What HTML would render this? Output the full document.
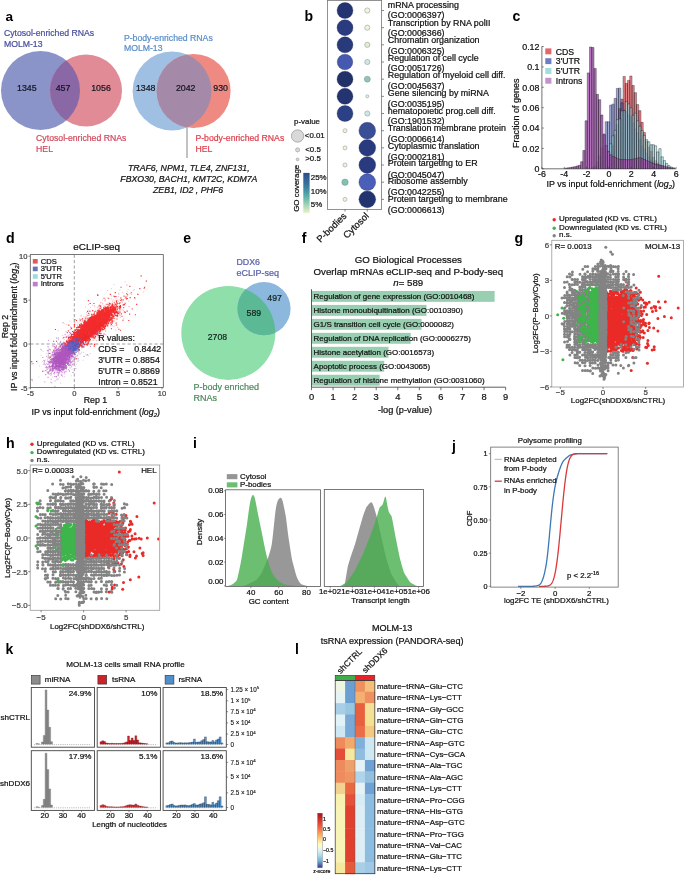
<!DOCTYPE html>
<html><head><meta charset="utf-8"><title>Figure</title>
<style>
html,body{margin:0;padding:0;background:#fff;}
body{width:685px;height:875px;overflow:hidden;}
svg{display:block;}
text{font-family:"Liberation Sans", sans-serif;}
</style></head><body>
<svg width="685" height="875" viewBox="0 0 685 875">
<rect width="685" height="875" fill="#fff"/>
<text x="5.5" y="21.0" font-size="13.6" fill="#000" font-weight="bold">a</text>
<clipPath id="cA1"><circle cx="40.5" cy="90.5" r="39.5"/></clipPath>
<circle cx="40.50" cy="90.50" r="39.50" fill="#8b94c9" />
<circle cx="86.00" cy="90.50" r="36.00" fill="#e08b96" />
<circle cx="86" cy="90.5" r="36" fill="#8a68a6" clip-path="url(#cA1)"/>
<text x="3.9" y="36.1" font-size="8.7" fill="#4a509e" stroke="#4a509e" stroke-width="0.22">Cytosol-enriched RNAs</text>
<text x="3.9" y="46.6" font-size="8.7" fill="#4a509e" stroke="#4a509e" stroke-width="0.22">MOLM-13</text>
<text x="26.8" y="90.8" font-size="8.8" text-anchor="middle" fill="#151520" stroke="#151520" stroke-width="0.22">1345</text>
<text x="63.0" y="90.8" font-size="8.8" text-anchor="middle" fill="#151520" stroke="#151520" stroke-width="0.22">457</text>
<text x="101.0" y="90.8" font-size="8.8" text-anchor="middle" fill="#151520" stroke="#151520" stroke-width="0.22">1056</text>
<text x="36.1" y="141.2" font-size="8.7" fill="#d24b5e" stroke="#d24b5e" stroke-width="0.22">Cytosol-enriched RNAs</text>
<text x="36.1" y="152.2" font-size="8.7" fill="#d24b5e" stroke="#d24b5e" stroke-width="0.22">HEL</text>
<clipPath id="cA2"><circle cx="172" cy="91" r="39.4"/></clipPath>
<circle cx="172.00" cy="91.00" r="39.40" fill="#9fc0e3" />
<circle cx="193.60" cy="91.00" r="37.00" fill="#ee8a82" />
<circle cx="193.6" cy="91" r="37" fill="#a48aa8" clip-path="url(#cA2)"/>
<text x="123.9" y="41.2" font-size="8.7" fill="#5a8fca" stroke="#5a8fca" stroke-width="0.22">P-body-enriched RNAs</text>
<text x="123.9" y="51.2" font-size="8.7" fill="#5a8fca" stroke="#5a8fca" stroke-width="0.22">MOLM-13</text>
<text x="145.7" y="91.3" font-size="8.8" text-anchor="middle" fill="#151520" stroke="#151520" stroke-width="0.22">1348</text>
<text x="185.7" y="91.3" font-size="8.8" text-anchor="middle" fill="#151520" stroke="#151520" stroke-width="0.22">2042</text>
<text x="220.6" y="91.3" font-size="8.8" text-anchor="middle" fill="#151520" stroke="#151520" stroke-width="0.22">930</text>
<text x="195.4" y="140.6" font-size="8.7" fill="#e0424f" stroke="#e0424f" stroke-width="0.22">P-body-enriched RNAs</text>
<text x="195.4" y="151.8" font-size="8.7" fill="#e0424f" stroke="#e0424f" stroke-width="0.22">HEL</text>
<line x1="187.00" y1="127.50" x2="187.00" y2="158.00" stroke="#444" stroke-width="0.65" />
<text x="188.8" y="171.3" font-size="8.75" text-anchor="middle" fill="#111" stroke="#111" stroke-width="0.22" font-style="italic">TRAF6, NPM1, TLE4, ZNF131,</text>
<text x="188.9" y="181.8" font-size="8.75" text-anchor="middle" fill="#111" stroke="#111" stroke-width="0.22" font-style="italic">FBXO30, BACH1, KMT2C, KDM7A</text>
<text x="188.0" y="192.6" font-size="8.75" text-anchor="middle" fill="#111" stroke="#111" stroke-width="0.22" font-style="italic">ZEB1, ID2 , PHF6</text>
<text x="304.5" y="21.0" font-size="14" fill="#000" font-weight="bold">b</text>
<rect x="327.50" y="0.50" width="54.10" height="208.90" fill="none" stroke="#777" stroke-width="0.8" />
<line x1="381.60" y1="10.50" x2="384.00" y2="10.50" stroke="#555" stroke-width="0.7" />
<circle cx="345.00" cy="10.50" r="8.00" fill="#243471" stroke="#1c2550" stroke-width="0.3" />
<circle cx="367.30" cy="10.50" r="2.60" fill="#eff5df" stroke="#8a8a8a" stroke-width="0.5" />
<text x="387.8" y="7.9" font-size="8.9" fill="#111" stroke="#111" stroke-width="0.22">mRNA processing</text>
<text x="387.8" y="18.0" font-size="8.9" fill="#111" stroke="#111" stroke-width="0.22">(GO:0006397)</text>
<line x1="381.60" y1="27.67" x2="384.00" y2="27.67" stroke="#555" stroke-width="0.7" />
<circle cx="345.00" cy="27.67" r="8.00" fill="#2a3c7f" stroke="#1c2550" stroke-width="0.3" />
<circle cx="367.30" cy="27.67" r="2.60" fill="#edf4dc" stroke="#8a8a8a" stroke-width="0.5" />
<text x="387.8" y="25.5" font-size="8.9" fill="#111" stroke="#111" stroke-width="0.22">Transcription by RNA polII</text>
<text x="387.8" y="35.7" font-size="8.9" fill="#111" stroke="#111" stroke-width="0.22">(GO:0006366)</text>
<line x1="381.60" y1="44.84" x2="384.00" y2="44.84" stroke="#555" stroke-width="0.7" />
<circle cx="345.00" cy="44.84" r="8.00" fill="#283a7a" stroke="#1c2550" stroke-width="0.3" />
<circle cx="367.30" cy="44.84" r="2.60" fill="#ddefd2" stroke="#8a8a8a" stroke-width="0.5" />
<text x="387.8" y="43.1" font-size="8.9" fill="#111" stroke="#111" stroke-width="0.22">Chromatin organization</text>
<text x="387.8" y="53.5" font-size="8.9" fill="#111" stroke="#111" stroke-width="0.22">(GO:0006325)</text>
<line x1="381.60" y1="62.01" x2="384.00" y2="62.01" stroke="#555" stroke-width="0.7" />
<circle cx="345.00" cy="62.01" r="7.80" fill="#4659b0" stroke="#1c2550" stroke-width="0.3" />
<circle cx="367.30" cy="62.01" r="2.60" fill="#cde9e2" stroke="#8a8a8a" stroke-width="0.5" />
<text x="387.8" y="60.7" font-size="8.9" fill="#111" stroke="#111" stroke-width="0.22">Regulation of cell cycle</text>
<text x="387.8" y="71.2" font-size="8.9" fill="#111" stroke="#111" stroke-width="0.22">(GO:0051726)</text>
<line x1="381.60" y1="79.18" x2="384.00" y2="79.18" stroke="#555" stroke-width="0.7" />
<circle cx="345.00" cy="79.18" r="8.00" fill="#223168" stroke="#1c2550" stroke-width="0.3" />
<circle cx="367.30" cy="79.18" r="3.00" fill="#8ac7b8" stroke="#8a8a8a" stroke-width="0.5" />
<text x="387.8" y="78.3" font-size="8.9" fill="#111" stroke="#111" stroke-width="0.22">Regulation of myeloid cell diff.</text>
<text x="387.8" y="88.9" font-size="8.9" fill="#111" stroke="#111" stroke-width="0.22">(GO:0045637)</text>
<line x1="381.60" y1="96.35" x2="384.00" y2="96.35" stroke="#555" stroke-width="0.7" />
<circle cx="345.00" cy="96.35" r="8.00" fill="#243470" stroke="#1c2550" stroke-width="0.3" />
<circle cx="367.30" cy="96.35" r="1.50" fill="#e5f0d8" stroke="#8a8a8a" stroke-width="0.5" />
<text x="387.8" y="95.9" font-size="8.9" fill="#111" stroke="#111" stroke-width="0.22">Gene silencing by miRNA</text>
<text x="387.8" y="106.7" font-size="8.9" fill="#111" stroke="#111" stroke-width="0.22">(GO:0035195)</text>
<line x1="381.60" y1="113.52" x2="384.00" y2="113.52" stroke="#555" stroke-width="0.7" />
<circle cx="345.00" cy="113.52" r="8.00" fill="#2c4085" stroke="#1c2550" stroke-width="0.3" />
<circle cx="367.30" cy="113.52" r="2.60" fill="#c9e8e2" stroke="#8a8a8a" stroke-width="0.5" />
<text x="387.8" y="113.5" font-size="8.9" fill="#111" stroke="#111" stroke-width="0.22">hematopoietic prog.cell diff.</text>
<text x="387.8" y="124.4" font-size="8.9" fill="#111" stroke="#111" stroke-width="0.22">(GO:1901532)</text>
<line x1="381.60" y1="130.69" x2="384.00" y2="130.69" stroke="#555" stroke-width="0.7" />
<circle cx="345.00" cy="130.69" r="2.00" fill="#eef5dc" stroke="#8a8a8a" stroke-width="0.5" />
<circle cx="367.30" cy="130.69" r="8.40" fill="#3a4e96" stroke="#1c2550" stroke-width="0.3" />
<text x="387.8" y="131.1" font-size="8.9" fill="#111" stroke="#111" stroke-width="0.22">Translation membrane protein</text>
<text x="387.8" y="142.1" font-size="8.9" fill="#111" stroke="#111" stroke-width="0.22">(GO:0006614)</text>
<line x1="381.60" y1="147.86" x2="384.00" y2="147.86" stroke="#555" stroke-width="0.7" />
<circle cx="345.00" cy="147.86" r="2.00" fill="#eef5dc" stroke="#8a8a8a" stroke-width="0.5" />
<circle cx="367.30" cy="147.86" r="8.40" fill="#293b7e" stroke="#1c2550" stroke-width="0.3" />
<text x="387.8" y="148.7" font-size="8.9" fill="#111" stroke="#111" stroke-width="0.22">Cytoplasmic translation</text>
<text x="387.8" y="159.8" font-size="8.9" fill="#111" stroke="#111" stroke-width="0.22">(GO:0002181)</text>
<line x1="381.60" y1="165.03" x2="384.00" y2="165.03" stroke="#555" stroke-width="0.7" />
<circle cx="345.00" cy="165.03" r="2.00" fill="#eef5dc" stroke="#8a8a8a" stroke-width="0.5" />
<circle cx="367.30" cy="165.03" r="8.40" fill="#293b7e" stroke="#1c2550" stroke-width="0.3" />
<text x="387.8" y="166.3" font-size="8.9" fill="#111" stroke="#111" stroke-width="0.22">Protein targeting to ER</text>
<text x="387.8" y="177.6" font-size="8.9" fill="#111" stroke="#111" stroke-width="0.22">(GO:0045047)</text>
<line x1="381.60" y1="182.20" x2="384.00" y2="182.20" stroke="#555" stroke-width="0.7" />
<circle cx="345.00" cy="182.20" r="3.20" fill="#7cc3b2" stroke="#8a8a8a" stroke-width="0.5" />
<circle cx="367.30" cy="182.20" r="8.40" fill="#4a5fb8" stroke="#1c2550" stroke-width="0.3" />
<text x="387.8" y="183.9" font-size="8.9" fill="#111" stroke="#111" stroke-width="0.22">Ribosome assembly</text>
<text x="387.8" y="195.3" font-size="8.9" fill="#111" stroke="#111" stroke-width="0.22">(GO:0042255)</text>
<line x1="381.60" y1="199.37" x2="384.00" y2="199.37" stroke="#555" stroke-width="0.7" />
<circle cx="345.00" cy="199.37" r="2.00" fill="#eef5dc" stroke="#8a8a8a" stroke-width="0.5" />
<circle cx="367.30" cy="199.37" r="8.40" fill="#233370" stroke="#1c2550" stroke-width="0.3" />
<text x="387.8" y="201.5" font-size="8.9" fill="#111" stroke="#111" stroke-width="0.22">Protein targeting to membrane</text>
<text x="387.8" y="213.0" font-size="8.9" fill="#111" stroke="#111" stroke-width="0.22">(GO:0006613)</text>
<line x1="345.00" y1="209.40" x2="345.00" y2="211.60" stroke="#555" stroke-width="0.7" />
<line x1="367.30" y1="209.40" x2="367.30" y2="211.60" stroke="#555" stroke-width="0.7" />
<text x="0.0" y="0.0" font-size="9.5" text-anchor="end" fill="#111" stroke="#111" stroke-width="0.22" transform="translate(347,216.6) rotate(-45)">P-bodies</text>
<text x="0.0" y="0.0" font-size="9.5" text-anchor="end" fill="#111" stroke="#111" stroke-width="0.22" transform="translate(369.4,216.6) rotate(-45)">Cytosol</text>
<text x="294.1" y="123.6" font-size="7.9" fill="#111" stroke="#111" stroke-width="0.22">p-value</text>
<circle cx="297.60" cy="136.00" r="6.20" fill="#d9d9d9" stroke="#8a8a8a" stroke-width="0.6" />
<circle cx="297.60" cy="149.90" r="2.10" fill="#d9d9d9" stroke="#8a8a8a" stroke-width="0.5" />
<circle cx="297.60" cy="159.40" r="1.40" fill="#d9d9d9" stroke="#8a8a8a" stroke-width="0.5" />
<text x="304.8" y="137.9" font-size="7.9" fill="#111" stroke="#111" stroke-width="0.22">&lt;0.01</text>
<text x="305.2" y="151.9" font-size="7.9" fill="#111" stroke="#111" stroke-width="0.22">&lt;0.5</text>
<text x="305.2" y="161.3" font-size="7.9" fill="#111" stroke="#111" stroke-width="0.22">&gt;0.5</text>
<linearGradient id="gB" x1="0" y1="0" x2="0" y2="1"><stop offset="0" stop-color="#2c4a8c"/><stop offset="0.35" stop-color="#3a7ea0"/><stop offset="0.6" stop-color="#5db5aa"/><stop offset="1" stop-color="#eaf3c6"/></linearGradient>
<rect x="303.30" y="172.90" width="6.30" height="40.20" fill="url(#gB)" />
<text x="310.8" y="180.4" font-size="7.9" fill="#111" stroke="#111" stroke-width="0.22">25%</text>
<text x="310.8" y="193.6" font-size="7.9" fill="#111" stroke="#111" stroke-width="0.22">10%</text>
<text x="310.8" y="206.9" font-size="7.9" fill="#111" stroke="#111" stroke-width="0.22">5%</text>
<text x="0.0" y="0.0" font-size="7.9" text-anchor="middle" fill="#111" stroke="#111" stroke-width="0.22" transform="translate(298.5,188.3) rotate(-90)">GO coverage</text>
<text x="512.5" y="20.7" font-size="14" fill="#000" font-weight="bold">c</text>
<path d="M602.94 168.80V167.04H605.18V168.8M605.18 168.80V165.51H607.41V168.8M607.41 168.80V160.10H609.65V168.8M609.65 168.80V154.96H611.89V168.8M611.89 168.80V145.79H614.12V168.8M614.12 168.80V134.45H616.36V168.8M616.36 168.80V124.46H618.59V168.8M618.59 168.80V108.63H620.83V168.8M620.83 168.80V99.18H623.07V168.8M623.07 168.80V76.44H625.30V168.8M625.30 168.80V83.46H627.54V168.8M627.54 168.80V80.39H629.77V168.8M629.77 168.80V76.11H632.01V168.8M632.01 168.80V85.49H634.25V168.8M634.25 168.80V92.67H636.48V168.8M636.48 168.80V104.60H638.72V168.8M638.72 168.80V110.64H640.95V168.8M640.95 168.80V122.37H643.19V168.8M643.19 168.80V132.47H645.43V168.8M645.43 168.80V141.30H647.66V168.8M647.66 168.80V147.18H649.90V168.8M649.90 168.80V151.49H652.13V168.8M652.13 168.80V157.35H654.37V168.8M654.37 168.80V160.73H656.61V168.8M656.61 168.80V163.05H658.84V168.8M658.84 168.80V165.01H661.08V168.8M661.08 168.80V166.12H663.31V168.8M663.31 168.80V167.55H665.55V168.8M665.55 168.80V168.19H667.79V168.8" fill="#dd2a2e" fill-opacity="0.58" stroke="#1a1420" stroke-width="0.45" stroke-opacity="0.85"/>
<path d="M591.76 168.80V167.53H594.00V168.8M594.00 168.80V166.15H596.23V168.8M596.23 168.80V162.02H598.47V168.8M598.47 168.80V155.82H600.71V168.8M600.71 168.80V147.95H602.94V168.8M602.94 168.80V135.05H605.18V168.8M605.18 168.80V121.72H607.41V168.8M607.41 168.80V121.81H609.65V168.8M609.65 168.80V105.16H611.89V168.8M611.89 168.80V104.13H614.12V168.8M614.12 168.80V98.43H616.36V168.8M616.36 168.80V88.44H618.59V168.8M618.59 168.80V88.14H620.83V168.8M620.83 168.80V102.74H623.07V168.8M623.07 168.80V110.29H625.30V168.8M625.30 168.80V111.68H627.54V168.8M627.54 168.80V114.91H629.77V168.8M629.77 168.80V117.14H632.01V168.8M632.01 168.80V123.39H634.25V168.8M634.25 168.80V129.16H636.48V168.8M636.48 168.80V132.68H638.72V168.8M638.72 168.80V139.90H640.95V168.8M640.95 168.80V146.13H643.19V168.8M643.19 168.80V149.20H645.43V168.8M645.43 168.80V153.37H647.66V168.8M647.66 168.80V157.08H649.90V168.8M649.90 168.80V160.31H652.13V168.8M652.13 168.80V161.81H654.37V168.8M654.37 168.80V163.94H656.61V168.8M656.61 168.80V164.40H658.84V168.8M658.84 168.80V165.48H661.08V168.8M661.08 168.80V166.71H663.31V168.8M663.31 168.80V167.57H665.55V168.8M665.55 168.80V168.13H667.79V168.8" fill="#3a50b0" fill-opacity="0.48" stroke="#1a1420" stroke-width="0.45" stroke-opacity="0.85"/>
<path d="M596.23 168.80V167.68H598.47V168.8M598.47 168.80V166.55H600.71V168.8M600.71 168.80V165.13H602.94V168.8M602.94 168.80V161.81H605.18V168.8M605.18 168.80V158.14H607.41V168.8M607.41 168.80V152.04H609.65V168.8M609.65 168.80V143.77H611.89V168.8M611.89 168.80V135.76H614.12V168.8M614.12 168.80V130.36H616.36V168.8M616.36 168.80V119.67H618.59V168.8M618.59 168.80V118.92H620.83V168.8M620.83 168.80V110.86H623.07V168.8M623.07 168.80V110.55H625.30V168.8M625.30 168.80V101.64H627.54V168.8M627.54 168.80V103.91H629.77V168.8M629.77 168.80V107.77H632.01V168.8M632.01 168.80V115.28H634.25V168.8M634.25 168.80V113.26H636.48V168.8M636.48 168.80V120.79H638.72V168.8M638.72 168.80V126.18H640.95V168.8M640.95 168.80V130.52H643.19V168.8M643.19 168.80V135.39H645.43V168.8M645.43 168.80V139.61H647.66V168.8M647.66 168.80V141.77H649.90V168.8M649.90 168.80V144.80H652.13V168.8M652.13 168.80V144.66H654.37V168.8M654.37 168.80V145.77H656.61V168.8M656.61 168.80V151.89H658.84V168.8M658.84 168.80V148.68H661.08V168.8M661.08 168.80V156.80H663.31V168.8M663.31 168.80V160.60H665.55V168.8M665.55 168.80V163.57H667.79V168.8M667.79 168.80V165.58H670.02V168.8M670.02 168.80V167.01H672.26V168.8M672.26 168.80V167.77H674.49V168.8" fill="#9ce2e2" fill-opacity="0.62" stroke="#1a1420" stroke-width="0.45" stroke-opacity="0.85"/>
<path d="M564.93 168.80V168.14H567.17V168.8M567.17 168.80V167.84H569.40V168.8M569.40 168.80V167.46H571.64V168.8M571.64 168.80V167.04H573.87V168.8M573.87 168.80V166.64H576.11V168.8M576.11 168.80V165.96H578.35V168.8M578.35 168.80V165.25H580.58V168.8M580.58 168.80V161.66H582.82V168.8M582.82 168.80V150.47H585.05V168.8M585.05 168.80V120.75H587.29V168.8M587.29 168.80V72.88H589.53V168.8M589.53 168.80V47.03H591.76V168.8M591.76 168.80V47.48H594.00V168.8M594.00 168.80V68.45H596.23V168.8M596.23 168.80V94.32H598.47V168.8M598.47 168.80V99.65H600.71V168.8M600.71 168.80V114.99H602.94V168.8M602.94 168.80V134.04H605.18V168.8M605.18 168.80V145.68H607.41V168.8M607.41 168.80V151.35H609.65V168.8M609.65 168.80V154.78H611.89V168.8M611.89 168.80V156.47H614.12V168.8M614.12 168.80V157.45H616.36V168.8M616.36 168.80V158.46H618.59V168.8M618.59 168.80V159.42H620.83V168.8M620.83 168.80V159.59H623.07V168.8M623.07 168.80V159.52H625.30V168.8M625.30 168.80V159.64H627.54V168.8M627.54 168.80V159.59H629.77V168.8M629.77 168.80V159.62H632.01V168.8M632.01 168.80V159.12H634.25V168.8M634.25 168.80V158.67H636.48V168.8M636.48 168.80V158.12H638.72V168.8M638.72 168.80V157.76H640.95V168.8M640.95 168.80V158.42H643.19V168.8M643.19 168.80V159.47H645.43V168.8M645.43 168.80V160.37H647.66V168.8M647.66 168.80V161.43H649.90V168.8M649.90 168.80V162.49H652.13V168.8M652.13 168.80V163.52H654.37V168.8M654.37 168.80V164.10H656.61V168.8M656.61 168.80V164.64H658.84V168.8M658.84 168.80V165.15H661.08V168.8M661.08 168.80V165.63H663.31V168.8M663.31 168.80V166.17H665.55V168.8M665.55 168.80V166.79H667.79V168.8M667.79 168.80V167.38H670.02V168.8M670.02 168.80V167.91H672.26V168.8M672.26 168.80V168.31H674.49V168.8" fill="#a85cb2" fill-opacity="0.85" stroke="#1a1420" stroke-width="0.45" stroke-opacity="0.85"/>
<line x1="541.90" y1="46.40" x2="541.90" y2="168.80" stroke="#333" stroke-width="0.7" />
<line x1="541.90" y1="168.80" x2="676.20" y2="168.80" stroke="#333" stroke-width="0.7" />
<line x1="541.90" y1="168.80" x2="543.80" y2="168.80" stroke="#333" stroke-width="0.6" />
<text x="539.5" y="172.0" font-size="8.9" text-anchor="end" fill="#111" stroke="#111" stroke-width="0.22">0</text>
<line x1="541.90" y1="148.42" x2="543.80" y2="148.42" stroke="#333" stroke-width="0.6" />
<text x="539.5" y="151.6" font-size="8.9" text-anchor="end" fill="#111" stroke="#111" stroke-width="0.22">0.02</text>
<line x1="541.90" y1="128.04" x2="543.80" y2="128.04" stroke="#333" stroke-width="0.6" />
<text x="539.5" y="131.2" font-size="8.9" text-anchor="end" fill="#111" stroke="#111" stroke-width="0.22">0.04</text>
<line x1="541.90" y1="107.66" x2="543.80" y2="107.66" stroke="#333" stroke-width="0.6" />
<text x="539.5" y="110.9" font-size="8.9" text-anchor="end" fill="#111" stroke="#111" stroke-width="0.22">0.06</text>
<line x1="541.90" y1="87.28" x2="543.80" y2="87.28" stroke="#333" stroke-width="0.6" />
<text x="539.5" y="90.5" font-size="8.9" text-anchor="end" fill="#111" stroke="#111" stroke-width="0.22">0.08</text>
<line x1="541.90" y1="66.90" x2="543.80" y2="66.90" stroke="#333" stroke-width="0.6" />
<text x="539.5" y="70.1" font-size="8.9" text-anchor="end" fill="#111" stroke="#111" stroke-width="0.22">0.1</text>
<line x1="541.90" y1="46.52" x2="543.80" y2="46.52" stroke="#333" stroke-width="0.6" />
<text x="539.5" y="49.7" font-size="8.9" text-anchor="end" fill="#111" stroke="#111" stroke-width="0.22">0.12</text>
<line x1="541.90" y1="168.80" x2="541.90" y2="166.90" stroke="#333" stroke-width="0.6" />
<text x="541.9" y="177.0" font-size="8.9" text-anchor="middle" fill="#111" stroke="#111" stroke-width="0.22">-6</text>
<line x1="564.26" y1="168.80" x2="564.26" y2="166.90" stroke="#333" stroke-width="0.6" />
<text x="564.3" y="177.0" font-size="8.9" text-anchor="middle" fill="#111" stroke="#111" stroke-width="0.22">-4</text>
<line x1="586.62" y1="168.80" x2="586.62" y2="166.90" stroke="#333" stroke-width="0.6" />
<text x="586.6" y="177.0" font-size="8.9" text-anchor="middle" fill="#111" stroke="#111" stroke-width="0.22">-2</text>
<line x1="608.98" y1="168.80" x2="608.98" y2="166.90" stroke="#333" stroke-width="0.6" />
<text x="609.0" y="177.0" font-size="8.9" text-anchor="middle" fill="#111" stroke="#111" stroke-width="0.22">0</text>
<line x1="631.34" y1="168.80" x2="631.34" y2="166.90" stroke="#333" stroke-width="0.6" />
<text x="631.3" y="177.0" font-size="8.9" text-anchor="middle" fill="#111" stroke="#111" stroke-width="0.22">2</text>
<line x1="653.70" y1="168.80" x2="653.70" y2="166.90" stroke="#333" stroke-width="0.6" />
<text x="653.7" y="177.0" font-size="8.9" text-anchor="middle" fill="#111" stroke="#111" stroke-width="0.22">4</text>
<line x1="676.06" y1="168.80" x2="676.06" y2="166.90" stroke="#333" stroke-width="0.6" />
<text x="676.1" y="177.0" font-size="8.9" text-anchor="middle" fill="#111" stroke="#111" stroke-width="0.22">6</text>
<text x="610.8" y="186.5" font-size="8.9" text-anchor="middle" fill="#111" stroke="#111" stroke-width="0.22">IP vs input fold-enrichment (<tspan font-style="italic">log</tspan><tspan font-size="6" dy="2" font-style="italic">2</tspan><tspan dy="-2">)</tspan></text>
<text x="0.0" y="0.0" font-size="9" text-anchor="middle" fill="#111" stroke="#111" stroke-width="0.22" transform="translate(518.8,113.2) rotate(-90)">Fraction of genes</text>
<rect x="545.30" y="48.40" width="6.10" height="5.90" fill="#e2666b" />
<text x="555.8" y="54.7" font-size="8.7" fill="#111" stroke="#111" stroke-width="0.22">CDS</text>
<rect x="545.30" y="58.20" width="6.10" height="5.90" fill="#6b7ec4" />
<text x="555.8" y="64.4" font-size="8.7" fill="#111" stroke="#111" stroke-width="0.22">3'UTR</text>
<rect x="545.30" y="68.00" width="6.10" height="5.90" fill="#9fdfdb" />
<text x="555.8" y="74.0" font-size="8.7" fill="#111" stroke="#111" stroke-width="0.22">5'UTR</text>
<rect x="545.30" y="77.80" width="6.10" height="5.90" fill="#c590ce" />
<text x="555.8" y="83.7" font-size="8.7" fill="#111" stroke="#111" stroke-width="0.22">Introns</text>
<text x="6.0" y="243.2" font-size="14.2" fill="#000" font-weight="bold">d</text>
<text x="96.7" y="250.3" font-size="9.9" text-anchor="middle" fill="#111" stroke="#111" stroke-width="0.22">eCLIP-seq</text>
<clipPath id="cD"><rect x="30.3" y="254.6" width="133" height="132.8"/></clipPath>
<line x1="74.30" y1="254.60" x2="74.30" y2="387.40" stroke="#888" stroke-width="0.8" stroke-dasharray="3.2,2.2"/>
<line x1="30.30" y1="344.00" x2="163.30" y2="344.00" stroke="#888" stroke-width="0.8" stroke-dasharray="3.2,2.2"/>
<g clip-path="url(#cD)">
<path fill="none" stroke="#5a6cc8" stroke-width="0.9" stroke-opacity="0.65" d="M82.3 333.8h0.9M87.2 333.6h0.9M82.6 339.9h0.9M77.4 346.3h0.9M81.9 342.8h0.9M72.1 342h0.9M84.9 335.7h0.9M98.6 325.9h0.9M81 342.4h0.9M81.2 345.3h0.9M90.3 333.4h0.9M87.1 332.3h0.9M87.1 337.4h0.9M76.3 345.8h0.9M85.4 338.2h0.9M92 331.3h0.9M74.8 352.5h0.9M81.1 341.8h0.9M67.8 355.5h0.9M70.5 346.2h0.9M68.2 354.8h0.9M81.7 338h0.9M69.5 344.6h0.9M88.6 335.9h0.9M88 337.5h0.9M83 338.5h0.9M59.9 358.7h0.9M81.8 344.3h0.9M83.9 336.7h0.9M82.4 331.7h0.9M70.3 351h0.9M80.8 341.9h0.9M77.5 348.2h0.9M76.5 343.5h0.9M98.4 331.4h0.9M79.3 346.9h0.9M82.4 334.7h0.9M95.9 332.1h0.9M77.2 339.8h0.9M81.1 334.8h0.9M85.9 335.9h0.9M84.8 335.6h0.9M69.1 343.2h0.9M86.4 337.2h0.9M100.1 327.3h0.9M72.3 353.7h0.9M93.8 330h0.9M83.5 332.9h0.9M76.9 340.6h0.9M107.3 322.7h0.9M94.6 333h0.9M74.2 348.8h0.9M85.4 336.1h0.9M91.5 333h0.9M82.9 338.5h0.9M91.5 330.9h0.9M85.2 338.7h0.9M92.1 331.9h0.9M99.3 324.8h0.9M78.6 343.3h0.9M86.3 334.5h0.9M76.9 336.9h0.9M85.4 334.9h0.9M73.2 347.3h0.9M82.7 346.3h0.9M82.5 338.2h0.9M98.1 334.4h0.9M99.6 331h0.9M70.2 346.6h0.9M75.8 342.5h0.9M92.1 332.3h0.9M68.5 358.3h0.9M81.3 342.2h0.9M85.6 339.8h0.9M96.7 325.3h0.9M87.7 326.3h0.9M81.5 339.7h0.9M83.1 342.4h0.9M85 342.3h0.9M100.7 324.6h0.9M81.3 341.5h0.9M84.5 342.7h0.9M88.6 334.2h0.9M86.3 341.1h0.9M81.1 336.5h0.9M71.9 344.3h0.9M83 335h0.9M81.7 342.3h0.9M96 326.3h0.9M92.1 332.2h0.9M85.8 338.5h0.9M92.7 332.6h0.9M84.4 343.4h0.9M98.7 331.9h0.9M83.6 335.6h0.9M91.5 332.9h0.9M71.8 347.8h0.9M86.8 332.1h0.9M71.7 355.8h0.9M66.3 356.5h0.9M81.8 339.6h0.9M75.4 344.1h0.9M87.6 336.9h0.9M105.8 316h0.9M76.5 344h0.9M81.4 345.6h0.9M89.2 337.9h0.9M88.6 331.3h0.9M82.6 337.8h0.9M86.9 343.6h0.9M89.7 328.3h0.9M89.3 331.6h0.9M72.2 343h0.9M85.2 339h0.9M86.2 337.8h0.9M76.8 349h0.9M82.9 329.2h0.9M77 345.1h0.9M91.9 325.4h0.9M88.5 337.3h0.9M85.8 336.3h0.9M82.6 346.4h0.9M84.8 339.3h0.9M63.2 352h0.9M76.3 349.9h0.9M86.8 331.8h0.9M63.1 354.6h0.9M95.8 332.7h0.9M68.6 353.4h0.9M93.8 332.1h0.9M76.8 344.7h0.9M94.2 332.1h0.9M88.2 338.3h0.9M70.4 351.1h0.9M99.9 329.3h0.9M102.3 328.2h0.9M84.7 338.1h0.9M80.7 337.7h0.9M86.7 342.4h0.9M75.4 345.7h0.9M97.6 329.6h0.9M81.7 344.3h0.9M83.1 335.8h0.9M78.3 345.4h0.9M76 339.2h0.9M73.9 350.1h0.9M97.2 325.9h0.9M84.1 339.3h0.9M96.5 331h0.9M84.2 335.9h0.9M78.6 343.7h0.9M80.8 338.8h0.9M79.7 342.3h0.9M87.5 339.9h0.9M81.7 340.8h0.9M82.1 339.8h0.9M69.5 346.8h0.9M78.9 346.4h0.9M102 323.5h0.9M81.9 347.2h0.9M73.3 344.8h0.9M90.8 337.1h0.9M103 329.8h0.9M70.7 349.9h0.9M81 336.6h0.9M81.9 346.4h0.9M69.7 354.9h0.9M94.1 332.9h0.9M87.2 340.3h0.9M85.2 335.9h0.9M79.3 345.7h0.9M91.3 335.3h0.9M78.7 340.6h0.9M85.3 340.4h0.9M73.2 345.8h0.9M74.9 350h0.9M101.1 329h0.9M83.8 346h0.9M84.5 330.6h0.9M85.5 338.5h0.9M80.3 340.6h0.9M80.2 341.8h0.9M91.3 331.7h0.9M82.1 339.9h0.9M80 334.2h0.9M87.5 339.7h0.9M100.2 331.1h0.9M94.1 334h0.9M91.7 337.3h0.9M78.1 340.4h0.9M69.7 347.2h0.9M96.7 331.6h0.9M97.7 332.5h0.9M84.5 339.4h0.9M88 329.6h0.9M98.7 337.4h0.9M92.6 329.1h0.9M96.7 332.1h0.9M78.6 338.8h0.9M102.6 327.1h0.9M73.3 348.6h0.9M96.9 333.7h0.9M92.2 335.5h0.9M91.3 326.8h0.9M102.6 319.6h0.9M101 325.8h0.9M75.4 349.2h0.9M72 356.2h0.9M94.3 331.4h0.9M75.1 346.1h0.9M85.3 337.7h0.9M93.9 330.5h0.9M70.9 354h0.9M64.1 355.4h0.9M87.9 335.3h0.9M83.2 334h0.9M79.1 335.1h0.9M85.9 337.4h0.9M78.1 346.5h0.9M70.1 350.4h0.9M84.8 340.3h0.9M76.9 347.4h0.9M68.8 351.5h0.9M92.4 335.6h0.9M83.4 336.5h0.9M89.6 334.2h0.9M74.8 345.2h0.9M79 343.4h0.9M76.6 347.6h0.9M78.2 347.2h0.9M87.7 336.3h0.9M78.4 345.3h0.9M88.4 333.9h0.9M88.7 334.5h0.9M108.3 323.5h0.9M71.1 349h0.9M96.8 333.1h0.9M85.6 339.6h0.9M85.7 338.2h0.9M74.7 354.6h0.9M80.4 341.1h0.9M92.4 330.8h0.9M84.7 338.5h0.9M86.9 337.7h0.9M83.1 340.8h0.9M98.8 329.9h0.9M85.6 338.2h0.9M64.2 357.3h0.9M78.1 343.1h0.9M67.8 356.9h0.9M52 364.4h0.9M79.6 341.6h0.9M99 326.5h0.9M86.6 338.1h0.9M72.3 346h0.9M79.1 349.3h0.9M95.7 326.8h0.9M86.4 335.5h0.9M85.2 336.3h0.9M84 337h0.9M86.9 338.6h0.9M93.9 331.2h0.9M89.6 331.2h0.9M86.6 334.6h0.9M74.3 345.8h0.9M93.4 336.7h0.9M77.3 341.9h0.9M94 325.4h0.9M70.5 345.8h0.9M83.4 338h0.9M88.3 341.1h0.9M70 346.4h0.9M102.9 323.2h0.9M105 331h0.9M79.8 340.5h0.9M96 334.4h0.9M91.6 337.3h0.9M60.2 361h0.9M85.3 332.3h0.9M85.4 338.8h0.9M85.6 336.1h0.9M71 342.4h0.9M79.4 335.9h0.9M83.7 339.2h0.9M97.7 327.9h0.9M91.1 337.6h0.9M86.6 339.1h0.9M99.8 323.5h0.9M78.9 341.2h0.9M81.1 340.5h0.9M65 350.5h0.9M102.6 325.9h0.9M95.1 329.4h0.9M93 327.9h0.9M90.8 330.4h0.9M84.2 334h0.9M86.6 334.7h0.9M83.3 340.3h0.9M82.5 338.3h0.9M87.8 339.3h0.9"/>
<path fill="none" stroke="#e86070" stroke-width="0.9" stroke-opacity="0.5" d="M69.9 345.5h0.9M102.8 315h0.9M96.6 327.3h0.9M99.7 319.8h0.9M61.9 338.3h0.9M97.4 337.6h0.9M84.7 330.6h0.9M86.2 340.2h0.9M60.2 353.3h0.9M85.9 323.9h0.9M108.6 312h0.9M97 314.6h0.9M93.4 340.2h0.9M89.5 318.2h0.9M109.1 316.7h0.9M50.6 357.9h0.9M92.2 324.5h0.9M115.2 330h0.9M108.7 318.5h0.9M119.4 299.7h0.9M104.6 300.4h0.9M98.2 318.1h0.9M98.2 318.4h0.9M113.3 320.5h0.9M80.1 323.6h0.9M85.8 314.9h0.9M108.3 311.4h0.9M125.3 298.5h0.9M100.1 334.4h0.9M90 319.8h0.9M85.2 307h0.9M111.7 301.9h0.9M88.5 317.6h0.9M114.4 301.1h0.9M85 342h0.9M85.8 319.3h0.9M97.7 332.9h0.9M107.7 314.3h0.9M109.3 308.2h0.9M68.1 339.6h0.9M79.2 334h0.9M98.1 317.2h0.9M88.6 336.7h0.9M78.1 351.1h0.9M110.2 309.5h0.9M105.6 320.8h0.9M108.4 324h0.9M93.7 336.8h0.9M112.6 312.5h0.9M100 336.7h0.9M117.7 316h0.9M88.9 344.7h0.9M81.2 334.4h0.9M96.1 318.9h0.9M74.9 322.8h0.9M112.1 322.5h0.9M102 323.8h0.9M76.8 331.5h0.9M97 324h0.9M91.2 330.3h0.9M100.6 302.5h0.9M87 334.1h0.9M93.7 335.8h0.9M119.2 314.3h0.9M126.9 291.8h0.9M123.4 295.2h0.9M102.3 330.1h0.9M102.8 326h0.9M115.4 300.3h0.9M90.3 322.5h0.9M83.3 340.4h0.9M93.7 319h0.9M99 314.7h0.9M90.8 344.3h0.9M71.7 347.7h0.9M71.4 341.1h0.9M107.6 317.8h0.9M93.6 345.2h0.9M94.1 327.2h0.9M94.6 317h0.9M96.8 307.2h0.9M100.2 339.8h0.9M90.1 303.4h0.9M86.8 341.7h0.9M85 323.7h0.9M73.7 331.2h0.9M107.2 303.4h0.9M93.8 323.4h0.9M89.3 339.9h0.9M86.7 325.3h0.9M94.9 330.5h0.9M117.2 327.5h0.9M57.7 330.6h0.9M76 334.1h0.9M80.7 319.4h0.9M137.1 294.3h0.9M102.3 303.2h0.9M85.8 317h0.9M98.3 306.1h0.9M125.8 296.1h0.9M97 333.2h0.9M90.2 329.7h0.9M123.4 318.9h0.9M110.3 326h0.9M104.5 314.3h0.9M91.9 335.8h0.9M124.5 298.7h0.9M121 301.3h0.9M94.3 306.1h0.9M99.1 307.8h0.9M64.7 351.4h0.9M98.8 308.9h0.9M95.6 330.5h0.9M103 319.7h0.9M100.9 309.8h0.9M95.6 334.9h0.9M70.9 348.1h0.9M106.6 325.7h0.9M83.2 333.2h0.9M82.3 319.7h0.9M89.4 335.9h0.9M88.7 327.2h0.9M64.5 359.7h0.9M118.5 313.4h0.9M104.5 326.8h0.9M104.7 301.2h0.9M113.5 284.7h0.9M93 321h0.9M71.2 351.9h0.9M78.2 332.2h0.9M78.4 341.9h0.9M83.6 326.4h0.9M94.7 321.2h0.9M63.6 349.4h0.9M97.2 316h0.9M75 347.2h0.9M101.3 321.9h0.9M101.3 334.3h0.9M92.3 330.4h0.9M100.5 332.2h0.9M87.5 331.9h0.9M90.2 337.1h0.9M69.2 346h0.9M92.3 321.8h0.9M129.2 306.3h0.9M128.4 301.3h0.9M119.1 310.9h0.9M102 310.4h0.9M76.7 324h0.9M112.5 299.9h0.9M95.7 326.4h0.9M87 317.1h0.9M97.6 335.6h0.9M89.2 314.7h0.9M91.5 333.1h0.9M106.7 339.5h0.9M66.2 324.6h0.9M81.9 320.6h0.9M133.9 298.4h0.9M93.1 323.9h0.9M92.3 328.2h0.9M102.4 316.1h0.9M112.5 322h0.9M81.4 342.4h0.9M89.6 324.2h0.9M107.6 310.2h0.9M93.3 313.9h0.9M96.4 321.7h0.9M107.2 290.5h0.9M88.1 336.7h0.9M94.9 321.3h0.9M96.1 340.8h0.9M123.1 310.2h0.9M59.4 343.2h0.9M89.3 337.8h0.9M84.5 328.2h0.9M105.1 315.2h0.9M108.9 321.1h0.9M117.4 306.8h0.9M73.7 347.8h0.9M108.4 316.2h0.9M87 323.8h0.9M81.9 329.4h0.9M105.7 319.5h0.9M85.4 341h0.9M62.4 350.4h0.9M89.8 329.3h0.9M67.6 338.7h0.9M72.7 318.7h0.9M96.5 314.4h0.9M99.7 319.8h0.9M119.5 303.3h0.9M95.9 331h0.9M76.2 349.3h0.9M88.3 339.3h0.9M83 338.3h0.9M78.6 342.5h0.9M97.9 314h0.9M87.1 334.6h0.9M66.2 351.6h0.9M111.1 320.7h0.9M85.5 316.7h0.9M97.9 316.3h0.9M88.1 313h0.9M100.6 311.1h0.9M88.5 315.5h0.9M114.6 308.4h0.9M97.9 314.3h0.9M88.1 304.4h0.9M106.8 324.7h0.9M67.5 337.3h0.9M84.5 317.2h0.9M89 325.1h0.9M94.4 317h0.9M68.5 335.5h0.9M122.5 305.2h0.9M94.5 320.2h0.9M80.9 344.8h0.9M72.5 350.5h0.9M93.6 330.9h0.9M94.2 325.8h0.9M83.4 332.7h0.9M94.1 320.1h0.9M92.1 340h0.9M93.7 305.8h0.9M78.5 327.4h0.9M90.8 320.4h0.9M111.3 312.5h0.9M133.9 289.5h0.9M77.2 334.5h0.9M86 327.9h0.9M90.4 344.1h0.9M103.1 309.2h0.9M63.7 323.7h0.9M96.5 340.2h0.9M89.7 318.9h0.9M78.5 335.1h0.9M81.1 337.3h0.9M81.2 322.9h0.9M69.1 358.5h0.9M72.4 342.5h0.9M81.7 321.5h0.9M98.1 322.9h0.9M94.1 328.6h0.9M67.8 347.2h0.9M90.1 332.5h0.9M99.4 304.7h0.9M107.6 321.2h0.9M89.5 320.2h0.9M87.6 342.5h0.9M101.1 311.7h0.9M86.7 332.2h0.9M89.8 353.5h0.9M82.9 334.7h0.9M121.8 310h0.9M100.3 323.2h0.9M104.9 299.9h0.9M93.1 336.3h0.9M114.1 316.8h0.9M78.9 324.2h0.9M92 325.3h0.9M124.7 281.9h0.9M104.8 311.7h0.9M91.6 335.3h0.9M93.9 325.3h0.9M93.9 312.8h0.9M108.5 302.4h0.9M87.6 330.4h0.9M68.6 347.1h0.9M91.2 328.2h0.9M97.9 326.7h0.9M87.2 312h0.9M114.6 306h0.9M105.1 325.6h0.9M109.4 315.4h0.9M74.9 334.8h0.9M104.8 308.6h0.9M127 296.2h0.9M109.7 316.9h0.9M98.6 320.3h0.9M105.3 330.7h0.9M128 306.6h0.9M77.1 332h0.9M95.5 327.9h0.9M100 315.6h0.9M100.2 307.2h0.9M85.2 326.2h0.9M99.4 319.5h0.9M80.5 316.1h0.9M93.5 318.6h0.9M94.6 327.5h0.9M74.3 335.3h0.9M92.6 321.9h0.9M112.2 316.5h0.9M80.1 336.5h0.9M92.1 327.9h0.9M114.4 325.4h0.9M79.7 339.2h0.9M99 322.9h0.9M81.1 340.5h0.9M119.8 317.3h0.9M131.3 294.5h0.9M125.4 296.7h0.9M91.1 326.2h0.9M111.5 319.9h0.9M93.7 318.8h0.9M102.3 328.9h0.9M119.2 304.1h0.9M68.8 334.6h0.9M114.1 313.3h0.9M96.6 327.2h0.9M110.8 299h0.9M99.6 323.3h0.9M86.2 334.5h0.9M98 318.9h0.9M100.9 308.2h0.9M106.1 335.1h0.9M106.2 321.7h0.9M91.9 336.3h0.9M68.1 358.5h0.9M112.5 316.2h0.9M109.4 318.9h0.9M95.7 320.2h0.9M100.2 327.6h0.9M109.8 309.1h0.9M86.1 327.8h0.9M87.8 337.3h0.9M91.4 325.7h0.9M104.8 299h0.9M72.6 340.8h0.9M115.8 311.1h0.9M85.6 332.8h0.9M82.8 343.6h0.9M112.5 305.3h0.9M89.3 320.5h0.9M79.3 345.7h0.9M90.5 329.8h0.9M103.5 305.3h0.9M115.2 310.4h0.9M87.6 328.6h0.9M105.9 323.8h0.9M109.5 318.5h0.9M87.7 335.2h0.9M90 307.6h0.9M96.3 326.4h0.9M89.4 333.8h0.9M90.2 333.4h0.9M96.7 323.8h0.9M92.3 320h0.9M85.5 330.5h0.9M78.9 318.8h0.9M110.6 307.6h0.9M91.3 313.4h0.9M106.9 310.4h0.9M110.1 304.4h0.9M110.5 323.4h0.9M129.5 293.8h0.9M82.9 335.3h0.9M108.2 314.2h0.9M100.2 339.3h0.9M118.6 294.1h0.9M122.2 302.8h0.9M67.7 352.5h0.9M81.6 338.2h0.9M105.9 316h0.9M104.8 311h0.9M111.9 320.5h0.9M98.2 329.6h0.9M100.4 316.1h0.9M104 314.2h0.9M95.5 326.8h0.9M113 312.9h0.9M64.9 358.7h0.9M104.7 315.5h0.9M73.9 331.6h0.9M114.2 316.4h0.9M84.3 318.9h0.9M77.6 331.4h0.9M102.6 321.1h0.9M77.6 332h0.9M88.1 343.8h0.9M79.5 354h0.9M100.6 330.9h0.9M104.3 319.2h0.9M111.8 311.7h0.9M95.2 328.4h0.9M110.1 309.1h0.9M105.2 334.7h0.9M91.2 322.5h0.9M110.2 323.5h0.9M113.9 313h0.9M91.7 330.6h0.9M96.7 333.1h0.9M98.9 333.1h0.9M100.9 327.9h0.9M81.5 336h0.9M107.5 306.8h0.9M86.2 326.3h0.9M106.5 322.7h0.9M86.2 339.1h0.9M104.6 323.8h0.9M98.7 316.2h0.9M98.2 340.1h0.9M119.4 290h0.9M102.7 321.3h0.9M125.2 303.9h0.9M107.7 309.1h0.9M80.1 327.4h0.9M87.6 327.2h0.9M96.5 312.4h0.9M95.2 322.3h0.9M89.9 316.7h0.9M84.8 321.2h0.9M68.3 348.8h0.9M84.8 319.3h0.9M60.9 352.9h0.9M100.1 318.3h0.9M88.3 338.4h0.9M85.5 335h0.9M88 322.7h0.9M105.1 327h0.9M70.4 339.8h0.9M67 345.6h0.9M77.6 336.8h0.9M74.7 362.9h0.9M80.9 337.4h0.9M115.7 298.9h0.9M82.6 342.1h0.9M104.2 314.5h0.9M85.5 354.8h0.9M96.2 316.3h0.9M93.2 331.6h0.9M89.9 320.1h0.9M112.1 325.7h0.9M118 296.5h0.9M98.9 322.4h0.9M93 317.9h0.9M84.7 341.8h0.9M106.5 319.2h0.9M80.7 315.4h0.9M111.3 316.9h0.9M97.6 328.1h0.9M122.3 301.7h0.9M70 355.9h0.9M84.9 321.6h0.9M100 302.9h0.9M92.9 332.2h0.9M91.1 343.5h0.9M85.4 321.3h0.9M69 336.7h0.9M92.8 317.9h0.9M126.1 284.8h0.9M116.1 312.9h0.9M79.1 339.7h0.9M88.3 342.8h0.9M95.5 336.7h0.9M105.3 305.1h0.9M85.7 338.4h0.9M73.8 321.2h0.9M107.8 311.5h0.9M110.9 315.5h0.9M85.5 324.7h0.9M69.7 329.5h0.9M69.4 342.2h0.9M90.1 339.6h0.9M59.7 352h0.9M99.7 306.5h0.9M87.8 334.9h0.9M105.7 321.3h0.9M118.1 293.3h0.9M111.8 307.2h0.9M82.8 345.1h0.9M109.7 314h0.9M115.8 312.1h0.9M82.3 332.3h0.9M80.1 336.1h0.9M87.9 319.3h0.9M67.6 341.7h0.9M124.3 312.1h0.9M56.9 354.2h0.9M74.1 334.1h0.9M88.7 325.1h0.9M86.7 321.5h0.9M100 324.4h0.9M103.4 325.1h0.9M87.3 321.8h0.9M116.9 314h0.9M73 364h0.9M90.1 318.5h0.9M87.6 337.2h0.9M98.3 323.6h0.9M104.8 328.1h0.9M87.5 343h0.9M90.7 338.5h0.9M108.5 315h0.9M98.4 317.2h0.9M95.5 345h0.9M121.9 292.3h0.9M135.1 298.8h0.9M78 349.1h0.9M96.2 316.2h0.9M132.9 290.3h0.9M113.9 321.2h0.9M89.6 311.2h0.9M95.8 331.1h0.9M85.6 329.8h0.9M90.8 325.6h0.9M80 323.9h0.9M108.2 316.1h0.9M84.2 323.9h0.9M91.8 333.6h0.9M71.6 334.2h0.9M97.7 328.5h0.9M83.2 337.8h0.9M83.3 316.4h0.9M109 308.1h0.9M99.9 318.3h0.9M91.9 305.3h0.9M98.5 317.1h0.9M99.6 327.3h0.9M89.5 321.7h0.9M95.8 334.1h0.9M101 307.7h0.9M73 332.2h0.9M117.7 308.7h0.9M98.4 326.6h0.9M82.8 333h0.9M87.5 330.3h0.9M89.3 338.1h0.9M94.6 318.7h0.9M93.7 344.2h0.9M114.1 310.6h0.9M85.1 336.5h0.9M62.1 355.9h0.9M82.5 332.1h0.9M70.6 357.4h0.9M91.5 321.3h0.9M111.6 310.4h0.9M107.7 318.4h0.9M81.3 349h0.9M89 340.3h0.9M119.9 297.9h0.9M104.2 324.5h0.9M94.7 323.4h0.9M105.7 304h0.9M126.8 285.3h0.9M107 298.1h0.9M98.4 323.5h0.9M105.3 324.7h0.9M99.4 310.1h0.9M84.3 330.5h0.9M73.8 332.2h0.9M95.6 323h0.9M75.1 330.4h0.9M90 320.2h0.9M93 318.8h0.9M127.6 289.5h0.9M80.3 333.2h0.9M92 324.2h0.9M91.4 324.8h0.9M96.8 312.7h0.9M113 312.3h0.9M79.4 321.4h0.9M83.1 335.5h0.9M65.7 340.8h0.9M81.4 336.8h0.9M104.1 317.8h0.9M86 312.6h0.9M81.1 339.1h0.9M95.3 335.5h0.9M98.7 327.1h0.9M103.9 318.7h0.9M75.9 320.6h0.9M90.2 326.1h0.9M63.3 343.5h0.9M82.3 344.6h0.9M117.5 300.1h0.9M58.9 349.9h0.9M81.4 319h0.9M101.5 324.5h0.9M86.5 325.7h0.9M81.4 333.1h0.9M98.8 330h0.9M94.9 324h0.9M94.9 326.3h0.9M77.7 361.3h0.9M89.9 322.7h0.9M79.5 332.5h0.9M88.7 333.5h0.9M104.6 327.7h0.9M97.6 307.4h0.9M107.1 310.3h0.9M82.7 325.2h0.9M102.1 304h0.9M114.9 310.7h0.9M108.1 304.2h0.9M116.9 306.3h0.9M93 326.1h0.9M92.7 326.6h0.9M107.3 312.7h0.9M69.2 336.5h0.9M97.5 320.3h0.9M87.7 331.8h0.9M90.7 330.2h0.9M67.2 345.6h0.9M85.7 340.5h0.9M97 326.7h0.9M108.5 312.1h0.9M112.4 313.4h0.9M94.3 325.5h0.9M94.9 329.6h0.9M73 324.6h0.9M94.7 311.4h0.9M89.1 324.8h0.9M104.2 315.9h0.9M110.9 288.7h0.9M92.9 322.6h0.9M72.9 344.5h0.9M80.6 333.9h0.9M71.6 341.9h0.9M70.3 332.6h0.9M114.6 306.3h0.9M88.4 309.8h0.9M76.3 349h0.9M101.4 311.4h0.9M118.5 312h0.9M81 319.2h0.9M86.3 334.7h0.9M90.1 328.7h0.9M94.8 315.1h0.9M98.6 308.6h0.9M117.8 313.6h0.9M114.7 309.2h0.9M119.2 315.1h0.9M114.7 304.7h0.9M105.3 315.4h0.9M73.6 346.3h0.9M96.1 329.1h0.9M101.4 321.6h0.9M92.7 332.9h0.9M106.1 308.7h0.9M82.4 320.8h0.9M90.1 346.4h0.9M117.1 304.9h0.9M106.8 317h0.9M95.9 318.3h0.9M113.3 316.3h0.9M111.5 310.2h0.9M104.9 324.6h0.9M54.8 353.4h0.9M84.3 332.4h0.9M88.8 330.8h0.9M78.4 335.2h0.9M99 322.4h0.9M120.1 315.8h0.9M84.8 327.2h0.9M76.5 337.6h0.9M126 297.2h0.9M83.5 324.8h0.9M70.7 334.1h0.9M103.6 326.3h0.9M104.9 322.1h0.9M77.1 325.3h0.9M100.1 305.7h0.9M91.1 334.2h0.9M86.6 342.4h0.9M100.6 324.7h0.9M108.8 316h0.9M92.8 340.6h0.9M99.7 319.2h0.9M99.5 331.8h0.9M142.9 292h0.9M80 328.6h0.9M118.9 308.7h0.9M94.4 324.9h0.9M90 322.2h0.9M101.9 309.8h0.9M109.9 313.5h0.9M113.7 306.5h0.9M103.7 323.7h0.9M77.7 322.8h0.9M83.8 327.7h0.9M107.7 322.7h0.9M103.6 315.9h0.9M112.5 301.2h0.9M98.9 315.6h0.9M102.2 299.9h0.9M111.2 296.1h0.9M99.9 324.4h0.9M73 344.3h0.9M83.2 346.4h0.9M72.2 341.9h0.9M118 301.5h0.9M69.5 321.1h0.9M112.9 306.7h0.9M113.5 326.8h0.9M123.8 304.1h0.9M109.4 309.7h0.9M99.3 331.7h0.9M96 331h0.9"/>
<path fill="none" stroke="#c070c8" stroke-width="0.9" stroke-opacity="0.5" d="M60.5 361.1h0.9M68.7 357.8h0.9M48.5 350.1h0.9M53.3 362.8h0.9M75.3 356.7h0.9M55.2 359.6h0.9M60.8 363.1h0.9M42.2 361.4h0.9M62.9 368.2h0.9M78.4 360.6h0.9M51.4 370.9h0.9M63.1 359.2h0.9M68.3 352.7h0.9M71.6 369.1h0.9M60.6 353.4h0.9M45.2 360.1h0.9M80.5 353.6h0.9M61.5 342.9h0.9M66.3 357.4h0.9M37.5 362.9h0.9M52.8 364.4h0.9M68.5 349.5h0.9M65.6 337.9h0.9M60.3 352.5h0.9M72.5 348.8h0.9M53.8 359.6h0.9M63.4 360.9h0.9M71.9 364.4h0.9M52.5 345.3h0.9M54.4 371.8h0.9M70.8 351.5h0.9M67.6 344.4h0.9M63.6 373.4h0.9M61.2 374.3h0.9M66.6 356.2h0.9M60.6 364.9h0.9M46.8 377.3h0.9M60 345.7h0.9M65.2 357.7h0.9M55.9 359.3h0.9M70.9 336.5h0.9M68.6 360.3h0.9M55.7 362.8h0.9M67.6 360.1h0.9M49.2 361.9h0.9M54.4 361.9h0.9M63.8 353.8h0.9M65.9 367.4h0.9M58.2 360.6h0.9M76.1 345.9h0.9M62.7 346.9h0.9M67.1 350.7h0.9M69.4 355.9h0.9M59.2 349.3h0.9M66.2 341.7h0.9M64.9 359.7h0.9M66.1 336.5h0.9M57.5 366.6h0.9M61.8 360.6h0.9M52.5 368.6h0.9M63.8 363.2h0.9M67.2 354.5h0.9M71.3 345.3h0.9M48.8 356.7h0.9M53 351.1h0.9M60.9 361.3h0.9M47.9 357.1h0.9M54.6 367.6h0.9M59.8 355.1h0.9M46 368.6h0.9M60.6 355h0.9M47.8 347.3h0.9M56.2 361.9h0.9M62.4 370.7h0.9M45.7 363.9h0.9M75.2 342.7h0.9M55.2 370h0.9M88.2 355.8h0.9M59.4 348h0.9M54.7 357h0.9M50 363.9h0.9M62.2 344.2h0.9M62.3 335.4h0.9M56.2 365.4h0.9M54.4 356h0.9M72.2 351.1h0.9M65.6 355.7h0.9M67.6 335.7h0.9M55.9 360.5h0.9M72.5 357.9h0.9M51.9 366.5h0.9M75.3 339.8h0.9M61.9 366.8h0.9M45.7 374.5h0.9M63.1 359.9h0.9M69.8 364.7h0.9M79.5 345.1h0.9M49.4 353h0.9M70.2 363.4h0.9M63.9 351.2h0.9M67.6 341h0.9M57.5 355.1h0.9M74.9 353.1h0.9M66.5 354h0.9M59 359.2h0.9M57.4 353.3h0.9M65.5 359.5h0.9M62.7 369.8h0.9M63.1 342.7h0.9M46.9 364.7h0.9M66.5 345.6h0.9M70.8 351.4h0.9M58.7 356.3h0.9M56.3 363.3h0.9M55.4 355.7h0.9M71.6 358.1h0.9M65.4 350.3h0.9M64.2 355.3h0.9M73.9 353.1h0.9M57 361.1h0.9M62.8 355h0.9M54.5 372.4h0.9M63.9 349h0.9M70.7 361.6h0.9M59.4 361h0.9M66.1 345.4h0.9M64.1 350.1h0.9M38.4 377.1h0.9M68.7 361.7h0.9M61.5 375.8h0.9M66.6 347h0.9M74 333.9h0.9M46.3 353.1h0.9M58.5 354h0.9M65.1 362.9h0.9M59.1 350.9h0.9M70.3 355h0.9M77.9 352h0.9M40.6 355.2h0.9M69.2 342.3h0.9M51.8 362.3h0.9M60 352.5h0.9M58.2 339.9h0.9M64.2 349.9h0.9M48.9 360.4h0.9M63.2 367.4h0.9M66.8 366.8h0.9M53.1 351.9h0.9M60 341.3h0.9M50.8 366.3h0.9M63.1 352.2h0.9M64.3 351.2h0.9M68.9 355.1h0.9M55.5 346.9h0.9M67 341.4h0.9M61.6 350.9h0.9M64.6 348.3h0.9M59 348.1h0.9M69.5 339.7h0.9M45.8 370.6h0.9M76 350.8h0.9M57.1 357.4h0.9M47.3 350.8h0.9M58.7 367.6h0.9M51 373.8h0.9M54.1 356.9h0.9M51.9 359.2h0.9M61 350.4h0.9M62 376.4h0.9M67.3 342.8h0.9M70 359.6h0.9M64.8 362.6h0.9M54.1 361.1h0.9M58.5 365.2h0.9M50.1 363.7h0.9M40.2 349.2h0.9M57.1 354h0.9M56.3 355.8h0.9M58.2 373h0.9M63.7 362.1h0.9M62.3 369.2h0.9M65.6 357.9h0.9M79.1 345.5h0.9M69.1 354.4h0.9M60.9 360.7h0.9M57.5 375.2h0.9M61.2 375.1h0.9M59.2 377.2h0.9M63.3 349.1h0.9M56.6 363.5h0.9M56.1 352.5h0.9M51.8 358.3h0.9M64.1 357.8h0.9M66.2 342.4h0.9M65.7 368.9h0.9M46.4 350.9h0.9M49.8 359.3h0.9M68.1 350.5h0.9M62.1 370.7h0.9M52.5 365.4h0.9M63.9 376.7h0.9M57.5 372.5h0.9M60.1 350.1h0.9M76.6 334.7h0.9M58.4 367.7h0.9M61.9 345.1h0.9M69.1 359.2h0.9M53.3 365.5h0.9M62.8 361.6h0.9M65 362.6h0.9M54.7 361.3h0.9M78.9 344.5h0.9M39.1 366h0.9M67.2 356.2h0.9M52.1 346.3h0.9M64.4 366.6h0.9M59 353.4h0.9M73.8 354.4h0.9M70.2 361.3h0.9M63.2 352.9h0.9M61.9 348.5h0.9M56.6 379.8h0.9M63.7 339.6h0.9M79.9 340.7h0.9M66.7 348.2h0.9M65.5 346.9h0.9M49.7 366.9h0.9M71.2 365.4h0.9M47.4 357.7h0.9M54.8 360h0.9M69.9 350.5h0.9M62.6 368.2h0.9M70.5 365.1h0.9M57.9 379.1h0.9M57.5 356.3h0.9M64.1 357.8h0.9M63.8 367.8h0.9M60.3 365.5h0.9M64 334.6h0.9M56.2 368.9h0.9M58.6 368.6h0.9M48.9 358.7h0.9M66.2 345h0.9M74 338.9h0.9M67.1 356.8h0.9M66.2 369.6h0.9M65.7 365.6h0.9M70.8 349.9h0.9M57.3 365.9h0.9M68.3 343.2h0.9M67 342.7h0.9M60.7 355.7h0.9M64.2 350.7h0.9M71.9 354.8h0.9M83.3 352.4h0.9M58.2 368.3h0.9M74.2 350.8h0.9M63.1 363h0.9M58.5 364.9h0.9M69.3 361.3h0.9M66.7 363.5h0.9M56.2 366.1h0.9M51.3 370.5h0.9M59.7 367.9h0.9M67.5 342.6h0.9M74.7 341.1h0.9M71.4 355.7h0.9M68.5 346.8h0.9M47.6 354h0.9M65 360.6h0.9M56.6 350h0.9M47.1 361h0.9M47 359.7h0.9M66.9 359.6h0.9M48.1 351.8h0.9M54.5 365.9h0.9M65.4 354.9h0.9M61.3 360.4h0.9M64.3 345.9h0.9M61.2 357h0.9M60.8 360.5h0.9M55 350.9h0.9M64.7 361.6h0.9M63.5 367.1h0.9M54.6 357.4h0.9M62.1 347.9h0.9M59.2 347.2h0.9M75.5 350.4h0.9M45.1 367.4h0.9M56.4 358.6h0.9M48.9 353.6h0.9M69.8 360.7h0.9M57.6 360.2h0.9M60.1 362.7h0.9M75.4 356.8h0.9M66.8 358.5h0.9M48.1 362.7h0.9M72.3 347.5h0.9M71.7 351.5h0.9M53.1 358.6h0.9M60.9 346h0.9M51.5 359.5h0.9M72.9 350.6h0.9M60.6 359.3h0.9M50.8 359.9h0.9M63.1 363h0.9M61.3 366.8h0.9M58 352.2h0.9M53.6 349.4h0.9M68.4 361.5h0.9M73.1 372.4h0.9M47.8 394.6h0.9M68 360.4h0.9M50.9 374.1h0.9M59.5 352.6h0.9M69.2 348h0.9M67.3 357.6h0.9M58.3 359.9h0.9M66 362.6h0.9M61 358.5h0.9M61.9 364.5h0.9M42.6 351.4h0.9M51.3 361.9h0.9M73.5 350.3h0.9M67.2 361.3h0.9M69.9 350.7h0.9M69.5 366h0.9M66.2 359.5h0.9M64.8 361.6h0.9M59.3 349.6h0.9M69 351.8h0.9M67.6 358.3h0.9M65.2 368.4h0.9M63.6 368.6h0.9M72 343.1h0.9M61.1 360.5h0.9M53.3 355.1h0.9M74 347.1h0.9M62.1 343.5h0.9M63.3 351.5h0.9M59.2 360.6h0.9M87.3 345h0.9M71.4 359h0.9M60.6 349.5h0.9M52.5 353h0.9M51.8 368.5h0.9M49.1 365.6h0.9M66.4 355.3h0.9M66.1 355.3h0.9M63.9 361.9h0.9M48.9 363.4h0.9M50.9 368.2h0.9M60.9 360.9h0.9M54.7 371.1h0.9M63.8 347.2h0.9M66.7 345.9h0.9M83.4 336.1h0.9M57 342.7h0.9M56.5 361.3h0.9M56.3 364.7h0.9M32.2 381h0.9M52.1 358.2h0.9M61 359.1h0.9M64.3 346.7h0.9M71.4 356.2h0.9M68.8 354.7h0.9M75.9 364.4h0.9M58.5 346.5h0.9M81.2 352.3h0.9M51.2 363.6h0.9M63.6 364.5h0.9M58.8 373.1h0.9M72.5 344h0.9M67.9 344.9h0.9M62.6 348.2h0.9M44.2 360.4h0.9M60.6 354.2h0.9M55.1 355.6h0.9M65.5 358.9h0.9M56.3 355.9h0.9M63.8 352.1h0.9M61.9 362.4h0.9M67.3 350.2h0.9M63.4 355.3h0.9M58.7 358.9h0.9M58.6 356.5h0.9M61.8 363h0.9M70.7 353.1h0.9M55.6 356.5h0.9M73.1 361.5h0.9M62.8 363h0.9M43.7 363.7h0.9M82.6 360.3h0.9M59.2 369.1h0.9M61.7 348.5h0.9M73.6 360.2h0.9M36.6 361h0.9M70.7 375.8h0.9M50.2 355.8h0.9M47.7 358h0.9M49.2 363.7h0.9M67.3 351.7h0.9M58.1 357.8h0.9M69.1 357.5h0.9M54.3 357.6h0.9M69.9 359h0.9M58.6 364.8h0.9M55.7 353.4h0.9M71.5 356.6h0.9M63.9 358.2h0.9M57.9 360.5h0.9M62.7 372h0.9M55.9 351h0.9M61.7 352.8h0.9M68.7 365.5h0.9M57.2 364h0.9M69.3 355.6h0.9M80.3 338.4h0.9M59.3 359.5h0.9M67.7 357.1h0.9M58.3 350h0.9M50.1 382.2h0.9M56.7 352.1h0.9M57.6 363.4h0.9M65 341.8h0.9M63.2 361.5h0.9M59.8 365.9h0.9M66.9 363.7h0.9M59.3 353.4h0.9M52.8 358.2h0.9M49.1 349.1h0.9M46 363.7h0.9M58.8 358.1h0.9M67.5 351.3h0.9M71.2 338.6h0.9M66 351.2h0.9M54.8 348.9h0.9M63.3 343.2h0.9M72.5 351.7h0.9M75.6 345.6h0.9M60.2 342.3h0.9M59.1 356.9h0.9M64.5 355.9h0.9M55.8 350.8h0.9M65.6 356.1h0.9M64.4 356.6h0.9M59.5 365.8h0.9M60.1 383.2h0.9M52.6 359.5h0.9M56.3 379.5h0.9M65.3 358.9h0.9M65.9 360.1h0.9M47.3 368.7h0.9M66.1 351.5h0.9M66.7 349.6h0.9M71.8 363.1h0.9M72.1 343.1h0.9M81.4 347h0.9M52.5 366.3h0.9M65.7 346.7h0.9M64.3 353.4h0.9M52.4 345.3h0.9M64.2 347h0.9M53.8 361h0.9M57.2 361.7h0.9M57.7 365.1h0.9M51.5 359.8h0.9M54.6 353.6h0.9M60.3 374.9h0.9M49.2 361.9h0.9M62.1 350.1h0.9M55.6 353.9h0.9M61.2 352h0.9M57.3 378.5h0.9M63.6 368.7h0.9M47.7 354.6h0.9M60.3 355.9h0.9M66.2 367.9h0.9M65.2 347.7h0.9M63.3 359.1h0.9M72.3 364.4h0.9M74.8 366.3h0.9M75.1 357.5h0.9M57.2 360.1h0.9M68.6 347.7h0.9M65.8 354.2h0.9M60.9 354.7h0.9M58.4 354.4h0.9M76.8 361.2h0.9M69.4 349.6h0.9M72 352.3h0.9M70.9 358.9h0.9M70 351.8h0.9M63 356.6h0.9M70.7 347.4h0.9M69.8 363.3h0.9M51.8 377h0.9M58.1 337.5h0.9M68.3 360.5h0.9M64.2 374.1h0.9"/>
<path fill="none" stroke="#f22222" stroke-width="1.1" stroke-opacity="0.95" d="M117.1 312.6h1.1M85 338h1.1M85.2 338.1h1.1M69.6 345.8h1.1M87.6 329.8h1.1M83.3 347.2h1.1M110.7 307.3h1.1M111.6 323.2h1.1M90.5 330.8h1.1M81.2 338h1.1M31.4 379.8h1.1M71.1 328.1h1.1M89.3 311.2h1.1M99.8 308.3h1.1M17.8 371.8h1.1M42 371.3h1.1M87.4 315.2h1.1M69.8 345.5h1.1M85.6 329.2h1.1M79.9 333.5h1.1M110.8 324.6h1.1M55.2 363.6h1.1M80.1 337.9h1.1M109.5 307.7h1.1M96.4 323.9h1.1M78.3 346.8h1.1M107 325.9h1.1M97.4 321.6h1.1M78.7 349.9h1.1M112.2 321.8h1.1M106.2 315.4h1.1M87.7 328h1.1M115.7 315.2h1.1M75.9 358.7h1.1M106.1 311.4h1.1M83.1 325.1h1.1M73.7 346h1.1M80.7 339.7h1.1M128.2 320.5h1.1M74.9 331h1.1M89.8 339.8h1.1M73.8 334h1.1M77.7 344.5h1.1M112.5 310.5h1.1M139.3 288.6h1.1M129.1 314.1h1.1M87.8 300.6h1.1M115.6 323.1h1.1M83.5 332.2h1.1M85.1 340.7h1.1M67.8 349.1h1.1M114.7 292.6h1.1M94 344.4h1.1M77 340.4h1.1M75.4 335h1.1M94.8 322.6h1.1M77.7 334.1h1.1M95.7 331.1h1.1M103.5 334h1.1M126.6 311.1h1.1M67.3 351.4h1.1M93.8 316.9h1.1M76.3 338.6h1.1M74 324.4h1.1M125.2 297.3h1.1M103.7 314.4h1.1M82.2 332.4h1.1M110.9 328.8h1.1M88 323.5h1.1M120.8 313.9h1.1M83.1 337.8h1.1M89.6 303.5h1.1M93.5 338.1h1.1M91.1 325.8h1.1M86.7 327.6h1.1M77.7 337h1.1M93.7 324.8h1.1M115.1 312.8h1.1M68.3 325.1h1.1M93.7 346.1h1.1M104.6 326.6h1.1M67.8 330.9h1.1M107 307.8h1.1M110.4 318.9h1.1M47.6 373.1h1.1M78.9 339.9h1.1M54.9 329.5h1.1M106.4 308.9h1.1M116.7 316.5h1.1M64.9 346.5h1.1M80.2 342.8h1.1M82 318.8h1.1M82.1 331.4h1.1M100.1 306.1h1.1M111.4 308.3h1.1M93.4 303.5h1.1M112.4 304.8h1.1M109.8 308.3h1.1M95.3 334.3h1.1M84.5 337h1.1M73.9 337.4h1.1M111.4 315.2h1.1M97.4 295.4h1.1M113 308.7h1.1M88.6 337.2h1.1M78.1 327.5h1.1M99.9 325.3h1.1M115.9 301.9h1.1M99.6 320.9h1.1M100 327.2h1.1M66.9 332.7h1.1M100.4 318.2h1.1M97.2 310.3h1.1M73.3 345.6h1.1M136.1 304.4h1.1M78.6 350.7h1.1M113.9 313.4h1.1M88.2 331.4h1.1M94.7 323.4h1.1M72.3 337.4h1.1M86.1 344.4h1.1M105.2 312.8h1.1M93.8 337.7h1.1M87.9 337h1.1M97 294.9h1.1M100 306.1h1.1M97 326h1.1M87.1 311.4h1.1M120.5 287.3h1.1M83.4 324.1h1.1M92.2 310.6h1.1M101.9 320.6h1.1M62.7 352.2h1.1M55.3 366.3h1.1M91.2 320.7h1.1M116.4 319h1.1M98.5 326.2h1.1M77.9 333.2h1.1M80.4 341.4h1.1M106.9 310.1h1.1M75.8 320.5h1.1M62.8 361.3h1.1M98.7 305.8h1.1M100.2 326.6h1.1M104.5 325.7h1.1M112.4 306.8h1.1M114.2 296.7h1.1M107.1 321.1h1.1M91.7 334.2h1.1M49.2 366.9h1.1M101.6 325.9h1.1M87.5 328.1h1.1M123.1 307.7h1.1M119.9 305.6h1.1M99.8 316h1.1M122.7 304.9h1.1M84 320.8h1.1M94.2 331.6h1.1M77.8 346.4h1.1M74.4 319.5h1.1M88.2 313.5h1.1M113.5 307.4h1.1M71.8 334.5h1.1M106.7 310.3h1.1M143.6 288.3h1.1M59.7 346.3h1.1M84.5 329.3h1.1M85.3 318.3h1.1M122.4 320.3h1.1M129.3 286.4h1.1M116.7 303.7h1.1M94.4 331.6h1.1M75.9 344.4h1.1M92.5 330.2h1.1M97.7 335.6h1.1M99.7 325.9h1.1M68.6 337.6h1.1M131.7 309h1.1M78.3 341.8h1.1M118.3 329.3h1.1M99.1 326.4h1.1M66.4 343.6h1.1M93.2 325.8h1.1M91.7 326h1.1M93.4 337h1.1M105.6 308.8h1.1M86.2 340.7h1.1M140.6 275.9h1.1M114.3 305.3h1.1M74.2 345.3h1.1M31.2 361.6h1.1M120.1 306.8h1.1M91.5 315.8h1.1M92.7 324.6h1.1M70.9 344h1.1M55.8 346h1.1M49.8 357.1h1.1M145.8 281.1h1.1M126 298.9h1.1M78.7 335.2h1.1M130.7 292.8h1.1M54 361.7h1.1M111.7 320.7h1.1M119.9 330.3h1.1M73.9 342.7h1.1M83.1 336.3h1.1M63.1 337.7h1.1M90 323.2h1.1M113.4 296.2h1.1M103.5 298.2h1.1M100.8 320h1.1M119.5 312.1h1.1M49.3 353.5h1.1M137.4 294.4h1.1M91.7 329.2h1.1M56 341.3h1.1M80.4 330.1h1.1M71.9 331.5h1.1M100.4 333.5h1.1M97.9 321h1.1M36 361.5h1.1M124.9 312.2h1.1M127.1 294.7h1.1M67.3 342.8h1.1M134.8 314.8h1.1M109.8 294.4h1.1M116.6 313.1h1.1M126.8 298.5h1.1M53.1 341.2h1.1M116.1 325h1.1M67.4 342h1.1M144.1 287.2h1.1M70.5 343.9h1.1M69.5 353.8h1.1M108.2 298.2h1.1M110.4 322.6h1.1M90.1 324h1.1M91.4 321h1.1M104.9 316.4h1.1M129.6 297.6h1.1M81.6 333h1.1M89.3 328h1.1M70.1 336.7h1.1M97.4 332h1.1M100.8 325.4h1.1M88.4 326.3h1.1M96.2 323.6h1.1M84 336.8h1.1M74 335.1h1.1M84.1 330.8h1.1M105.1 320.4h1.1M102.6 320h1.1M85.1 328.5h1.1M99.3 312.6h1.1M92.2 334.3h1.1M105.5 313.8h1.1M96.7 323.8h1.1M90.4 334.7h1.1M99.3 320.7h1.1M87 337h1.1M83.2 335.8h1.1M73.8 334.8h1.1M92.7 323.4h1.1M89.1 325.3h1.1M89.3 326h1.1M86.5 329.3h1.1M103.3 312.7h1.1M89.5 333.1h1.1M84.9 333.6h1.1M101.6 314.5h1.1M106.6 316.9h1.1M95.4 325.1h1.1M71.8 338.1h1.1M82.3 328h1.1M98.4 323.3h1.1M93.1 328.6h1.1M105.2 312.7h1.1M77.3 337.3h1.1M99.2 322.9h1.1M83.9 330.5h1.1M103 314.6h1.1M90.3 327.2h1.1M95.3 311.2h1.1M82.1 328.8h1.1M75.8 336.3h1.1M78.3 333.4h1.1M79.3 324.6h1.1M79 332.5h1.1M104.4 318.7h1.1M103.6 315h1.1M93.7 324.4h1.1M82.3 336.6h1.1M89.5 327.1h1.1M84 331.8h1.1M105.5 315h1.1M95.3 325.4h1.1M94.3 320.8h1.1M90.6 333.9h1.1M69.9 341.2h1.1M83.7 333.1h1.1M79.8 335.2h1.1M99.7 329.5h1.1M88.7 321.9h1.1M86.9 337.5h1.1M89.2 332.1h1.1M105.1 312.4h1.1M83.1 336.1h1.1M83.1 335.3h1.1M93.5 334.1h1.1M85.3 333.6h1.1M86.6 329.8h1.1M95 320.8h1.1M108.7 313.3h1.1M73.4 340.8h1.1M90.1 325.9h1.1M93 328.1h1.1M91.9 329.3h1.1M85.4 323.5h1.1M89.6 331.6h1.1M98.5 315.5h1.1M86.5 330.4h1.1M87 324.2h1.1M92.5 328.3h1.1M91.2 324.6h1.1M88.9 327.4h1.1M101.4 319.1h1.1M90.5 326.1h1.1M94.5 327.2h1.1M90.9 327.4h1.1M82.2 335.9h1.1M81.6 331.7h1.1M81.2 335.6h1.1M95.9 328.6h1.1M85 333.5h1.1M81.1 335.7h1.1M95.4 327h1.1M93.6 319.2h1.1M73.2 340.2h1.1M105.9 310.9h1.1M93.1 328.4h1.1M91 328.6h1.1M99.5 315.6h1.1M94.8 329.7h1.1M84.6 330.8h1.1M112.4 308.6h1.1M81.8 336.8h1.1M90.1 327.3h1.1M101.6 322.5h1.1M80.3 335h1.1M92.7 330.6h1.1M97.6 326.7h1.1M111.7 303.7h1.1M83.9 335.8h1.1M95.1 332.3h1.1M95.6 319h1.1M93.6 328h1.1M86.7 345.2h1.1M95.3 323.6h1.1M90.3 323.6h1.1M94.8 322.3h1.1M98.7 313.3h1.1M101.3 318.8h1.1M93.9 322h1.1M96.3 326.7h1.1M80.2 335.4h1.1M86.7 324.1h1.1M92.3 323.7h1.1M87 329.6h1.1M96.2 330.8h1.1M83.9 334.4h1.1M108.8 317.4h1.1M110.6 307.3h1.1M88.9 331.8h1.1M94.4 322.6h1.1M91 331.1h1.1M99.6 311.8h1.1M97.8 326.1h1.1M91.7 325.8h1.1M83.6 322.2h1.1M92 325.2h1.1M83.2 337.1h1.1M96.5 319.7h1.1M82.2 330.2h1.1M94.6 320.3h1.1M96.5 330.5h1.1M101.4 317.3h1.1M95.4 332.1h1.1M97.3 313.7h1.1M82.1 334.1h1.1M98.1 322.9h1.1M87.6 326.9h1.1M92.1 324h1.1M94.3 329.1h1.1M97 315.1h1.1M72 343.9h1.1M98 328.4h1.1M73.8 335.6h1.1M99.8 313.1h1.1M69.4 339.8h1.1M80.3 333.6h1.1M76.7 342.6h1.1M105.2 311h1.1M74.8 332.7h1.1M90.6 323.8h1.1M82.7 327.2h1.1M75.3 343.4h1.1M85.8 327h1.1M95.7 319h1.1M92.5 331.9h1.1M103.7 323.1h1.1M89.1 331.5h1.1M91.1 326.5h1.1M86.5 328.8h1.1M95 324.5h1.1M109.8 311.4h1.1M94.9 324.1h1.1M92.9 324.9h1.1M84 330.4h1.1M82.8 331.7h1.1M105.6 314.9h1.1M79.8 335.2h1.1M83.2 335.3h1.1M88.6 325.6h1.1M88.1 331.5h1.1M106.8 306.7h1.1M68.2 346.2h1.1M94.1 323.1h1.1M99.7 322.8h1.1M81 336.8h1.1M84.6 331.6h1.1M95.4 323.2h1.1M108.3 314.9h1.1M84.6 337.1h1.1M75.7 339.6h1.1M100.3 318.4h1.1M104.9 312.9h1.1M85.3 326.4h1.1M70.3 345.6h1.1M109.5 319.8h1.1M89.5 328.7h1.1M105.9 322.1h1.1M93.4 330.3h1.1M85.4 327.3h1.1M85.6 329h1.1M106.9 316.3h1.1M106.5 316.6h1.1M70.5 344.5h1.1M85.7 338.7h1.1M107.5 311h1.1M88.3 330.6h1.1M74.1 333.3h1.1M93.4 329.3h1.1M88 325.1h1.1M91.6 329.2h1.1M84.4 328.1h1.1M90.2 331.7h1.1M85.2 328.7h1.1M95.3 325.1h1.1M85 335.4h1.1M88.7 329.5h1.1M88.8 326.7h1.1M103.1 315.1h1.1M91.5 319.8h1.1M88.4 325.6h1.1M101.9 328.9h1.1M96 324.4h1.1M105.9 322.8h1.1M96.9 323.5h1.1M107.4 310.5h1.1M107 319h1.1M93.2 330h1.1M86.8 329.8h1.1M100.4 320.2h1.1M92.9 318.6h1.1M89.6 326.7h1.1M75.7 337.5h1.1M69.7 337.4h1.1M95.6 325.1h1.1M98.7 320.4h1.1M101.1 322.6h1.1M78.1 336.6h1.1M99.1 315.7h1.1M83.1 327.7h1.1M95 323.6h1.1M96.7 325.1h1.1M84.9 335.2h1.1M88.3 335h1.1M70.7 343.4h1.1M79.4 330.9h1.1M78.5 347.4h1.1M100 328.6h1.1M88.8 322.8h1.1M103.4 323.2h1.1M94 323h1.1M87.6 335h1.1M92.9 322h1.1M85.7 328h1.1M96.7 321.3h1.1M92.5 322.1h1.1M81.4 334.7h1.1M90 325.3h1.1M87.9 321.7h1.1M85.9 326.5h1.1M101.2 321h1.1M109.5 314.7h1.1M88.1 330.3h1.1M88.2 330.2h1.1M69.1 344.9h1.1M91.2 329.3h1.1M85.5 328.7h1.1M70 344.3h1.1M93.2 323.5h1.1M96.9 321.9h1.1M82.7 331.2h1.1M90 332.7h1.1M78.4 330.7h1.1M97.9 319.6h1.1M75.4 338h1.1M86.8 327.8h1.1M107.9 308.1h1.1M90.1 324.5h1.1M95.2 322.3h1.1M90.1 328.4h1.1M83.1 340.4h1.1M90.4 326.4h1.1M95.8 324.2h1.1M81.8 335.8h1.1M89.5 317.9h1.1M107.1 321.1h1.1M101.4 317.8h1.1M73.2 336.6h1.1M79.6 332.3h1.1M72.8 336.8h1.1M104.2 321.1h1.1M99.1 324.1h1.1M96.7 319.4h1.1M83.2 334.6h1.1M76.2 332h1.1M91.4 325.5h1.1M91.7 325.4h1.1M81.9 332.6h1.1M93.1 326.2h1.1M97.2 321.1h1.1M94.8 326.5h1.1M81.1 335.3h1.1M71.5 345.2h1.1M88.1 328.2h1.1M95.7 328.9h1.1M91.7 332.5h1.1M86 329h1.1M83.9 331.8h1.1M100.1 323.2h1.1M91.1 327.7h1.1M94.5 328.3h1.1M77.4 329.5h1.1M88.3 335.6h1.1M89.1 321.1h1.1M83 336.9h1.1M78 335.9h1.1M88.5 330h1.1M103.6 317.8h1.1M91 322.8h1.1M103.6 312.7h1.1M90.4 328.5h1.1M90 331.5h1.1M73.2 332.9h1.1M82.6 327.9h1.1M104.8 314.6h1.1M94.9 324.7h1.1M97.6 319.9h1.1M97.8 320.7h1.1M88.5 323.8h1.1M91.1 330.7h1.1M92.2 325.6h1.1M99.3 323.1h1.1M92.8 319.7h1.1M92.1 318.1h1.1M92.8 325.6h1.1M82.5 331.6h1.1M85.6 325.3h1.1M82.6 335.1h1.1M102.8 320.8h1.1M68.5 341.3h1.1M87.9 327.2h1.1M114.8 307.6h1.1M84.7 325.8h1.1M79.6 335.4h1.1M94.6 331.2h1.1M102.9 315.2h1.1M89.7 328.1h1.1M93.2 317h1.1M92.1 325.9h1.1M87.9 330.2h1.1M120.9 299.8h1.1M91.3 325.5h1.1M88.8 334.6h1.1M86.1 330.4h1.1M95.5 324.4h1.1M92.2 319.8h1.1M93.6 314.4h1.1M94.8 328.3h1.1M79.2 340.8h1.1M98 324.4h1.1M89.5 330.8h1.1M89.8 330.7h1.1M76.5 338.7h1.1M83.2 328.6h1.1M86.7 335.8h1.1M94 330.8h1.1M80.8 343.1h1.1M89.3 323.5h1.1M89.5 322.3h1.1M83.4 339.6h1.1M88.4 335.8h1.1M82.5 333.3h1.1M97.7 316.5h1.1M64.3 344.8h1.1M87.3 329h1.1M73.5 338.5h1.1M86.2 329.4h1.1M100.5 321.1h1.1M81 327.1h1.1M92.4 325.5h1.1M85.2 336.3h1.1M111 311.9h1.1M103.2 323h1.1M102 317.4h1.1M75.9 334.8h1.1M83 338.8h1.1M99.3 315h1.1M84.8 323h1.1M87.8 327.8h1.1M96.8 326.8h1.1M80.6 339h1.1M99.3 321.2h1.1M93.9 329.7h1.1M98.4 325.8h1.1M85.1 332.8h1.1M96.5 322.9h1.1M83 330.9h1.1M102.9 321.8h1.1M98.2 312.7h1.1M97.8 316.5h1.1M94.3 320.2h1.1M98.6 323.1h1.1M61.1 344.5h1.1M99.9 320.7h1.1M84.6 324.4h1.1M89.8 323.2h1.1M90.2 331.2h1.1M78.5 339.2h1.1M81.9 326.4h1.1M95.4 318.8h1.1M105.2 315.4h1.1M84.6 331.2h1.1M81.9 333.5h1.1M106.8 316.7h1.1M82.9 334.4h1.1M112.7 311.3h1.1M92.5 327.3h1.1M81.5 332.7h1.1M102.7 321h1.1M106.1 311h1.1M76.9 338.1h1.1M104.7 312h1.1M86.5 326.7h1.1M103 311.4h1.1M86.1 328.2h1.1M74.3 337.8h1.1M96.4 323h1.1M98.9 317.6h1.1M113.4 311.7h1.1M108.4 313.2h1.1M96.3 319.1h1.1M88.9 328.7h1.1M85.1 329.8h1.1M90.4 331.7h1.1M80.1 330h1.1M89.6 330.3h1.1M65.5 346.5h1.1M92.9 325.2h1.1M88.9 324.6h1.1M116.9 306.6h1.1M100.6 322.9h1.1M90.4 335.3h1.1M97.2 322.8h1.1M81.6 339.7h1.1M84.1 330.2h1.1M69.9 338.3h1.1M109.7 320.4h1.1M99.6 325h1.1M79 335.5h1.1M87.9 324.1h1.1M99.7 318.1h1.1M95.2 321.8h1.1M93.8 322.3h1.1M81.5 332.2h1.1M81.4 327.8h1.1M90.7 324.3h1.1M102.7 322.2h1.1M84 334.6h1.1M79.7 335.3h1.1M103.9 319.3h1.1M82.6 334.9h1.1M102.7 319.1h1.1M94.9 326.4h1.1M98.2 317.7h1.1M108.9 313.3h1.1M100.1 323.7h1.1M100.2 322.1h1.1M82.1 334.1h1.1M79.9 327.1h1.1M96.8 320.7h1.1M102.9 310.4h1.1M103.6 314h1.1M118.2 313.1h1.1M93.3 323.2h1.1M94.9 327.1h1.1M103.7 321.8h1.1M93.5 329.2h1.1M86.7 322.7h1.1M84.2 339.2h1.1M102 320.1h1.1M78.2 332.5h1.1M94.7 320.8h1.1M80.9 342.5h1.1M102 318h1.1M82.2 336.4h1.1M99.7 320.2h1.1M74 337.8h1.1M88 331.7h1.1M103.2 317.8h1.1M80.2 329.6h1.1M95.6 330.7h1.1M87.2 331.5h1.1M67.6 344.4h1.1M96.7 327.2h1.1M96.6 324.7h1.1M83.1 339h1.1M96.4 321.6h1.1M84.7 334.7h1.1M79.7 332.9h1.1M89 324h1.1M84.4 332.1h1.1M114.2 308.8h1.1M75.4 338.7h1.1M98.2 320.5h1.1M103.3 321.6h1.1M69.6 340.2h1.1M73.7 340.3h1.1M94.9 320.1h1.1M89.3 334h1.1M93 321.3h1.1M97.8 312h1.1M86.2 328.2h1.1M83.8 339h1.1M64.4 348.9h1.1M93.2 325.1h1.1M81.6 333.7h1.1M94.6 324.7h1.1M92.3 323.5h1.1M78.6 339.2h1.1M107.4 312h1.1M103.1 319.5h1.1M99.2 319.5h1.1M77.5 333.9h1.1M88.2 331.2h1.1M84.4 329.5h1.1M88.9 332.3h1.1M80.9 336.8h1.1M95.8 323.7h1.1M90.7 321.7h1.1M96.3 325.6h1.1M83.6 327.7h1.1M106.8 319.8h1.1M93.3 325.5h1.1M62.5 346.8h1.1M83.4 330.2h1.1M92.7 329.7h1.1M103.1 321.8h1.1M86.3 326.9h1.1M91.3 331.9h1.1M83.4 330.6h1.1M98.7 322.5h1.1M86.8 330.4h1.1M80.4 325.8h1.1M80.6 328.8h1.1M94.8 320h1.1M88.8 334.5h1.1M74.1 339.6h1.1M97.1 321.4h1.1M84.5 332.7h1.1M91.8 320.4h1.1M98.4 327.9h1.1M102.2 316h1.1M101 317.8h1.1M87.1 333.3h1.1M85.9 323.7h1.1M81.2 340.4h1.1M107.4 312.9h1.1M95.3 322.9h1.1M109.3 320.8h1.1M91 332.9h1.1M73.2 345.9h1.1M104.4 312.2h1.1M90 323.5h1.1M91.2 324.1h1.1M91.2 325.6h1.1M102 326.9h1.1M95.9 321.8h1.1M76.7 341h1.1M99.2 314.8h1.1M83.1 327.6h1.1M81.8 324.9h1.1M106.5 310.8h1.1M98.4 317.1h1.1M90 332h1.1M72.9 341.7h1.1M95.3 328.5h1.1M94.5 320h1.1M92.9 330.3h1.1M79.4 337.4h1.1M85.2 335.2h1.1M79.9 338.1h1.1M92.3 323.8h1.1M100.3 321.4h1.1M100.7 317.7h1.1M86.1 335.2h1.1M90.5 321.2h1.1M97.9 323.8h1.1M84 328.3h1.1M85.2 322.5h1.1M117 315.5h1.1M95.2 327.5h1.1M100.2 320h1.1M84.4 327.3h1.1M92.6 327.6h1.1M73.6 339.8h1.1M92.4 328.7h1.1M101.6 315.5h1.1M114.1 312.6h1.1M101 314.8h1.1M104.2 328.6h1.1M95.7 331h1.1M81.4 327h1.1M89.2 327.6h1.1M99 323.9h1.1M78.8 327.5h1.1M98 316.4h1.1M79.2 331.9h1.1M74.7 342.3h1.1M80 333.4h1.1M73.8 339h1.1M81.3 342.1h1.1M100.9 315.9h1.1M89.6 328.8h1.1M90.5 321.7h1.1M99.6 313.9h1.1M104.8 318h1.1M87.5 332.4h1.1M103.7 315.3h1.1M93.5 321.9h1.1M92 327.7h1.1M95.7 323.4h1.1M76 336.8h1.1M82.6 332.1h1.1M87.6 324.6h1.1M96.6 321.1h1.1M89.4 332h1.1M93.7 332.2h1.1M98.9 316.7h1.1M105.6 316h1.1M99.4 321.3h1.1M104.1 317.1h1.1M90.6 334h1.1M89 330.2h1.1M99.8 330.7h1.1M89.1 330.2h1.1M88.1 333.1h1.1M103.3 308.5h1.1M88.2 327.2h1.1M82.2 335.2h1.1M95.6 322.3h1.1M107.5 309.8h1.1M93.6 328h1.1M103.6 317.2h1.1M87.6 331.2h1.1M81.1 324.4h1.1M84.3 332.2h1.1M94 332.9h1.1M107.3 309.7h1.1M74.4 329.6h1.1M109.1 315.8h1.1M73.9 326.1h1.1M89 328.8h1.1M97.2 317.3h1.1M98.5 323h1.1M94.5 325.1h1.1M77.7 343.4h1.1M96.9 326.5h1.1M85.8 340.6h1.1M113.7 302.8h1.1M91.5 331.4h1.1M92.2 324.2h1.1M79.3 335.3h1.1M87.9 332.3h1.1M78.5 337.2h1.1M100.9 318.9h1.1M89.7 330.1h1.1M96.5 322h1.1M84.4 332.2h1.1M88.5 333.4h1.1M106.5 319.5h1.1M83.5 336.8h1.1M73.4 341.2h1.1M92.1 319.9h1.1M76.9 332.3h1.1M86.2 329.5h1.1M98 316.8h1.1M82.9 333.1h1.1M97.3 316.7h1.1M84.3 332h1.1M104.8 313.5h1.1M104.7 316.6h1.1M86.6 330.6h1.1M85 323.6h1.1M85.6 336.6h1.1M93.1 325.1h1.1M103.6 318.8h1.1M75 336.1h1.1M96.2 314.6h1.1M78.9 338.4h1.1M88.8 340.9h1.1M72.4 339.8h1.1M110.3 307.9h1.1M95.4 330.6h1.1M94.1 325.4h1.1M84.7 332.4h1.1M106.6 324h1.1M69.2 342.2h1.1M90.5 325.4h1.1M112.2 308.1h1.1M89.7 332.6h1.1M92.9 328.4h1.1M99.1 322.9h1.1M82.2 332.1h1.1M93.5 329.1h1.1M97.4 315.1h1.1M92.3 324.2h1.1M99.5 329.3h1.1M84.1 325.3h1.1M93.9 323.8h1.1M92.9 327.7h1.1M105.1 314.6h1.1M102.2 325.5h1.1M88.4 328.3h1.1M72.7 353.1h1.1M100.4 323.5h1.1M95.6 317.1h1.1M79.5 331h1.1M72.5 344h1.1M82.2 338.6h1.1M98.2 316.8h1.1M80.9 335.6h1.1M86.3 330h1.1M92 323.3h1.1M105.4 319.5h1.1M89.3 324.9h1.1M94.8 333.1h1.1M82.7 327.5h1.1M110.5 317.5h1.1M102.9 319.7h1.1M91.7 329.3h1.1M76 336.3h1.1M81.9 331.3h1.1M96.1 321.1h1.1M83 331.3h1.1M98.9 318.3h1.1M94.9 324h1.1M98.2 329.3h1.1M102.6 327.4h1.1M101.1 328.7h1.1M83 333.9h1.1M88.5 330h1.1M114.3 308h1.1M79 336.1h1.1M87.1 331.3h1.1M103.8 320.6h1.1M92.9 332h1.1M87.4 338.3h1.1M75.7 334.5h1.1M94.5 320h1.1M104.1 322h1.1M105.4 316h1.1M90.8 325.2h1.1M97.9 314.1h1.1M82.5 336.8h1.1M92.5 325h1.1M82.1 329.3h1.1M96.7 329.9h1.1M100.1 322.6h1.1M101.7 318.1h1.1M83.1 336.8h1.1M99 310.9h1.1M84.7 328.4h1.1M80.8 334.7h1.1M91.7 330.7h1.1M75.1 336.5h1.1M89.9 325.1h1.1M95.2 325.8h1.1M90.2 329.6h1.1M99.6 326.2h1.1M88.3 329.6h1.1M89.4 324.5h1.1M75 336h1.1M90.4 324.9h1.1M81.1 331.6h1.1M88.1 332h1.1M91.3 328.8h1.1M90.5 322.1h1.1M74.2 339.1h1.1M77.7 341.7h1.1M87.2 328h1.1M94 320.8h1.1M93.2 322h1.1M99.7 319.2h1.1M105 317.5h1.1M95.2 321.7h1.1M87.3 322.6h1.1M80.9 334.9h1.1M83.5 336.3h1.1M85.9 329.8h1.1M96.5 327.8h1.1M92.9 324.4h1.1M91.9 327.6h1.1M87.7 325.6h1.1M97.2 321.4h1.1M91 322.4h1.1M89.1 318.4h1.1M94.7 324.9h1.1M87.7 333.5h1.1M80.2 334.1h1.1M96.2 323h1.1M95 323h1.1M90.4 330.2h1.1M86 328.8h1.1M113.3 308h1.1M88.5 338.6h1.1M89.6 329.2h1.1M93.1 323.8h1.1M77.4 333.2h1.1M93.6 327.4h1.1M110.5 314.2h1.1M97.8 316.2h1.1M98.7 323.2h1.1M96.8 321.7h1.1M91.3 324.7h1.1M99 317.1h1.1M89.7 328.1h1.1M89.5 333.2h1.1M90 323.4h1.1M101 320.5h1.1M95.6 325.5h1.1M93.5 316.1h1.1M69.6 341.1h1.1M105.2 319.8h1.1M115.1 308.9h1.1M104.8 316.5h1.1M89.8 331.4h1.1M87.1 338.7h1.1M92.2 322.5h1.1M79.9 332.9h1.1M97.8 320.3h1.1M87 332.2h1.1M100.1 318.4h1.1M103.1 314h1.1M73.7 346.2h1.1M94.8 325.3h1.1M85.7 334h1.1M76 336.6h1.1M84.7 331.2h1.1M91.9 332h1.1M102.7 320h1.1M72.6 334.7h1.1M103.6 320.7h1.1M110.6 309.9h1.1M98.4 323.6h1.1M93.9 319.1h1.1M91.3 327.1h1.1M80.8 337.6h1.1M99 325.5h1.1M95.5 324.3h1.1M96.6 318.7h1.1M114.8 304.1h1.1M101.2 324.3h1.1M92 319.3h1.1M107 314.7h1.1M80.4 340.6h1.1M79.8 335.9h1.1M88.9 331.5h1.1M86.1 333.7h1.1M99.4 322.8h1.1M88.4 329.7h1.1M109.3 313.9h1.1M109.8 318.8h1.1M97.6 319.2h1.1M88.6 331.3h1.1M94.7 318.7h1.1M98 318.8h1.1M79.5 334h1.1M94.3 323.5h1.1M95.3 317.7h1.1M94.1 325.9h1.1M108.7 316.5h1.1M102.3 316h1.1M89.1 340.6h1.1M93.3 326.8h1.1M82.7 333.1h1.1M97.8 323.2h1.1M80.1 330.7h1.1M98.7 317.5h1.1M94.8 323.4h1.1M101.6 319.9h1.1M87.5 325.2h1.1M78.5 340.5h1.1M109.4 313.5h1.1M88 326.3h1.1M103.4 314.1h1.1M91.1 318.1h1.1M98.3 321.9h1.1M113.1 316.7h1.1M93.2 322.4h1.1M102.2 312.2h1.1M77.2 339.4h1.1M96.4 315.7h1.1M85.1 324.3h1.1M91.4 329.7h1.1M92.4 328h1.1M97.3 327.2h1.1M106.2 311.9h1.1M71.7 340.2h1.1M90.4 324.9h1.1M87 335.9h1.1M104.3 319.3h1.1M90.2 334h1.1M99.2 327.3h1.1M90.3 333.6h1.1M101.2 325.5h1.1M101.6 319h1.1M86.5 329h1.1M90.4 324.9h1.1M77.5 338.5h1.1M95.7 326.1h1.1M99.6 319.9h1.1M84.6 330h1.1M102.8 318.5h1.1M71 343.7h1.1M73.9 342.8h1.1M78.9 339.6h1.1M86.5 330.8h1.1M93.9 329.6h1.1M88.3 324.8h1.1M94 331.4h1.1M97.3 319.8h1.1M89.6 334.2h1.1M75.7 333.3h1.1M77.3 334.8h1.1M113.6 311.7h1.1M69.3 347.3h1.1M92 331.2h1.1M105.6 315.1h1.1M95.1 321.9h1.1M77.7 327.1h1.1M94.2 330.4h1.1M97 316.6h1.1M104.3 318.5h1.1M81.9 333.5h1.1M96.8 318.4h1.1M92.6 323.4h1.1M101.1 316.8h1.1M105.3 316h1.1M88 329.7h1.1M76.8 338.4h1.1M92.6 320.6h1.1M111.7 316.1h1.1M99 322.5h1.1M96.2 328.2h1.1M116.7 309.7h1.1M82.9 337.4h1.1M97.7 316.7h1.1M81.1 326.1h1.1M88.9 323h1.1M94.7 329.2h1.1M105.9 314.3h1.1M84.6 337.4h1.1M85.1 330.1h1.1M73 336.7h1.1M94.8 321.4h1.1M85 328.4h1.1M95.7 323.8h1.1M85.1 340.7h1.1M92 334.9h1.1M101.6 318.6h1.1M88.4 326.8h1.1M94.7 318.5h1.1M97.2 323.4h1.1M87.7 329.6h1.1M75.5 339h1.1M98.6 316.1h1.1M93.1 325.7h1.1M103.2 321.6h1.1M69.4 340.6h1.1M74.3 339.4h1.1M69.6 343.4h1.1M85.5 337.3h1.1M101.5 318.4h1.1M100.5 326.6h1.1M95.3 332.3h1.1M93.1 326.4h1.1M99.6 321.8h1.1M87.1 327.9h1.1M92.1 320h1.1M92.7 325.8h1.1M66.2 340.2h1.1M88.8 331.5h1.1M102.9 313.8h1.1M90.2 333.4h1.1M89.6 327.7h1.1M86.1 332.7h1.1M87 331.4h1.1M101 316.2h1.1M92.7 333.9h1.1M81.1 334.9h1.1M62.7 354.4h1.1M85.5 331.3h1.1M71.3 342h1.1M74.3 342.8h1.1M99.8 321.3h1.1M100.7 324h1.1M71.4 341.2h1.1M101 321.6h1.1M94.8 322h1.1M86.7 336.9h1.1M95.5 317.4h1.1M77.6 342.8h1.1M77.1 333.8h1.1M78.2 339.8h1.1M79.3 334.6h1.1M100.2 320.1h1.1M76.8 336.1h1.1M80.1 336.3h1.1M79.3 331.4h1.1M91.8 323.6h1.1M86.5 327.9h1.1M96.1 315.6h1.1M85.9 334.5h1.1M75.9 334.1h1.1M86.2 330.8h1.1M94.8 330.4h1.1M81.2 333.3h1.1M94.4 325.2h1.1M105.3 307.7h1.1M86.6 332.9h1.1M91.5 326.5h1.1M103.9 315.3h1.1M89 337.1h1.1M81.8 332.6h1.1M82.6 338.5h1.1M92 320.1h1.1M92.6 318.5h1.1M89.7 328.2h1.1M94.9 330.7h1.1M103.1 316.1h1.1M99.2 319.5h1.1M75.9 336.7h1.1M91.6 327.9h1.1M94.7 329.2h1.1M98.4 321.5h1.1M90.9 331.3h1.1M81 327.8h1.1M88.1 332.6h1.1M75.1 343.3h1.1M90.9 327.4h1.1M87.9 335.2h1.1M96.5 324.4h1.1M81.3 335.9h1.1M87.8 331.9h1.1M82 335.8h1.1M77.9 332.7h1.1M96.9 320.3h1.1M89.3 334.4h1.1M96.2 324.6h1.1M78.5 334.4h1.1M93.3 328h1.1M74.3 340.8h1.1M86.3 331.2h1.1M84.9 330h1.1M97 322.9h1.1M93 326.1h1.1M91 330.8h1.1M98.3 319.4h1.1M94.7 328h1.1M92.4 318.4h1.1M98.4 321h1.1M90.7 328.3h1.1M86.3 327.6h1.1M94.2 324.8h1.1M86.6 330.4h1.1M94.7 324.2h1.1M103.2 320h1.1M101.1 322.6h1.1M88.6 332.1h1.1M75.9 334.9h1.1M91.6 329.3h1.1M90.5 329.3h1.1M102.6 319.4h1.1M85.6 328.6h1.1M84.6 323.9h1.1M100 323.6h1.1M85 329.8h1.1M89 328.3h1.1M108.2 314h1.1M104.2 313.8h1.1M99.7 325.4h1.1M91.7 322.9h1.1M80.9 334.6h1.1M98.4 325.2h1.1M88 322.7h1.1M91.2 323.3h1.1M83.3 328.5h1.1M93.8 331.1h1.1M89.6 329.5h1.1M95 326h1.1M103.4 314h1.1M91.5 320.9h1.1M78.8 345.7h1.1M81.4 335.1h1.1M75.7 340.5h1.1M81 331.2h1.1M96.3 322.8h1.1M97.4 327.2h1.1M85.4 332.7h1.1M95.6 327.7h1.1M85.1 335.4h1.1M76.9 338.8h1.1M78.2 340h1.1M81.9 333.6h1.1M107.9 319.5h1.1M72.8 332.3h1.1M100.2 313.9h1.1M102.2 314.6h1.1M91.8 332.1h1.1M94.9 333.2h1.1M86.7 334.5h1.1M91.1 328.1h1.1M92.4 316.2h1.1M88.1 323.9h1.1M101.6 320.5h1.1M99.8 314.5h1.1M91.5 321.4h1.1M93.9 324.6h1.1M87.6 324.7h1.1M93.5 323.6h1.1M81.4 338.1h1.1M97.2 327h1.1M93 325.9h1.1M80.3 331.8h1.1M114.6 313.2h1.1M84.8 339.3h1.1M81.2 333h1.1M99.3 331.9h1.1M68.1 338.5h1.1M84 334.9h1.1M74.4 337.9h1.1M77.4 330.5h1.1M92.6 332.1h1.1M96.1 327.4h1.1M96.7 312.6h1.1M99.2 321.5h1.1M102.6 318h1.1M96 321.9h1.1M84 328.5h1.1M98.8 314.8h1.1M85.8 331h1.1M85.5 333.2h1.1M105.7 314.9h1.1M97.8 320.1h1.1M90.1 322.2h1.1M97.8 320.8h1.1M95.4 315.5h1.1M79.3 340.6h1.1M88.7 326.7h1.1M75.5 332.5h1.1M89.2 323.1h1.1M83.5 332h1.1M105.9 318.5h1.1M97.3 324.9h1.1M83.2 334.4h1.1M89.9 326.7h1.1M79.5 337.9h1.1M94.3 330.7h1.1M97.6 324.7h1.1M92.2 323.9h1.1M70.2 341h1.1M90.5 333.6h1.1M96.5 324.1h1.1M97.3 329.1h1.1M103.2 319.3h1.1M70.7 328.8h1.1M95.7 322.9h1.1M85.1 333.5h1.1M93.9 327.2h1.1M97.3 327.1h1.1M101.4 326.5h1.1M85.2 332.2h1.1M93.1 326.5h1.1M76.2 333.1h1.1M80.5 343h1.1M95.2 321.7h1.1M87.3 324.4h1.1M79.1 345.6h1.1M81.1 332.6h1.1M94.3 331.3h1.1M104.8 313.3h1.1M97.8 315h1.1M98.5 320.8h1.1M72.7 341.2h1.1M91.3 329.9h1.1M94.8 322.7h1.1M92.1 321.3h1.1M95.2 324.4h1.1M88.7 329.6h1.1M107 312h1.1M103.3 313.2h1.1M93.3 332.3h1.1M81.1 335.2h1.1M112.2 312.3h1.1M84.3 330.6h1.1M100.2 314.9h1.1M108.6 310.9h1.1M78.8 331.8h1.1M95.7 327.5h1.1M88.2 331.2h1.1M97.8 325.7h1.1M93.7 324.6h1.1M109.5 311.2h1.1M96.9 323h1.1M93.2 330.5h1.1M101.8 318.3h1.1M89 330.7h1.1M85.9 328.8h1.1M113.1 309.7h1.1M80.2 331.1h1.1M85.5 330.8h1.1M95.1 331.7h1.1M80.8 336.4h1.1M73.2 348.3h1.1M98.9 316.3h1.1M80 330.1h1.1M85.5 331.9h1.1M86.1 329.3h1.1M84.2 339.1h1.1M85.1 341.9h1.1M93.5 327.5h1.1M114.6 308.4h1.1M101.1 325.2h1.1M97.8 321h1.1M75.4 338.9h1.1M89.1 325.9h1.1M75.9 333.1h1.1M96.5 319h1.1M89.3 330.2h1.1M90.9 326.8h1.1M88.6 326.6h1.1M87.3 334.8h1.1M73.1 336.4h1.1M94.4 320.3h1.1M77.7 339.2h1.1M80.6 338.6h1.1M79.7 320.1h1.1M82 331h1.1M91.3 322.8h1.1M96.7 314.5h1.1M91 322.8h1.1M92.2 325.2h1.1M89.4 325.4h1.1M101 322.7h1.1M71.2 340.6h1.1M97.6 328.3h1.1M80.7 333.9h1.1M77.5 336h1.1M94.1 331.3h1.1M82.8 325.6h1.1M98.8 325.5h1.1M99.2 315.7h1.1M69.2 347.7h1.1M89.3 327.1h1.1M111.2 313h1.1M93.8 313.9h1.1M102.6 312.9h1.1M87.8 321.9h1.1M75 337.1h1.1M78.2 334.8h1.1M97.3 321.1h1.1M100.5 320.1h1.1M82.3 331.8h1.1M87.7 329.1h1.1M93.6 325.6h1.1M76.6 345.1h1.1M87.9 331h1.1M105.1 312.5h1.1M113 310.6h1.1M88.9 327.3h1.1M108.8 312.7h1.1M87.8 334.2h1.1M84.7 336.2h1.1M70.5 347.5h1.1M100.6 320.2h1.1M87.6 331h1.1M111.1 305.3h1.1M96.2 327.4h1.1M96.9 331h1.1M71.6 340.3h1.1M106.3 316.2h1.1M87.4 330.6h1.1M83.7 322.1h1.1M66 341.6h1.1M98.4 318.2h1.1M98.3 316.8h1.1M84.5 331.9h1.1M89.5 324.1h1.1M95.8 325.6h1.1M101.6 321.2h1.1M92.7 327.6h1.1M104.1 309.1h1.1M85 325.3h1.1M86.1 333.8h1.1M83.6 328.1h1.1M66.3 348.4h1.1M80.5 331.1h1.1M101.2 319.8h1.1M91.2 322.7h1.1M82.9 334.2h1.1M94.7 325.1h1.1M71.1 343.8h1.1M87.6 329.2h1.1M97 324.4h1.1M100.4 325h1.1M79.5 329.3h1.1M100.4 320.8h1.1M112.8 316.6h1.1M91.4 336.5h1.1M103.9 328.3h1.1M76.8 341.5h1.1M68.7 339.8h1.1M100.2 326.4h1.1M91.8 327.7h1.1M96.6 330.3h1.1M82.7 329.2h1.1M87.1 328.7h1.1M97.9 319.8h1.1M104.5 309.7h1.1M85.1 324.8h1.1M72.4 338.1h1.1M104.4 318.3h1.1M99.4 325.7h1.1M99.6 324.3h1.1M96.2 330.2h1.1M109.5 303.6h1.1M91.9 327.1h1.1M95.4 322.7h1.1M72.2 341.9h1.1M80.7 326.8h1.1M85.2 334.3h1.1M87.9 324.4h1.1M93.4 323.6h1.1M83.7 333.7h1.1M111.7 317.9h1.1M78.4 333.6h1.1M87.9 332.8h1.1M94 326.4h1.1M78 336.9h1.1M96.1 322.3h1.1M94.5 319.1h1.1M89.3 331.3h1.1M109 311.1h1.1M90.9 325.8h1.1M93.4 324.8h1.1M79.9 333.3h1.1M74.9 341.6h1.1M82 329.3h1.1M89.1 331.6h1.1M89.4 334.6h1.1M98.3 321h1.1M64.9 343.7h1.1M80.8 337.8h1.1M74.2 343.8h1.1M104.5 317.1h1.1M84.8 331.4h1.1M86.1 331.9h1.1M79.3 335.4h1.1M103.2 324.2h1.1M83.5 326.7h1.1M91.6 323.9h1.1M72.7 346.1h1.1M99.2 314.1h1.1M93.6 322.8h1.1M92.9 318.9h1.1M105.3 320.1h1.1M85.3 324.5h1.1M89 328.4h1.1M102.1 326.6h1.1M93.3 321.8h1.1M89 330h1.1M93.3 329.4h1.1M86.3 331.9h1.1M101.9 326.3h1.1M98.6 318h1.1M91.2 327.7h1.1M109.6 312.5h1.1M72.7 336.2h1.1M88.4 329h1.1M108.8 314.8h1.1M88.7 333.1h1.1M75.2 340.4h1.1M102.1 313h1.1M97.3 324.2h1.1M81.3 339.6h1.1M96.3 318.4h1.1M80.6 335.4h1.1M77.7 338.2h1.1M84.8 323.1h1.1M88.6 334.2h1.1M79.6 335.7h1.1M91 334.7h1.1M81.6 336.2h1.1M90.1 325.2h1.1M88.1 324.5h1.1M100.7 324.3h1.1M84.5 328.8h1.1M76.1 336.1h1.1M78.1 338.3h1.1M83.1 322.9h1.1M105.7 314.6h1.1M100.9 322.5h1.1M83.6 331.3h1.1M103.9 324.2h1.1M76.1 332.7h1.1M98.5 316.3h1.1M87.9 331.3h1.1M96.9 319.3h1.1M95.7 320.7h1.1M83.9 324.5h1.1M95.3 326h1.1M83.1 339.2h1.1M94.4 333h1.1M102 319h1.1M134.1 297.6h1.1M98 321.8h1.1M90.7 325.4h1.1M81.8 336.6h1.1M103.1 320.9h1.1M72 337.7h1.1M83.3 334.3h1.1M93.8 323.6h1.1M76.9 334.6h1.1M108.6 317.9h1.1M103.4 320.5h1.1M79.8 325.4h1.1M85.7 332.1h1.1M80.1 340.6h1.1M77.6 339.3h1.1M96.3 325h1.1M99.5 325.2h1.1M95.1 325.3h1.1M93.4 325h1.1M85.3 331.8h1.1M93.1 322.8h1.1M80.1 343.7h1.1M94 330.9h1.1M103.5 313h1.1M104.6 317.4h1.1M83.6 327.8h1.1M86.8 329.1h1.1M107.3 319.5h1.1M107.1 311.1h1.1M78.3 342h1.1M86 330h1.1M90.4 322.1h1.1M98.1 311.7h1.1M82.7 334.2h1.1M95.5 320.1h1.1M87.2 328.8h1.1M112.3 305.6h1.1M100.4 330.1h1.1M90.3 329.3h1.1M86.9 329.2h1.1M100.1 317.3h1.1M99 323.5h1.1M78.4 333.9h1.1M90.5 322.5h1.1M77.5 338h1.1M83.9 333.9h1.1M78.9 338.7h1.1M77.5 337.7h1.1M81.5 329.8h1.1M78 331.4h1.1M96.9 324h1.1M100.6 323h1.1M90.1 331.1h1.1M77.7 333.8h1.1M98.2 320h1.1M70.3 343h1.1M70.8 341.8h1.1M97.1 320.2h1.1M97.4 322.1h1.1M102.5 321.8h1.1M90 330.5h1.1M78.2 337.2h1.1M84.9 330.3h1.1M97.1 323.4h1.1M84.2 334.5h1.1M81 329.4h1.1M78.1 339.8h1.1M78.9 336.1h1.1M99.7 321h1.1M97.1 325.6h1.1M82.7 340.6h1.1M81.3 337.4h1.1M87 333.9h1.1M94.3 320.5h1.1M81.8 339.7h1.1M90 329.6h1.1M68.4 343.1h1.1M78.7 337.8h1.1M93.8 322.4h1.1M97.8 317.6h1.1M83 340.9h1.1M84.1 334.5h1.1M100.6 323h1.1M84.1 326.9h1.1M85.7 331.9h1.1M94.8 321.6h1.1M89.1 321.2h1.1M102.4 318.9h1.1M98.4 320.4h1.1M84.3 330.8h1.1M90.2 328.8h1.1M87.5 324.4h1.1M75.8 336.2h1.1M79.1 332.6h1.1M100.2 319h1.1M76 341h1.1M101.3 319.9h1.1M94.3 325.7h1.1M92.9 332.4h1.1M95.3 321.8h1.1M93.7 321.2h1.1M102.6 317.2h1.1M87.9 331.7h1.1M88.5 328.9h1.1M87.9 328.6h1.1M108.5 310.8h1.1M96.2 314.8h1.1M83.6 336.9h1.1M86.8 328.9h1.1M82.4 331.2h1.1M90.8 326.8h1.1M93.4 326h1.1M115.4 310.9h1.1M74.2 343.6h1.1M99.4 316.9h1.1M92 319.9h1.1M85.3 334.5h1.1M88.4 327.1h1.1M84.9 329.9h1.1M89.2 324.1h1.1M100.1 318.2h1.1M75.1 338.5h1.1M101.8 314.1h1.1M89.6 333.1h1.1M105.4 314.6h1.1M98.6 328.2h1.1M107.1 321.9h1.1M98.1 324.5h1.1M104.7 322.1h1.1M90.3 325.3h1.1M80.6 331.4h1.1M98.1 322.3h1.1M98.1 321.6h1.1M111.9 310.4h1.1M71.8 344.2h1.1M88.7 328.4h1.1M100.5 317.5h1.1M79.6 338.5h1.1M90.3 330.9h1.1M112.7 311h1.1M103 313.4h1.1M83.2 335.3h1.1M101.8 311.7h1.1M103 318h1.1M95.6 317.2h1.1M97.1 326.9h1.1M94.7 326.8h1.1M81.4 333h1.1M84.8 330.1h1.1M98.4 321.4h1.1M88 320.8h1.1M108.8 311.7h1.1M87.1 329.1h1.1M68.7 348.1h1.1M84.2 325.6h1.1M91.8 322.6h1.1M93.8 322.9h1.1M95 330.6h1.1M82.1 332.9h1.1M106.5 315.9h1.1M83.6 331.5h1.1M96 318.9h1.1M89.7 331.3h1.1M78.8 336.3h1.1M102.9 313.2h1.1M66.1 347.2h1.1M83.3 334.8h1.1M97.4 326.1h1.1M88.9 331.6h1.1M100.9 324h1.1M87.9 325.4h1.1M86.3 330.5h1.1M114.6 312.3h1.1M88.9 328.8h1.1M92.2 331.5h1.1M87.3 344.1h1.1M81.2 330.1h1.1M94.9 318.7h1.1M99.6 326.1h1.1M92.5 328.8h1.1M83.8 332.2h1.1M98.5 322.3h1.1M76.2 343.1h1.1M88.8 331h1.1M89.1 329.6h1.1M83.9 335.3h1.1M92.1 325.2h1.1M85 333h1.1M84.8 335.4h1.1M108.6 312.1h1.1M101.8 325h1.1M99.7 313.5h1.1M95.2 330.9h1.1M100.7 319.2h1.1M98 319.7h1.1M102.1 316h1.1M113.6 306.9h1.1M86.3 325.6h1.1M96 327.6h1.1M90.8 327.5h1.1M56.6 355.3h1.1M78.6 339.6h1.1M92.6 328.2h1.1M94.6 318.5h1.1M87 333.4h1.1M103.2 318.8h1.1M104.2 317h1.1M87.6 330.8h1.1M104.7 314.8h1.1M108.7 313h1.1M94.9 322.1h1.1M81.3 334.5h1.1M104.5 313.6h1.1M86.7 324.8h1.1M89.3 332h1.1M88.9 321.8h1.1M86.9 332.4h1.1M100.3 316.4h1.1M98.5 320.1h1.1M103.7 317.6h1.1M101 326.9h1.1M80.1 329.3h1.1M91.3 330h1.1M101.4 321.6h1.1M85.1 327.5h1.1M119.5 302.7h1.1M84.9 324.1h1.1M82 327.4h1.1M101 315.7h1.1M98 320.1h1.1M89.4 325.2h1.1M91.7 332h1.1M95 322.9h1.1M99.1 319.6h1.1M99.7 321.7h1.1M87.8 328.7h1.1M98.5 326.9h1.1M97.6 317.7h1.1M96 317.4h1.1M63.9 355.3h1.1M82.3 333.7h1.1M80.5 329.3h1.1M88.1 327.7h1.1M95.1 327.9h1.1M102.3 321.7h1.1M95.5 319.7h1.1M86.2 323.3h1.1M93.7 329.3h1.1M108.3 312.3h1.1M86.9 333.8h1.1M94.8 325h1.1M105.9 313.3h1.1M94.7 324.1h1.1M72.8 345.2h1.1M90.5 318.6h1.1M87.8 330.4h1.1M90.5 328.2h1.1M99.2 315.5h1.1M95.8 323h1.1M89.1 329.5h1.1M98 317.2h1.1M97.6 325.8h1.1M90.7 324.1h1.1M92 321.8h1.1M92.3 323.1h1.1M88.3 330h1.1M86.8 330.6h1.1M95 330.9h1.1M82.2 335h1.1M78.4 336.4h1.1M102.1 314h1.1M88.6 328.4h1.1M91.8 328h1.1M91.7 330h1.1M91.6 326.8h1.1M91.2 326.3h1.1M89.4 323.3h1.1M83.4 333.4h1.1M101.4 320.4h1.1M84.7 332.8h1.1M102.3 319.6h1.1M73 343.1h1.1M85.5 341h1.1M104.2 322.6h1.1M92.3 331h1.1M83.8 331.2h1.1M95.1 324h1.1M80.8 335h1.1M89.6 323.3h1.1M71.8 347.5h1.1M84.5 327.7h1.1M84.1 331.2h1.1M98 324.2h1.1M96.7 316h1.1M85.9 337.3h1.1M109.3 316.4h1.1M85.9 332.2h1.1M70.4 342.7h1.1M68.5 346.8h1.1M110.6 319.5h1.1M91 328.3h1.1M85.1 332.3h1.1M78.7 326.7h1.1M77.8 332.4h1.1M104.2 315.5h1.1M92.7 330.2h1.1M108 311.3h1.1M91.7 331.3h1.1M67.9 345.6h1.1M98.7 319h1.1M88.5 330.8h1.1M88.4 328.2h1.1M107.2 314.8h1.1M89.9 330.4h1.1M99.4 313.6h1.1M90 325.5h1.1M84.6 333.7h1.1M97.8 324.6h1.1M85 331.3h1.1M102.1 315.4h1.1M98.9 316.9h1.1M88.8 322.7h1.1M96.2 320.7h1.1M99.1 325h1.1M84.4 324.1h1.1M97.6 316.7h1.1M87.3 326.7h1.1M94.5 318.5h1.1M85.1 338.3h1.1M93 326.9h1.1M96.4 324.7h1.1M81.1 330.4h1.1M89.7 333.1h1.1M86.7 332h1.1M95.3 317.1h1.1M82.9 331.1h1.1M96.4 324.2h1.1M102.3 309.7h1.1M97.5 327.2h1.1M74.7 338.9h1.1M93 326.3h1.1M100.4 317h1.1M89.1 329.8h1.1M103.9 319.8h1.1M96.9 321.2h1.1M98.1 326.6h1.1M87.7 327.6h1.1M87 331.8h1.1M86.9 326.6h1.1M92.9 327.4h1.1M97.8 324.1h1.1M94.6 322.4h1.1M85.9 326.2h1.1M96.3 331.3h1.1M94.9 323.3h1.1M74.3 338.5h1.1M86.8 336.5h1.1M85.4 335.5h1.1M88.1 326.8h1.1M90.4 331h1.1M90.2 330.4h1.1M79.4 329.7h1.1M99.9 323.5h1.1M95.9 326.6h1.1M80.2 345.9h1.1M93.8 329.3h1.1M83 339h1.1M104.5 308.6h1.1M84.5 327.5h1.1M90.2 333.1h1.1M88.2 321.2h1.1M87.9 326.5h1.1M91.2 327.6h1.1M104.8 312.1h1.1M92.8 323.9h1.1M101.1 321.8h1.1M106 321.8h1.1M83.8 336.9h1.1M107.9 312.9h1.1M98.9 322h1.1M102.3 320.7h1.1M81 331.4h1.1M101.6 322.6h1.1M93.6 321.1h1.1M87.2 332.3h1.1M113.5 307.8h1.1M99.3 324.8h1.1M89.1 328.7h1.1M95 327h1.1M103.9 323.5h1.1M102.5 317.5h1.1M97.2 322.1h1.1M101.6 314.7h1.1M105.2 314h1.1M81.5 339.3h1.1M88 332.2h1.1M87.4 340.5h1.1M94.7 328.7h1.1M102.9 311.7h1.1M94.7 317.6h1.1M79.7 333.4h1.1M88 328.4h1.1M100.3 316.8h1.1M85.3 329.9h1.1M94.1 331.7h1.1M96.2 326.3h1.1M71.3 338.7h1.1M96.6 317.4h1.1M94.3 323.3h1.1M97.6 322.8h1.1M82.7 335.7h1.1M85.1 334.3h1.1M87.6 333.9h1.1M97.9 329.4h1.1M91.9 325.8h1.1M93.6 326.8h1.1M109.4 312.6h1.1M100.7 311.8h1.1M83.2 331.1h1.1M86.6 333.8h1.1M107 311.2h1.1M91.5 333h1.1M102.7 312.8h1.1M106.5 313h1.1M86.6 331.6h1.1M87.7 327.5h1.1M89.3 322.4h1.1M84 334.9h1.1M84 337.1h1.1M83.2 324.8h1.1M99.7 319.7h1.1M84 326.7h1.1M90.9 330.1h1.1M86.2 329.6h1.1M79.5 339.4h1.1M104.6 313h1.1M69.2 346.6h1.1M86.5 333.7h1.1M93.7 318.3h1.1M77.2 337.3h1.1M101.6 326.8h1.1M104.2 317h1.1M85 336h1.1M96 328h1.1M81.9 337.2h1.1M97.4 323.7h1.1M92.3 325.9h1.1M95.2 326.9h1.1M108.6 320.1h1.1M97.2 324.2h1.1M102.8 313.5h1.1M100.5 324.9h1.1M78.5 335h1.1M93.1 323.4h1.1M97.2 323.8h1.1M76.8 337.8h1.1M106 317.6h1.1M93 327.1h1.1M97.2 326.2h1.1M81.8 332.9h1.1M89.3 322.7h1.1M95.8 325.9h1.1M85.8 326.4h1.1M96.7 331.3h1.1M72.7 346.2h1.1M106.8 318.1h1.1M77.1 331.6h1.1M71.4 346h1.1M80.5 332.7h1.1M87.6 338.6h1.1M96.5 322h1.1M81.4 332.8h1.1M94.3 324.5h1.1M87.8 341.3h1.1M112.6 308.2h1.1M95.1 320.3h1.1M107.8 307.4h1.1M80.8 334h1.1M101.4 325.5h1.1M82.6 335.1h1.1M95.2 319.8h1.1M99.8 323.2h1.1M74.8 338.4h1.1M81.4 337.2h1.1M79.9 336.1h1.1M75.2 337.2h1.1M85.8 334.5h1.1M76.1 327.5h1.1M77 338.2h1.1M91.7 325.1h1.1M98.3 324.1h1.1M78.5 337.4h1.1M86.6 332h1.1M94.5 330.3h1.1M92.4 332.5h1.1M84 331.8h1.1M99.5 320.4h1.1M105.1 326.4h1.1M102.5 326.5h1.1M90 329.2h1.1M110.9 310.7h1.1M107.1 311h1.1M90.1 333.1h1.1M89 326.3h1.1M103.6 317.8h1.1M84.7 334.6h1.1M95.6 323.9h1.1M89.8 324h1.1M83.4 331.2h1.1M87.3 326.5h1.1M77.5 341.4h1.1M86.7 331.9h1.1M74.4 346h1.1M114.8 309.5h1.1M106.9 315.5h1.1M104.3 317.9h1.1M92.8 322.6h1.1M100.2 317.6h1.1M102.2 314.5h1.1M101 318.2h1.1M98.1 316.6h1.1M82.2 334h1.1M93.5 320.9h1.1M85.1 329.9h1.1M78.3 334.7h1.1M80.4 336.3h1.1M98.1 326.4h1.1M104.6 321.8h1.1M73.9 333.2h1.1M107.5 311.6h1.1M104.7 313.7h1.1M88 330.4h1.1M87.8 331.8h1.1M84.6 320.3h1.1M103.2 321.6h1.1M87.7 330.1h1.1M80.7 336h1.1M97 326.9h1.1M73.8 346.9h1.1M94.1 327.5h1.1M103.3 318.2h1.1M95.3 325.6h1.1M97.2 318.5h1.1M98.6 325.8h1.1M97.5 319.9h1.1M89.6 322h1.1M81.4 331.4h1.1M91.5 331.5h1.1M96.7 334.8h1.1M101.8 314.5h1.1M106.1 312.3h1.1M96.6 324.9h1.1M81.3 329.9h1.1M85 333.9h1.1M89.2 328.1h1.1M107 318.1h1.1M93.9 323.3h1.1M91.6 328.4h1.1M84.9 334.4h1.1M97.6 317h1.1M93.7 324h1.1M93.9 331h1.1M90.9 324.3h1.1M106 311h1.1M91.5 330.3h1.1M108.6 314h1.1M103.3 316.6h1.1M92.3 327.1h1.1M99.6 319.3h1.1M88.7 326.3h1.1M84.2 334.9h1.1M84.3 323.9h1.1M83.9 336.1h1.1M97.4 324h1.1M87.3 321.9h1.1M91.8 316.3h1.1M99.3 320h1.1M61.3 352.9h1.1M96.6 327h1.1M71.4 338.8h1.1M92.6 325.1h1.1M84.5 336.2h1.1M91.5 325h1.1M101.7 312.3h1.1M73.2 339.1h1.1M88.5 319.8h1.1M88.1 324.6h1.1M71.9 341.3h1.1M97.7 321.7h1.1M90.5 325.2h1.1M83.8 328h1.1M82.5 330.6h1.1M120.4 298h1.1M87 329.5h1.1M72.2 339.7h1.1M79.7 331.5h1.1M88.1 330.3h1.1M90.2 333.3h1.1M86.9 323.2h1.1M79.9 334h1.1M97.5 323.5h1.1M86.1 330.3h1.1M78.5 338.6h1.1M86.9 337.8h1.1M87.9 330.5h1.1M102.5 323.5h1.1M95.6 322.4h1.1M88.2 329.9h1.1M89.1 323.9h1.1M93.6 325.4h1.1M110.4 309.3h1.1M85.9 332.7h1.1M96.6 324h1.1M101.3 324.4h1.1M79.9 332.2h1.1M92.8 324.9h1.1M94.1 327h1.1M86.3 330.2h1.1M97.7 323.3h1.1M102.8 320.3h1.1M101.8 317h1.1M86.9 325.4h1.1M93.7 326h1.1M117.2 311.2h1.1M81.8 337.4h1.1M89.7 320.6h1.1M101.7 321.6h1.1M90.3 322.7h1.1M98.2 322.1h1.1M91.4 323.6h1.1M98.9 321h1.1M107.1 320.3h1.1M90 329.7h1.1M88.8 320h1.1M91 327.7h1.1M86.2 328.8h1.1M91.8 327.9h1.1M80.5 336.5h1.1M97.9 320h1.1M106.9 311.8h1.1M103.3 307.4h1.1M103.7 316.5h1.1M82.3 335.2h1.1M107.5 316.1h1.1M87.1 336h1.1M94.1 331.3h1.1M107.9 310.1h1.1M84.7 340.3h1.1M96.5 316.5h1.1M92.2 322.4h1.1M90.4 328.9h1.1M85.2 336.9h1.1M95.3 323.3h1.1M86.7 330.6h1.1M99.1 315.5h1.1M104.8 318.7h1.1M78.6 339.1h1.1M86.5 331.1h1.1M88.8 330.2h1.1M81.1 338.1h1.1M84 340.3h1.1M95.6 330.2h1.1M90.7 330.3h1.1M75.7 340.9h1.1M84 328.8h1.1M91.5 316.9h1.1M76 332.5h1.1M81.5 333.4h1.1M102.8 309.2h1.1M104.4 316.4h1.1M76.6 341.4h1.1M73.3 332.2h1.1M97.2 326.4h1.1M80.5 337.7h1.1M89.4 329.6h1.1M83.8 326.9h1.1M98 323.8h1.1M65 345.6h1.1M70.7 345.9h1.1M81.9 339.9h1.1M100.7 318h1.1M89.4 327.7h1.1M77.1 343.7h1.1M97.9 325h1.1M99.8 323.1h1.1M86.9 326.5h1.1M87.1 328.4h1.1M95 322.7h1.1M102 315.7h1.1M93.8 326.8h1.1M95.5 321.3h1.1M92.1 328.8h1.1M90.3 333.3h1.1M83.8 336.1h1.1M93.3 324.2h1.1M88.2 329.1h1.1M86.7 326.2h1.1M103.9 323.5h1.1M96.5 323.4h1.1M98.9 318.8h1.1M77.9 342.2h1.1M96.2 321.7h1.1M86.4 332.7h1.1M85.8 336.3h1.1M80.6 331h1.1M106 320.4h1.1M97.3 317.6h1.1M85.2 333.8h1.1M82.2 338.5h1.1M93.3 329h1.1M88.3 332.5h1.1M109.2 315.4h1.1M76.5 338.2h1.1M77.3 346.5h1.1M86.2 325.9h1.1M89.6 324.7h1.1M89.7 322.3h1.1M100.7 323.1h1.1M116.3 315.7h1.1M89.2 331.2h1.1M86.3 331.7h1.1M73.5 340.5h1.1M94.7 326.2h1.1M99.8 320.1h1.1M88.4 328.6h1.1M106 321h1.1M87.8 322.1h1.1M108.4 317.3h1.1M94 323.5h1.1M78.7 332.8h1.1M86.7 334h1.1M76.3 339.4h1.1M70.9 337h1.1M94.5 325.4h1.1M97.6 317.1h1.1M109.7 310.1h1.1M90.3 326.7h1.1M87.5 327h1.1M80.9 336.5h1.1M101.3 319.3h1.1M93.1 321.3h1.1M84.9 331.1h1.1M96.9 320h1.1M99.2 325.2h1.1M73 342.1h1.1M96 317.8h1.1M90.7 323.5h1.1M86.7 329.2h1.1M88.3 331.5h1.1M109.6 314.1h1.1M105.3 313.2h1.1M106.1 308.4h1.1M80 336.1h1.1M82.2 329h1.1M100.7 320.2h1.1M77 333.7h1.1M86.3 335.2h1.1M73.3 341.1h1.1M111.5 314.3h1.1M100.2 316.5h1.1M94.5 321.7h1.1M95.4 327.4h1.1M88.7 332.1h1.1M88.3 331.2h1.1M100.4 325.5h1.1M86.3 335h1.1M105 318.9h1.1M84.8 328.9h1.1M79.9 330.5h1.1M104.8 317.3h1.1M90.5 328.7h1.1M96.2 321.8h1.1M88.3 331.5h1.1M69.9 345.9h1.1M94.8 320.3h1.1M77.7 337.3h1.1M102 318.2h1.1M77.3 341h1.1M70 338.4h1.1M95.5 325.8h1.1M95.1 323.1h1.1M94.4 328.5h1.1M80.7 338.3h1.1M99.7 319.3h1.1M77.8 339.8h1.1M85.6 329.3h1.1M83.4 333.1h1.1M90.5 333.4h1.1M104.4 325.6h1.1M83 329.6h1.1M98 323.7h1.1M94.9 317.5h1.1M74.6 340.8h1.1M81.5 338.3h1.1M86.4 328.6h1.1M86.1 332.4h1.1M94.2 324.3h1.1M74.4 345h1.1M97 319.4h1.1M96.2 318h1.1M90.7 329.5h1.1M74.1 333.7h1.1M92.5 328.2h1.1M85.5 330.6h1.1M100.2 326.3h1.1M94.4 332.3h1.1M94 315.7h1.1M84.1 326.9h1.1M102.9 312.2h1.1M72.3 349.9h1.1M80.9 334.6h1.1M95.2 321.8h1.1M76.4 339h1.1M97.8 320.1h1.1M81.3 339.1h1.1M92.5 326.5h1.1M84.7 337.2h1.1M87.7 331.3h1.1M92.2 324.5h1.1M91.9 329.6h1.1M88.1 330.7h1.1M113.1 310.3h1.1M91.3 326.7h1.1M79.9 332.5h1.1M99.8 318.7h1.1M98.4 319.2h1.1M106.2 320.4h1.1M109.4 313.1h1.1M80.4 332.5h1.1M103.4 320.3h1.1M103.3 318.6h1.1M93.3 329.3h1.1M90.9 321.5h1.1M63 352.5h1.1M87.2 333.4h1.1M107.4 310.7h1.1M71.6 338.7h1.1M85 330h1.1M92 322.1h1.1M96.4 321.6h1.1M107.4 313.8h1.1M75 342.4h1.1M92.7 327.8h1.1M100.9 321.3h1.1M77.7 336.7h1.1M91.1 327.5h1.1M109.5 311.2h1.1M102.8 314.6h1.1M96.6 322.6h1.1M68.7 351.7h1.1M91.7 329.9h1.1M97.4 326.5h1.1M92.2 334.1h1.1M90.4 327.1h1.1M123.8 304.6h1.1M91.9 331.8h1.1M84.1 337.5h1.1M91.8 322.7h1.1M88.8 330.2h1.1M86.2 326.9h1.1M90.6 327.8h1.1M99.7 321.6h1.1M92.4 323.5h1.1M78.3 335.2h1.1M89.7 327.7h1.1M98.1 325.6h1.1M87.7 331.8h1.1M104.9 320.4h1.1M99.4 321.1h1.1M81.4 334.7h1.1M91.3 320.6h1.1M107.7 307.1h1.1M105.1 312.4h1.1M88.7 325h1.1M99.5 318.9h1.1M78.9 325.5h1.1M74 334.9h1.1M91.2 315.8h1.1M92.9 323.9h1.1M95.4 321.6h1.1M88.8 324.5h1.1M94.1 323.7h1.1M85.6 330.3h1.1M98 325.5h1.1M97.4 317.7h1.1M90.4 327h1.1M97.5 318.2h1.1M74.5 341.9h1.1M87.3 337.7h1.1M104.3 313.8h1.1M106 309.6h1.1M96.4 328h1.1M92.3 330.1h1.1M79.6 338h1.1M95.3 324.5h1.1M102.4 324.7h1.1M73.2 334.6h1.1M94.6 319.8h1.1M97.4 324.4h1.1M99.4 327.8h1.1M79.5 335.2h1.1M92.4 317.5h1.1M75 337.1h1.1M103.4 311.8h1.1M94.6 328.1h1.1M79.5 335.8h1.1M107.5 319.6h1.1M98.4 312.5h1.1M83.8 330.8h1.1M117.2 314.1h1.1M85.4 339.7h1.1M93.3 323.1h1.1M102.5 316.9h1.1M69.8 346.2h1.1M99.8 317.2h1.1M86.5 322.4h1.1M90.4 326.1h1.1M84.6 340.2h1.1M94.9 324.6h1.1M83.2 339.2h1.1M83.5 336.8h1.1M86.3 329.7h1.1M79.7 337.4h1.1M108.8 316.7h1.1M78.4 337.8h1.1M85.6 335.1h1.1M87.1 328.2h1.1M91.8 327.5h1.1M98.2 319.4h1.1M99.8 320.9h1.1M86.8 327.5h1.1M87.8 330.4h1.1M91.7 326.6h1.1M100.5 321.6h1.1M97.8 320.8h1.1M90 335.5h1.1M65.7 337.1h1.1M113.6 311.1h1.1M100.4 318.9h1.1M94.9 325.9h1.1M95.6 325.3h1.1M85.4 330.2h1.1M82.6 336.4h1.1M89 330.7h1.1M92 332.2h1.1M87.1 334.3h1.1M79.6 341.7h1.1M84.5 325h1.1M99.7 325.5h1.1M88.7 333.6h1.1M91.1 326.3h1.1M68.2 340.3h1.1M92.8 332.8h1.1M93.4 331.8h1.1M79.1 336.6h1.1M73.8 340.2h1.1M98.3 327.1h1.1M87.2 338h1.1M98.1 325.3h1.1M85.7 328.5h1.1M97.5 321.9h1.1M86.5 327.8h1.1M76.9 339.5h1.1M90.6 327.7h1.1M86.8 328.1h1.1M98 321.8h1.1M86.4 330h1.1M89.4 332.4h1.1M101 321.4h1.1M101.7 316.2h1.1M99.2 321.3h1.1M103 320.3h1.1M94.4 321.6h1.1M97.7 319.3h1.1M99.9 319.8h1.1M96.8 325.5h1.1M90.1 324.2h1.1M87.5 319.6h1.1M116.5 309.3h1.1M94.7 330.7h1.1M90.7 330.8h1.1M89.7 332.2h1.1M93.6 330.4h1.1M96.2 327.9h1.1M78.5 334.1h1.1M70.2 341h1.1M91.1 320.8h1.1M74.1 338.2h1.1M94.9 326h1.1M90.4 323.1h1.1M103.8 319h1.1M108.3 314.1h1.1M97.4 326.8h1.1M83.4 328.4h1.1M77.8 334h1.1M84.6 334.6h1.1M92.4 327.4h1.1M71.1 343.8h1.1M91.7 325.8h1.1M89.5 324.9h1.1M97.5 321.5h1.1M87.2 328.7h1.1M95.5 329.8h1.1M84.8 333.7h1.1M90.6 335.2h1.1M70.4 337h1.1M89.6 322.5h1.1M104.9 312.5h1.1M90.6 322.9h1.1M90.7 319h1.1M79.8 332.6h1.1M108.6 319.2h1.1M84.3 333.7h1.1M104.1 326.2h1.1M94.1 328.1h1.1M84.6 337.9h1.1M101.4 318.6h1.1M90.7 325.9h1.1M95 327.8h1.1M96.3 324h1.1M90.6 326.4h1.1M88 330.4h1.1M96.3 323.6h1.1M92.4 336.3h1.1M92.9 327.5h1.1M83.2 330.5h1.1M76.3 338.5h1.1M87.9 336.2h1.1M87.1 331.7h1.1M91 326.2h1.1M104.9 319.7h1.1M73.5 339.1h1.1M94.3 327.9h1.1M70.5 345.9h1.1M81.4 335.8h1.1M81.8 325.6h1.1M70.1 346.2h1.1M74.5 343.6h1.1M91.4 323.9h1.1M93.1 327.5h1.1M89.9 327.4h1.1M88.2 339.2h1.1M111.7 308.6h1.1M89.8 328.3h1.1M85.7 337.2h1.1M104.9 309.9h1.1M97.8 322.5h1.1M88.2 330.5h1.1M105.7 320.5h1.1M96.3 329.7h1.1M98.8 323.1h1.1M96.8 328.8h1.1M80.3 334.2h1.1M99 316.9h1.1M94.3 327.2h1.1M84.9 339.2h1.1M84.8 334.2h1.1M102.9 321.8h1.1M87.4 329.6h1.1M91.4 326.1h1.1M98.6 322.7h1.1M92.5 325.7h1.1M74.3 336.9h1.1M94 317.5h1.1M101.6 320.6h1.1M98.3 318.1h1.1M107.6 314.3h1.1M97.1 326.6h1.1M96.3 317.4h1.1M106 313h1.1M88.2 329h1.1M107.5 311.9h1.1M108.6 313.2h1.1M101.2 323.2h1.1M105.6 307.5h1.1M97.8 317.8h1.1M82.2 333.5h1.1M100.4 315.3h1.1M91.9 321.1h1.1M95.8 324.1h1.1M91.7 324.3h1.1M105.3 316.7h1.1M95.4 320.9h1.1M85.1 333.3h1.1M91 316.9h1.1M99.2 321.9h1.1M83.2 331.6h1.1M86.2 329.4h1.1M88.3 330.9h1.1M83.5 329.6h1.1M94.9 324.3h1.1M102.2 319.7h1.1M109.8 311.5h1.1M104.6 319.1h1.1M98.8 315.6h1.1M101.2 316.1h1.1M102.3 313.6h1.1M90.5 333.4h1.1M97.6 320.6h1.1M96.1 326.3h1.1M89.9 327.8h1.1M84.3 327.5h1.1M85.9 330.5h1.1M89.1 329.6h1.1M77 334.3h1.1M94.4 320.2h1.1M87.3 322.6h1.1M96.3 330.7h1.1M94 323.4h1.1M99.3 322.1h1.1M87.4 334h1.1M90.1 327.6h1.1M78.1 343h1.1M74.4 350.7h1.1M74.4 345.1h1.1M106.9 315.1h1.1M69.7 337.3h1.1M97.5 324.9h1.1M108.2 317.8h1.1M91 335.6h1.1M108 314.5h1.1M109.9 312.5h1.1M100.3 318.9h1.1M117.5 311.2h1.1M99 323.8h1.1M89 338.6h1.1M96.1 322.3h1.1M90.4 334.5h1.1M84.4 344.5h1.1M76.6 334.5h1.1M112.9 306.8h1.1M85.4 330.5h1.1M90.5 326.3h1.1M87.1 334.9h1.1M90.6 323.1h1.1M91.3 331.5h1.1M83.5 325.5h1.1M79.2 336.3h1.1M81.6 343h1.1M82.4 330.8h1.1M90.2 319.6h1.1M112.3 310.5h1.1M99.5 315.6h1.1M109.7 312.5h1.1M97.5 324.5h1.1M96.1 334h1.1M76 334.6h1.1M92.5 327.9h1.1M69.8 343.4h1.1M91 332.1h1.1M109.3 315.8h1.1M92.4 321.4h1.1M103.3 318.6h1.1M88.7 330.9h1.1M80.8 341.2h1.1M86.5 330.2h1.1M86.1 328.1h1.1M104.3 318.1h1.1M111.2 311.1h1.1M86.9 335.9h1.1M85.2 326.2h1.1M91.5 329.5h1.1M88.5 330h1.1M76 332.8h1.1M93 326.6h1.1M98.4 327.7h1.1M97.3 325.9h1.1M80.6 337.5h1.1M86.8 323.3h1.1M74.2 340.4h1.1M101 319.8h1.1M80 333h1.1M86.2 325.7h1.1M88.8 332.3h1.1M82.9 327.9h1.1M79.5 333.3h1.1M73.5 340.1h1.1M113.5 318.5h1.1M93.7 324.1h1.1M91.3 321.1h1.1M112.7 310.2h1.1M85.8 321.8h1.1M96.9 322h1.1M94 329.1h1.1M102 315.5h1.1M95.9 321.9h1.1M93 322h1.1M89.6 329.3h1.1M91.6 321.1h1.1M104.2 318.6h1.1M71.1 343.4h1.1M93 330.9h1.1M89.3 332.1h1.1M88.3 328.6h1.1M73.8 344.5h1.1M99.7 321.8h1.1M83.9 334.1h1.1M88.9 327.9h1.1M85.1 328.9h1.1M73.8 338.4h1.1M85.2 327.8h1.1M73.3 341.2h1.1M83.6 335.8h1.1M91.9 333.2h1.1M92.3 327.6h1.1M93.9 328.2h1.1M94.1 332.4h1.1M109 305h1.1M99.8 327.7h1.1M79 335.8h1.1M84.5 330.3h1.1M85.8 332.6h1.1M84.5 321.6h1.1M85.7 331.6h1.1M84.9 335.6h1.1M104 308.7h1.1M93.8 328.3h1.1M91.4 333h1.1M91.3 331.3h1.1M90.9 330.1h1.1M105.1 315.1h1.1M95.6 321.9h1.1M105.8 321.3h1.1M60.6 351.3h1.1M90.1 318.4h1.1M103.5 319.8h1.1M111.2 310.8h1.1M90.5 324.7h1.1M72.4 337.7h1.1M98.8 323.5h1.1M87.9 334h1.1M76.4 343.9h1.1M83.3 328.9h1.1M100.1 315.7h1.1M108 322.3h1.1M103.2 326.1h1.1M84.1 338.3h1.1M119.4 309.8h1.1M79.4 335.2h1.1M90.5 326.7h1.1M73.5 333.5h1.1M102.8 313.8h1.1M95.8 322.7h1.1M97.9 316.4h1.1M94.5 328.1h1.1M94 330.7h1.1M93.3 325.1h1.1M71.3 339.7h1.1M104.8 322.6h1.1M98.7 316.9h1.1M86.1 327.7h1.1M92.7 328h1.1M94.3 323.7h1.1M107.6 314.4h1.1M95.8 322.9h1.1M90.4 324.2h1.1M88.5 332.8h1.1M74.9 336.3h1.1M84.1 329.3h1.1M90.5 323.7h1.1M93.5 333.6h1.1M96.4 330.7h1.1M97.6 318.7h1.1M97.2 324.5h1.1M95.9 326.1h1.1M99.8 323.1h1.1M96.4 328.4h1.1M92.1 327.5h1.1M97.9 324.5h1.1M76.3 342.4h1.1M103 315.1h1.1M81.7 340.1h1.1M97.6 316.9h1.1M96.6 332.1h1.1M97.3 311.1h1.1M95 329.7h1.1M81.4 332.8h1.1M100.3 315.4h1.1M93.6 325h1.1M91.4 323.7h1.1M92.8 326.1h1.1M105.3 322.8h1.1M99.1 319h1.1M91.6 321.7h1.1M77.9 340.6h1.1M91.5 334.1h1.1M94.1 327.2h1.1M108.6 311h1.1M94.9 322.6h1.1M88.6 324.5h1.1M102.3 315.3h1.1M89.7 326.1h1.1M95.8 331.8h1.1M88.7 319.6h1.1M77.2 338.6h1.1M99.4 316.5h1.1M96.7 323.9h1.1M89.4 329.2h1.1M80.6 335.7h1.1M90.6 320.7h1.1M102.3 311.2h1.1M84.3 330.2h1.1M77.3 330.1h1.1M96.8 324h1.1M75.2 338.2h1.1M71.2 345.8h1.1M84.8 326.8h1.1M85.1 332h1.1M87.1 326.3h1.1M82.8 326.6h1.1M99.5 329h1.1M85.1 322.8h1.1M85.4 330.5h1.1M88.1 331h1.1M102.1 326.1h1.1M101.9 319.4h1.1M105.6 324.9h1.1M98.5 320.5h1.1M60.1 353.9h1.1M78.2 330h1.1M89.5 329.8h1.1M91.6 322h1.1M73.6 336.7h1.1M101.3 309.5h1.1M95.4 324.6h1.1M84.2 329.6h1.1M96.7 329h1.1M90.9 332.1h1.1M85.1 333.3h1.1M96.9 322.3h1.1M90.1 333.2h1.1M79 339h1.1M84.2 329.8h1.1M91.8 328.5h1.1M81.7 335.6h1.1M106.1 318.4h1.1M78.3 331.8h1.1M105.2 307.5h1.1M100.2 318.6h1.1M83 334.4h1.1M89.6 321.1h1.1M102.4 315.5h1.1M91.5 329.7h1.1M83.2 339.6h1.1M94.3 327h1.1M106.6 304.5h1.1M78.7 340.1h1.1M91.2 314.5h1.1M92 326.3h1.1M91.3 327.9h1.1M85.3 326.2h1.1M89.4 329.6h1.1M101.2 316.9h1.1M100 324.1h1.1M84.9 337.7h1.1M108.7 315.5h1.1M78.8 336.4h1.1M99.8 322.6h1.1M98 329.8h1.1M102.6 315.3h1.1M95.8 323.8h1.1M102.9 318.4h1.1M93.1 328.1h1.1M106.3 324.1h1.1M91.9 319.4h1.1M113.9 310h1.1M84.1 330.7h1.1M100.6 313h1.1M94.1 319.6h1.1M93.3 324.3h1.1M86.5 330.9h1.1M95.7 321.9h1.1M75.7 336h1.1M77.4 336h1.1M99.9 321.6h1.1M75.9 337.9h1.1M105.2 313.6h1.1M87.8 326.8h1.1M94 323.7h1.1M89.8 322.2h1.1M95.7 322.3h1.1M87.4 326.3h1.1M88.3 329.2h1.1M92 328.8h1.1M104.3 320.1h1.1M103.4 317.4h1.1M103.3 314.5h1.1M92.9 320h1.1M90.3 328.1h1.1M76.8 341.3h1.1M99.4 322.3h1.1M97.5 316.1h1.1M87.9 329.3h1.1M101 320.9h1.1M103 313.8h1.1M95.8 328.9h1.1M102.1 317.3h1.1M95.1 323.8h1.1M75.4 340.8h1.1M89.9 333.1h1.1M85.9 327.1h1.1M93.6 317.6h1.1M86.5 336.7h1.1M87.5 329.5h1.1M81.3 332.5h1.1M86.8 320.8h1.1M93.6 326.7h1.1M103.6 320.7h1.1M99.8 319.7h1.1M89.3 319.8h1.1M94.2 324.1h1.1M92.5 324.7h1.1M89.3 320.8h1.1M111.7 319h1.1M72.5 352.1h1.1M88.4 325.4h1.1M93.4 321.7h1.1M106 320.5h1.1M80.3 333.9h1.1M95.3 323.3h1.1M100 318.6h1.1M89.4 331.9h1.1M74.4 343h1.1M90.4 331.4h1.1M80.2 335.9h1.1M98.9 321.5h1.1M80.2 328.9h1.1M108 310.1h1.1M96.8 329.1h1.1M83.3 331.8h1.1M84.1 326.7h1.1M80.8 334.5h1.1M93.5 320.3h1.1M106.6 314.1h1.1M88.4 326.2h1.1M103.1 321.1h1.1M81.2 332h1.1M98 327.2h1.1M111.7 304.1h1.1M81.6 341.6h1.1M108.6 321.6h1.1M102.3 315.3h1.1M74.1 342.1h1.1M77.8 337.7h1.1M81.6 333.1h1.1M101.5 318.4h1.1M89.8 332h1.1M90 327.1h1.1M98.2 319.6h1.1M92.1 324h1.1M90 319.3h1.1M90.5 330.8h1.1M102.8 316.9h1.1M83.3 331.2h1.1M109.3 313.7h1.1M91.3 332.1h1.1M85.5 334.2h1.1M96.1 318.3h1.1M97 323.3h1.1M71.4 340.9h1.1M95.8 326.3h1.1M77.9 336.2h1.1M85.4 334.8h1.1M101.5 322h1.1M83.4 333h1.1M95.4 323.2h1.1M85.2 325.6h1.1M114.3 314.6h1.1M90 325.8h1.1M77.1 331.8h1.1M78.3 331.9h1.1M84 334.7h1.1M94.7 327h1.1M93 327.6h1.1M100.8 317.6h1.1M93.2 324.5h1.1M92.5 324.4h1.1M93.8 322.1h1.1M93 330.1h1.1M97.2 326.8h1.1M102.2 323.1h1.1M102.4 323.3h1.1M86.8 331h1.1M74 340h1.1M78.6 326.5h1.1M93.5 322.7h1.1M67.6 346.7h1.1M84.2 326.6h1.1M97.9 324.6h1.1M85.7 330.1h1.1M78.9 333h1.1M107.3 310h1.1M104.5 314h1.1M90.1 329.4h1.1M107.4 318.7h1.1M104.9 316.1h1.1M82.1 337.2h1.1M116.5 302.7h1.1M83 334.4h1.1M88.1 327.1h1.1M84.6 339.5h1.1M90.5 323.3h1.1M80.9 339.3h1.1M95.1 330.5h1.1M105.3 321.1h1.1M95.3 326.3h1.1M86.9 325.7h1.1M105.4 312h1.1M85.6 336.8h1.1M101.1 318.3h1.1M89.1 329.2h1.1M97.3 328.7h1.1M94.2 328.7h1.1M97.4 330.6h1.1M93.1 329.1h1.1M89.8 339.6h1.1M87.9 333.1h1.1M98.1 325.2h1.1M92.4 329.4h1.1M82.2 338.1h1.1M82.4 329.3h1.1M85.7 333h1.1M90.7 326.3h1.1M91.9 323.1h1.1M90.7 323.5h1.1M83.9 330.1h1.1M93.1 327.8h1.1M80.7 340.5h1.1M65.3 352.1h1.1M92.2 328.2h1.1M75.6 340.1h1.1M82.6 334.5h1.1M77.6 333.6h1.1M98 321.7h1.1M76 331.9h1.1M92.1 321.7h1.1M87.9 331.8h1.1M77.7 334.5h1.1M82.4 346.8h1.1M93.1 319.3h1.1M94.5 322.4h1.1M98.3 319.3h1.1M113 316h1.1M88.8 318h1.1M94.8 325h1.1M90.6 328.1h1.1M90.1 323h1.1M88.5 330.1h1.1M84.6 336.2h1.1M109.5 308.7h1.1M75.5 344.5h1.1M92.4 322.8h1.1M95.5 322.8h1.1M90.5 322.6h1.1M84.7 337.7h1.1M86.9 325.2h1.1M86.3 329.8h1.1M76.7 330.5h1.1M92.3 328.8h1.1M83.5 325.4h1.1M84.5 329.5h1.1M96.3 319.2h1.1M82.6 337.3h1.1M94.4 321.8h1.1M84 330.1h1.1M97.3 325.5h1.1M94.5 329.2h1.1M95.3 326.9h1.1M78.6 331.2h1.1M83.4 332.8h1.1M81 331.5h1.1M92.3 324.7h1.1M98.3 320.5h1.1M101.3 317.5h1.1M87.3 332h1.1M89.5 323.1h1.1M75.1 339.7h1.1M69.2 344.5h1.1M85.8 337.5h1.1M84.1 331.6h1.1M77.6 341.3h1.1M75 342.7h1.1M94.2 320h1.1M85.7 336.3h1.1M75.3 341.2h1.1M112.4 306.4h1.1M90.4 322.6h1.1M89.2 330.9h1.1M97.1 320.7h1.1M83.1 332.5h1.1M109 316.9h1.1M80.7 345h1.1M82.5 342.6h1.1M88.5 326.6h1.1M83.4 333h1.1M107.6 319h1.1M76.9 341.8h1.1M84.8 334.1h1.1M94.1 326h1.1M96.6 322.6h1.1M96.1 313.3h1.1M96 326.3h1.1M112.1 308.8h1.1M88.1 332.9h1.1M94 327.3h1.1M101.2 322.4h1.1M88.4 330.3h1.1M89.3 330.9h1.1M85.7 330h1.1M84.3 331.9h1.1M81.9 338.6h1.1M81.5 326.8h1.1M78.4 342.8h1.1M93.9 323.2h1.1M70.8 334.7h1.1M112.5 312.2h1.1M104.6 310h1.1M98.6 314.6h1.1M88.1 328.1h1.1M89.1 336.7h1.1M99.7 313.6h1.1M92.4 325.5h1.1M97.5 324.1h1.1M81.2 329.9h1.1M102.8 320.4h1.1M80.8 331.1h1.1M93.1 327.8h1.1M72.9 340h1.1M86.8 335.3h1.1M96.5 324.2h1.1M88.4 333.3h1.1M88 332.7h1.1M98.1 320.4h1.1M90.5 328.3h1.1M102.5 316.7h1.1M64.6 343.7h1.1M96.6 322.9h1.1M99.7 327.9h1.1M76.4 340.6h1.1M78 337.7h1.1M97.1 317.6h1.1M78.2 333.4h1.1M82.6 330.1h1.1M97.1 323h1.1M86.2 328.4h1.1M98.5 327.1h1.1M79.6 331.1h1.1M92.7 323.8h1.1M100.2 317.2h1.1M94.7 325.6h1.1M69.4 345.1h1.1M98.5 323.7h1.1M90.1 325.4h1.1M84.8 338.1h1.1M102.2 313.5h1.1M72.7 340.1h1.1M104.6 306.9h1.1M84.7 332.6h1.1M106.2 314.7h1.1M89.9 327.2h1.1M77.8 338.1h1.1M91.9 326.8h1.1M96.3 327.4h1.1M98.4 325.7h1.1M102.3 320.1h1.1M82.7 335.4h1.1M98.1 326.3h1.1M100.4 324.3h1.1M88.7 330.3h1.1M80.1 333.1h1.1M81.9 335.6h1.1M96.6 319.5h1.1M96.4 318.3h1.1M81.1 332.1h1.1M78.7 339.3h1.1M103.6 318.3h1.1M79.7 344.7h1.1M93.8 327.8h1.1M81.9 332.7h1.1M76 344.4h1.1M89.1 322.9h1.1M85.9 325.2h1.1M105.5 316.5h1.1M110.8 306.5h1.1M91.9 332.5h1.1M102.9 321.6h1.1M101.7 319.8h1.1M85.7 331.6h1.1M82.7 334.9h1.1M108.2 316.4h1.1M83 325.3h1.1M89.9 326.8h1.1M87.3 329h1.1M88 326.7h1.1M84.5 331.8h1.1M98.5 321.8h1.1M104.1 318.5h1.1M90.6 334.5h1.1M74.2 334.8h1.1M93.2 329.3h1.1M79.9 343.7h1.1M86.3 334.6h1.1M106.1 321.4h1.1M109 303.4h1.1M93.6 323.3h1.1M77.4 332.4h1.1M95.2 317.3h1.1M67.8 344.2h1.1M82.8 331.5h1.1M107.1 316.8h1.1M98.1 321.5h1.1M78.6 340.1h1.1M74.5 340.8h1.1M100.5 322.2h1.1M87.6 324.5h1.1M83.4 330.2h1.1M95 324.2h1.1M88.7 336.3h1.1M70.7 341.2h1.1M96.7 318.5h1.1M84.6 332.8h1.1M83.7 338.7h1.1M76.9 337.1h1.1M90.9 322.6h1.1M87 338.8h1.1M95.6 320.8h1.1M92 334.1h1.1M101.1 318.3h1.1M83.3 326h1.1M84.2 332.4h1.1M70.6 342.2h1.1M80.8 337.1h1.1M97.7 321.5h1.1M115.4 296.5h1.1M75.8 334.1h1.1M81.4 336.6h1.1M94.8 325.6h1.1M95.3 323.4h1.1M79.5 327.3h1.1M91.1 326.2h1.1M72.8 337.6h1.1M88.6 330.7h1.1M102.2 323.2h1.1M103.8 310.7h1.1M89.3 328.9h1.1M89.9 331.4h1.1M96.6 325.4h1.1M102.9 320h1.1M96.8 324.9h1.1M86.8 337.3h1.1M91.7 321.4h1.1M99.3 318.5h1.1M81.8 330.7h1.1M78.5 339.1h1.1M95 322.3h1.1M94 323.9h1.1M97.6 316.5h1.1M89.9 324.5h1.1M83.8 331.7h1.1M87.9 332.5h1.1M83.4 338.7h1.1M83.3 337h1.1M86.7 333.5h1.1M87.2 332.6h1.1M104.2 321.4h1.1M75.4 333.1h1.1M89.7 327h1.1M89.4 337.2h1.1M107.5 318h1.1M96.2 328.6h1.1M86.7 329.7h1.1M96.4 318h1.1M93.5 329.2h1.1M84.9 329.6h1.1M106.3 315.5h1.1M95.3 318.6h1.1M104.7 309.8h1.1M101.4 317.1h1.1M96.8 319.1h1.1M92.1 326.2h1.1M81.1 337h1.1M100.2 324.4h1.1M90.8 325.8h1.1M97.5 321.9h1.1M91.6 328.3h1.1M84.3 333.1h1.1M81.5 335.9h1.1M99.8 324.2h1.1M104.5 318.1h1.1M85.6 326.7h1.1M95.8 324.1h1.1M101.3 312.5h1.1M85.2 336.9h1.1M90.4 333.4h1.1M79.8 336h1.1M100.6 315.7h1.1M94.8 326.8h1.1M85.1 329.4h1.1M72.9 338.3h1.1M86.9 326h1.1M100.8 319.4h1.1M88.1 329.8h1.1M90.3 334.8h1.1M97 321.9h1.1M78.4 336.5h1.1M88.4 323.2h1.1M99.4 325.6h1.1M85.1 335.7h1.1M85 336.5h1.1M91.4 322.9h1.1M95.3 334.4h1.1M90.9 331.8h1.1M88.6 320.3h1.1M91.7 323.7h1.1M84.8 338.1h1.1M84.6 332.8h1.1M93.5 321.4h1.1M100.6 316.7h1.1M104.5 316.7h1.1M84.4 336.1h1.1M99.8 316.2h1.1M98.3 321h1.1M88.9 325.4h1.1M94.8 322.2h1.1M99.9 321.6h1.1M105.2 309h1.1M81.8 337h1.1M95.8 321.2h1.1M90.9 329.9h1.1M89.4 329.4h1.1M102.6 318.5h1.1M100.3 322.2h1.1M80.7 334.8h1.1M85.5 326.2h1.1M89.2 320.6h1.1M74.3 335h1.1M99.7 320.6h1.1M87.2 324.1h1.1M91.7 324.8h1.1M90.4 319.9h1.1M111.1 315.7h1.1M88.2 323.1h1.1M88.8 331.5h1.1M105.3 310.1h1.1M87.1 332.4h1.1M84 329.1h1.1M78.2 339.1h1.1M105.4 323.1h1.1M95.7 327.4h1.1M96 323.9h1.1M92.5 325.7h1.1M94.4 333.8h1.1M85.9 336.5h1.1M85 335.3h1.1M95.6 324.2h1.1M91.7 325.6h1.1M108.5 316h1.1M86.9 337.1h1.1M85.7 330.3h1.1M81.9 336.2h1.1M102.4 313.7h1.1M80.2 338.4h1.1M97.1 319.2h1.1M106.7 317.7h1.1M89.1 327.6h1.1M97.8 321h1.1M69.6 343.2h1.1M89.3 332.6h1.1M75.3 340.8h1.1M94.5 327.8h1.1M91.4 327.4h1.1M82.3 331.8h1.1M93.9 312h1.1M94.4 324.1h1.1M84.5 329.5h1.1M85.9 331h1.1M74.5 336.1h1.1M88.3 327.4h1.1M109.2 307.3h1.1M83.4 332h1.1M90 317.7h1.1M82.9 328.1h1.1M102.3 324.9h1.1M94.6 322.8h1.1M88.6 328.8h1.1M78.5 347h1.1M87.9 333.4h1.1M103.6 318.5h1.1M90.2 330.9h1.1M96.8 321.7h1.1M90.2 335.5h1.1M71.5 340.3h1.1M93.5 321.7h1.1M93.4 323.6h1.1M86.2 332.6h1.1M87.5 330.1h1.1M94.8 325.9h1.1M82.9 329h1.1M93.3 323h1.1M84.9 323.7h1.1M69.1 347.1h1.1M86.6 324.6h1.1M86.5 333.3h1.1M83.3 334.3h1.1M97.1 326.4h1.1M85.2 329.7h1.1M96.4 322.8h1.1M100.3 316.7h1.1M89.3 322.2h1.1M76.3 339.7h1.1M83.2 332h1.1M98 317.4h1.1M88.7 329.3h1.1M84.4 334.9h1.1M89.4 326.9h1.1M94.9 321.7h1.1M91.9 323h1.1M95.5 319.7h1.1M84.5 335.4h1.1M87.5 328.1h1.1M86.1 326h1.1M91.8 328.4h1.1M70.1 343.1h1.1M90.1 330.5h1.1M77.8 337.5h1.1M100.8 311.5h1.1M105.7 314h1.1M109.3 315.8h1.1M98.2 319.6h1.1M86 330.4h1.1M98 316.5h1.1M92 332.1h1.1M98.9 324.4h1.1M82.6 334.5h1.1M88.7 335.6h1.1M93.2 320.4h1.1M112.4 317.7h1.1M92.6 329.3h1.1M115.9 312.5h1.1M119 306.4h1.1M77.1 335.4h1.1M89.6 325.7h1.1M80 332.4h1.1M88.5 326.6h1.1M90.2 336.4h1.1M89.8 326.8h1.1M104.3 323.8h1.1M101.2 320.7h1.1M94.4 325.9h1.1M92.3 328.3h1.1M91.2 324.8h1.1M94 328h1.1M93 318h1.1M89.9 325.5h1.1M93.5 320h1.1M76.9 335.7h1.1M96.9 318.3h1.1M108 313h1.1M88.8 320.6h1.1M79.7 341h1.1M103.2 314.9h1.1M87.9 329.6h1.1M62.8 351.7h1.1M88.4 327.9h1.1M98.5 323.9h1.1M93 321.7h1.1M101.4 315h1.1M96.9 321.7h1.1M90.8 324.1h1.1M74.3 345.6h1.1M84.2 340.5h1.1M94.1 327h1.1M98.2 322.1h1.1M76 329.1h1.1M85.7 332.5h1.1M93.5 320.6h1.1M71 340.3h1.1M68 337.5h1.1M88.7 328.5h1.1M92.2 323.3h1.1M86.9 331.3h1.1M70.8 347.7h1.1M93.5 329.3h1.1M80 339.7h1.1M94.5 318.1h1.1M89.6 327.1h1.1M94 325.2h1.1M97.3 321.7h1.1M87.3 332.6h1.1M99.2 320.3h1.1M103.2 317h1.1M93.6 322.1h1.1M102.1 313.9h1.1M88.5 336.1h1.1M99.5 319h1.1M90.9 321.3h1.1M83.8 337.5h1.1M90.9 328.2h1.1M85.7 330.8h1.1M83.5 328.7h1.1M90.7 324.8h1.1M101.9 318.9h1.1M87 328.3h1.1M90.2 323.4h1.1M76.2 337.9h1.1M88.3 321.5h1.1M101.4 316.5h1.1M101.2 323h1.1M97.4 325.1h1.1M86.4 331.5h1.1M82.2 335.4h1.1M89 326.2h1.1M77.5 336.9h1.1M75.7 332.7h1.1M98.6 317.3h1.1M79.2 330.7h1.1M110.1 314.3h1.1M78.3 339.6h1.1M93.9 321.8h1.1M79.7 336.2h1.1M91.5 324h1.1M80.6 334.7h1.1M92.8 328.2h1.1M86.1 324h1.1M84.4 327.8h1.1M99.3 326.7h1.1M107 316.2h1.1M85.4 331.7h1.1M98.3 318.1h1.1M92.1 326.4h1.1M93.7 330.6h1.1M110.6 307.1h1.1M70.6 345h1.1M82.1 329.5h1.1M73 340.9h1.1M86 327h1.1M87.2 326.7h1.1M126.1 293.8h1.1M95.5 325.4h1.1M106.3 309.8h1.1M103.2 315.9h1.1M89.5 333.6h1.1M96.6 324h1.1M107.9 314.2h1.1M91.8 324.4h1.1M91.7 323.5h1.1M98.3 325.6h1.1M75.1 337.3h1.1M83.4 333.7h1.1M96.6 326.8h1.1M94.7 320.4h1.1M83.8 336.3h1.1M90.5 332.5h1.1M88.4 326h1.1M87.8 325.9h1.1M99.2 322.9h1.1M89.9 323.4h1.1M90.6 323.1h1.1M78.5 339.7h1.1M76.8 330.5h1.1M94.3 324.5h1.1M75.2 339.3h1.1M98.7 330.7h1.1M83.4 330.7h1.1M84.5 335.1h1.1M96.4 320.6h1.1M88.1 336.7h1.1M80.4 331h1.1M81.5 328.8h1.1M87.7 321.8h1.1M123.8 312h1.1M69.4 342.7h1.1M90.2 326.2h1.1M95 336.4h1.1M101.8 321h1.1M87.6 330.2h1.1M64.2 343.5h1.1M105.6 318.3h1.1M80.1 335.3h1.1M90.6 327.6h1.1M77 337.2h1.1M81.3 336.8h1.1M84.4 328.8h1.1M97.3 317.6h1.1M102 323.5h1.1M82.9 329h1.1M97.4 324.7h1.1M88 330.7h1.1M89.7 323.3h1.1M92.3 325.5h1.1M95.8 320.5h1.1M83.4 330h1.1M88.4 326.6h1.1M94.2 326.5h1.1M93.8 328.6h1.1M81.8 331.8h1.1M106 311.1h1.1M85.7 329.8h1.1M98.7 321.3h1.1M91.1 323.2h1.1M102.8 317.1h1.1M72.6 348.1h1.1M110.2 309.6h1.1M87.8 327.5h1.1M77.4 335.1h1.1M94 328.2h1.1M114.3 310.5h1.1M95.1 322.1h1.1M79.9 338.1h1.1M86.6 330.9h1.1M101.9 313.8h1.1M76.5 337.4h1.1M85.4 323.9h1.1M87.4 328.7h1.1M108.3 305.1h1.1M85.8 326.7h1.1M98.3 310h1.1M84.3 332.4h1.1M83.3 333.7h1.1M97.9 315.6h1.1M98 323.2h1.1M75.1 342.2h1.1M96.5 321.1h1.1M96.3 320.8h1.1M87.8 335.4h1.1M92.4 324.5h1.1M94.1 325.5h1.1M86.2 331h1.1M84.8 331.3h1.1M84.7 332.9h1.1M86 326.5h1.1M76.9 336.5h1.1M90.8 327.7h1.1M76.2 338.9h1.1M89.4 323.7h1.1M88.3 325.7h1.1M78.1 332.2h1.1M99.3 320.3h1.1M109.2 310.8h1.1M99.4 311.2h1.1M77.6 338.1h1.1M99.6 312.4h1.1M91.1 323h1.1M91.1 328.4h1.1M87.9 335.2h1.1M89.4 325.4h1.1M105.6 317.4h1.1M97.5 324.2h1.1M90.3 334.5h1.1M81.8 329.4h1.1M86.5 330h1.1M96.4 322.1h1.1M108 310.8h1.1M80 334.9h1.1M90.5 326.7h1.1M86 328.8h1.1M84 333.7h1.1M99.9 330.1h1.1M94.5 320.6h1.1M76.2 337.4h1.1M80.7 335.3h1.1M99 313.3h1.1M96.7 327.8h1.1M101.8 329.8h1.1M82.8 327.3h1.1M86.2 329h1.1M98.6 327.2h1.1M86.8 331.9h1.1M78.7 334.4h1.1M93.3 329.9h1.1M98.3 318.2h1.1M76.4 330h1.1M98.1 314.9h1.1M97.6 321.3h1.1M81.7 333.1h1.1M92.8 329.2h1.1M90.1 326.9h1.1M97.5 322.6h1.1M99.2 324h1.1M80.9 340.8h1.1M73.7 333.1h1.1M100.5 318.3h1.1M93.9 328.5h1.1M95.6 324.6h1.1M90.9 320.5h1.1M102.2 310.5h1.1M80.4 338.2h1.1M100.8 317.6h1.1M81 331.3h1.1M98.5 321.9h1.1M106.1 318.9h1.1M79.4 340.5h1.1M94.6 323.6h1.1M89.7 331.1h1.1M90.6 332.5h1.1M91.6 327.1h1.1M78.7 333.1h1.1M80 333h1.1M97.6 322.1h1.1M94.9 315.3h1.1M86.9 333.4h1.1M76.9 338.9h1.1M115.9 311.5h1.1M99.7 316.1h1.1M94.5 324.3h1.1M84.3 339.4h1.1M86.9 333.7h1.1M89.4 320.5h1.1M80 332.9h1.1M105.9 313.7h1.1M90.3 323.7h1.1M97.8 327.7h1.1M82.6 337.3h1.1M84.8 337.5h1.1M84.9 335.3h1.1M94.2 325.6h1.1M87.1 327.7h1.1M85.9 326.8h1.1M91.8 322h1.1M87.4 318.5h1.1M106 316.2h1.1M88.9 328.6h1.1M80 333.8h1.1M92.4 329.1h1.1M105.4 315.8h1.1M84.6 330.4h1.1M93.1 328.7h1.1M86.4 328.6h1.1M92.1 320.6h1.1M95.5 327.6h1.1M87.7 339.1h1.1M88.4 328.6h1.1M102 321.9h1.1M100.9 317.7h1.1M100.5 320.6h1.1M98.4 319.2h1.1M85.2 326.8h1.1M85.6 327.8h1.1M100.4 320.3h1.1M82 339.3h1.1M95.4 333.5h1.1M77.5 347.2h1.1M88.8 332h1.1M83.8 332.4h1.1M80.7 338.3h1.1M97.6 323.8h1.1M87.1 336.8h1.1M90.7 334h1.1M91.9 333.3h1.1M82.5 331.4h1.1M108.5 320.4h1.1M84.7 329.3h1.1M94.6 327.6h1.1M77.2 336.2h1.1M85.8 330.2h1.1M86.2 327.8h1.1M85.5 326.6h1.1M86.9 333.7h1.1M94.3 328.3h1.1M106.7 315.6h1.1M91.2 330h1.1M88.2 326.6h1.1M87.4 330.5h1.1M115.2 306.7h1.1M105.5 313.1h1.1M97.2 323.8h1.1M95.4 318.7h1.1M88 337.4h1.1M89 327.8h1.1M91.9 324.2h1.1M93.7 328h1.1M84.2 335.7h1.1M81.6 331.1h1.1M96.6 323.8h1.1M97.9 329.4h1.1M73.6 347.4h1.1M89.8 323.9h1.1M105 319.1h1.1M82.1 329.1h1.1M90.4 321.8h1.1M77.5 339.3h1.1M97.8 319.1h1.1M82 338.1h1.1M79.9 338.2h1.1M89.4 331.4h1.1M112.4 306.6h1.1M87.8 335.2h1.1M79.2 337.6h1.1M95.3 323.3h1.1M92.1 324h1.1M111.2 319.1h1.1M82.6 341.7h1.1M77.6 342.1h1.1M88.5 330.2h1.1M94.3 323.8h1.1M94 323.8h1.1M97.2 313.4h1.1M75.4 337.5h1.1M81.9 332.3h1.1M90.8 329.4h1.1M97.4 318.5h1.1M94.1 321.6h1.1M85.6 328.9h1.1M81.5 335.6h1.1M98.2 318.5h1.1M96.9 315.8h1.1M118.6 307.4h1.1M93.8 333.9h1.1M104.8 312.1h1.1M78 335h1.1M86.3 332.1h1.1M85.5 333.7h1.1M80.9 324.1h1.1M83.6 335.3h1.1M88.4 334.5h1.1M91.5 328.8h1.1M85.7 329.5h1.1M98.6 323.4h1.1M91 328.8h1.1M90.4 326.4h1.1M106 316.4h1.1M93.8 324.3h1.1M92.6 326h1.1M93.1 329.9h1.1M91.5 326.5h1.1M98.9 325.4h1.1M81.5 331.3h1.1M103.9 320.3h1.1M106.5 315.2h1.1M105.8 322.4h1.1M87.3 332.2h1.1M78.4 343h1.1M83.8 327h1.1M92.8 326.2h1.1M97.9 319.2h1.1M92.9 332.9h1.1M90.7 332.7h1.1M105.9 315.4h1.1M87.5 335.9h1.1M98.9 315.8h1.1M100.5 320.9h1.1M78 337.5h1.1M93.1 324.2h1.1M86 332h1.1M80.4 332.9h1.1M74.8 343.7h1.1M75.3 338.8h1.1M92.5 320.9h1.1M86.9 329.8h1.1M93.4 324.7h1.1M81.6 336.5h1.1M87.9 329.6h1.1M87.1 327.7h1.1M76.8 340.2h1.1M78.7 344.6h1.1M94.9 323.2h1.1M92.8 326.4h1.1M81.2 333.5h1.1M90 327.9h1.1M94.1 318h1.1M111 315.5h1.1M84.6 336.7h1.1M95.6 320.6h1.1M113.4 312.7h1.1M91 325.9h1.1M105.1 315.5h1.1M70.4 352.7h1.1M103.5 313.9h1.1M88.1 323.9h1.1M72.7 341.7h1.1M101.4 324.4h1.1M99.5 316.8h1.1M104.7 320h1.1M102.8 317.9h1.1M89.9 326.4h1.1M85.5 335.1h1.1M90.1 335h1.1M91 327.8h1.1M95 324h1.1M88.2 333.1h1.1M93.1 328.7h1.1M97.9 318.3h1.1M94.4 324.8h1.1M113.9 309.9h1.1M112.9 311.3h1.1M79.8 336h1.1M85.5 331.5h1.1M78.9 338.1h1.1M82.8 339.9h1.1M97 323.7h1.1M82.9 336.7h1.1M80.9 335.4h1.1M86.1 326.6h1.1M96.8 318.5h1.1M86.4 328.5h1.1M87.4 329.8h1.1M100.5 320.6h1.1M94.9 322.6h1.1M96.4 324.7h1.1M100.8 320.4h1.1M83.1 337.4h1.1M93.2 325.6h1.1M85.2 332.5h1.1M97.2 314.5h1.1M97.8 319.3h1.1M81.9 336.5h1.1M102.3 314.6h1.1M80.9 337.7h1.1M100.2 315.3h1.1M91.5 323.7h1.1M76.9 327.2h1.1M82.6 338.8h1.1M88.3 329.8h1.1M91.1 327.7h1.1M83.7 332.2h1.1M95 321h1.1M79.6 340.8h1.1M92.5 329h1.1M90.5 326.5h1.1M71.2 339.9h1.1M96.3 327.4h1.1M82.1 341.1h1.1M64.8 344.6h1.1M83.5 330.1h1.1M86.7 326.4h1.1M101.7 322.3h1.1M86.8 331.6h1.1M104.7 314.8h1.1M104 314.6h1.1M101.8 318.7h1.1M103.9 316.7h1.1M92.4 321.9h1.1M86.6 332.7h1.1M98.4 323.3h1.1M101.2 320.4h1.1M94.4 326.5h1.1M88.5 328.9h1.1M76.4 340.4h1.1M98.4 322.8h1.1M91.6 321h1.1M78 337h1.1M92.7 327.2h1.1M95.5 318.4h1.1M91.1 329.4h1.1M98.6 320.9h1.1M98.5 321.3h1.1M78 340.5h1.1M88.9 330.6h1.1M95.6 323.1h1.1M102.7 323.2h1.1M105.4 316.8h1.1M72.1 342.1h1.1M89.9 327.1h1.1M97.3 320.7h1.1M98.1 311.7h1.1M106 312h1.1M82.4 335.1h1.1M87.7 330.5h1.1M80.9 335.7h1.1M98.1 319.6h1.1M78.9 338.6h1.1M99.4 314.1h1.1M102.3 322.3h1.1M94.5 321.8h1.1M69.2 343.6h1.1M86.8 335.4h1.1M97 319.7h1.1M76.3 337.3h1.1M90 330.7h1.1M85.5 322.6h1.1M98.2 318.3h1.1M94.4 325.7h1.1M94.7 326.1h1.1M88.3 332.5h1.1M90.6 326.6h1.1M89.7 328.2h1.1M100.9 324.7h1.1M91.4 331.1h1.1M102.4 320.6h1.1M75.5 341.9h1.1M103.3 318.4h1.1M90.8 330.2h1.1M100.6 316.6h1.1M90 324.3h1.1M99.1 320.1h1.1M109.8 320.3h1.1M86 332.1h1.1M90.7 325.3h1.1M89.6 328.8h1.1M92.5 324.9h1.1M75.3 340.1h1.1M92.4 332.1h1.1M93.7 335.2h1.1M82.3 332.1h1.1M90.2 330h1.1M75.4 338.7h1.1M105.1 316.7h1.1M95.7 324h1.1M106.5 308.8h1.1M85 337.1h1.1M79.8 336.7h1.1M95.9 327.5h1.1M74.9 340.6h1.1M92.3 324.3h1.1M83 331.4h1.1M87.5 329.6h1.1M96.2 328.5h1.1M91 326.3h1.1M107.2 310.1h1.1M95.2 319.8h1.1M74.4 332.6h1.1M99.4 318h1.1M80.2 340.5h1.1M92.9 327.8h1.1M78.9 337.1h1.1M81 331.5h1.1M105.9 319.3h1.1M83.9 329.6h1.1M83.5 330.9h1.1M87.3 333.9h1.1M86.8 328.4h1.1M106.4 317.4h1.1M79.7 336.8h1.1M79.7 338h1.1M96.1 322h1.1M78 343h1.1M86.4 329h1.1M106.2 323.3h1.1M91.8 328.2h1.1M87.5 332.5h1.1M81 329.3h1.1M81.1 333.4h1.1M86.3 333.2h1.1M94.1 328.3h1.1M102.9 317.2h1.1M101.5 321h1.1M81.1 326.6h1.1M89.4 339.8h1.1M97.5 321.6h1.1M78.3 347.8h1.1M84.7 328.4h1.1M89.4 331.9h1.1M77.1 332.5h1.1M82.4 336.7h1.1M92.1 322h1.1M74.6 340.3h1.1M79.8 332h1.1M84.6 332.6h1.1M97.5 333.8h1.1M79.1 340.2h1.1M104.4 322.3h1.1M86 327.7h1.1M87.3 328.3h1.1M87.3 330.3h1.1M83.4 331.8h1.1M81 334.9h1.1M103 319.5h1.1M88.9 321.2h1.1M89.3 327.8h1.1M100.7 319.9h1.1M86.8 336.7h1.1M98 323.9h1.1M90.9 327.3h1.1M82.6 335.1h1.1M99 322.5h1.1M76.5 339.7h1.1M99.2 324.9h1.1M82.2 334.6h1.1M97.7 327.9h1.1M105.7 318.4h1.1M97.6 324.7h1.1M83.2 330.3h1.1M89.4 326.6h1.1M87 330.3h1.1M81.7 339.7h1.1M80.8 337.4h1.1M89.5 325.3h1.1M93.3 320.3h1.1M76.6 345.3h1.1M90.8 329.2h1.1M95.3 323.3h1.1M91 325.9h1.1M81 335.7h1.1M99.2 317.7h1.1M81.8 340.8h1.1M93.7 318.7h1.1M108.2 317.5h1.1M70.9 343.9h1.1M92 324.3h1.1M91.2 322.4h1.1M90.9 323.7h1.1M81.4 331.8h1.1M85 327.2h1.1M77.4 339.3h1.1M90.3 324.8h1.1M92.6 319.7h1.1M85.6 334.8h1.1M84.4 338.4h1.1M87.9 333.9h1.1M87.6 324.4h1.1M88.6 324.3h1.1M90.2 329.4h1.1M90.6 326.6h1.1M77 337.1h1.1M62.2 347.2h1.1M100.1 327.2h1.1M105.1 317.6h1.1M77.4 339.7h1.1M83.4 332.3h1.1M93.1 325.1h1.1M100.2 320.8h1.1M96 321.8h1.1M107.7 323.6h1.1M83.8 320.9h1.1M92.7 322.4h1.1M92.6 322.3h1.1M87.6 332.7h1.1M101.1 317.1h1.1M92.3 317.8h1.1M96.1 315.6h1.1M86.5 330.7h1.1M102.7 322.4h1.1M80 335.8h1.1M94.7 325.3h1.1M63.7 346.7h1.1M83.3 338.9h1.1M97.8 322.3h1.1M85.5 330.7h1.1M93 327.4h1.1M72.8 338.2h1.1M107.4 318h1.1M98.5 325.9h1.1M90.8 328.8h1.1M92.7 322.4h1.1M94.1 325.8h1.1M105 317.8h1.1M90.8 324.1h1.1M75.9 339h1.1M89 331h1.1M102.3 317.2h1.1M96.3 323.7h1.1M85.1 329.7h1.1M95.9 322.5h1.1M93.1 328.7h1.1M97.1 324h1.1M76.1 341.4h1.1M81.1 334h1.1M96 321.5h1.1M89.9 331.5h1.1M94.1 325.4h1.1M108.4 311.3h1.1M85.2 327.6h1.1M92.2 325.2h1.1M81.2 327.5h1.1M84.4 332.7h1.1M88.2 326.6h1.1M77.2 340.1h1.1M72.3 346.9h1.1M103.1 316.6h1.1M88.4 327.4h1.1M100.4 318h1.1M91.2 326.4h1.1M92.4 327.3h1.1M98.4 324.3h1.1M97.8 322.7h1.1M78 336.2h1.1M100 315.8h1.1M87.7 343.3h1.1M91.1 324.7h1.1M112.5 304.7h1.1M88.6 324.1h1.1M105.5 313.5h1.1M85.7 328.9h1.1M97.1 323.9h1.1M91 327.5h1.1M93.3 323.1h1.1M84.4 337.2h1.1M83.2 337h1.1M93.2 324.6h1.1M78.2 343.4h1.1M82.2 334.4h1.1M99.4 326.1h1.1M84.1 332.2h1.1M81.9 334.8h1.1M81 337.9h1.1M93.7 328.8h1.1M87.9 331.8h1.1M96.3 331.9h1.1M89.4 330.2h1.1M107.7 312.7h1.1M83.8 328.3h1.1M72.8 344.6h1.1M91.8 327.2h1.1M87.6 324.4h1.1M88.4 322.3h1.1M76.1 341.7h1.1M99 316.2h1.1M87.7 325.2h1.1M88.9 326.8h1.1M77.3 342.7h1.1M96.8 326.2h1.1M88.6 326.9h1.1M98.5 311.4h1.1M86.8 331.5h1.1M75.5 333.8h1.1M87.8 322.2h1.1M84.2 338h1.1M95.5 325.8h1.1M77.1 332.8h1.1M87.2 326.4h1.1M87.1 328.2h1.1M90.1 328h1.1M84.2 330.3h1.1M83.9 335.7h1.1M84.8 322.2h1.1M87.2 335.1h1.1M95.4 330.8h1.1M87.5 329.5h1.1M66.2 342.2h1.1M90.8 329.4h1.1M103.6 316.8h1.1M95.3 327.8h1.1M96.2 323.1h1.1M96.7 326.5h1.1M87.9 333.9h1.1M80.7 341.8h1.1M99.1 322.6h1.1M96.6 314.9h1.1M95.8 323.4h1.1M94 323.9h1.1M89.6 319.3h1.1M91.4 329.5h1.1M95 327.9h1.1M89.4 326.4h1.1M95.9 328.1h1.1M80.8 334.4h1.1M82.1 329.9h1.1M97.9 325.8h1.1M88.2 331.7h1.1M64.2 342.8h1.1M93.7 329.3h1.1M70.2 347.4h1.1M107.9 312h1.1M97.8 322.8h1.1M98.4 324.4h1.1M80.9 329.1h1.1M81 338h1.1M87.7 328.6h1.1M91.4 328.5h1.1M83.6 334.3h1.1M94.6 329.7h1.1M95 320.1h1.1M96.9 324h1.1M78.1 332.8h1.1M72.5 347.5h1.1M91.4 328.8h1.1M83.3 331.7h1.1M94.4 323.9h1.1M107.1 316.3h1.1M106.1 315.1h1.1M95.7 328.5h1.1M100.7 318.8h1.1M111.1 321.1h1.1M90.5 326.9h1.1M90.3 322.3h1.1M96.6 318.8h1.1M88.4 325.9h1.1M86.7 332.6h1.1M82.5 332.4h1.1M91.4 328.6h1.1M84.9 332.7h1.1M98.1 321.6h1.1M94.1 338.3h1.1M102.3 313.9h1.1M100.9 317h1.1M77.3 335.3h1.1M102.5 321.4h1.1M85.4 329.1h1.1M102.3 315.7h1.1M99.8 328.9h1.1M93.7 332.2h1.1M96.7 322.2h1.1M86.7 333.5h1.1M93.7 325h1.1M95.4 326.1h1.1M86.2 325.1h1.1M98 329.1h1.1M84 338.6h1.1M97.7 325.5h1.1M82.1 340.3h1.1M97.6 324.1h1.1M95.1 323.9h1.1M99.9 325.2h1.1M84.7 331h1.1M116.2 300.7h1.1M86.4 326.6h1.1M88 321.5h1.1M81.4 330.6h1.1M104 316.4h1.1M82.7 326.9h1.1M98.5 318h1.1M78.2 330.3h1.1M94 325.5h1.1M91.5 335.4h1.1M101.7 323h1.1M87.7 329.2h1.1M81.6 332.8h1.1M95.3 324.4h1.1M77.7 334.3h1.1M84.2 337.6h1.1M99.3 323.1h1.1M71.5 339.5h1.1M97.7 321.3h1.1M86.9 330.2h1.1M79.5 331.1h1.1M90.9 322.8h1.1M98.2 324.3h1.1M85 331.4h1.1M92.6 332.8h1.1M98.2 321.1h1.1M97 320.5h1.1M93.9 331.8h1.1M80.6 329.5h1.1M78.1 329.8h1.1M84.4 330.7h1.1M95.3 319.8h1.1M93.2 319.2h1.1M94 325.3h1.1M101.6 314h1.1M87.4 328.6h1.1M90.5 333.8h1.1M89.2 332.3h1.1M109.7 313.8h1.1M69.8 340.5h1.1M93.4 324.7h1.1M93.1 321.4h1.1M92.5 327.8h1.1M115 312.2h1.1M97.6 313.2h1.1M92.6 314.7h1.1M81.9 333.2h1.1M96 323.8h1.1M85.2 327.1h1.1M93.6 329.4h1.1M93.3 326.1h1.1M89.5 334.3h1.1M95.9 321.1h1.1M105.5 313.9h1.1M101.4 320h1.1M94.3 327h1.1M76.4 345.6h1.1M102.7 320.7h1.1M98.5 315.8h1.1M90 329.4h1.1M84.2 327.7h1.1M98.9 324h1.1M83.8 333.5h1.1M99.3 322h1.1M81.7 336h1.1M81.1 332.3h1.1M95.4 331.8h1.1M76.3 336.4h1.1M89.8 325.3h1.1M96 322.9h1.1M78.9 336.9h1.1M100.1 320.4h1.1M84.6 329.6h1.1M96.1 322.6h1.1M94.8 327.4h1.1M86.7 330.1h1.1M84.5 328.7h1.1M74.8 339.2h1.1M84.8 332.2h1.1M83.7 332.4h1.1M107.2 315.5h1.1M101.4 320.2h1.1M82.4 342h1.1M98.9 321.2h1.1M91.3 322.9h1.1M88.5 330.8h1.1M97.3 325.6h1.1M96.6 318.7h1.1M85.7 330.9h1.1M88.4 328.7h1.1M91.8 324.5h1.1M80.8 332.8h1.1M93 325.6h1.1M92.2 329.5h1.1M81.5 328h1.1M83.4 333.2h1.1M95.6 326.4h1.1M98.9 319.8h1.1M91.9 321.5h1.1M86.3 336.8h1.1M95.5 318h1.1M93.1 325.9h1.1M92.7 317.6h1.1M100.5 316.4h1.1M83.2 334.1h1.1M87.5 325h1.1M83.3 328.4h1.1M84 334.4h1.1M109.1 311h1.1M100.8 320.9h1.1M73.3 338.2h1.1M97.9 327h1.1M86.5 331.6h1.1M106 323.2h1.1M90.8 324.8h1.1M94.1 333.5h1.1M94.7 328.3h1.1M94.2 323.3h1.1M92.2 327.5h1.1M90.1 329.6h1.1M91.9 330.2h1.1M96.9 324.1h1.1M84.5 339.7h1.1M90.6 326.1h1.1M88.6 325.9h1.1M85.3 328.8h1.1M98 321.3h1.1M77.1 333.8h1.1M87 328.6h1.1M81.6 331.1h1.1M95.5 321.8h1.1M86.9 330.4h1.1M93.2 328.3h1.1M100 330.2h1.1M75.5 337.6h1.1M95.6 323.7h1.1M80.5 327.9h1.1M92.9 333.5h1.1M88.6 325.7h1.1M100.5 322.9h1.1M98 321.2h1.1M109.1 315.5h1.1M92.2 324.7h1.1M87 330.6h1.1M85 328.6h1.1M96.9 321.5h1.1M104.9 313.5h1.1M91.8 321.2h1.1M85 330h1.1M94 325.1h1.1M91.1 322h1.1M91.8 326.9h1.1M83.7 331.6h1.1M68.8 347h1.1M87.7 332.5h1.1M106.8 325.9h1.1M91.8 323.6h1.1M73.5 346.5h1.1M89.9 325.1h1.1M70.9 336.7h1.1M112 314.8h1.1M91.3 323.3h1.1M80.5 336.3h1.1M97.6 319.7h1.1M86.5 335.7h1.1M96.3 322.5h1.1M91.2 326.3h1.1M77.7 332.5h1.1M93.1 316.7h1.1M78.5 336.3h1.1M104.2 317.5h1.1M87.4 321.1h1.1M82.1 335h1.1M74.9 340.8h1.1M105.8 314.3h1.1M103.5 314.7h1.1M78.4 334.8h1.1M107.4 315.6h1.1M93 325.8h1.1M85.5 324.1h1.1M87.3 323.7h1.1M87.9 327.8h1.1M103.7 315.3h1.1M93.1 326.2h1.1M72.5 338.5h1.1M111.3 312.1h1.1M99 319.8h1.1M82.3 336.2h1.1M89.3 331h1.1M83 333.7h1.1M91.7 326.5h1.1M96 325.2h1.1M93.6 325.2h1.1M85.7 331.3h1.1M84.9 334.1h1.1M100.3 321.9h1.1M90.6 327.9h1.1M110.3 308h1.1M81.7 330.4h1.1M98.1 320.4h1.1M92.2 327.1h1.1M84.4 332.7h1.1M99.9 311.9h1.1M90.6 323.7h1.1M85 335.9h1.1M88.5 329.4h1.1M101.6 320.3h1.1M80.8 337.1h1.1M107.1 320.3h1.1M97.4 321.5h1.1M91.4 332.2h1.1M104.8 317.9h1.1M104.2 309.9h1.1M94.7 319.9h1.1M94.5 327.6h1.1M110.1 315.2h1.1M106.7 317.6h1.1M86.5 338.4h1.1M91.3 330.7h1.1M89.8 329.1h1.1M89.6 332.5h1.1M76.1 336.5h1.1M99.6 320h1.1M93.1 327.5h1.1M88.7 321.9h1.1M102.7 314.4h1.1M86 331h1.1M87.1 322.9h1.1M91.1 321.6h1.1M88.7 331.8h1.1M89.6 326.9h1.1M99.1 322h1.1M94 330.3h1.1M99.6 312.1h1.1M81.4 329h1.1M95.6 328.3h1.1M77.2 336.6h1.1M93.4 331.6h1.1M82.7 329.7h1.1M103.8 316.5h1.1M98.6 321.8h1.1M93.4 319.9h1.1M108.1 312.6h1.1M105 316.3h1.1M96 319.1h1.1M85.5 332.9h1.1M76.3 335.9h1.1M91 327.1h1.1M86.3 327.6h1.1M84.1 330.3h1.1M87 327.2h1.1M78.1 342h1.1M101.2 310.9h1.1M81.1 336h1.1M81.6 327.8h1.1M97.7 323.9h1.1M76.9 340h1.1M100.2 320.4h1.1M97.6 316.8h1.1M89.2 330.3h1.1M80.5 334.2h1.1M90 334.2h1.1M75.2 342.3h1.1M103.6 315.6h1.1M92 326.7h1.1M88.2 337h1.1M81.9 332.6h1.1M98.5 324.7h1.1M101.2 310.6h1.1M79.9 337.1h1.1M81.4 325.9h1.1M73.7 338.8h1.1M96.5 320.5h1.1M93.7 326.8h1.1M112.3 309.6h1.1M89.2 326.7h1.1M91.1 334.9h1.1M82.7 329.9h1.1M101.5 323h1.1M76.8 340.1h1.1M103.7 327.6h1.1M92.6 323.8h1.1M85.1 329h1.1M82.4 333.1h1.1M100.3 317.9h1.1M109.2 313.3h1.1M86.8 329.9h1.1M93.7 319.8h1.1M108.2 314.3h1.1M84.5 330.4h1.1M87.5 327h1.1M80.5 336.9h1.1M89.4 327.4h1.1M90.1 326.9h1.1M88.4 331.3h1.1M79.5 326.7h1.1M77.5 340.2h1.1M75.4 333.2h1.1M80.1 331.9h1.1M101.3 326.7h1.1M86 330.2h1.1M81.3 331h1.1M95.7 319.8h1.1M98.3 324.6h1.1M83.7 332.1h1.1M87.9 334.6h1.1M99.5 324.2h1.1M95.1 324.6h1.1M83.1 332.9h1.1M90.2 321.1h1.1M90.3 326.2h1.1M99.4 315.6h1.1M85.6 336.5h1.1M101.8 322.7h1.1M96.2 324.6h1.1M78.4 330.5h1.1M103.7 321.8h1.1M102.9 323.6h1.1M79.2 337.3h1.1M107.2 308.5h1.1M83.9 339.7h1.1M83.2 334.6h1.1M91 332.6h1.1M95.5 317.3h1.1M95.3 320.6h1.1M89.8 326.9h1.1M104.1 316.3h1.1M95.5 324.2h1.1M104 315.6h1.1M118.8 306.4h1.1M94.8 327.5h1.1M69.5 349.7h1.1M87 330.4h1.1M82.8 337.2h1.1M90.3 324h1.1M96.4 331.2h1.1M78.7 335.1h1.1M79.4 334.6h1.1M86.3 326h1.1M89.9 329h1.1M69.9 350.9h1.1M102.2 321.4h1.1M89.3 323.9h1.1M91.8 327.7h1.1M94.9 325.5h1.1M82.8 336.3h1.1M90.9 327.4h1.1M101.5 319.2h1.1M104.5 322.1h1.1M96.8 324.6h1.1M86.6 326.6h1.1M80.6 329.8h1.1M103.9 316.7h1.1M97.3 324h1.1M84.5 326.9h1.1M71.2 344.5h1.1M85.4 336.6h1.1M73.3 342.5h1.1M101.6 315.3h1.1M89.9 321.6h1.1M85.2 334h1.1M87.6 327.7h1.1M116.5 307h1.1M100.5 314.4h1.1M78 336.9h1.1M89.5 327.3h1.1M81.6 339.1h1.1M75.5 341.4h1.1M93.6 326.2h1.1M121.5 316.3h1.1M104.4 312.3h1.1M91.7 326.5h1.1M88.1 330.4h1.1M93.9 326.1h1.1M101.1 318.5h1.1M76.8 338h1.1M76.1 345h1.1M109 311.5h1.1M93.7 324.3h1.1M106.6 313.9h1.1M96.6 328.5h1.1M105.7 315.3h1.1M88 334.9h1.1M95.3 322h1.1M103.5 311.2h1.1M99.3 316.5h1.1M87.5 331.4h1.1M101 321h1.1M86 333.6h1.1M76.9 337.5h1.1M97.7 324.2h1.1M105.8 316.9h1.1M104.5 326.1h1.1M80.9 339.1h1.1M101.2 321.7h1.1M98.9 322.7h1.1M84.4 327.6h1.1M70.1 350.3h1.1M103.8 321.9h1.1M98.6 318.2h1.1M98.1 325.2h1.1M74.9 341.3h1.1M76.5 338.5h1.1M101 318.6h1.1M100.6 322.2h1.1M94.2 320.6h1.1M85.9 325.2h1.1M97.1 326.1h1.1M86.6 331.9h1.1M86.3 327.1h1.1M83.3 334.4h1.1M95.8 327.2h1.1M88.1 331.3h1.1M98.8 317.1h1.1M100.3 323.4h1.1M82.9 332.9h1.1M108.3 311h1.1M81.7 337.6h1.1M94.5 321.8h1.1M100.4 316.4h1.1M101.7 314h1.1M68 342.6h1.1M104 322.3h1.1M101.3 314.8h1.1M104.1 313.7h1.1M67.7 342.6h1.1M86.4 334.4h1.1M88.5 325.5h1.1M86.2 329.6h1.1M106.7 318.7h1.1M82.1 329.3h1.1M104.8 318.7h1.1M98.8 324.7h1.1M76.3 337.8h1.1M82.9 336.4h1.1M86 329.8h1.1M92.7 326.7h1.1M100.4 318.1h1.1M87.8 326.4h1.1M100.2 319.5h1.1M74.2 337.6h1.1M59.9 349.8h1.1M89.7 331.6h1.1M94 321h1.1M86.5 328.3h1.1M81.2 334.8h1.1M93.1 320.7h1.1M106.8 307h1.1M88.7 325.9h1.1M87.2 336.3h1.1M82.1 332.7h1.1M110.7 311.1h1.1M91.4 327.8h1.1M96.5 321h1.1M103.8 317.7h1.1M98.5 314.1h1.1M81.7 333.7h1.1M100.5 319h1.1M97.9 318.1h1.1M94.4 320.9h1.1M98.7 315.7h1.1M84.5 329.9h1.1M90.6 327.5h1.1M85.9 330.8h1.1M103 325.8h1.1M87.9 335.7h1.1M93 321.1h1.1M81.3 336.6h1.1M86.4 323.5h1.1M84.1 325.5h1.1M92.7 330.8h1.1M91.9 325h1.1M83.6 321.4h1.1M90.7 330.5h1.1M70.3 342.8h1.1M102.5 318.4h1.1M85.7 332.5h1.1M89.4 329.5h1.1M83.2 333.7h1.1M99.4 316.8h1.1M84.1 336.2h1.1M95.1 321.5h1.1M104.2 318.9h1.1M106.2 312.1h1.1M102.2 316.4h1.1M98.9 323.6h1.1M79.3 336.3h1.1M105.3 318h1.1M104.5 319.1h1.1M97.1 317.2h1.1M102.8 324.6h1.1M90.9 324.8h1.1M84.8 329.3h1.1M103 319.4h1.1M101.5 313.8h1.1M79.4 333.1h1.1M102.8 322.4h1.1M92.6 323.5h1.1M99 318.4h1.1M95.5 326.3h1.1M101 316.3h1.1M99.8 316.6h1.1M101.4 321.3h1.1M82 342.8h1.1M98.5 319.1h1.1M93.4 328.1h1.1M83.9 340.1h1.1M99 321.9h1.1M82.9 343.6h1.1M100.8 320.2h1.1M104.8 309.3h1.1M92.3 337.7h1.1M99.4 318.1h1.1M97.7 325.3h1.1M98.6 322.4h1.1M80.2 339.9h1.1M96 320.2h1.1M92.8 325.6h1.1M100.2 322.5h1.1M94.2 329.8h1.1M102.9 318.8h1.1M91.8 321.6h1.1M100.5 324.1h1.1M103.9 314.5h1.1M92.6 324.3h1.1M105.1 323.4h1.1M91.5 322.1h1.1M96.6 322.5h1.1M81.9 325.5h1.1M95.5 316.1h1.1M103.9 317.3h1.1M91.1 327.6h1.1M101.2 322.6h1.1M98.5 326.5h1.1M79.3 333.6h1.1M95.5 324.3h1.1M105.1 316.9h1.1M87.2 330.9h1.1M73 339.3h1.1M91.6 322.6h1.1M85.4 331.8h1.1M110.2 311.7h1.1M91 326.7h1.1M87.3 321.6h1.1M89.8 336.7h1.1M96.3 327.4h1.1M85.2 330h1.1M82.6 333.5h1.1M88.5 324.1h1.1M81.1 329.9h1.1M100.2 311.1h1.1M82 337.9h1.1M89.6 325.6h1.1M85.5 332.7h1.1M76.4 335.3h1.1M107.1 312.7h1.1M69.7 341.3h1.1M107 316.7h1.1M77.7 337.5h1.1M93.5 327.1h1.1M113.8 309h1.1M72.2 344.7h1.1M80.6 340.1h1.1M101.8 313.3h1.1M92.6 324.4h1.1M84.1 328.3h1.1M93.3 329.2h1.1M86.4 339h1.1M94.1 327.1h1.1M106.2 314.9h1.1M86.3 327.7h1.1M90.8 322.8h1.1M100.6 313.9h1.1M107.4 306.8h1.1M84.5 329.5h1.1M94.2 323.8h1.1M87.8 332.9h1.1M84 330h1.1M88.8 331h1.1M87.2 333.6h1.1M73.9 339h1.1M72.1 342h1.1M82.9 330.3h1.1M94.3 327.2h1.1M100.8 313.9h1.1M85.8 329.9h1.1M90.3 328.3h1.1M99.4 323.1h1.1M100.9 323.2h1.1M93.3 330.8h1.1M88.2 323.5h1.1M112.4 315h1.1M87.1 327.7h1.1M87.4 331.1h1.1M77.2 341h1.1M96.7 324.2h1.1M89.3 328.9h1.1M107.9 309h1.1M87.2 327.8h1.1M99.3 320h1.1M103.3 322.4h1.1M110.9 317.7h1.1M75.3 332.5h1.1M108.6 316.4h1.1M94.9 330.3h1.1M88.3 324.6h1.1M91.7 332.7h1.1M86.3 327.9h1.1M86.4 327h1.1M68.8 344.6h1.1M94.5 320.1h1.1M95 329.4h1.1M85 337.1h1.1M91.4 327.5h1.1M113.5 308.1h1.1M95.4 323.7h1.1M86.9 328.5h1.1M109.4 314.6h1.1M88.4 338.1h1.1M89.3 326.8h1.1M86.8 331.5h1.1M87.7 326.4h1.1M94.3 315.6h1.1M96.9 321.7h1.1M83.4 331h1.1M92.2 329.8h1.1M90.5 323.6h1.1M87 329h1.1M90.7 326.2h1.1M82.8 330.1h1.1M86.9 335.2h1.1M90.8 324.8h1.1M80.8 333.7h1.1M92.3 319.3h1.1M93.4 332.5h1.1M83 334.1h1.1M81.3 326.1h1.1M87.9 331.4h1.1M90.9 328.9h1.1M89 321.3h1.1M84.4 322.1h1.1M83.1 333.2h1.1M106.6 316.9h1.1M101.3 320.8h1.1M93.4 326.7h1.1M102.3 321.1h1.1M96.3 325.9h1.1M88.7 328.2h1.1M92.3 325.8h1.1M115.8 304.2h1.1M100.9 318.6h1.1M103.9 321.2h1.1M86.3 327.9h1.1M96.7 321.2h1.1M114.1 310.1h1.1M96.1 323.9h1.1M101 317.3h1.1M103.3 316.4h1.1M97.9 321.8h1.1M104.9 312.2h1.1M91.5 322.2h1.1M96.9 323.4h1.1M85.6 331.6h1.1M118.8 308.3h1.1M94.8 324.6h1.1M91.6 324.5h1.1M102.9 313.5h1.1M86.6 330.1h1.1M91.7 326.9h1.1M85.6 334.5h1.1M91.3 325.9h1.1M90.1 332.3h1.1M96.4 322h1.1M90.3 327.6h1.1M87.7 333.6h1.1M88.1 328.1h1.1M90.8 328.1h1.1M85.5 329.2h1.1M101.4 320.4h1.1M96.9 320.1h1.1M89.7 321.6h1.1M79.9 335.6h1.1M94.8 320.6h1.1M80.8 338.3h1.1M94 326h1.1M95.8 330.8h1.1M86.3 331.6h1.1M86 335.9h1.1M84.7 331.8h1.1M115.1 315.4h1.1M90.8 330.8h1.1M89.4 328.1h1.1M99.8 318.1h1.1M98.8 327.3h1.1M102.3 319.3h1.1M74.7 330.1h1.1M79.7 333.3h1.1M122.5 299.9h1.1M96.8 333.7h1.1M90.7 331.2h1.1M92 324.1h1.1M100.4 318.2h1.1M79.4 334.9h1.1M92.2 322h1.1M91.1 326.6h1.1M96.1 319.2h1.1M96.8 329.6h1.1M81.4 324.7h1.1M84 334.2h1.1M70 347.4h1.1M97.7 315.2h1.1M76.5 336.7h1.1M85.7 327.4h1.1M108.4 315h1.1M87 329.2h1.1M95.8 320.1h1.1M91.9 331.1h1.1M98.5 321.7h1.1M92.3 327h1.1M87.3 331.4h1.1M105.6 317.7h1.1M91.6 331.8h1.1M78.1 336.1h1.1M87.9 328.6h1.1M94.2 319.6h1.1M81.2 335.6h1.1M100.3 322.1h1.1M101.7 324.1h1.1M111.2 309.7h1.1M86.1 332.4h1.1M93.6 316.5h1.1M71.2 334.2h1.1M84.4 326.1h1.1M94.3 328h1.1M98.2 326.8h1.1M91.5 327.6h1.1M92.5 329.5h1.1M82.9 328h1.1M87.1 329.9h1.1M95.2 325.2h1.1M96.8 322.3h1.1M94.9 318.6h1.1M102.8 321.1h1.1M101.6 316.1h1.1M77.4 344h1.1M87.1 331.3h1.1M91.4 329.5h1.1M84.9 330.9h1.1M101 318h1.1M96.1 317.8h1.1M89.1 325.8h1.1M93.9 327.2h1.1M106 319.9h1.1M89.9 331.4h1.1M89.5 330.2h1.1M100.5 320.1h1.1M97.5 324.8h1.1M102.6 312.9h1.1M93.1 321.5h1.1M99.1 321.4h1.1M87.4 332.1h1.1M83.2 334.6h1.1M91.5 326.8h1.1M66.8 347.5h1.1M98.6 327.4h1.1M101.5 320.1h1.1M96.1 330.6h1.1M89.4 328.3h1.1M100.3 316.5h1.1M93.3 329.6h1.1M100.3 318.6h1.1M113.2 311h1.1M99.7 322.7h1.1M96.3 314.5h1.1M94.3 320.6h1.1M92.9 323.5h1.1M95 325.5h1.1M91.3 325.1h1.1M102 318.6h1.1M75.6 338.2h1.1M90.9 330.9h1.1M97.8 321.7h1.1M84.5 334.2h1.1M93.4 330.9h1.1M81.6 328h1.1M94 321.2h1.1M101.2 321.8h1.1M108.1 318.8h1.1M97.7 324.5h1.1M86.6 334.3h1.1M95.1 326.2h1.1M99.9 325.9h1.1M106.4 317.6h1.1M71.4 343.3h1.1M94.2 322.7h1.1M78.6 345.8h1.1M98.2 321.1h1.1M97.7 325.6h1.1M98.3 325.3h1.1M100.4 320.5h1.1M96.5 325.3h1.1M84.1 330h1.1M93.4 322.2h1.1M103.3 318h1.1M91.8 329.1h1.1M88.1 322.1h1.1M76.4 331.6h1.1M101.5 316.6h1.1M87.2 331h1.1M82.6 330h1.1M84.4 326.6h1.1M84.6 334.7h1.1M85.5 324.2h1.1M103.7 317.1h1.1M96.7 317.8h1.1M105.9 316.8h1.1M105.2 314.9h1.1M84.1 334.8h1.1M96 322.8h1.1M103.4 312.4h1.1M114.7 310.9h1.1M79 338.4h1.1M77.2 336.5h1.1M96.9 324.1h1.1M84.2 324.3h1.1M85.3 338h1.1M89.9 317.5h1.1M85.6 334.4h1.1M68.4 342h1.1M88 322.9h1.1M91.6 324.4h1.1M100.4 325.2h1.1M101 320.1h1.1M93.1 325.1h1.1M88.2 327.1h1.1M83.3 329.5h1.1M73.9 336.8h1.1M84.4 326.5h1.1M102.7 321.2h1.1M95.5 319.2h1.1M114.2 314.9h1.1M89.8 327.5h1.1M77.1 343.3h1.1M102.9 324.6h1.1M99.3 316.3h1.1M80.7 335.9h1.1M74.4 336.9h1.1M96.2 329.4h1.1M100.6 324.1h1.1M81.3 335.7h1.1M89.7 331h1.1M84.1 332.6h1.1M81.8 337.5h1.1M79.9 337.8h1.1M95.1 328.4h1.1M85.4 326.5h1.1M85.9 332.7h1.1M69.7 350h1.1M106.3 311.4h1.1M81.7 332.9h1.1M89.7 327.3h1.1M80.4 335.1h1.1M95.8 324.7h1.1M77.7 338.8h1.1M96.9 331.5h1.1M92.9 332.1h1.1M102.5 322.6h1.1M80.7 334.6h1.1M82.9 328.8h1.1M89.6 329h1.1M111.5 311.1h1.1M75.4 335.5h1.1M94.9 325.4h1.1M84 330.3h1.1M93.4 323.3h1.1M100.2 324.9h1.1M92.1 324.9h1.1M93.4 324.2h1.1M96.4 327.4h1.1M88.1 333.9h1.1M92 331.6h1.1M73.1 336.3h1.1M83.7 324.3h1.1M82.8 331h1.1M85.8 324.9h1.1M101 324.4h1.1M92 320.3h1.1M91.7 318.2h1.1M98.3 314.2h1.1M71.2 347.7h1.1M93.1 320.8h1.1M91.4 327.3h1.1M88.2 324.9h1.1M80.5 338.6h1.1M96.4 322.5h1.1M103.2 319.3h1.1M99.9 317.6h1.1M90.8 327.7h1.1M95 319.1h1.1M98.2 317.6h1.1M107.4 311.6h1.1M102.8 317.3h1.1M93.3 326.5h1.1M92.2 326.1h1.1M91.3 323.7h1.1M93.2 324.7h1.1M86.1 330h1.1M98.6 320.9h1.1M85.1 332.4h1.1M85.3 334.7h1.1M98.5 328.7h1.1M84.8 329.9h1.1M87.9 327.4h1.1M74 345.5h1.1M94.7 315.9h1.1M93.7 329.8h1.1M88.1 325.4h1.1M95.1 322.6h1.1M92.6 324.4h1.1M82.5 329.5h1.1M108 308.9h1.1M87.1 330.3h1.1M102.6 321.9h1.1M110.9 315.6h1.1M85.2 331.2h1.1M88.9 322.2h1.1M81.9 331.1h1.1M101.1 318.7h1.1M87.5 328.6h1.1M79.7 333.7h1.1M100 312.3h1.1M101.4 321.6h1.1M81.5 332h1.1M101.7 316.9h1.1M94.7 327.2h1.1M118.7 308.2h1.1M104.6 310.3h1.1M85.5 330.4h1.1M89.2 329.5h1.1M82.9 333.5h1.1M90.5 323.4h1.1M91.5 326.2h1.1M94.8 317.1h1.1M92.6 326.8h1.1M79.3 340.3h1.1M84 333.5h1.1M106.4 318.1h1.1M102.8 318.7h1.1M87.2 325.1h1.1M86.5 323.7h1.1M88.4 326.6h1.1M91.1 326.2h1.1M77.6 342.2h1.1M101.7 322.4h1.1M84.4 331.1h1.1M92.3 325.3h1.1M69 348h1.1M94.4 326.1h1.1M100.5 312.5h1.1M68.4 341.9h1.1M105.3 314.9h1.1M95.2 322.6h1.1M81.8 329.4h1.1M75.8 338.4h1.1M101.6 317.2h1.1M97 328.7h1.1M100.3 326.4h1.1M92.7 333.7h1.1M88.6 338.7h1.1M99.4 320.1h1.1M81.7 333.5h1.1M101.5 322h1.1M74.8 338.8h1.1M81.7 333h1.1M77.9 338.4h1.1M106.5 320.3h1.1M72 337h1.1M77.8 332.4h1.1M98.6 323.1h1.1M89.4 320.3h1.1M111.6 309.6h1.1M110.1 314.4h1.1M97.9 323.1h1.1M101.6 326.1h1.1M75 342h1.1M86.4 337.7h1.1M85.9 326.6h1.1M89 327.5h1.1M81.4 341.1h1.1M81.4 332.7h1.1M87 337.8h1.1M100.8 318.2h1.1M94.2 322.3h1.1M88 329.3h1.1M91.1 331.8h1.1M94.2 324.9h1.1M85.2 332.8h1.1M88.7 328.8h1.1M72.1 336.6h1.1M94 317.4h1.1M96.9 315.4h1.1M96 325.6h1.1M97.3 325h1.1M94.6 324h1.1M109.4 309.8h1.1M97.5 330.4h1.1M80.2 338.8h1.1M77.8 330.6h1.1M100.5 324.4h1.1M102.8 320.4h1.1M99.9 322.6h1.1M98.1 319.1h1.1M93.1 325.6h1.1M78.1 339.3h1.1M87.8 336.2h1.1M73.1 339.5h1.1M87.7 329.9h1.1M79.9 339.2h1.1M92.1 326.1h1.1M88 326.3h1.1M76.2 345.8h1.1M101.3 325h1.1M100.5 323.5h1.1M80.1 340h1.1M99 333.4h1.1M99.2 322.8h1.1M86.2 326.4h1.1M99.9 321h1.1M90.9 322.9h1.1M107.3 325.7h1.1M93.2 325.7h1.1M86.8 324.8h1.1M92.7 319h1.1M99.6 322h1.1M95.3 327h1.1M86.2 329.5h1.1M86.4 336.2h1.1M88.5 330.8h1.1M89.3 335.6h1.1M92.9 325.1h1.1M92.8 325.6h1.1M87 323.6h1.1M90.4 326.1h1.1M94.2 327.3h1.1M106 314.9h1.1M105.1 320.7h1.1M85.7 331.4h1.1M95.6 324.2h1.1M87.2 328.5h1.1M88.3 325.4h1.1M93 333.9h1.1M84.6 331.1h1.1M76.8 335.9h1.1M70.6 349.4h1.1M89.1 320.7h1.1M103.7 319.5h1.1M77.5 328h1.1M94.2 321.1h1.1M85.5 327.6h1.1M93.2 324.1h1.1M81.4 330.9h1.1M91.1 331.4h1.1M91.8 329.9h1.1M72.9 350.7h1.1M92 324h1.1M91.3 329.9h1.1M66.2 344.7h1.1M96 320.4h1.1M93.6 330.6h1.1M91.6 323.7h1.1M93.9 323.5h1.1M86.8 329.8h1.1M80 334.4h1.1M87 330.6h1.1M87 330.4h1.1M109.8 306.9h1.1M110.5 315h1.1M89 333.9h1.1M88.8 332.2h1.1M91.9 321.9h1.1M97.1 323.4h1.1M80.5 327.8h1.1M88.1 342.7h1.1M110.8 313.6h1.1M101.9 319.8h1.1M75.8 338.7h1.1M71.6 337.7h1.1M83.6 334.1h1.1M95.2 327.9h1.1M94.4 320.7h1.1M84.6 325.9h1.1M81.1 346.3h1.1M91.9 323.9h1.1M96.1 321.6h1.1M92.8 329.2h1.1M87.3 332.2h1.1M95.8 321.8h1.1M90.4 327.5h1.1M80.9 336.6h1.1M94.3 329.3h1.1M78.2 336.7h1.1M101.5 321.1h1.1M95.3 323.2h1.1M82.8 336.5h1.1M92.6 324.9h1.1M101.3 315.3h1.1M70.2 343.6h1.1M88.3 326.6h1.1M109.5 317.5h1.1M75.3 338.3h1.1M88.8 327.7h1.1M78.8 340h1.1M90.7 328.1h1.1M74.1 353.2h1.1M75.4 339.9h1.1M86.8 332.4h1.1M97.1 331.7h1.1M93.5 322.9h1.1M96.4 325.3h1.1M101.3 317.3h1.1M98.1 322.2h1.1M97 320h1.1M81.5 334.7h1.1M90.1 329.1h1.1M120.3 300.5h1.1M110.8 306.9h1.1M103.6 326.2h1.1M98 321.2h1.1M101.7 320.7h1.1M89.5 333.1h1.1M107 308.2h1.1M85.4 327.8h1.1M92.4 330.4h1.1M114.1 312.5h1.1M69.4 341.8h1.1M95.8 325.8h1.1M75.2 341.8h1.1M88.9 337.3h1.1M90.4 328.2h1.1M85.3 327.1h1.1M93.6 326.9h1.1M83.9 333.6h1.1M86.4 323.6h1.1M77.8 334.5h1.1M84.3 326.7h1.1M76.4 336.7h1.1M94.8 318.9h1.1M82.1 341.7h1.1M99.4 323.6h1.1M90.5 334.6h1.1M83.5 324.1h1.1M102 317.2h1.1M92.3 326.6h1.1M74.4 344.3h1.1M97.9 325.6h1.1M69 357.5h1.1M88.9 319.4h1.1M87.3 330.6h1.1M77.4 338.3h1.1M94.7 330h1.1M88.2 329.8h1.1M109.5 310h1.1M87 330.9h1.1M108.4 309.9h1.1M106.1 318.1h1.1M84.5 331.3h1.1M81.3 331.5h1.1M102.6 315.1h1.1M88.9 327.3h1.1M92.8 326.1h1.1M90.6 331.7h1.1M78.2 335.6h1.1M88.2 331.1h1.1M83.7 337.3h1.1M74.6 337.7h1.1M91.5 333.5h1.1M109.4 314.1h1.1M105 312.1h1.1M88.4 325.3h1.1M93.1 327h1.1M95.8 322.8h1.1M103 314.7h1.1M94.2 324.7h1.1M88 332.9h1.1M86.3 329.2h1.1M101.6 317.5h1.1M116 305.7h1.1M82.6 329.5h1.1M70.5 343.1h1.1M99.8 321.7h1.1M89.9 327.4h1.1M88.3 321.2h1.1M104.5 318.9h1.1M92.2 327.2h1.1M79.8 339.9h1.1M71.3 342.2h1.1M93.2 330.7h1.1M78.9 335.5h1.1M92.2 322.9h1.1M80.3 339.4h1.1M89.4 332.1h1.1M79.9 342.8h1.1M87.4 330h1.1M89 333.6h1.1M98.1 323.8h1.1M104.9 317.2h1.1M90.7 330.3h1.1M80.9 332.1h1.1M106.7 307.2h1.1M99 329.5h1.1M98.7 324.2h1.1M96.4 321.5h1.1M107.4 317.9h1.1M102 320.2h1.1M97.2 321.1h1.1M95.6 317.4h1.1M80.3 331.2h1.1M85.7 332.8h1.1M89.7 327.7h1.1M92.7 327.3h1.1M91.6 327.4h1.1M96.5 327.5h1.1M95 331.3h1.1M87.7 331.5h1.1M73.2 337.9h1.1M97.6 318.4h1.1M100.7 327h1.1M82.9 334.8h1.1M97.2 324.6h1.1M94.3 323.2h1.1M94 329.2h1.1M71.3 339.8h1.1M79.8 337.5h1.1M84 330.6h1.1M104.9 311.7h1.1M86.8 338.9h1.1M88.1 330.5h1.1M77.1 332.4h1.1M86.2 331.1h1.1M92.2 321.7h1.1M70 343h1.1M64.5 351.5h1.1M96.9 321h1.1M89.2 324.2h1.1M82.5 328.8h1.1M97.5 315.6h1.1M102.8 321.9h1.1M68.9 342.2h1.1M92.3 331.9h1.1M102.1 318.4h1.1M85 333.1h1.1M86.7 328.1h1.1M99.7 318.5h1.1M85.8 326.2h1.1M80.7 338.4h1.1M82.6 330.6h1.1M77.3 337h1.1M96.4 322.6h1.1M76.8 344.2h1.1M99.6 317.5h1.1M74.4 339.8h1.1M89.8 324.8h1.1M76.8 339.2h1.1M88.5 330.3h1.1M100.2 317.8h1.1M101 316.8h1.1M102.3 314.7h1.1M86.2 323.1h1.1M93.4 327.8h1.1M89.1 320.2h1.1M103.2 329.4h1.1M85.2 328h1.1M103.5 320.1h1.1M90 319.5h1.1M104 320h1.1M93.5 320.6h1.1M99.7 324h1.1M86.3 335.9h1.1M85.3 328.5h1.1M76.7 335.5h1.1M89.6 331.3h1.1M84.3 322.6h1.1M99.8 321.1h1.1M75.5 333.5h1.1M124.6 303.2h1.1M91.9 330.5h1.1M103.1 316.6h1.1M103.3 321.1h1.1M65.5 346.6h1.1M93 334.6h1.1M105 314.6h1.1M68.6 348.3h1.1M100.5 323.2h1.1M81.7 334.1h1.1M87 331.5h1.1M94.2 326.4h1.1M71.2 340.4h1.1M92.3 324.8h1.1M83.9 331.5h1.1M81 329.9h1.1M98 321.5h1.1M123.5 296.3h1.1M95.2 325.3h1.1M95.2 321.1h1.1M89.4 326.2h1.1M85.1 334.4h1.1M96.7 328.8h1.1M108.5 317.9h1.1M94.8 327.9h1.1M98.5 318.5h1.1M89.1 329.3h1.1M116.2 307.2h1.1M74 339.4h1.1M95.2 320.5h1.1M93.4 319.2h1.1M94.8 326.4h1.1M79 334.9h1.1M78.4 334.7h1.1M90.7 331.4h1.1M91.7 326h1.1M81.1 339.3h1.1M81.1 336.4h1.1M95.6 321.5h1.1M104.6 322.9h1.1M87.3 333.9h1.1M85.8 334.9h1.1M83.7 332.9h1.1M116.6 308.7h1.1M95 322.2h1.1M92.1 329.8h1.1M101.8 320.2h1.1M112.1 306.9h1.1M101.7 316.8h1.1M76.7 338.5h1.1M90.2 328h1.1M84.9 328h1.1M84.7 326.6h1.1M79.8 338.1h1.1M88.6 332.2h1.1M82.5 338.6h1.1M90.6 320.1h1.1M93.2 329h1.1M79.9 342.1h1.1M73.7 340.5h1.1M84.1 328.5h1.1M99.8 324.9h1.1M96 323.5h1.1M93.2 331.3h1.1M60.1 356h1.1M82.7 327.2h1.1M83.3 332.9h1.1M88.2 330.6h1.1M78.9 337h1.1M86.1 330.1h1.1M84.6 332.9h1.1M119.9 307.9h1.1M100.2 324.4h1.1M84.9 323.8h1.1M92 329.5h1.1M87.3 325.2h1.1M94.2 327.4h1.1M84.3 327.3h1.1M89.3 325.6h1.1M101.4 319.3h1.1M94.9 315.4h1.1M95.9 327h1.1M104.4 316.9h1.1M94.9 327.5h1.1M82.9 337.2h1.1M74.6 342.5h1.1M86.1 335.3h1.1M91 328.5h1.1M91.5 320h1.1M105 322.7h1.1M87.9 335h1.1M85 336.2h1.1M99.4 322h1.1M100.3 315h1.1M84.7 329.3h1.1M93.2 323.3h1.1M103.9 315.4h1.1M89.1 318.7h1.1M92.7 330.4h1.1M73 347.1h1.1M103.9 316.4h1.1M96.8 321.4h1.1M92.6 326.8h1.1M88.1 333.1h1.1M81.4 340.7h1.1M90.5 328.7h1.1M91.3 329.8h1.1M102.6 319.4h1.1M81.3 339.8h1.1M102.2 312.1h1.1M90.3 325.8h1.1M98.7 312.9h1.1M82.5 336.4h1.1M94.2 324.2h1.1M103.3 317.8h1.1M92 326.2h1.1M77.1 339.9h1.1M88 330.3h1.1M100.2 327.7h1.1M77.8 339.4h1.1M75.4 337.3h1.1M97.2 330.1h1.1M82.3 335.9h1.1M96.4 320.2h1.1M76.8 333.7h1.1M73.2 342.5h1.1M82.4 332.4h1.1M101.8 310.6h1.1M79.8 331.1h1.1M91.8 328.4h1.1M94.6 326.7h1.1M79.5 332.5h1.1M101.1 317.7h1.1M93.8 327.1h1.1M95.7 324.1h1.1M73.8 340.2h1.1M74.2 342h1.1M64.5 350.4h1.1M89.6 329.3h1.1M91.8 332.8h1.1M94.4 317h1.1M102.9 312h1.1M85.3 325.5h1.1M88.6 329.7h1.1M95.1 323.2h1.1M104.6 313.2h1.1M81.2 331.9h1.1M100.8 326.6h1.1M87.8 328.3h1.1M89.7 332.4h1.1M99 320.7h1.1M84.6 335.3h1.1M77 331.7h1.1M96.3 320.4h1.1M90.7 327.5h1.1M85.5 325.9h1.1M89.8 328.5h1.1M97.3 324.9h1.1M87.7 330.7h1.1M99.2 321.8h1.1M94.9 323.7h1.1M103.6 313h1.1M103.5 317.1h1.1M99.4 320.3h1.1M86.9 326.3h1.1M91.5 325.5h1.1M83.2 329.7h1.1M118.5 303.5h1.1M91.5 332.2h1.1M98.7 325.4h1.1M107.6 320.1h1.1M75.3 335.5h1.1M82 332.9h1.1M88.1 331.6h1.1M83.3 337.8h1.1M77.8 336.7h1.1M86.2 331.7h1.1M102.9 315.8h1.1M99.8 323.3h1.1M93.6 329.6h1.1M88 323h1.1M76.8 343.1h1.1M97.8 321.5h1.1M92.4 320.4h1.1M84.2 340.5h1.1M91.5 323.7h1.1M89 328.5h1.1M86.2 331.7h1.1M80.8 334.6h1.1M86.9 335.6h1.1M86.4 340.3h1.1M91.6 318.7h1.1M95.1 324.9h1.1M92.3 322.3h1.1M86.9 325.9h1.1M86.4 329.8h1.1M109.9 309.3h1.1M71.4 340.6h1.1M99.4 313.4h1.1M93.4 323h1.1M89.1 323.5h1.1M86.6 332h1.1M89.7 330h1.1M79.3 336.6h1.1M76.7 337.5h1.1M88.8 326.7h1.1M70.8 335.9h1.1M97.4 318.2h1.1M101.7 317.8h1.1M53.4 350.4h1.1M75.2 339h1.1M92.9 324h1.1M92 324.2h1.1M92.8 327h1.1M97.4 326.3h1.1M98 320.7h1.1M100.1 320.8h1.1M110.2 314.6h1.1M91 326.6h1.1M99.8 320.5h1.1M76.4 341.8h1.1M93.4 332.5h1.1M79.5 337.5h1.1M101 311.4h1.1M111.9 305.8h1.1M94.1 320h1.1M78.4 337.8h1.1M87.8 325.4h1.1M92.7 328.5h1.1M93.9 326.6h1.1M100.6 316.9h1.1M103.3 322.8h1.1M65.1 348.6h1.1M103.7 315.2h1.1M82.7 327h1.1M87 333.4h1.1M104 314.4h1.1M89.8 330.9h1.1M78.8 339.6h1.1M83.7 344.6h1.1M93.5 328.9h1.1M97.5 316.8h1.1M104.6 313.5h1.1M89.1 328.1h1.1M81.4 324.8h1.1M105.7 312.5h1.1M89.1 333.9h1.1M105.7 315.6h1.1M93.5 325.3h1.1M90.1 321.2h1.1M90.6 331.2h1.1M93.1 323.6h1.1M84.5 328.5h1.1M86.1 334.6h1.1M89.6 327.9h1.1M88.9 337.3h1.1M93.8 324.3h1.1M96.4 331.8h1.1M89.3 330.1h1.1M85.6 324.5h1.1M88 327.9h1.1M107.9 312.7h1.1M90.7 326.8h1.1M80.8 326.6h1.1M87 328.1h1.1"/>
<path fill="none" stroke="#5060c0" stroke-width="1.0" stroke-opacity="0.8" d="M56.2 338.1h1.0M70.2 345.6h1.0M66.8 353.2h1.0M77.1 347.9h1.0M74.7 351.9h1.0M70 342.3h1.0M69 371h1.0M75.8 344.7h1.0M65.1 362.9h1.0M69.2 350.4h1.0M74.1 345.3h1.0M74.3 354.7h1.0M77.5 349.6h1.0M67 341.4h1.0M73.3 349.8h1.0M65.6 352.2h1.0M78.2 343.9h1.0M74.7 338.2h1.0M62.8 345.3h1.0M61.6 348.6h1.0M69.9 344.3h1.0M63.8 349.4h1.0M75.9 352.4h1.0M71 337.8h1.0M76.9 346.8h1.0M83.3 344h1.0M75 347.1h1.0M67 356.9h1.0M63.7 350.6h1.0M71.4 341.9h1.0M77.9 332.1h1.0M68.8 350.2h1.0M67.1 355.4h1.0M80.5 341.7h1.0M74.2 353.7h1.0M77.8 347.5h1.0M70 333.4h1.0M67.3 356.5h1.0M70.1 351.8h1.0M64.8 348h1.0M73 344h1.0M71.9 341.1h1.0M70.7 354.3h1.0M78.1 349.7h1.0M54.5 351.5h1.0M75.4 349h1.0M73.2 346.5h1.0M69.9 346.9h1.0M68.4 363.7h1.0M70.7 349.3h1.0M66.3 356.4h1.0M77.8 337.9h1.0M70 350.8h1.0M77.7 358.9h1.0M67 345h1.0M83.5 356.4h1.0M72.6 349.3h1.0M76.6 348.1h1.0M67.1 355.5h1.0M77.6 342.2h1.0M64 346.3h1.0M78.6 347.8h1.0M74.4 349.4h1.0M74.6 339h1.0M68.3 346.1h1.0M58.8 352.5h1.0M62.2 352.5h1.0M70.1 350.2h1.0M81.1 342.8h1.0M69.8 352.2h1.0M67.6 343.6h1.0M72.9 334.7h1.0M59.8 342.1h1.0M76.4 350.9h1.0M73.3 347.5h1.0M66.9 351h1.0M72.7 347.4h1.0M81.4 347.4h1.0M69.1 332.7h1.0M62.9 343h1.0M74 347.6h1.0M70.5 346.5h1.0M74.5 344.8h1.0M67.5 349.8h1.0M73 347.8h1.0M71.6 345.3h1.0M70.1 347.4h1.0M78.8 346.4h1.0M70 343.9h1.0M71.2 339.7h1.0M74.7 346.6h1.0M68.3 345.6h1.0M78 344.2h1.0M74.8 345.4h1.0M67.9 343.9h1.0M69.9 347.2h1.0M65.1 347h1.0M69.7 347.1h1.0M68.3 346h1.0M71.5 347h1.0M67.1 345.6h1.0M69.5 342.4h1.0M69.3 346.2h1.0M66.7 352.3h1.0M69.6 349.2h1.0M69.4 351.3h1.0M65.8 349.4h1.0M69 346.9h1.0M74.5 346.2h1.0M65.7 348.4h1.0M65.4 353.4h1.0M67.2 344.2h1.0M78.4 338.1h1.0M66.3 345.7h1.0M72.5 347.9h1.0M70.9 350.1h1.0M76.1 348.5h1.0M73.9 342.3h1.0M71.9 349.7h1.0M72 341.7h1.0M67.1 349.7h1.0M70 345.2h1.0M68.7 352.9h1.0M72.1 347.8h1.0M68.4 348.4h1.0M70.1 345.2h1.0M69.2 352.5h1.0M70.7 346h1.0M72.2 348.5h1.0M67.6 347.1h1.0M68.5 349.7h1.0M67.4 350.8h1.0M68.7 347.4h1.0M70 344h1.0M70.6 348h1.0M69.1 344.5h1.0M76 345.8h1.0M69.2 347.5h1.0M73.2 348.5h1.0M72.8 344.7h1.0M73.6 347.6h1.0M71.7 346.1h1.0M69.8 345.8h1.0M78 344.1h1.0M73.1 350.7h1.0M69.7 348.5h1.0M71.6 344.7h1.0M75.2 342.6h1.0M76.3 345.3h1.0M69.4 345.5h1.0M73.6 345.6h1.0M70.9 344.5h1.0M72.2 348.7h1.0M71.9 344.7h1.0M70.6 343.4h1.0M72.1 348.1h1.0M76.3 343.3h1.0M68.5 347h1.0M74 342.7h1.0M76.4 341.2h1.0M77.2 342h1.0M73.9 349.4h1.0M70.1 347.7h1.0M67.8 353.7h1.0M70.3 347.2h1.0M81.7 345.4h1.0M63.6 348.5h1.0M62.9 347.6h1.0M72.5 344.2h1.0M73.8 347.2h1.0M65.6 352.4h1.0M69 345.7h1.0M70.6 345.1h1.0M67.1 352.4h1.0M71.6 342.5h1.0M65.5 349.2h1.0M73.2 343.3h1.0M71.8 347.4h1.0M68.5 349h1.0M66.8 352.6h1.0M69.3 347.7h1.0M71.4 348.7h1.0M68.4 345.4h1.0M68.8 348.7h1.0M69.6 347.4h1.0M72.7 344.4h1.0M67.4 348.9h1.0M72.2 350.4h1.0M70 343.7h1.0M70.4 347.1h1.0M74.1 346h1.0M76.8 345.1h1.0M70.6 349.4h1.0M72.2 347.8h1.0M61.7 354.7h1.0M70.9 349.7h1.0M72.5 345.3h1.0M67 349.8h1.0M75.7 345.1h1.0M61.4 347.9h1.0M74.9 344h1.0M68.5 347.9h1.0M67.3 349.6h1.0M69.4 348.8h1.0M68.8 346.7h1.0M65.4 347.3h1.0M66.5 350.9h1.0M70.4 350.2h1.0M72.6 343.8h1.0M75.2 350.2h1.0M74.4 343.5h1.0M69.1 349.2h1.0M69 347.6h1.0M72 350.9h1.0M71.7 347.7h1.0M73.6 348h1.0M76.8 343.8h1.0M71.8 344.4h1.0M71.4 347.2h1.0M75.7 344.9h1.0M66.4 347.1h1.0M66.6 350.6h1.0M75.8 349.4h1.0M72.8 348.8h1.0M70.4 346.2h1.0M72.8 344.1h1.0M69.3 347.8h1.0M69.9 347.1h1.0M73.2 348h1.0M72.8 345.9h1.0M75.5 347h1.0M72.3 348.6h1.0M72.9 348.4h1.0M64.6 355.1h1.0M74.9 344.9h1.0M66.3 351.8h1.0M71.8 349h1.0M76.7 338.9h1.0M70.4 349.1h1.0M63.5 348.6h1.0M74 341.4h1.0M70.9 351.1h1.0M68.8 346.2h1.0M72.4 350.4h1.0M70.7 342.8h1.0M72.6 344.8h1.0M71.9 349.6h1.0M77.5 348.7h1.0M68.6 350.5h1.0M74.9 348.2h1.0M67.1 347h1.0M74.8 348h1.0M69.1 349.6h1.0M68.6 347.7h1.0M75.2 343.7h1.0M66.9 349.8h1.0M67.6 350.9h1.0M71.4 344.7h1.0M71.4 349.9h1.0M68.6 347.5h1.0M72.2 350.1h1.0M76.9 341.8h1.0M69.4 352.2h1.0M70.2 348.6h1.0M70.3 346h1.0M66 347.6h1.0M73.4 350.9h1.0M73.4 347.7h1.0M69.5 351.6h1.0M72.2 342.4h1.0M68.6 352h1.0M69.2 346.6h1.0M72.6 347.6h1.0M82.6 342.1h1.0M65.3 351.8h1.0M73.4 348.9h1.0M77.2 339.7h1.0M67.7 347.5h1.0M72 342.3h1.0M73 348.9h1.0M64 348.2h1.0M70.4 344.7h1.0M70.9 353.1h1.0M67.6 343.2h1.0M63.6 348.2h1.0M74.6 347.6h1.0M62.9 353h1.0M72.3 350.4h1.0M74.9 344.5h1.0M72 345.9h1.0M68.7 347.3h1.0M71.3 349.7h1.0M69.5 348.7h1.0M80.4 342.4h1.0M70 347h1.0M69.7 346.3h1.0M68.4 349.3h1.0M67.5 346.6h1.0M71.4 344.6h1.0M68.3 348.4h1.0M66.5 347.4h1.0M71 351.2h1.0M69.7 348.5h1.0M74 350.4h1.0M69.3 348.8h1.0M70.9 348.9h1.0M67.2 347.9h1.0M75.2 345.2h1.0M72 348.5h1.0M69.9 348.5h1.0M71.8 347h1.0M69.8 346.7h1.0M67.4 353.1h1.0M72.5 350.8h1.0M78.2 346.3h1.0M70.5 344.1h1.0M76.3 346.9h1.0M69.4 350.1h1.0M68 353.4h1.0M67.3 347.7h1.0M75.7 345.2h1.0M65.8 347.8h1.0M69.4 350.9h1.0M73.6 344.2h1.0M68.8 346.8h1.0M68.6 346.2h1.0M73.8 348.8h1.0M71.6 348h1.0M70 348.5h1.0M74.4 350.3h1.0M67.5 348h1.0M70 346.9h1.0M71.9 344.9h1.0M69.7 352.8h1.0M69.8 347.7h1.0M66.6 349.6h1.0M71.4 343.7h1.0M73.4 346.9h1.0M72.5 343.9h1.0M70.8 341.2h1.0M74.5 345.7h1.0M73.6 346.5h1.0M68.9 350.1h1.0M75.9 347.9h1.0M68.5 350.5h1.0M75.3 338.6h1.0M73.1 348.5h1.0M72.8 346.4h1.0M65.1 348.4h1.0M73.1 343.7h1.0M73.9 344.1h1.0M66.5 352.1h1.0M69.2 349.1h1.0M69.3 348.7h1.0M67.7 347.9h1.0M74.8 343.9h1.0M75.8 340.3h1.0M70.4 353.7h1.0M72.6 343.3h1.0M70.8 349.2h1.0M74.9 344h1.0M64 354.5h1.0M68.4 347.4h1.0M74.6 344.6h1.0M67.5 348.3h1.0M75.6 346h1.0M68.9 348.5h1.0M72.3 342.3h1.0M70.8 344h1.0M70 349.2h1.0M68.2 349.2h1.0M70.8 348.6h1.0M74.4 344.8h1.0M70.7 347.5h1.0M66.8 347h1.0M79.9 338h1.0M63.7 348.8h1.0M67.6 345.2h1.0M74.3 348.5h1.0M67.1 349.6h1.0M71.4 348.4h1.0M72 351.6h1.0M67.9 353.3h1.0M72.9 347.3h1.0M64.7 347.3h1.0M68.3 349.3h1.0M74.7 344.7h1.0M67.4 350.4h1.0M73.7 347.4h1.0M74 344.2h1.0M73.9 345.2h1.0M74.7 349.3h1.0M70.8 349.1h1.0M61.2 344.9h1.0M70.2 346h1.0M72.2 346.6h1.0M68.1 347.6h1.0M69.2 351.8h1.0M73.2 345.1h1.0M66.1 348.6h1.0M74.5 349.4h1.0M70.4 350.1h1.0M66.2 352.5h1.0M76 343.9h1.0M73.3 346.9h1.0M71.9 345.6h1.0M64.8 349.2h1.0M69.8 347.2h1.0M69.9 344.9h1.0M66.8 347.5h1.0M76.6 344.4h1.0M64.1 352.2h1.0M73.4 346.4h1.0M63.9 351.1h1.0M66.5 352.2h1.0M67.1 351.1h1.0M69.8 343h1.0M68.8 349.7h1.0M71 352.1h1.0M67.7 349.7h1.0M65.7 350.8h1.0M68.7 350.8h1.0M67.5 350h1.0M68.1 346.5h1.0M70.3 349.5h1.0M63.6 354h1.0M69.7 350.6h1.0M73.7 343.9h1.0M69.3 349h1.0M71.8 349.5h1.0M68.6 349.8h1.0M65.6 346h1.0M72.9 351h1.0M68.6 353.6h1.0M69.5 347.5h1.0M67.6 354.5h1.0M68.5 343.2h1.0M68 354.4h1.0M74.5 348.4h1.0M74.3 346.1h1.0M63.9 349.8h1.0M71.3 344.5h1.0M68.3 347.7h1.0M73.5 344.2h1.0M66.8 346.7h1.0M72.4 351.8h1.0M69.1 347.9h1.0M72 341.9h1.0M66.2 354.6h1.0M72.2 345.2h1.0M68.8 345.2h1.0M67 346.7h1.0M69.9 348.6h1.0M70.4 341.9h1.0M72.1 344.7h1.0M73.9 341.5h1.0M70.1 351.3h1.0M65.8 353.9h1.0M69.9 350.5h1.0M67.1 345h1.0M72.7 353.1h1.0M76.9 348h1.0M76.1 340.5h1.0M71.3 346.5h1.0M69.6 357.7h1.0M74.1 345.8h1.0M68.9 349.9h1.0M68.7 345.4h1.0M75.9 349.1h1.0M72.3 347.8h1.0M68.5 346h1.0M70.1 345.6h1.0M74.1 347.5h1.0M72.7 346.7h1.0M78.9 345.2h1.0M59.2 352.9h1.0M68.7 350.5h1.0M66.7 346.9h1.0M71.6 344.2h1.0M72.4 348.8h1.0M73.2 345.9h1.0M65.1 350.2h1.0M69 347.5h1.0M70 343.3h1.0M68.5 345.8h1.0M68.7 348.2h1.0M70.1 345.8h1.0M76.4 344.9h1.0M64.9 354.2h1.0M74.2 342.6h1.0M70.7 346.4h1.0M69.5 351.9h1.0M72.5 346.2h1.0M71.7 349.1h1.0M74.9 345.7h1.0M66 347.4h1.0M74.7 347h1.0M68.6 351.2h1.0M70.5 345.9h1.0M72.4 345.8h1.0M69.9 347.6h1.0M74.5 348.7h1.0M68.6 349.3h1.0M74.1 345.7h1.0M70.1 350.5h1.0M69.1 350.5h1.0M70.5 348.6h1.0M68.9 346.3h1.0M64.9 346.4h1.0M72.6 345.5h1.0M67.7 345.3h1.0M72 346h1.0M68.1 354.2h1.0M66.3 351h1.0M67.6 346.1h1.0M65.2 347.7h1.0M71.3 349.7h1.0M68.6 342.2h1.0M74.9 346.2h1.0M75.9 345.3h1.0M73.5 346.7h1.0M66 346.9h1.0M71.4 345.6h1.0M67.4 347.4h1.0M75.4 350.4h1.0M67.2 350.5h1.0M74.6 344.5h1.0M70.5 345.4h1.0M70.2 349.3h1.0M64.4 349h1.0M72.3 348.2h1.0M70.9 351.6h1.0M73.6 350.1h1.0M66.3 347.2h1.0M67.6 347.7h1.0M73.4 347.5h1.0M73.1 341.9h1.0M66.8 351.2h1.0M69.9 348.4h1.0M73.8 349.4h1.0M70.7 349.1h1.0M68.9 348.6h1.0M76.6 341.8h1.0M68.7 350.8h1.0M69.9 345h1.0M66.7 346.3h1.0M71.3 349.4h1.0M62.8 352.8h1.0M75.4 348.2h1.0M69.1 347.5h1.0M68.9 351.9h1.0M75.6 343.7h1.0M69.2 348.1h1.0M68.9 349.7h1.0M66.2 347.9h1.0M74.8 346.4h1.0M71.1 348.5h1.0M68.9 347.9h1.0M66.4 351.1h1.0M67.2 349.5h1.0M71.7 347.2h1.0M71.5 349.2h1.0M63.3 351.6h1.0M67.6 349.8h1.0M69.7 345.5h1.0M76.4 338.4h1.0M68.6 350.2h1.0M64.8 354.7h1.0M73.4 346.6h1.0M69.9 350.1h1.0M69.4 354.6h1.0M69.5 343.3h1.0M69 347.5h1.0M63.9 345.9h1.0M67.2 352h1.0M69.1 346.9h1.0M70.2 347h1.0M65.1 352.3h1.0M71.8 343.4h1.0M66.5 350.9h1.0M74.7 344.2h1.0M71.1 346.5h1.0M73.2 352.2h1.0M72.4 348.1h1.0M69.7 350.5h1.0M67.6 344.8h1.0M74.4 342.4h1.0M67.4 347.7h1.0M71.9 344.4h1.0M67.9 350.3h1.0M67.8 344.7h1.0M73.6 345.6h1.0M68.9 353.3h1.0M70.4 345.7h1.0M62 351h1.0M66.7 350.4h1.0M68.5 348.1h1.0M71.5 343.7h1.0M70.2 343.1h1.0M66.7 348.9h1.0M67.4 344.9h1.0M70.5 346.7h1.0M62.4 347.8h1.0M73.7 349.1h1.0M73 342.5h1.0M73.7 344h1.0M68.4 348.9h1.0M71 351h1.0M65.9 348.1h1.0M69.1 349.3h1.0M71.1 350.1h1.0M73.4 347.1h1.0M70.9 347.9h1.0M67.4 349.8h1.0M74.2 347.2h1.0M74.4 347.1h1.0M67.9 348.4h1.0M69.7 348.4h1.0M67 344.3h1.0M66 352.6h1.0M69.6 346h1.0M69.7 342.8h1.0M76.5 343.1h1.0M69.4 345.4h1.0M69 347.8h1.0M69.8 347.9h1.0M69.7 343.2h1.0M74.2 347.4h1.0M68.7 350.9h1.0M73.6 350.4h1.0M72.5 346.2h1.0M62.8 351h1.0M74.9 344.6h1.0M68.4 346.7h1.0M74.1 346.8h1.0M68.5 345.7h1.0M69.8 348.5h1.0M70.8 348.7h1.0M68.7 343.9h1.0M73 345.5h1.0M68.7 347.3h1.0M66.8 350.3h1.0M67.2 348.1h1.0M67.2 349.9h1.0M74.5 347.9h1.0M67 349.6h1.0M74.2 342.9h1.0M70.2 346.6h1.0M70.4 348.3h1.0M71.6 341h1.0M70.4 349.9h1.0M69.3 348.2h1.0M72.4 345.3h1.0M74.2 347.7h1.0M69.2 352.3h1.0M76.8 340.2h1.0M71.1 345h1.0M66.4 350.6h1.0M72.3 351h1.0M73.6 345.8h1.0M70.7 346.6h1.0M72 344.3h1.0M75.7 339.5h1.0M72.5 344.4h1.0M75 340.8h1.0M69.9 342.9h1.0M71.9 353.5h1.0M73.5 342h1.0M68.9 350.2h1.0M72.6 344.3h1.0M72.1 345.6h1.0M69.4 351.6h1.0M69.6 351h1.0M69.2 347.3h1.0M71.9 346.9h1.0M73.3 342.9h1.0M71.2 348.1h1.0M72.9 338.9h1.0M73.5 345.8h1.0M65.4 345.4h1.0M69.7 350.5h1.0M69.9 346.3h1.0M67.2 346.8h1.0M72.2 350.1h1.0M74.3 347.3h1.0M70.7 346.1h1.0M71.7 343h1.0M66.3 346.8h1.0M67.1 348.7h1.0M64.7 349.2h1.0M66.9 354.1h1.0M69.8 349.4h1.0M68.5 344.7h1.0M70.8 349h1.0M70.9 347.9h1.0M79.3 345.5h1.0M67.5 350.6h1.0M72.1 351.1h1.0M68.5 348.1h1.0M65.6 347.2h1.0M74.2 343.5h1.0M70.2 347.3h1.0M74.9 345h1.0M66.3 349.4h1.0M77.9 344.7h1.0M78.1 342.6h1.0M64.7 345.8h1.0M72.5 349.9h1.0M71 348.8h1.0M74.4 348.6h1.0M64.8 348.6h1.0M72.3 346.7h1.0M74.7 347.9h1.0M70.7 351.3h1.0M62.1 351.2h1.0M67.5 348h1.0M68.2 347.1h1.0M73 345.7h1.0M67.4 347.4h1.0M65.1 348h1.0M71.4 344.7h1.0M74.1 349.4h1.0M75.8 349.2h1.0M73 350h1.0M73.4 344.3h1.0M74.4 348.9h1.0M66.8 354h1.0M71.2 346.9h1.0M74.3 347.1h1.0M72.7 349.7h1.0M73.6 342.1h1.0M68.5 347.8h1.0M71.5 344.3h1.0M65.5 349h1.0M68.4 344.9h1.0M69 349h1.0M67.9 350.4h1.0M69.4 354h1.0M71.7 347.4h1.0M72.8 347.5h1.0M67.1 347.2h1.0M65.9 349.5h1.0M65.8 347.1h1.0M71.3 343.6h1.0M65.2 348.4h1.0M73.3 343.7h1.0M65.4 351.5h1.0M72.1 347.5h1.0M72.7 345.9h1.0M75.8 346.2h1.0M68.8 347.9h1.0M68.5 349.6h1.0M69.4 354.8h1.0M77.5 350.1h1.0M71.4 349.2h1.0M70 349.6h1.0M69.9 349.2h1.0M69.5 344.6h1.0M71.7 348.6h1.0M76.2 346.8h1.0M63.6 352.3h1.0M71.7 343.6h1.0M66.6 345.9h1.0M72 349.6h1.0M70.1 348.8h1.0M71.1 348.5h1.0M70.7 342.9h1.0M70.3 345.7h1.0M66.3 351.2h1.0M69.4 346.4h1.0M70.9 348.4h1.0M72.1 347h1.0M70.9 347.5h1.0M71.2 348.7h1.0M74.2 345.4h1.0M66.9 349.7h1.0M76.9 341.6h1.0M66.8 346.3h1.0M66.3 348.6h1.0M73.2 345.7h1.0M77.3 348.8h1.0M76.7 347h1.0M75.9 344.8h1.0M72.8 347h1.0M72.9 349.7h1.0M72.4 347.3h1.0M70.6 347.4h1.0M70.1 350.1h1.0M75.8 343.7h1.0M76.4 343.1h1.0M71.8 348.8h1.0M71.4 349.7h1.0M69.5 349h1.0M65.3 351.3h1.0M70.3 351.2h1.0M72.3 352.5h1.0M72.1 349.3h1.0M67 349.2h1.0M67.4 355.3h1.0M71.3 344.2h1.0"/>
<path fill="none" stroke="#b058c0" stroke-width="1.0" stroke-opacity="0.7" d="M67.4 352.4h1.0M56.3 349.8h1.0M68 363.5h1.0M88.3 334h1.0M62 360.3h1.0M72.2 334.5h1.0M52.6 354.9h1.0M99.2 360.6h1.0M25.7 387.7h1.0M47.5 346.5h1.0M42.3 357.5h1.0M65.5 331.9h1.0M73.9 338.6h1.0M49.7 362.2h1.0M47.6 350.7h1.0M76.9 351.1h1.0M56.6 349.4h1.0M56.4 353h1.0M69.8 345.4h1.0M32.7 363.5h1.0M80.3 340.4h1.0M73.2 357.2h1.0M36.5 394.9h1.0M58.5 372.8h1.0M47.4 350.1h1.0M94.9 337.5h1.0M72.5 365h1.0M45 374.7h1.0M65.2 334.8h1.0M74.9 358.9h1.0M48.6 349.2h1.0M87.2 354.7h1.0M47.9 355.8h1.0M67.9 363.6h1.0M73.6 346.6h1.0M48 340.3h1.0M69.6 344.5h1.0M63.7 365.4h1.0M72.9 333.4h1.0M31.5 363.9h1.0M48.7 374.2h1.0M72.3 354.8h1.0M56.5 359.4h1.0M74.1 361.4h1.0M67.7 360.3h1.0M65 362h1.0M46.2 366.6h1.0M68.1 355.5h1.0M67.7 336.7h1.0M43.4 360.6h1.0M62.5 322.6h1.0M89.9 346.3h1.0M54.5 367.9h1.0M78.5 353h1.0M46 367h1.0M57.8 356.7h1.0M52.1 370.8h1.0M61.6 366.7h1.0M54.4 386.4h1.0M75.4 368.7h1.0M43.5 364.4h1.0M55.5 369.3h1.0M44.3 381.9h1.0M58.6 354.1h1.0M70 327.1h1.0M40.8 350h1.0M61.6 359.6h1.0M45.6 367.4h1.0M72.3 372.4h1.0M57.6 370h1.0M54.6 381h1.0M59.5 371.9h1.0M46.2 356.4h1.0M62.8 351.9h1.0M57.7 360.6h1.0M62.8 352.5h1.0M74.1 341.2h1.0M70.9 346h1.0M63.5 366h1.0M51.2 382.8h1.0M63.5 361.7h1.0M63.5 356.8h1.0M86.6 355h1.0M61.7 354.6h1.0M84.9 320.9h1.0M71.2 366.8h1.0M58.8 354.1h1.0M66 355.7h1.0M63.7 362.7h1.0M64.5 364.8h1.0M63.1 363.5h1.0M66.5 360h1.0M59.9 361.1h1.0M58.8 360.5h1.0M55.5 367.4h1.0M66.5 347h1.0M59.2 367.6h1.0M64.7 347.8h1.0M64 354.5h1.0M62.9 351.9h1.0M59.5 355.8h1.0M63.9 356.8h1.0M57.3 354.1h1.0M60 353.5h1.0M65.3 354.9h1.0M60 346h1.0M51.1 360.4h1.0M68.1 359.5h1.0M74.8 354.8h1.0M68.1 352.2h1.0M55.3 363.3h1.0M58.5 354.7h1.0M59.4 355.5h1.0M61.7 357.2h1.0M49 369.1h1.0M61.4 352h1.0M56.4 368.7h1.0M68.1 345.8h1.0M59.4 352.4h1.0M62.7 360.6h1.0M65.4 356.4h1.0M64.3 359.7h1.0M53.6 358.2h1.0M58 357.5h1.0M59 354.6h1.0M59.2 364h1.0M63.5 354.5h1.0M60.5 349.3h1.0M65.7 353.1h1.0M60.9 349h1.0M65.6 351.2h1.0M63.5 354.5h1.0M63.6 349.8h1.0M57.9 356.1h1.0M56 352.1h1.0M67.3 351.2h1.0M61.9 343.5h1.0M62.2 362.2h1.0M58.5 368.7h1.0M76.7 351.5h1.0M62.1 349.9h1.0M62.2 344.6h1.0M68.4 356.1h1.0M62.9 357.8h1.0M59.4 362.7h1.0M62.8 367.5h1.0M65.9 350h1.0M63.4 352.1h1.0M63.8 357.8h1.0M60.3 367.2h1.0M58.4 361.1h1.0M56.4 360.6h1.0M64.7 363.4h1.0M50.5 375.1h1.0M59.6 355.8h1.0M76.6 356h1.0M57.6 360.8h1.0M54.7 354.3h1.0M66.4 359.8h1.0M52.4 361.1h1.0M63.4 356.6h1.0M55.6 361.7h1.0M59.7 361.3h1.0M65.8 359.6h1.0M66.7 362.7h1.0M52.6 352.3h1.0M62.2 366.8h1.0M64.5 354.9h1.0M51.6 361.3h1.0M62.8 352.9h1.0M58.4 360.8h1.0M63.6 369.9h1.0M62.7 360.4h1.0M61.6 367.6h1.0M65.3 365.6h1.0M58.9 358.4h1.0M60.7 352h1.0M66.5 355.6h1.0M64.9 357.2h1.0M58.2 359h1.0M51.9 365.1h1.0M63.7 362.2h1.0M55.4 357.5h1.0M56.9 357h1.0M58.8 361.4h1.0M62.8 364h1.0M61.7 352.5h1.0M53.3 364.4h1.0M54.5 354.2h1.0M67.6 352.6h1.0M52.2 359.1h1.0M58.4 364.9h1.0M58 358.5h1.0M59.9 360.6h1.0M61.5 356.7h1.0M60.5 347.2h1.0M62.8 360.7h1.0M59.9 353.2h1.0M59.6 362.4h1.0M59.1 361.3h1.0M64.4 358.4h1.0M57.6 361.8h1.0M72.4 356.2h1.0M60.2 361.3h1.0M56.5 357h1.0M53.9 362.4h1.0M65 364.7h1.0M61.1 366.8h1.0M60.4 362.2h1.0M47.4 364.2h1.0M62.3 359.5h1.0M67.3 348.4h1.0M54.6 369.8h1.0M66.2 347.7h1.0M63.6 361.2h1.0M63.1 352.7h1.0M55.3 363.1h1.0M64.6 344.3h1.0M59.9 366.7h1.0M57.2 356.7h1.0M59.6 344.9h1.0M53.1 363.9h1.0M49.5 370.3h1.0M69.3 364.6h1.0M53 359.7h1.0M50.2 359.5h1.0M52.9 360.8h1.0M53.4 365.7h1.0M63 348.3h1.0M54.4 344.3h1.0M58.2 368h1.0M61.8 360h1.0M55 358.5h1.0M63.9 351.4h1.0M65.4 368.4h1.0M66 348.5h1.0M59.5 357.6h1.0M61.1 365.2h1.0M59 358h1.0M57.6 361.2h1.0M75.8 349.6h1.0M59.4 356.3h1.0M51.1 356.1h1.0M54.7 353.7h1.0M70.4 352.5h1.0M61.9 367.1h1.0M54.1 368.1h1.0M64.6 350.1h1.0M67.9 358h1.0M61.7 362.8h1.0M55.5 355.7h1.0M64 351.4h1.0M46.6 371.9h1.0M65.6 351.1h1.0M56.3 357h1.0M65.2 355.7h1.0M62.4 360h1.0M75.9 342.6h1.0M65.3 366.6h1.0M66.3 353h1.0M55.8 376.9h1.0M62.6 359.3h1.0M63.2 353.5h1.0M54.2 367.1h1.0M51.6 369.4h1.0M62.5 358.8h1.0M64.8 352.7h1.0M61 348.8h1.0M58.7 362.8h1.0M61.9 356.4h1.0M64.3 372.6h1.0M71.4 350.9h1.0M54.5 359.2h1.0M68.7 353.1h1.0M63.6 362.6h1.0M55.9 358.1h1.0M71.4 351.9h1.0M53.8 361.2h1.0M66 351.1h1.0M61.6 362.1h1.0M64.9 368.5h1.0M52.7 360.3h1.0M71.7 356.2h1.0M64.9 361.9h1.0M56.5 358.7h1.0M59.5 370.3h1.0M63.3 350.4h1.0M64.9 352.4h1.0M62.9 357.3h1.0M67.6 356.5h1.0M50.7 379.2h1.0M57.7 361h1.0M64.9 359.9h1.0M58.8 356.4h1.0M57.7 361.3h1.0M59.6 355.8h1.0M57.1 362.3h1.0M56.2 361h1.0M54.6 365h1.0M58.2 355.8h1.0M56.6 361.9h1.0M57.6 360.7h1.0M69.4 352.6h1.0M66.9 362.9h1.0M60.4 358.6h1.0M51.3 365.3h1.0M62.1 363.8h1.0M70.3 356.5h1.0M64.8 356.6h1.0M59.6 357.4h1.0M56.9 357.5h1.0M62.2 358.9h1.0M66.6 359h1.0M59.7 360.6h1.0M48.7 371.6h1.0M68.4 347.1h1.0M61.4 349.4h1.0M62 360.6h1.0M62.9 348.2h1.0M49.7 362.3h1.0M69.3 353.3h1.0M64.6 359.5h1.0M61.7 351.8h1.0M48 353.2h1.0M59.4 356.4h1.0M63.1 355.2h1.0M59.9 349.3h1.0M63.1 355.8h1.0M68.3 359.8h1.0M62 364.3h1.0M62.3 345.2h1.0M67.7 361.3h1.0M65.1 363.3h1.0M56.5 358.5h1.0M55.6 365.3h1.0M53.5 360h1.0M58.8 370h1.0M64.2 359.1h1.0M61.7 359.8h1.0M66.1 360.2h1.0M56.8 366.5h1.0M59.7 361.4h1.0M55.1 360.3h1.0M64.8 352.9h1.0M56.5 368.3h1.0M53.1 366.3h1.0M61.6 348.3h1.0M58.3 353.9h1.0M53.7 367.1h1.0M67.3 351.5h1.0M68.2 350.9h1.0M69.9 354.9h1.0M52.6 370.5h1.0M61.3 357.9h1.0M51.4 359.7h1.0M58.9 359.6h1.0M51.9 366.1h1.0M62.6 345.2h1.0M64.9 367.1h1.0M64.1 358.5h1.0M64.7 354.4h1.0M62.6 354.6h1.0M66.4 358.8h1.0M56.1 358.8h1.0M58.2 355.1h1.0M58 358.7h1.0M49.5 370.3h1.0M68.6 355.3h1.0M54.2 359.5h1.0M61 363.1h1.0M66.1 365.5h1.0M54.9 366.4h1.0M54.5 364.7h1.0M56.3 370.8h1.0M68.6 359.7h1.0M69.4 354.3h1.0M61.6 358.5h1.0M65.6 371.4h1.0M61.9 348.4h1.0M55.8 358.1h1.0M55.3 368.4h1.0M49.6 367.1h1.0M62 357.9h1.0M70.4 352.8h1.0M56.9 359.3h1.0M56.2 361h1.0M63.1 362.4h1.0M62.6 366.9h1.0M62.2 364.1h1.0M57.4 354.3h1.0M59.1 363.6h1.0M54 346.4h1.0M59.4 365.9h1.0M61.2 353h1.0M60.8 355.8h1.0M60 361.4h1.0M56.5 358.3h1.0M62.6 362.5h1.0M67.3 348.8h1.0M61.9 366.1h1.0M73.3 356.8h1.0M64.3 352.5h1.0M63.6 363.3h1.0M71.7 352.2h1.0M49.5 371.2h1.0M62.2 357.5h1.0M59.8 356.9h1.0M54.4 354.3h1.0M63.2 353.2h1.0M57.5 359.9h1.0M64.4 362.5h1.0M62 349.8h1.0M57.1 357.2h1.0M60.6 367.2h1.0M60.5 353.7h1.0M59.2 358.3h1.0M59.3 362.4h1.0M62.5 355.1h1.0M48.9 357.3h1.0M59.3 365.9h1.0M60.9 360.9h1.0M59.6 359.5h1.0M61.6 358.7h1.0M62.8 370h1.0M64.9 346.9h1.0M59.9 352.4h1.0M54.9 353.6h1.0M63.6 358.6h1.0M55.8 376.3h1.0M61.8 351.6h1.0M60.6 367.1h1.0M62.6 355.6h1.0M57.6 366.6h1.0M63.8 352.3h1.0M60.3 362.8h1.0M57.3 358.2h1.0M69.9 351.8h1.0M55.7 347h1.0M52.6 364.8h1.0M60.3 364.2h1.0M65 359.7h1.0M60.5 360.4h1.0M65.5 354.9h1.0M61.1 364.6h1.0M48.4 366.3h1.0M53.6 361.6h1.0M64 362.2h1.0M60.7 354h1.0M63.5 354.2h1.0M62.6 349.4h1.0M64 358.8h1.0M52.1 354.7h1.0M63.2 354.1h1.0M53 354.4h1.0M60.6 362.5h1.0M53.9 358.1h1.0M64.6 353.3h1.0M60.2 345.8h1.0M66.4 351.2h1.0M58.5 370.5h1.0M68.8 354.7h1.0M58.7 366.7h1.0M57.1 359.1h1.0M61.5 354.2h1.0M55.1 366.1h1.0M52.1 363.2h1.0M51.8 359.1h1.0M70.8 351h1.0M61.1 349.8h1.0M48.7 358.3h1.0M63.5 359.2h1.0M63.3 359.1h1.0M60.4 355.7h1.0M57.1 362.2h1.0M68.1 351.3h1.0M59.5 360.9h1.0M57.9 349.9h1.0M50.8 366.3h1.0M65.1 358.2h1.0M67.5 361.8h1.0M69.9 353.2h1.0M50.1 373.4h1.0M65.7 357.1h1.0M66.9 355.8h1.0M57 358.4h1.0M66.7 351.5h1.0M70.1 347.1h1.0M63.2 352.8h1.0M58.4 350.3h1.0M64.7 349.9h1.0M59.8 354.3h1.0M65 351.1h1.0M57.2 351.3h1.0M62.5 365.5h1.0M60.8 367.4h1.0M67 352.8h1.0M55.5 350.2h1.0M52.4 358.8h1.0M64.8 361h1.0M67.9 351h1.0M52.1 367.3h1.0M56.9 363.7h1.0M60.1 352.3h1.0M65.6 354.8h1.0M62.3 369.4h1.0M54.6 362.9h1.0M56.7 354.6h1.0M71.7 353.9h1.0M67.6 362.9h1.0M53.4 373.3h1.0M71.4 356.9h1.0M59 357.6h1.0M63.1 364h1.0M53.5 363.6h1.0M66.5 352.3h1.0M61.2 356.6h1.0M59.7 354.5h1.0M62.7 356.9h1.0M66 358.4h1.0M60.5 351.4h1.0M72.6 351.9h1.0M51.4 361.4h1.0M62.6 360.4h1.0M60.8 362.4h1.0M65.6 347.6h1.0M58 359.2h1.0M52.6 366.8h1.0M65.9 362.2h1.0M61.1 364.9h1.0M56.5 362.1h1.0M57.6 360.3h1.0M56 366.4h1.0M48.5 366.8h1.0M68.7 347.4h1.0M56.7 357h1.0M53.1 361.4h1.0M61.7 354h1.0M66.4 351.1h1.0M51.2 367.1h1.0M57.3 360.1h1.0M59.4 355.4h1.0M60.6 365.6h1.0M60.6 354.7h1.0M50 362h1.0M59.1 363.1h1.0M59.6 358.9h1.0M63.1 356.5h1.0M57.5 356.2h1.0M65.6 367.4h1.0M53.3 356.9h1.0M50.6 369.8h1.0M69.6 346.5h1.0M58 360.3h1.0M55.3 357.6h1.0M60.3 356.1h1.0M60.3 353.5h1.0M57.5 353.6h1.0M57.4 362.1h1.0M51.5 366.5h1.0M54.5 356h1.0M55.5 361.9h1.0M60.7 363.2h1.0M57.7 356.7h1.0M54 352.2h1.0M66.7 351.6h1.0M58.3 358.3h1.0M52.4 367.7h1.0M59.6 352.9h1.0M65.6 354h1.0M54.3 368.2h1.0M55.7 350.3h1.0M58.7 355.7h1.0M60.7 363.2h1.0M58.3 355.6h1.0M61.8 356.1h1.0M57.2 351.4h1.0M70.8 355.6h1.0M60.1 358.3h1.0M56.9 356.2h1.0M74.4 347.3h1.0M59.2 366.6h1.0M57.8 359h1.0M59.1 360.5h1.0M64.6 354.7h1.0M63.7 351.2h1.0M60.6 369.6h1.0M68.3 353.2h1.0M49.7 361.4h1.0M72.9 344.6h1.0M56.4 361.4h1.0M65 352.1h1.0M56.4 358h1.0M62.1 353.5h1.0M56.2 361.9h1.0M56.8 354.9h1.0M59.5 357.6h1.0M67.1 362h1.0M66 355.4h1.0M53.7 357.7h1.0M55.4 357.9h1.0M56.4 366.8h1.0M65.8 363.1h1.0M61.3 363.1h1.0M56.3 348.3h1.0M58.8 351.7h1.0M53.3 359.9h1.0M68.1 359.7h1.0M70.5 353.9h1.0M61.9 361.1h1.0M61 368.6h1.0M69.6 343.7h1.0M66.6 357.8h1.0M61.5 353.2h1.0M71 344.2h1.0M59.5 364.5h1.0M59.4 355.1h1.0M51.7 368.6h1.0M62 355.3h1.0M63.4 357h1.0M57.7 363.2h1.0M64.3 368.1h1.0M67 364.2h1.0M62.1 361.4h1.0M66.1 348.8h1.0M53.2 355.8h1.0M58.5 358.5h1.0M63.5 361.9h1.0M56.2 369.1h1.0M63.3 364.4h1.0M55.6 366.6h1.0M61.4 358h1.0M52.3 371.5h1.0M55.3 364.5h1.0M57.8 354.5h1.0M50 369.3h1.0M58.8 370.4h1.0M61.3 350.6h1.0M59.1 368.7h1.0M59.1 357.7h1.0M61.4 356.5h1.0M50.4 360.8h1.0M54.5 368.7h1.0M66.8 349.7h1.0M59.4 362.4h1.0M59.4 353.4h1.0M56.5 362.3h1.0M62.9 357h1.0M52.5 364.3h1.0M47.7 361.6h1.0M50.6 360.8h1.0M52.7 358.7h1.0M60.1 363.5h1.0M59.6 360.7h1.0M61.6 355.6h1.0M64.7 365.7h1.0M57.9 348.9h1.0M63.2 365.8h1.0M61.6 353.6h1.0M70 353.7h1.0M66.7 347.9h1.0M49.9 368.3h1.0M65.2 347.1h1.0M56.9 370.9h1.0M68.3 351.6h1.0M57.1 356.4h1.0M62.1 356.6h1.0M56.5 363.8h1.0M60.7 350.8h1.0M72.3 360.3h1.0M57.5 361.1h1.0M53.6 359.1h1.0M57.4 349.2h1.0M62 350.8h1.0M66.1 355.7h1.0M55.6 358.4h1.0M53.8 354h1.0M66.4 354.4h1.0M66.3 355.2h1.0M65.4 352.2h1.0M62.6 358.6h1.0M65.2 367.4h1.0M70.2 362.3h1.0M67 358.9h1.0M60.8 363.1h1.0M60.7 354.8h1.0M59.2 364.6h1.0M60.9 356.5h1.0M53.3 358.8h1.0M57.8 338.9h1.0M61.9 349.4h1.0M65.1 359.2h1.0M51.9 363.9h1.0M55.8 365.7h1.0M62 353.5h1.0M56.5 357.1h1.0M58.9 354.8h1.0M59.3 370.8h1.0M58.9 370h1.0M60 357.2h1.0M57.2 358h1.0M47.8 361.4h1.0M55.3 361.8h1.0M64.9 354.7h1.0M60.6 362.2h1.0M65.3 356.8h1.0M71.5 351.8h1.0M66.5 359.6h1.0M63 359h1.0M57.9 361.8h1.0M68 353.1h1.0M55 367h1.0M57.4 365.6h1.0M61.3 359.1h1.0M56.5 368.2h1.0M63.3 352h1.0M58.1 362.1h1.0M72.1 361.6h1.0M58.4 359.7h1.0M59.2 359.7h1.0M62.8 359.8h1.0M52.4 369.7h1.0M58.9 366.5h1.0M58.3 361h1.0M72.2 347.5h1.0M61.2 352.1h1.0M62.1 353.4h1.0M61.8 368h1.0M66.5 354.9h1.0M62.8 349.5h1.0M62 353.1h1.0M70.1 342.7h1.0M59.5 369.1h1.0M58.9 366.4h1.0M59 359.7h1.0M55.8 363.6h1.0M60.8 358.2h1.0M65.6 357.4h1.0M61.3 359.1h1.0M62.7 359.1h1.0M66.3 358.8h1.0M67.5 356.5h1.0M61 364.3h1.0M63.4 366h1.0M63.4 350.4h1.0M56.5 358.7h1.0M54.2 361.3h1.0M64.5 358.7h1.0M61.9 362.4h1.0M60.1 357.2h1.0M62 360h1.0M64.1 355.5h1.0M65.2 353.9h1.0M63.2 367.2h1.0M51.4 362.7h1.0M71.8 352.5h1.0M63.6 366.3h1.0M51.8 365.8h1.0M57.3 372.3h1.0M56.6 356.2h1.0M56.9 361.5h1.0M52.3 368.5h1.0M58.3 365h1.0M61.6 368.1h1.0M68.7 355.5h1.0M61.1 356.9h1.0M60.9 358.9h1.0M60.1 368.9h1.0M64 362.3h1.0M66.2 356.7h1.0M61.4 357.8h1.0M63 351.3h1.0M57.6 356h1.0M64.6 355.4h1.0M57.2 352.5h1.0M55.8 360.2h1.0M60.4 347.3h1.0M65.1 358.5h1.0M61.7 352.4h1.0M52.6 362.3h1.0M62.8 369.1h1.0M56.6 357.5h1.0M56 362.4h1.0M59.7 352.8h1.0M61.5 355.8h1.0M61.2 348.7h1.0M64.3 356.1h1.0M58.1 366.4h1.0M61.6 351.3h1.0M55.5 360.7h1.0M62.6 366h1.0M56.5 355.4h1.0M56.3 355.9h1.0M60.9 350.1h1.0M74 343.6h1.0M57.7 353.2h1.0M64.3 348.8h1.0M56.5 357.7h1.0M62.1 356.7h1.0M60.1 362.6h1.0M61.5 362.7h1.0M67.9 352.1h1.0M59.1 353.8h1.0M65 357.7h1.0M59.7 364.7h1.0M65.9 347.8h1.0M60.8 360.2h1.0M65.4 367.2h1.0M62.8 360.2h1.0M64.4 355.4h1.0M57.7 350.4h1.0M63.8 348.4h1.0M60.1 367.1h1.0M62.9 363.7h1.0M68.2 350.5h1.0M68.5 344.7h1.0M61 364.1h1.0M58.7 358.1h1.0M59.7 370.9h1.0M56.3 362.6h1.0M53 361h1.0M69.7 365.3h1.0M56.1 365.6h1.0M63.2 352.5h1.0M58.8 357.9h1.0M59.3 359.8h1.0M64.3 353.3h1.0M58.6 359.5h1.0M55.5 365.6h1.0M60.4 358.2h1.0M63.3 342.2h1.0M57.3 355.6h1.0M59.3 353.3h1.0M62.1 361.2h1.0M61.5 361h1.0M58.8 353.1h1.0M54.2 376.5h1.0M52.2 363.5h1.0M63.1 365.2h1.0M52 355.2h1.0M61.7 347.1h1.0M71.9 345.4h1.0M64.6 355.9h1.0M69.4 360.9h1.0M63.4 354.7h1.0M62.1 347h1.0M54.7 362.9h1.0M59.6 362.1h1.0M53.9 352.9h1.0M59.8 355.5h1.0M51.9 368.8h1.0M63.3 356.7h1.0M52.5 366.6h1.0M54.2 348h1.0M62.2 352.5h1.0M57.9 375.7h1.0M61.7 355.1h1.0M54.5 353h1.0M54 359.4h1.0M66.1 354.2h1.0M67 346h1.0M67.7 359.1h1.0M54.2 363.5h1.0M58.2 369.1h1.0M58 366.7h1.0M58.7 365.9h1.0M67.4 353.6h1.0M55.7 353h1.0M55.2 355.3h1.0M64.9 354.1h1.0M60.3 358.2h1.0M54.7 354.5h1.0M58.4 364.2h1.0M59.8 363.3h1.0M63.7 360.4h1.0M50.6 361.8h1.0M66.3 348.4h1.0M61 357.8h1.0M60 362.8h1.0M67.5 355h1.0M53.2 362.6h1.0M67.4 354.2h1.0M62.8 359.3h1.0M73.7 351.4h1.0M62.4 364.4h1.0M60.9 362.1h1.0M59.1 364.7h1.0M61.2 369.4h1.0M63.7 358.5h1.0M57.1 365.1h1.0M71.1 362.8h1.0M56.1 361h1.0M65.6 353h1.0M55.7 376.7h1.0M63.2 356.8h1.0M59.2 357.3h1.0M60.6 358.6h1.0M58.1 362.2h1.0M67.2 348.3h1.0M56.7 359.5h1.0M67.1 359.3h1.0M61.7 361.5h1.0M57.9 359.8h1.0M60.9 358h1.0M67 357.1h1.0M57.4 365.8h1.0M61.3 363h1.0M55.2 366.9h1.0M68 360.1h1.0M63.1 367.4h1.0M62.9 366.3h1.0M63.6 355.1h1.0M51.8 353h1.0M58.7 354h1.0M55.7 356.6h1.0M62.2 356.2h1.0M55.3 354.5h1.0M55.1 364.4h1.0M61.2 357.2h1.0M55.5 358.2h1.0M64 362.9h1.0M69.5 362.1h1.0M62.8 364.6h1.0M51.6 361.6h1.0M61.9 349.6h1.0M67 347.4h1.0M60.2 361.2h1.0M65.6 352.3h1.0M60.7 355.5h1.0M61.3 364.4h1.0M54.7 361.8h1.0M63 362.6h1.0M54.2 358.1h1.0M60.6 361.4h1.0M63.5 361.5h1.0M57.4 366h1.0M67.2 355.7h1.0M56.8 365.6h1.0M63 369.1h1.0M65.9 354.4h1.0M63.3 354h1.0M64.8 349.2h1.0M62.6 358.8h1.0M53.9 359.6h1.0M71 355.9h1.0M61.1 359.7h1.0M61.9 360.5h1.0M57.5 363.7h1.0M63.1 356.9h1.0M46.7 369.4h1.0M62.7 355.6h1.0M56.3 372.6h1.0M55.1 347.8h1.0M54.6 367.7h1.0M63.8 355h1.0M66.9 342.1h1.0M61.7 361.7h1.0M57 366.1h1.0M65 345.2h1.0M63.2 364h1.0M58 366.3h1.0M62.1 349.1h1.0M43.4 371.2h1.0M55.3 367.6h1.0M56 366.7h1.0M54.1 360.2h1.0M58.2 374h1.0M66.3 355.4h1.0M67.4 354.5h1.0M67.8 363.8h1.0M69.5 367.9h1.0M56.1 368.8h1.0M59.2 353.8h1.0M55.6 361.2h1.0M58.5 352.1h1.0M74.3 359h1.0M61.4 358.7h1.0M47.8 368h1.0M60.2 366.2h1.0M70.5 353.7h1.0M60.5 356.2h1.0M66 350.3h1.0M49.8 370.3h1.0M60.3 359.3h1.0M55.5 356.8h1.0M52 366.6h1.0M57.3 361.9h1.0M65.7 353.8h1.0M60.2 353.8h1.0M61 363.4h1.0M58.5 354.5h1.0M61.1 349h1.0M53.1 362.8h1.0M66.4 359.9h1.0M63.1 351.5h1.0M56.7 361.8h1.0M62.5 348.9h1.0M65.9 362.8h1.0M67 353.5h1.0M64.5 353.4h1.0M56.7 353.8h1.0M61.7 361.7h1.0M54.9 360.4h1.0M60.8 357.3h1.0M54.5 352.9h1.0M64.9 349.6h1.0M66.1 362.9h1.0M63 357.2h1.0M66.2 348.1h1.0M57.3 353.8h1.0M60 354.4h1.0M67.8 349.8h1.0M65.5 361h1.0M62.1 356.2h1.0M64 354.4h1.0M55.4 356.2h1.0M53.1 363h1.0M60.1 370.5h1.0M68.2 365.2h1.0M66.4 353h1.0M63.5 352.1h1.0M70.4 351.3h1.0M66 354.5h1.0M53.9 359.7h1.0M52.4 365.5h1.0M64.9 365.7h1.0M58.4 359.4h1.0M57.2 362.6h1.0M64.9 353.7h1.0M55.6 362h1.0M60.8 353.8h1.0M54.7 348.2h1.0M53.2 368.3h1.0M61.7 362.8h1.0M67.2 352.4h1.0M61.3 352h1.0M54.1 353.4h1.0M54.2 363.7h1.0M56 361.5h1.0M60 357.5h1.0M67.1 352.2h1.0M62.2 355.5h1.0M64.7 362h1.0M58.8 355.5h1.0M61.9 352.9h1.0M53.3 368.5h1.0M59.9 366.4h1.0M61.7 359h1.0M67.3 352.8h1.0M63.6 351.5h1.0M58.7 363.9h1.0M59.4 357.6h1.0M54.4 360.8h1.0M54.5 357.9h1.0M64.8 360.2h1.0M60.4 361.5h1.0M62.4 364.5h1.0M51.7 362.5h1.0M57.6 369.9h1.0M55 356.6h1.0M63.1 358.7h1.0M59.3 352.6h1.0M59.4 364.7h1.0M58.6 363.4h1.0M65 350.9h1.0M61.9 356h1.0M64.5 353.7h1.0M56 360.4h1.0M53.5 360h1.0M53.1 363.4h1.0M66.1 353.9h1.0M62.9 369.6h1.0M53.6 368.5h1.0M68 369.7h1.0M63 349.6h1.0M58.5 357h1.0M65.9 360.1h1.0M58.9 356.6h1.0M62.8 360.4h1.0M55.4 356.6h1.0M58 368.7h1.0M69.9 350.8h1.0M62.4 361h1.0M64.3 350.9h1.0M58.4 370.2h1.0M54.5 350.1h1.0M57.4 366.4h1.0M49.3 362.1h1.0M62.6 357.7h1.0M65.6 353.3h1.0M68.3 352.2h1.0M68.4 352.6h1.0M58 359.2h1.0M59.3 351.2h1.0M57.9 361.9h1.0M61.7 363.9h1.0M60.7 356.7h1.0M63 361.2h1.0M73.5 359.9h1.0M53.1 369.1h1.0M71.2 356h1.0M60.6 363.5h1.0M66 349.8h1.0M66.4 352.8h1.0M57.1 366h1.0M54.8 355.3h1.0M59.7 352.4h1.0M52.1 359.7h1.0M57 362.5h1.0M58.6 359.9h1.0M57.1 350.1h1.0M66.3 354.7h1.0M57.8 360.3h1.0M63.3 353.4h1.0M65.1 349.3h1.0M61.9 351.8h1.0M57.4 362.6h1.0M54.5 361.6h1.0M64.7 358.9h1.0M61.9 352.6h1.0M66 358.5h1.0M55.3 358.3h1.0M53.5 361.7h1.0M66.2 351.6h1.0M61.9 360.6h1.0M67.8 347.7h1.0M54.3 364h1.0M64.8 364.1h1.0M61.8 364.7h1.0M64.3 345.6h1.0M66.1 351.8h1.0M63.4 364.5h1.0M61.3 375.1h1.0M66.6 352.9h1.0M67.4 361.9h1.0M55.9 364.9h1.0M55.2 367.6h1.0M55.6 352h1.0M64.4 362.7h1.0M58.9 356.3h1.0M66.5 359.1h1.0M63 363.2h1.0M60.4 360.7h1.0M66.2 356.7h1.0M53.8 355h1.0M59.8 360.3h1.0M65.8 356.6h1.0M44.9 364.8h1.0M68.3 353.2h1.0M63.8 356.9h1.0M58.6 363.6h1.0M62.8 361.4h1.0M63.2 350h1.0M58.6 352.6h1.0M58.6 372h1.0M58.6 365.7h1.0M62.8 358.4h1.0M72.5 351.4h1.0M68.4 357.2h1.0M61.4 360.6h1.0M66.2 357.3h1.0M59.7 357.8h1.0M56.7 358.5h1.0M61.6 355.9h1.0M51.7 370.4h1.0M67.9 354.8h1.0M65 356.9h1.0M57.8 360.3h1.0M55.5 362.3h1.0M56.6 365.9h1.0M59.9 355.8h1.0M62.3 358.3h1.0M65.7 360.3h1.0M66.2 347.9h1.0M54 372.5h1.0M64.2 366.8h1.0M54.9 361.2h1.0M63.1 352.2h1.0M57.3 358.4h1.0M58.9 365.2h1.0M56.4 354h1.0M60.7 355.1h1.0M63.5 346.9h1.0M64.1 358.6h1.0M60.3 361.9h1.0M54.4 358.6h1.0M57.9 363.4h1.0M62.6 355.7h1.0M58.6 350.4h1.0M55.9 357.3h1.0M59.5 358.9h1.0M59.3 346.1h1.0M66.5 361.4h1.0M63 355.8h1.0M58.7 366.2h1.0M53.3 358.7h1.0M47.1 367.4h1.0M57.3 367.7h1.0M61.7 356.1h1.0M62.2 349.2h1.0M58 359h1.0M55.3 365h1.0M57.6 355.8h1.0M58.3 347.4h1.0M59.8 359.3h1.0M68.2 355.8h1.0M60.9 359.2h1.0M56.3 365.9h1.0M58.7 364.7h1.0M57.4 358.5h1.0M66.9 343.6h1.0M59.8 353.1h1.0M58.2 358.9h1.0M61 356.3h1.0M65.2 359.7h1.0M60.3 361.9h1.0M63.4 361.2h1.0M58.7 359.3h1.0M64 354.5h1.0M66.8 349.5h1.0M64 349.6h1.0M60.6 361.1h1.0M59.1 352.9h1.0M54.4 360.4h1.0M60 367.1h1.0M56.5 355.1h1.0M64.3 355.8h1.0M63.1 360.6h1.0M65 354.4h1.0M68.4 356.6h1.0M62.5 353.4h1.0M56 356.7h1.0M60.9 370h1.0M66.1 347.1h1.0M56.9 360h1.0M61.3 352.8h1.0M60.4 354.3h1.0M57.9 359.6h1.0M69.3 349h1.0M60.2 352.6h1.0M59.6 357.9h1.0M56.4 359.2h1.0M56 363.5h1.0M56.9 366.5h1.0M63.1 355.3h1.0M57 359.7h1.0M55.4 358.8h1.0M69.4 360h1.0M63.9 363.5h1.0M69 358.5h1.0M60.2 363.5h1.0M61.2 363.1h1.0M63.6 352.8h1.0M59.3 363.2h1.0M58.4 352h1.0M64.9 357h1.0M63.3 360.1h1.0M57.4 370.1h1.0M56.9 366.9h1.0M56.1 364.6h1.0M57.6 367.2h1.0M67.3 355.7h1.0M62.3 366.8h1.0M55.5 365.4h1.0M60.8 362.8h1.0M63.9 361.4h1.0M55.4 368.9h1.0M61.9 354.3h1.0M56.4 349.7h1.0M52.9 358.4h1.0M67 355.9h1.0M56.5 368.7h1.0M65.6 366.3h1.0M67.1 364h1.0M67.5 362.4h1.0M62 349.8h1.0M60.1 360.9h1.0M62.1 367.8h1.0M64 358.9h1.0M63.2 358.8h1.0M64.8 357.5h1.0M54.4 357.2h1.0M68.2 362h1.0M60.3 363h1.0M62.1 354.8h1.0M56.7 361.4h1.0M66.1 367.2h1.0M64.6 351.4h1.0M62.4 365.9h1.0M62.9 359.9h1.0M68.5 358.9h1.0M56.9 358.7h1.0M53.3 346.3h1.0M55.1 359.7h1.0M65.7 353.4h1.0M61.1 371.6h1.0M52.7 364.5h1.0M56.9 355.5h1.0M70 352.8h1.0M63.6 347.1h1.0M63.9 367.7h1.0M65.2 361.7h1.0M58.5 361.1h1.0M57.6 374.2h1.0M60.9 352.7h1.0M54.4 357.5h1.0M65.7 350.5h1.0M60.1 355.9h1.0M53.2 358h1.0M56.4 361.4h1.0M55.5 356.7h1.0M57.5 352.7h1.0M62.6 363.8h1.0M63.6 337.3h1.0M57.4 354.7h1.0M55.9 364.8h1.0M58.1 356.2h1.0M63.9 351.2h1.0M61.5 355.5h1.0M63 362.7h1.0M59.6 363.3h1.0M58.9 363.9h1.0M52.4 362.9h1.0M57.1 360.4h1.0M60.2 356.1h1.0M59 362.1h1.0M62.4 346.2h1.0M70.7 361.9h1.0M62.2 363.2h1.0M57.2 356.6h1.0M67.6 351h1.0M52 366.9h1.0M56 353.5h1.0M67.9 341.2h1.0M69.6 356.1h1.0M58.1 364.3h1.0M65.2 360.4h1.0M58.1 358.8h1.0M67.5 340h1.0M59 363h1.0M57.9 358.9h1.0M60.1 360.9h1.0M48.6 362.4h1.0M47.8 377.3h1.0M59 359.4h1.0M60.6 354.2h1.0M55.3 358.6h1.0M60.1 354.1h1.0M63.6 354.2h1.0M63.1 354.3h1.0M52.5 367.2h1.0M64.3 348.4h1.0M65.2 354.4h1.0M65.7 355.2h1.0M61.5 359h1.0M59 357.5h1.0M60.2 362.7h1.0M66 358.5h1.0M65.3 353.9h1.0M60.2 362.9h1.0M61.6 352.4h1.0M60.7 362.4h1.0M64.3 356h1.0M53.5 355.1h1.0M62.3 352.5h1.0M71.1 349.4h1.0M57.3 354.5h1.0M60.1 362.2h1.0M61.9 362.8h1.0M60.7 353.4h1.0M63.7 364.6h1.0M64.5 353h1.0M59.8 355.5h1.0M61.4 351.5h1.0M60.4 362.9h1.0M58.8 365.2h1.0M58.1 363h1.0M57.9 353.4h1.0M63.9 367.1h1.0M60.4 352.6h1.0M51.8 369.7h1.0M53.4 359.2h1.0M63.9 362h1.0M49.7 366.5h1.0M61.4 364h1.0M54 366.5h1.0M61.7 359.8h1.0M68.3 365.4h1.0M63.6 354.3h1.0M56.1 362.5h1.0M51.5 366h1.0M60.8 363.1h1.0M65.2 360.4h1.0M58.5 356.3h1.0M62.5 358.3h1.0M61.6 349h1.0M54.3 357.3h1.0M60.6 360.2h1.0M58 363.7h1.0M60.9 363.5h1.0M71.6 357h1.0M62 356.4h1.0M48.2 372h1.0M61.5 349h1.0M53.2 370h1.0M52.6 356.6h1.0M66.1 354h1.0M61.2 357.7h1.0M64.6 356.4h1.0M65.4 354.4h1.0M62.7 357.3h1.0M58.3 367.3h1.0M63.5 357.2h1.0M57 361.8h1.0M51.1 372.2h1.0M63.2 362.5h1.0M60.9 354.1h1.0M63.9 359.6h1.0M59.1 357.3h1.0M66.9 348.2h1.0M68.4 361.2h1.0M67.7 355.5h1.0M58.5 354.4h1.0M69.1 350.3h1.0M61.5 362h1.0M66.6 352.5h1.0M67.1 347.6h1.0M57.2 359.3h1.0M65.6 353h1.0M49.6 362.4h1.0M63.8 357.9h1.0M65 355.2h1.0M58.1 363.6h1.0M53.3 368.4h1.0M55.7 354.8h1.0M51.2 354.9h1.0M62.5 358.1h1.0M62.3 357.1h1.0M61.6 352.1h1.0M66.9 349.6h1.0M59.3 353.9h1.0M58.6 369.7h1.0M60.2 352.5h1.0M69.8 361.1h1.0M59.4 356.3h1.0M64.3 347.6h1.0M52.9 351.1h1.0M62.5 362.5h1.0M60 354h1.0M52.4 366.1h1.0M67.6 354.9h1.0M60 357.4h1.0M70 350.4h1.0M67.4 357h1.0M67.4 359.6h1.0M62.2 357.7h1.0M59.9 367.6h1.0M67.7 363.5h1.0M60.8 355.9h1.0M70.4 356.5h1.0M59.9 354.2h1.0M62.5 353.7h1.0M66.2 356.2h1.0M64.3 365h1.0M65.1 358.6h1.0M64.7 362.6h1.0M57.4 366.4h1.0M56.4 367.9h1.0M55.1 347.8h1.0M73.6 354.8h1.0M68.2 351.4h1.0M55.6 361.9h1.0M62.8 347.2h1.0M61.9 346.1h1.0M61.4 364.9h1.0M59.8 353.6h1.0M77.4 355h1.0M61.9 358.2h1.0M62.2 349.4h1.0M55.9 360.2h1.0M64.5 363.5h1.0M67 355.1h1.0M67.8 364.2h1.0M63.9 359.2h1.0M66 360.9h1.0M56 363.6h1.0M69.1 351.4h1.0M58.2 357.7h1.0M60 360.4h1.0M60.3 361.6h1.0M54.8 353.8h1.0M53.1 361h1.0M68.8 356.3h1.0M54.6 357h1.0M61.1 351.9h1.0M52.8 360.3h1.0M55.4 363.1h1.0M63.7 367.8h1.0M63 357.8h1.0M64.5 371.6h1.0M69 356.6h1.0M62 361.8h1.0M59.6 350.1h1.0M59.2 360.4h1.0M63.1 353.1h1.0M54.3 362.5h1.0M59.9 366.8h1.0M59.1 352.3h1.0M57.9 361h1.0M68.2 354.4h1.0M60.2 363.7h1.0M63.6 355.9h1.0M55.5 361.6h1.0M49.1 365.1h1.0M67.3 350.7h1.0M60.8 360h1.0M58 348.5h1.0M50 349.8h1.0M47.9 364.1h1.0M61.6 355.6h1.0M66.1 352.9h1.0M63.2 349.2h1.0M65.9 348.1h1.0M65.1 357.9h1.0M55.5 355.8h1.0M51.9 352h1.0M59.4 367.1h1.0M66.4 355.9h1.0M65.3 355.3h1.0M66.6 359.3h1.0M54.9 360.9h1.0M68.4 358h1.0M56.3 360h1.0M64 350.2h1.0M55.8 360.1h1.0M64.1 364.9h1.0M59 359.9h1.0M55.9 363.7h1.0M54.2 361.5h1.0M58.3 359.1h1.0M53.6 374h1.0M64.2 344.1h1.0M57.2 353h1.0M57 353.5h1.0M60.1 365.2h1.0M59.6 356h1.0M64 360.6h1.0M61.7 358.2h1.0M52.4 365.2h1.0M65.5 362.4h1.0M43.6 362.9h1.0M55.6 356.7h1.0M60.1 365.4h1.0M60.5 363.3h1.0M59.8 360.5h1.0M64.4 353.8h1.0M69.7 354.1h1.0M61.3 358.5h1.0M62.2 368.3h1.0M68.6 351.2h1.0M48.9 362.4h1.0M58.9 361.8h1.0M61.3 360.6h1.0M52.2 359h1.0M64.6 349.9h1.0M60 354.6h1.0M66.8 353.5h1.0M55.6 357.6h1.0M65.2 354.1h1.0M57 357.3h1.0M57.8 357.8h1.0M55.6 352.6h1.0M58.6 353.8h1.0M62.9 355.1h1.0M63.7 362.2h1.0M56.1 367.9h1.0M62 361.9h1.0M45 370.5h1.0M61.2 361.2h1.0M65.9 368.6h1.0M62.4 352.8h1.0M47.5 372.4h1.0M71.6 349h1.0M56.8 358.8h1.0M59.4 370.9h1.0M61.4 355.4h1.0M63.1 356h1.0M61.1 355.3h1.0M67.4 344.8h1.0M60 364.9h1.0M58.8 354.9h1.0M63.1 358.8h1.0M57.7 362.2h1.0M56.6 353.4h1.0M68.8 353.3h1.0M57.2 363.3h1.0M56.5 352.1h1.0M59.9 349.6h1.0M65.6 356.3h1.0M56.9 369.3h1.0M59.7 355.5h1.0M61.6 362.3h1.0M65 351.2h1.0M65.2 362.5h1.0M65.8 345.5h1.0M61.9 369.5h1.0M62.1 355.3h1.0M54.8 361.9h1.0M69.8 349.7h1.0M72.4 353h1.0M61.8 366.9h1.0M70.5 358.6h1.0M54 354.5h1.0M61.6 372.6h1.0M61.4 367.7h1.0M59.9 357.1h1.0M62.4 355.4h1.0M55.5 358.2h1.0M57 353.6h1.0M60.2 355.6h1.0M62 357h1.0M58.2 366.8h1.0M61.9 358.1h1.0M59.2 353.1h1.0M52.8 365.8h1.0M64.2 348h1.0M72.3 354h1.0M64.1 359.4h1.0M71.1 347.9h1.0M59.6 364.5h1.0M61 366.5h1.0M55.8 360.5h1.0M54.1 360.1h1.0M61 343.4h1.0M62.8 359.5h1.0M60.8 359.1h1.0M61.7 356.1h1.0M66.7 349.2h1.0M64.4 359.5h1.0M56.3 358.8h1.0M69.1 361.7h1.0M67.2 352.3h1.0M66.9 364.2h1.0M63.7 348.7h1.0M66.9 360h1.0M64.3 362.3h1.0M62.6 355.6h1.0M72 349.4h1.0M58.8 359.3h1.0M67.3 351.4h1.0M55.6 350.5h1.0M65.8 360.5h1.0M63.9 360.1h1.0M61.7 352.3h1.0M62.6 354.6h1.0M60.4 355.2h1.0M64.2 355.3h1.0M53.9 361.2h1.0M56.9 361.4h1.0M52 361.1h1.0M64.4 363.7h1.0M58.9 359.1h1.0M60.1 361.1h1.0M61.2 354.4h1.0M60.6 366.2h1.0M56.8 357.9h1.0M68.9 356.6h1.0M63.8 346.5h1.0M58.9 356.8h1.0M71.8 355.8h1.0M64.4 349.5h1.0M64 369h1.0M59.5 355.7h1.0M62.6 368.4h1.0M59.5 360.9h1.0M63.2 356.7h1.0M61.9 369.7h1.0M69.5 359.8h1.0M58.3 358.1h1.0M61.5 361h1.0M58.7 352.7h1.0M57.7 363.4h1.0M44.1 361.7h1.0M60.1 357.9h1.0M51.4 358.4h1.0M58.6 358.8h1.0M56.2 364.6h1.0M55.1 362.6h1.0M59.6 366.2h1.0M58.2 367.4h1.0M51.5 359.2h1.0M58.4 363.5h1.0M65 361.1h1.0M70.6 338.9h1.0M61.4 364.1h1.0M54.3 367.5h1.0M58.6 352.4h1.0M51.2 362.5h1.0M50.5 359.3h1.0M55 357.7h1.0M58.3 356.7h1.0"/>
</g>
<rect x="30.30" y="254.60" width="133.00" height="132.80" fill="none" stroke="#555" stroke-width="0.8" />
<line x1="28.40" y1="256.20" x2="30.30" y2="256.20" stroke="#555" stroke-width="0.7" />
<text x="27.4" y="259.4" font-size="7.6" text-anchor="end" fill="#444" stroke="#444" stroke-width="0.22">10</text>
<line x1="28.40" y1="300.10" x2="30.30" y2="300.10" stroke="#555" stroke-width="0.7" />
<text x="27.4" y="303.3" font-size="7.6" text-anchor="end" fill="#444" stroke="#444" stroke-width="0.22">5</text>
<line x1="28.40" y1="344.00" x2="30.30" y2="344.00" stroke="#555" stroke-width="0.7" />
<text x="27.4" y="347.2" font-size="7.6" text-anchor="end" fill="#444" stroke="#444" stroke-width="0.22">0</text>
<line x1="28.40" y1="387.90" x2="30.30" y2="387.90" stroke="#555" stroke-width="0.7" />
<text x="27.4" y="391.1" font-size="7.6" text-anchor="end" fill="#444" stroke="#444" stroke-width="0.22">-5</text>
<line x1="30.45" y1="387.40" x2="30.45" y2="389.30" stroke="#555" stroke-width="0.7" />
<text x="30.5" y="395.5" font-size="7.6" text-anchor="middle" fill="#444" stroke="#444" stroke-width="0.22">-5</text>
<line x1="74.30" y1="387.40" x2="74.30" y2="389.30" stroke="#555" stroke-width="0.7" />
<text x="74.3" y="395.5" font-size="7.6" text-anchor="middle" fill="#444" stroke="#444" stroke-width="0.22">0</text>
<line x1="118.15" y1="387.40" x2="118.15" y2="389.30" stroke="#555" stroke-width="0.7" />
<text x="118.1" y="395.5" font-size="7.6" text-anchor="middle" fill="#444" stroke="#444" stroke-width="0.22">5</text>
<line x1="162.00" y1="387.40" x2="162.00" y2="389.30" stroke="#555" stroke-width="0.7" />
<text x="162.0" y="395.5" font-size="7.6" text-anchor="middle" fill="#444" stroke="#444" stroke-width="0.22">10</text>
<rect x="32.80" y="259.00" width="4.90" height="4.60" fill="#e2575c" />
<text x="40.7" y="263.6" font-size="7.6" fill="#111" stroke="#111" stroke-width="0.22">CDS</text>
<rect x="32.80" y="266.60" width="4.90" height="4.60" fill="#6774b6" />
<text x="40.7" y="271.2" font-size="7.6" fill="#111" stroke="#111" stroke-width="0.22">3'UTR</text>
<rect x="32.80" y="274.20" width="4.90" height="4.60" fill="#9edbdb" />
<text x="40.7" y="278.8" font-size="7.6" fill="#111" stroke="#111" stroke-width="0.22">5'UTR</text>
<rect x="32.80" y="281.80" width="4.90" height="4.60" fill="#c27ccd" />
<text x="40.7" y="286.4" font-size="7.6" fill="#111" stroke="#111" stroke-width="0.22">Introns</text>
<text x="0.0" y="0.0" font-size="8.8" text-anchor="middle" fill="#111" stroke="#111" stroke-width="0.22" transform="translate(7.7,326.5) rotate(-90)">Rep 2</text>
<text x="0.0" y="0.0" font-size="8.9" text-anchor="middle" fill="#111" stroke="#111" stroke-width="0.22" transform="translate(17.3,326.8) rotate(-90)">IP vs input fold-enrichment (<tspan font-style="italic">log</tspan><tspan font-size="6" dy="2" font-style="italic">2</tspan><tspan dy="-2">)</tspan></text>
<text x="95.5" y="403.4" font-size="8.8" text-anchor="middle" fill="#111" stroke="#111" stroke-width="0.22">Rep 1</text>
<text x="95.8" y="414.6" font-size="8.9" text-anchor="middle" fill="#111" stroke="#111" stroke-width="0.22">IP vs input fold-enrichment (<tspan font-style="italic">log</tspan><tspan font-size="6" dy="2" font-style="italic">2</tspan><tspan dy="-2">)</tspan></text>
<text x="98.2" y="340.9" font-size="8.8" fill="#111" stroke="#111" stroke-width="0.22">R values:</text>
<text x="98.2" y="351.8" font-size="8.8" fill="#111" stroke="#111" stroke-width="0.22">CDS =</text>
<text x="161.2" y="351.8" font-size="8.8" text-anchor="end" fill="#111" stroke="#111" stroke-width="0.22">0.8442</text>
<text x="98.2" y="362.7" font-size="8.8" fill="#111" stroke="#111" stroke-width="0.22">3'UTR = 0.8854</text>
<text x="98.2" y="373.6" font-size="8.8" fill="#111" stroke="#111" stroke-width="0.22">5'UTR = 0.8869</text>
<text x="98.2" y="384.5" font-size="8.8" fill="#111" stroke="#111" stroke-width="0.22">Intron = 0.8521</text>
<text x="183.3" y="242.9" font-size="14" fill="#000" font-weight="bold">e</text>
<clipPath id="cE"><circle cx="228.3" cy="332.9" r="47"/></clipPath>
<circle cx="228.30" cy="332.90" r="47.00" fill="#8fdfab" />
<circle cx="264.00" cy="308.60" r="26.60" fill="#8db8dd" />
<circle cx="264" cy="308.6" r="26.6" fill="#5cb995" clip-path="url(#cE)"/>
<text x="236.4" y="264.6" font-size="8.85" fill="#5a62aa" stroke="#5a62aa" stroke-width="0.22">DDX6</text>
<text x="236.4" y="275.8" font-size="9.0" fill="#5a62aa" stroke="#5a62aa" stroke-width="0.22">eCLIP-seq</text>
<text x="274.6" y="301.3" font-size="8.7" text-anchor="middle" fill="#13241e" stroke="#13241e" stroke-width="0.22">497</text>
<text x="253.8" y="315.6" font-size="8.7" text-anchor="middle" fill="#13241e" stroke="#13241e" stroke-width="0.22">589</text>
<text x="217.4" y="339.5" font-size="8.7" text-anchor="middle" fill="#13241e" stroke="#13241e" stroke-width="0.22">2708</text>
<text x="193.5" y="390.0" font-size="9.0" fill="#4f8a5e" stroke="#4f8a5e" stroke-width="0.22">P-body enriched</text>
<text x="193.5" y="400.5" font-size="9.0" fill="#4f8a5e" stroke="#4f8a5e" stroke-width="0.22">RNAs</text>
<text x="301.7" y="242.6" font-size="14" fill="#000" font-weight="bold">f</text>
<text x="408.3" y="262.5" font-size="9.7" text-anchor="middle" fill="#111" stroke="#111" stroke-width="0.22">GO Biological Processes</text>
<text x="408.3" y="275.4" font-size="9.7" text-anchor="middle" fill="#111" stroke="#111" stroke-width="0.22">Overlap mRNAs eCLIP-seq and P-body-seq</text>
<text x="408.3" y="286.4" font-size="9.7" text-anchor="middle" fill="#111" stroke="#111" stroke-width="0.22"><tspan font-style="italic">n</tspan>= 589</text>
<rect x="311.50" y="290.95" width="183.13" height="10.90" fill="#98cfb1" />
<text x="313.6" y="299.3" font-size="7.97" fill="#111" stroke="#111" stroke-width="0.22">Regulation of gene expression (GO:0010468)</text>
<rect x="311.50" y="304.92" width="114.97" height="10.90" fill="#98cfb1" />
<text x="313.6" y="313.3" font-size="7.97" fill="#111" stroke="#111" stroke-width="0.22">Histone monoubiquitination (GO:0010390)</text>
<rect x="311.50" y="318.89" width="110.01" height="10.90" fill="#98cfb1" />
<text x="313.6" y="327.2" font-size="7.97" fill="#111" stroke="#111" stroke-width="0.22">G1/S transition cell cycle (GO:0000082)</text>
<rect x="311.50" y="332.86" width="99.22" height="10.90" fill="#98cfb1" />
<text x="313.6" y="341.2" font-size="7.97" fill="#111" stroke="#111" stroke-width="0.22">Regulation of DNA replication (GO:0006275)</text>
<rect x="311.50" y="346.83" width="77.00" height="10.90" fill="#98cfb1" />
<text x="313.6" y="355.2" font-size="7.97" fill="#111" stroke="#111" stroke-width="0.22">Histone acetylation (GO:0016573)</text>
<rect x="311.50" y="360.80" width="72.69" height="10.90" fill="#98cfb1" />
<text x="313.6" y="369.1" font-size="7.97" fill="#111" stroke="#111" stroke-width="0.22">Apoptotic process (GO:0043065)</text>
<rect x="311.50" y="374.77" width="68.16" height="10.90" fill="#98cfb1" />
<text x="313.6" y="383.1" font-size="7.97" fill="#111" stroke="#111" stroke-width="0.22">Regulation of histone methylation (GO:0031060)</text>
<line x1="311.50" y1="289.20" x2="311.50" y2="387.20" stroke="#333" stroke-width="0.8" />
<line x1="311.50" y1="387.20" x2="505.60" y2="387.20" stroke="#333" stroke-width="0.8" />
<line x1="311.50" y1="387.20" x2="311.50" y2="390.20" stroke="#333" stroke-width="0.7" />
<text x="311.5" y="399.6" font-size="9.3" text-anchor="middle" fill="#111" stroke="#111" stroke-width="0.22">0</text>
<line x1="333.07" y1="387.20" x2="333.07" y2="390.20" stroke="#333" stroke-width="0.7" />
<text x="333.1" y="399.6" font-size="9.3" text-anchor="middle" fill="#111" stroke="#111" stroke-width="0.22">1</text>
<line x1="354.64" y1="387.20" x2="354.64" y2="390.20" stroke="#333" stroke-width="0.7" />
<text x="354.6" y="399.6" font-size="9.3" text-anchor="middle" fill="#111" stroke="#111" stroke-width="0.22">2</text>
<line x1="376.21" y1="387.20" x2="376.21" y2="390.20" stroke="#333" stroke-width="0.7" />
<text x="376.2" y="399.6" font-size="9.3" text-anchor="middle" fill="#111" stroke="#111" stroke-width="0.22">3</text>
<line x1="397.78" y1="387.20" x2="397.78" y2="390.20" stroke="#333" stroke-width="0.7" />
<text x="397.8" y="399.6" font-size="9.3" text-anchor="middle" fill="#111" stroke="#111" stroke-width="0.22">4</text>
<line x1="419.35" y1="387.20" x2="419.35" y2="390.20" stroke="#333" stroke-width="0.7" />
<text x="419.4" y="399.6" font-size="9.3" text-anchor="middle" fill="#111" stroke="#111" stroke-width="0.22">5</text>
<line x1="440.92" y1="387.20" x2="440.92" y2="390.20" stroke="#333" stroke-width="0.7" />
<text x="440.9" y="399.6" font-size="9.3" text-anchor="middle" fill="#111" stroke="#111" stroke-width="0.22">6</text>
<line x1="462.49" y1="387.20" x2="462.49" y2="390.20" stroke="#333" stroke-width="0.7" />
<text x="462.5" y="399.6" font-size="9.3" text-anchor="middle" fill="#111" stroke="#111" stroke-width="0.22">7</text>
<line x1="484.06" y1="387.20" x2="484.06" y2="390.20" stroke="#333" stroke-width="0.7" />
<text x="484.1" y="399.6" font-size="9.3" text-anchor="middle" fill="#111" stroke="#111" stroke-width="0.22">8</text>
<line x1="505.63" y1="387.20" x2="505.63" y2="390.20" stroke="#333" stroke-width="0.7" />
<text x="505.6" y="399.6" font-size="9.3" text-anchor="middle" fill="#111" stroke="#111" stroke-width="0.22">9</text>
<text x="405.0" y="412.5" font-size="9.2" text-anchor="middle" fill="#111" stroke="#111" stroke-width="0.22">-log (p-value)</text>
<text x="514.5" y="243.0" font-size="14.2" fill="#000" font-weight="bold">g</text>
<circle cx="554.20" cy="219.80" r="1.70" fill="#ea2a27" />
<text x="559.0" y="221.3" font-size="8.0" fill="#111" stroke="#111" stroke-width="0.22">Upregulated (KD vs. CTRL)</text>
<circle cx="554.20" cy="228.30" r="1.70" fill="#3db54a" />
<text x="559.0" y="229.8" font-size="8.0" fill="#111" stroke="#111" stroke-width="0.22">Downregulated (KD vs. CTRL)</text>
<circle cx="554.20" cy="235.80" r="1.70" fill="#838383" />
<text x="559.0" y="237.3" font-size="8.0" fill="#111" stroke="#111" stroke-width="0.22">n.s.</text>
<clipPath id="cG"><rect x="552.2" y="240.7" width="131" height="146"/></clipPath>
<g clip-path="url(#cG)">
<path fill="none" stroke="#3db54a" stroke-width="3.0" stroke-linecap="round" d="M575.8 321.2h0M581 304.1h0M582.4 324.4h0M574.4 317.4h0M576 311.4h0M587 331.6h0M575 307.2h0M575.8 318.8h0M587.2 308.9h0M582.7 325.7h0M579.1 299.1h0M581.1 307.1h0M583.2 320h0M577.8 306.6h0M575.9 296.2h0M585 302.4h0M583.4 309.4h0M581.1 318.6h0M585.4 333.8h0M581.7 296.2h0M587.7 338h0M576.8 307.7h0M581.7 295.5h0M580.7 322.1h0M578.9 338.8h0M582.2 313h0M577.3 292h0M585.2 326.6h0M586.1 305.4h0M575.8 290.9h0M580.5 310.1h0M577.8 329.5h0M575.1 312.2h0M586.5 317.4h0M580 320.5h0M576 329.3h0M583.4 310.7h0M576.8 312h0M586.6 318.6h0M577 320.8h0M574.4 338.4h0M576.8 325.1h0M578.8 297.1h0M580.5 320.2h0M586.7 340.9h0M583.7 295h0M578.7 308.3h0M574.2 316h0M576.2 324.7h0M587.9 341.1h0M580.4 295.1h0M583.6 330.7h0M574.7 327.8h0M574.4 307.2h0M585.8 330.8h0M582.2 321.6h0M578.3 322.9h0M578.4 313.9h0M575.2 298.9h0M576.4 316.7h0"/>
<path fill="none" stroke="#ea2a27" stroke-width="3.0" stroke-linecap="round" d="M625.2 280h0M647.9 340.5h0M627 285.7h0M632.2 327.3h0M632.7 324.1h0M627 318.9h0M625.6 339.9h0M625.9 294.4h0M655.3 307.7h0M629.7 328.4h0M625.3 320.5h0M630.4 341h0M635.1 321.7h0M631.5 300.4h0M636.4 344.3h0M649.2 323.1h0M636.3 313.5h0M627.5 298.5h0M628.9 293.5h0M625.2 323.5h0M632.2 328.2h0M633.5 308.4h0M634.9 321.9h0M625.6 321h0M638 298h0M636.2 287.9h0M652.5 311.5h0M629 319.1h0M633.3 306.4h0M645.7 347.2h0M628.2 316.2h0M627 333.5h0M658.7 276.3h0M637.8 304h0M634.5 313.6h0M633.1 319.1h0M632.7 357.6h0M630.3 304.1h0M625.4 288.9h0M630.9 328h0M636.4 304.6h0M646.9 303.9h0M627.3 341.6h0M627.1 300.4h0M633.9 293.4h0M626.1 312.1h0M638.6 316.9h0M626.2 302.8h0M630.8 341.4h0M646.7 314.4h0M628.2 298.4h0M627.1 336.5h0M634.4 299.4h0M638.7 322.8h0M633.1 350.4h0M625.5 317.7h0M628.7 332h0M625.3 310.6h0M637.5 335.3h0M625.6 298.5h0M653.7 328.1h0M631.2 310h0M627.6 325.7h0M638.5 321.3h0M632.9 296.1h0M634.1 312.3h0M625.4 322.4h0M632.6 336.6h0M625.3 296.7h0M626.8 303.8h0M639.9 321.3h0M636.8 311.9h0M629.8 333h0M626.6 332.7h0M636.8 329.6h0M625.6 310h0M638.5 311h0M635.9 328.3h0M627.7 303.7h0M636.4 302.9h0M631.6 313h0M638.6 298.7h0M630.3 320.7h0M627.4 317.8h0M651.4 308.1h0M664.4 316.5h0M644.4 302.7h0M627.4 336.7h0M640.4 292.3h0M631.3 328.9h0M629.5 318.6h0M638.5 338.7h0M627.5 306h0M626.7 294.8h0M628.1 298.1h0M633.1 302.1h0M634.7 341.7h0M627.1 328.9h0M635.1 323.6h0M638.8 331.4h0M627.1 297.3h0M632.1 312.8h0M626.3 316.3h0M629 307.8h0M635.8 331.7h0M657.9 331h0M636.7 330.5h0M628.1 307.7h0M634.2 310.2h0M629.1 306.3h0M626.4 298h0M639.5 338.4h0M641.4 325.2h0M634.9 313.5h0M628.1 338.3h0M631.1 324.7h0M635.4 299.1h0M629.9 297.6h0M634.4 298.1h0M637.8 315.2h0M629.7 319.4h0M635 298h0M627.6 322.1h0M633.3 310.3h0M631.2 293.9h0M643.4 322h0M627.8 326h0M627.2 316.1h0M632.7 306h0M630.2 307.9h0"/>
<path fill="none" stroke="#3db54a" stroke-width="3.0" stroke-linecap="round" d="M596.9 341.4h0M591.3 324.5h0M588.9 323.4h0M589.4 315.9h0M591.7 319.2h0M594.1 308.4h0M591.8 300h0M590.3 315.2h0M596.9 304.7h0M592.3 331.9h0M598.1 332.3h0M590.8 308.3h0M596 287.6h0M592.1 313.5h0M597.8 299.3h0M595.5 320.8h0M595.9 301.9h0M589 325.6h0M596.7 305.6h0M592.1 309.9h0M596.6 309.8h0M597.8 294.7h0M589.4 299.4h0M588.1 325h0M596.8 302.2h0M599.2 341.9h0M598.4 300.5h0M593 307.5h0M597.7 307.8h0M588.2 314.6h0M588.6 302.7h0M594.7 322.4h0M594.1 305.1h0M597.6 319.6h0M590.7 321.9h0M593.3 313.4h0M599.5 316.2h0M591.5 313.1h0M592.7 341.3h0M595 298.6h0M599.5 315.6h0M590.1 312h0M596 304.3h0M592.8 328.9h0M592.6 316.7h0M591 311.4h0M593.4 299.7h0M594.6 326.8h0M592.5 319.3h0M593.8 309h0M595.4 320h0M597.9 319h0M594.5 311.2h0M592.4 330.5h0M599.1 290.8h0M590 329.4h0M588.5 314.6h0M598.5 320.2h0M591.1 326.1h0M589.7 306.9h0M592.4 299.6h0M592 292.8h0M592.1 306.2h0M597.9 322.1h0M591.3 301.9h0M589.5 337.4h0M590.5 314.5h0M599 307.2h0M593 306.6h0M592.2 333h0M597 338.3h0M598.8 289.7h0M593.9 323.2h0M597.4 340.7h0M591 334.5h0M592 315.2h0M594.7 297.3h0M590.7 315.5h0M591.2 297h0M590.1 312h0M591 308.3h0M597.7 300.4h0M597.2 321.4h0M589.3 311.1h0M592 321.6h0M596.4 325.5h0M598 305.6h0M594.5 328.3h0M596.4 314.5h0M590.7 327.9h0M597 317.1h0M597.5 323.9h0M592.7 299h0M590.7 314.6h0M588.4 314.7h0M595.3 290.5h0M595.3 333.2h0M588 316.2h0M594 309.4h0M598.9 306.3h0M588.3 312.1h0M589.6 329.7h0M588.6 289.3h0M593 311.6h0M592.4 320.4h0M598.1 333.7h0M588.7 310h0M590.3 324h0M598.9 323.4h0M588.2 313.3h0M591 313.2h0M592.5 329.2h0M588 297.3h0M591.3 332h0M595 333.8h0M595.1 311.9h0M595 314.7h0M595.5 315.6h0M595.1 323h0M588.4 316h0M595.6 325.4h0M594.8 305.4h0M590.5 332.3h0M592.8 320.3h0M590.7 305.5h0M598.1 316.4h0M591.2 338.3h0M589.9 328.3h0M597.2 315.4h0M596.8 295.9h0M597.9 320.6h0M595.8 338.9h0M592.8 299.2h0M593.5 331h0M594.4 319.9h0M594.9 303.3h0M598.9 327.2h0M591.1 323.8h0M596.9 309.4h0M588.2 320h0M590.2 312.5h0M598.9 331.5h0M590.9 318.8h0M593.9 333.7h0M598.6 340.9h0M595.6 289.9h0M593.6 310h0M596.1 302.9h0M599.3 331.9h0M598.9 317.4h0M590.1 320.2h0M589.6 338.9h0M591.3 308.6h0M589.7 328.1h0M596.8 320.1h0M597.7 340.4h0M589.6 301.7h0M588.8 305.3h0M591.7 311h0M595.9 331h0M596.9 325.3h0M593.3 298.2h0M595.4 321.3h0M598.6 312.9h0M598.2 314.9h0M589.3 334.2h0M596.3 293.6h0M597 313.6h0M598.5 318.4h0M592.8 341.9h0M589.8 311.9h0M593.5 309h0M592.3 316.2h0M592.5 329.8h0M597.3 310.1h0M595.5 299.9h0M595.9 313.6h0M595.6 290.5h0M589.6 303.8h0M588.6 305.2h0M592.6 295.6h0M597.8 327.2h0M595.5 325h0M597.2 309.1h0M595.2 309h0M597.1 293.8h0M599.5 299.4h0M596.3 314.3h0M598 313.6h0M599.3 321.2h0M596.6 322.6h0M597.4 323.9h0M588.9 303h0M588.4 324.1h0M598.7 322.3h0M590.7 314.4h0M591.5 324.7h0M589.5 320.3h0M595.3 311h0M588.3 321.4h0M597.3 313.8h0M591.4 311h0M596.6 314h0M598.5 313.5h0M596 306.4h0M592.9 309.5h0M595.2 321.3h0M597.9 311.8h0M596.2 295.7h0M590.9 320.5h0M588.1 329.1h0M598.2 294.6h0M595.2 310.9h0M588.7 317.7h0M594.4 312.4h0M594.8 317.5h0M591.4 310.7h0M598.3 321h0M590.8 311.5h0M589.6 312.5h0M591.6 325h0M591.9 318.9h0M598.2 310.1h0M595.6 309h0M589.4 306h0M592.5 302.9h0M589.2 311.2h0M596.2 307.1h0M597.9 320.9h0M589.1 319h0M593.8 299.1h0M590.8 309.5h0M591.3 292.2h0M596.6 309.9h0M599.3 290.6h0M591.2 292.8h0M594.3 329.7h0M591.6 335.9h0M588.7 338h0M595 304.9h0M589.8 322.1h0M596 316h0M596.6 312.2h0M589.6 309.9h0M594.9 308h0M590.4 314.4h0M596.8 341h0M591.3 293.9h0M596 297.3h0M595.5 325.6h0M594.7 319.4h0M590.5 324.4h0M597.7 322.1h0M592.1 316.8h0M596.9 320.8h0M593.5 333.4h0M593.2 303.4h0M596.2 325.4h0M591.9 295.8h0M596.8 318.8h0M593.1 327.4h0M596.6 309.8h0M596.1 302.8h0M598.9 330.7h0M592.7 320.9h0M592 294.5h0M599.5 331.9h0M594 329.6h0M592.8 313.9h0M596.1 335.2h0M590.9 310.8h0M599.1 306.4h0M596.7 307.4h0M595.5 310.5h0M591.4 335.5h0M597.4 306.1h0M598.6 298.8h0M597.2 327.2h0M598.6 302h0M589 322.2h0M596.6 313.6h0M598 310.8h0M593.5 339.4h0M588.9 293.9h0M594.3 329.7h0M590.8 318h0M588.3 324.1h0M598.8 309.4h0M597.6 309.8h0M595.3 316.1h0M596.7 294.7h0M595.8 312.1h0M593.3 322.6h0M589.4 320.8h0M591.3 320.9h0M593.8 329.9h0M594.7 329.7h0M591.5 307.3h0M589.4 300.4h0M591.9 298.9h0M590.1 327.3h0M598.8 312.5h0M590.5 337.4h0M592.5 305.2h0M594.3 310.9h0M590.9 325.8h0M593.7 318.1h0M594.4 320.3h0M588.5 326.2h0M599 296.1h0M594.2 303.8h0M589.7 300.2h0M599.4 314h0M589.9 321.8h0M596.4 322.1h0M593.6 310.3h0M591 318.3h0M592.4 307.3h0M593.6 317.2h0M592.3 307.3h0M590.8 335.9h0M592.8 318h0M593 295.3h0M596 332.3h0M590.3 326.7h0M588.5 295.3h0M597.7 310.2h0M588.8 300h0M595.3 314.2h0M594.3 336.1h0M599.3 337.9h0M590.2 310.1h0M598.3 298.2h0M589.5 339.5h0M590 333.5h0M595.6 325.5h0M589.9 318.4h0M594.8 337h0M595.8 307.4h0M589.4 322.1h0M597.1 324.5h0M592.9 324.1h0M599.2 311.2h0M588.1 297.1h0M588.9 334.8h0M595.2 325.6h0M591 295.7h0M592.6 327.3h0M598.5 323.3h0M592 337.4h0M588.6 328.4h0M589.6 306.1h0M594.4 329.4h0M597 336.9h0M596.8 326.4h0M593.4 289.3h0M590.8 314h0M589.5 325.4h0M590.6 314.4h0M590.3 309.9h0M598.5 314.9h0M592.7 312.2h0M589.3 320.2h0M595.4 303.8h0M593.3 337.8h0M588.3 300.7h0M599.3 324.6h0M599 296.3h0M591 324.9h0M597.6 311.2h0M593.3 319.5h0M595.8 300.1h0M595.6 299.9h0M596.5 299.7h0M593.1 305.9h0M589.7 313.9h0M597.3 331.8h0M593.1 309.8h0M593.1 314.5h0M596.8 339h0M595.9 333.2h0M599.5 334.7h0M592.5 330.9h0M595.3 320.3h0M588.9 306.5h0M589.3 296.3h0M590.9 332.2h0M591.2 325.9h0M593.2 293h0M590.6 303.2h0M598.8 313.5h0M592.9 332.8h0M592.4 314.7h0M598.4 326.3h0M597.2 315.7h0M596.9 312.7h0M598.6 334.2h0M596.5 333.4h0M591.5 327.5h0M599.1 326.9h0M588.3 320.8h0M598.4 311.3h0M592.8 313.4h0M591.9 301.6h0M593.5 338.2h0M592.6 313.9h0M598 313.4h0M597.3 292.5h0M596.6 320.5h0M590.7 312.1h0M593.1 329.8h0M588.8 310.6h0M596.6 311h0M588.5 326.9h0M592.6 324h0M589.7 317.6h0M597.9 308.1h0M598.6 335h0M591.3 303.4h0M598.1 322.3h0M590 287.6h0M596.2 294.4h0M590.9 323.4h0M593.1 326.9h0M595.1 307.3h0M592 308.3h0M590.3 323.7h0M594.8 319.2h0M597.2 304.6h0M599.5 307.5h0M591.7 330h0M591 297.8h0M588.9 312.3h0M590.3 331.9h0M588.3 301.6h0M590.9 319.8h0M596.4 304.9h0M589.3 325.7h0M595.5 311.5h0M591.4 311.3h0M590.6 340.8h0M593.6 314.6h0M593 318.1h0M593.2 305.9h0M589.3 309.6h0M594.5 298.5h0M598.4 333.8h0M588.1 292.7h0M588.9 292.2h0M594.8 335.8h0M591.7 329.5h0M590.9 326h0M599.4 317.5h0M591.5 314.2h0M598.7 307.9h0M595.1 321.1h0M588.3 333h0M591.1 302.4h0M588.8 322.5h0M594.2 299.5h0M598.5 308.9h0M588.6 322.1h0M588.3 298.9h0M588.3 304.6h0M591.1 325h0M589.9 325.6h0M599.2 307.6h0M597 320.9h0M598.9 289.8h0M594.7 313.1h0M597.5 314.1h0M596.2 310.9h0M591.4 330.9h0M595.6 319.1h0M591.3 327.4h0M593.4 305.7h0M597.5 324.1h0M590.5 319.1h0M590 340.1h0M597.9 326.3h0M593.3 305h0M590 315.7h0M591.7 325.2h0M591.2 293.4h0M598.4 318.1h0M593.5 322.6h0M598.7 299.4h0M593.4 308.6h0M598.9 334.5h0M598.6 329.4h0M594.6 327.8h0M597.1 315.2h0M591.3 315.5h0M589.3 312.5h0M595 313.9h0M588.6 295.4h0M593.4 290.9h0M595.2 306.2h0M596.9 305.4h0M598.4 323h0M590.3 334.2h0M598 308h0M593.7 316.6h0M595.2 303.9h0M593.3 336.9h0M597.8 316.6h0M591.5 301.8h0M588.1 338.6h0M597.6 325.7h0M595.7 339.3h0M596.3 315.5h0M589.4 312.6h0M590.4 322.1h0M595.2 297.5h0M596.6 295.6h0M595.6 317.2h0M594.9 320.5h0M595.6 321.4h0M589.7 324.1h0M593.2 296.9h0M591.8 313.4h0M596.5 322.3h0M594 320.6h0M596.3 308.6h0M596 323.3h0M598.5 312.2h0M597.9 317.6h0M588.6 296.1h0M595.7 299.1h0M592.3 339h0M589.1 319.6h0M593.5 306h0M597.8 324h0M597.2 304.5h0M589.2 311.9h0M590.3 307.9h0M596 318h0M599.2 312.3h0M588.9 308.9h0M589 339.8h0M596 331.2h0M595.1 332.8h0M597.4 291h0M590.3 312.4h0M593.7 311.3h0M597.3 314.4h0M592.4 325.1h0M592.6 328.6h0M588.4 303.9h0M597.2 322.8h0M593.2 292.6h0M592.4 314h0M595.6 315.6h0M597.9 320.4h0M598 318.2h0M591.9 316.5h0M595 293.4h0M592.5 334.9h0M597.7 313h0M597.2 306h0M595.7 331h0M597.5 326.8h0M593.9 324.1h0M594.6 306.9h0M589.9 317.7h0M596.2 318.4h0M591.3 315.7h0M594.5 313.1h0M588 314.2h0M592.6 304.1h0M595.1 325h0M595.3 311.5h0M594.5 321.8h0M590.9 319.2h0M595.6 330.9h0M595.6 329.5h0M594.8 309.9h0M592.3 305.4h0M589.7 309.8h0M594.4 327.3h0M588.6 312h0M598.6 302.3h0M592.1 317.5h0M591.3 312.7h0M593.2 298.9h0M589.2 323.4h0M598.2 302h0M599.3 323.6h0M597.5 308.4h0M594.6 323.1h0M598.9 312.1h0M591.8 294.4h0M593.4 326.8h0M590 326.2h0M592.9 321.8h0M598.7 312.1h0M595.7 325.7h0M594.3 326.8h0M594.2 341.1h0M595.3 325.3h0M595.1 316.4h0M593.2 331.5h0M593.9 327.2h0M589.1 313.8h0M593.1 328.2h0M595.8 299.9h0M590.6 300.4h0M591.2 330h0M597.3 322.3h0M589.5 315.8h0M590.2 304.9h0M597.5 317.7h0M589.4 287.8h0M591.5 317.9h0M598.5 313.1h0M592.8 316.5h0M597.5 334.9h0M596.8 301.8h0M588.2 312.3h0M590.5 314h0M598.6 305.3h0M591.7 304.3h0M592.7 309h0M598.8 325.4h0M589.2 314h0M599.3 327.4h0M595.5 329.8h0M595.3 301.7h0M588 316.5h0M595.3 320.7h0M597.5 320.8h0M592.5 315.1h0M588.8 316.6h0M589.5 329.7h0M588.9 319.9h0M592.8 304.7h0M597.5 295.2h0M588.7 330.6h0M592.7 314.7h0M592.6 308.6h0M592.6 324.3h0M594.1 325.4h0M594.2 293.9h0M590.3 319.4h0M597.2 317.6h0M594 298.1h0M592.1 289.4h0M599.2 339h0M596.2 318.8h0M589.9 316h0M599.2 287.9h0M594.7 316.6h0M591.9 310h0M590.7 302.4h0M588.8 298h0M590.8 320.6h0M591.3 302.5h0M592 326.4h0M599.4 336.9h0M594.9 312.3h0M590.2 303.5h0M592.3 316h0M593 306.8h0M588.9 299.5h0M593.4 303.5h0M593.9 318.3h0M598.5 293.4h0M593 310.9h0M596 318.9h0M595.9 313.3h0M590 300.7h0M594.6 312.2h0M593.2 314.5h0M589.9 337.3h0M588.2 307.6h0M599.5 314.6h0M589 315.2h0M598.3 316.3h0M592.2 324.6h0M588.9 303.8h0M599.2 318.1h0M595.6 325.8h0M592.7 290.2h0M597.7 321.9h0M596.2 330.7h0M592.8 297.4h0M596.3 327.7h0M596.5 316.9h0M590 300h0M596.3 334.8h0M598.6 315.3h0M596 297.9h0M597.3 308h0M599.5 323.1h0M597.2 303.3h0M593.4 318.3h0M594.5 324.1h0M596.9 318.9h0M595.3 293.9h0M588.8 326.7h0M588.7 314.2h0M591.1 327.4h0M597.5 295.3h0M590.5 317.2h0M591.7 301.4h0M597.5 305.9h0M589.5 323.7h0M591.2 303.9h0M590.9 300.2h0M588.5 332.4h0M596.6 303.8h0M591.7 319.3h0M592.7 304.8h0M591.8 335.4h0M588.7 307.6h0M597.8 323.8h0M589.5 302.8h0M591.3 315.5h0M596.3 332.9h0M592 297.6h0M593.9 318h0M591.8 330.4h0M594.5 313.7h0M591.7 329.7h0M593.3 308.6h0M588.1 315.7h0M588.1 320.4h0M593.9 304.3h0M597.5 334.5h0M599.6 299.6h0M597.3 289.7h0M594.1 311.9h0M595.5 318.8h0M595.8 326.1h0M596.4 306.2h0M599.5 317.2h0M592 317.4h0M593.2 298.6h0M597 321.4h0M590.5 318.3h0M589.1 308h0M598.4 298h0M588.2 317h0M598.4 312.2h0M598.6 314h0M589.9 303.1h0M596.7 291.5h0M591.3 329.2h0M591.1 316.8h0M599.4 315.4h0M598.3 305.5h0M596.8 291.3h0M593 314.9h0M599.4 311.4h0M594.6 297.1h0M599.4 334.1h0M596.3 326.7h0M588.5 321.7h0M597.2 314.8h0M597.7 311.1h0M598.2 322.8h0M595.2 325.7h0M588.4 317.9h0M598 297.8h0M592.9 302.7h0M590.3 315h0M590.4 308.9h0M590.3 302h0M597.4 315h0M588.8 304.7h0M598.6 329.1h0M588.2 313.7h0M596.4 340.4h0M590.6 328.8h0M593.9 332.7h0M590 295.4h0M598.4 322.1h0M589.8 310.2h0M593.4 329.3h0M595 318.1h0M593.2 319.3h0M590.5 328.3h0M591.3 301.6h0M598.8 341h0M589.4 305.2h0M588.2 327.9h0M598.5 314.6h0M598.3 339.5h0M595.9 315.6h0M593.5 305.4h0M599 323h0M592.8 335.7h0M588.1 340.3h0M593 320h0M594.1 302.2h0M594.3 321.8h0M598.3 334.1h0M588.8 328.8h0M597.9 313.9h0M594 306.7h0M596.5 309.6h0M592.8 297.5h0M591.4 341.7h0M591.9 319.5h0M591.2 297.7h0M593.2 341.9h0M594.9 333.9h0M597.6 333.3h0M590 318.5h0M593.2 324.6h0M594.1 324.2h0M597.5 324h0M596.2 319.3h0M595.2 329.9h0M595.8 311.3h0M593.2 316.5h0M597.3 332.5h0M597.7 287.8h0M594.5 336.5h0M589.3 304.9h0M592.9 328.2h0M591 310.8h0M590.2 308.2h0M591.4 302.9h0M597.5 294h0M592 329.6h0M593 309.9h0M592.4 329h0M590.1 337.5h0M594.6 290.3h0M592.8 316.4h0M598.8 304.1h0M595.2 295.3h0M599.3 314.5h0M597.9 322.6h0M593.7 316.5h0M588.2 302.8h0M590.4 315.6h0M589.4 335.3h0M596.5 304h0M589.6 327.7h0M595.5 296.4h0M591.7 312.2h0M593.6 312.2h0M596.8 314.2h0M591.4 299.7h0M590 316.7h0M591.3 312.1h0M598.9 291h0M594.4 299.6h0M591.3 323.2h0M589.7 317.1h0M588.8 314.6h0M591.8 300.2h0M595.1 328.1h0M593.3 329.8h0M597.4 325.9h0M599.5 313.8h0M594.6 311.8h0M592 322.2h0M597.2 304h0M589 332.1h0M596.8 317.2h0M598.2 326.9h0M597 331.8h0M589.1 296.7h0M594.7 321h0M597.3 331.8h0M592.7 315.4h0M597.8 331.8h0M589.9 306.6h0M594.1 302.6h0M594.5 299.8h0M597.1 332.6h0M592.8 318.3h0M591 319.3h0M596.2 296.1h0M589.3 291.9h0M592.2 337.7h0M593.4 296.9h0M597.1 304.1h0M592.9 302.1h0M594.5 289.3h0M595.8 308.7h0M595.8 314.7h0M599.2 306.3h0M593.3 321.3h0M594.6 308.1h0M588.2 288.7h0M590.2 324.3h0M590.9 307.4h0M590.4 311h0M594 314.3h0M590.3 314.2h0M594.6 314.9h0M597.6 341.7h0M588.8 324.5h0M590.8 297.2h0M593.7 332h0M588.5 332.6h0M589.6 297h0M594.6 291.4h0M592.6 316.2h0M598.5 311.7h0M594.6 304h0M596.8 307.1h0M592 317.4h0M592.3 339h0M597.9 327.5h0M595.1 339.7h0M598.6 291.3h0M590.9 322.4h0M589.3 319h0M595.8 311.7h0M589.4 315.9h0M588.9 307.9h0M592.5 326h0M595.9 340.2h0M592.2 288.7h0M596.7 327.5h0M593.3 323.8h0M591.3 328.8h0M594.2 324.9h0M595 316.1h0M589.7 304.7h0M594.8 332.9h0M589.9 311.9h0M599.2 327h0M594.1 297.6h0M590.4 335.8h0M588.5 314.9h0M590.5 305.3h0M591.7 337.8h0M594.6 314.8h0M595.7 314.3h0M596.2 329.1h0M593.1 320h0M595.3 301.1h0M594.4 312.8h0M591.4 323.1h0M590.5 319.9h0M592.6 309.7h0M596 296.9h0M589.5 304.3h0M595.4 305.3h0M588.2 292.3h0M590.1 340.8h0M595.7 339.1h0M597.4 303.8h0M596.9 317.5h0M595.9 305.1h0M590.9 338.5h0M599.4 327.1h0M594.9 320.9h0M598.5 305.5h0M598.8 340.5h0M590.7 311.9h0M599.2 306.1h0M588.9 314.7h0M595.4 314.5h0M591 297.6h0M589.1 313.5h0M594.6 317.3h0M590.4 322.2h0M597.1 306.9h0M593.3 321.4h0M591.1 306.8h0M588.1 315.4h0M596 299.5h0M595.4 329.2h0M597.3 315.8h0M592.4 311.6h0M598.6 310.6h0M588.2 299.5h0M598.6 310.9h0M596.9 303h0M589.2 304h0M599.4 333.4h0M589 339.1h0M596.7 306.7h0M590.8 322.8h0M596 312.5h0M597.7 319.7h0M589.3 296.8h0M591.7 298.5h0M598.4 334.4h0M593.5 312.8h0M589.7 321.7h0M589 337.2h0M589.4 307h0M589.2 319.3h0M592.1 310.2h0M597 296.5h0M593.2 300h0M589.1 323.3h0M592.1 335.3h0M593.6 297.8h0M593.2 321.7h0M595.4 316.4h0M595.9 322.9h0"/>
<path fill="none" stroke="#ea2a27" stroke-width="3.0" stroke-linecap="round" d="M610.9 335.2h0M627.7 307.6h0M619.3 323.3h0M637.9 347.2h0M608.1 308.9h0M612.6 325.6h0M608.8 338.2h0M642.8 330.8h0M634.6 316.3h0M608.6 334.5h0M622.8 339.7h0M631.4 332.8h0M625.5 316.8h0M638.6 300.3h0M613.1 319.8h0M612.7 300.4h0M614.9 322.7h0M618.7 315.4h0M617.1 304h0M640.1 311h0M613.5 302.7h0M621.5 335.5h0M630.4 324.8h0M629.2 320h0M617 314.7h0M611.3 311.1h0M622.5 304.5h0M617.8 327h0M629.3 337.6h0M607.8 327.7h0M616.1 323.7h0M617.2 327.7h0M615.1 335.5h0M614.2 306.2h0M609 304.6h0M616.9 304.4h0M622.9 307.8h0M618.8 311.7h0M612.8 327.7h0M610.3 326.9h0M614.2 315.7h0M613 350.4h0M630.3 316.4h0M630.6 290.6h0M629 310.2h0M617.7 330.6h0M624.1 320.8h0M613.9 328.7h0M620.7 295.3h0M609.8 302.3h0M611.3 318.8h0M624.7 328.5h0M634.6 310.6h0M627.8 315.9h0M623.9 320.9h0M625.5 328.6h0M626.4 345.3h0M630.8 342.3h0M626.2 332h0M612 346.7h0M637.4 335.5h0M610.3 291.3h0M608.4 319.8h0M614.7 308.9h0M613.5 329.8h0M619.8 298.5h0M615 318.1h0M609.5 307.2h0M631 302.3h0M613.3 313h0M622.7 335.2h0M621 325.5h0M626.8 312.1h0M627 321.7h0M636.1 312.7h0M611.8 325h0M630.8 315.7h0M612.6 328.6h0M617.4 333.5h0M622.6 351.3h0M621.8 312.4h0M616.1 297.4h0M612.8 319.6h0M606.8 300.5h0M633.7 341.8h0M624.1 323.2h0M628 322.6h0M633.5 308.3h0M632.9 319.4h0M620.4 311.5h0M612.5 296.2h0M628.1 338.3h0M614.8 322.2h0M616.5 313.9h0M614 331.1h0M615.4 314.3h0M625 348.9h0M627.2 336.8h0M631.5 324.6h0M631.5 349.9h0M626.8 290.1h0M635 300.1h0M619.1 306.8h0M623.9 305.7h0M620.5 324.8h0M617.8 324.2h0M625.5 305.4h0M618.3 323.5h0M623.2 334.1h0M632.3 312.4h0M613 347h0M624.2 329.1h0M610.2 328.6h0M628 322h0M620.3 333.4h0M624.7 313.7h0M613 326.9h0M627.1 296.9h0M622.4 306.8h0M626.1 302.2h0M611.7 341h0M618 336.2h0M629.8 315.5h0M626.9 312.5h0M623.7 329.6h0M631.6 324.5h0M625.8 336.7h0M614 328.8h0M636.6 314.5h0M637.5 297.5h0M634 311.7h0M625.7 306.4h0M616.2 319.6h0M606.9 312.4h0M624.4 304.9h0M616.3 335.5h0M608.4 304.9h0M621.2 311h0M610.2 304.2h0M641.5 313.5h0M615.2 331.7h0M631.5 327.8h0M615.5 320.2h0M612.6 334.3h0M616.3 330.8h0M633.5 329.8h0M617.1 337.1h0M607.4 338.4h0M618.5 325.6h0M626.6 331.3h0M624.6 299.8h0M615.3 321.3h0M622.8 322.4h0M628.9 307.7h0M621.5 322.5h0M610 321.5h0M607.9 302.2h0M620.5 305.4h0M613.8 324.4h0M617.3 342.3h0M639.8 330.9h0M611.1 312.1h0M607.8 347.5h0M626.2 326.1h0M608.7 321.8h0M626.1 345.3h0M607.7 301.6h0M610.5 325h0M621.5 345.8h0M629.5 337.1h0M607.3 314.1h0M613.3 298.8h0M627.8 316.2h0M613.4 317.9h0M613.9 324h0M633.5 294.9h0M642.7 300.1h0M606.8 346.7h0M640.7 320.4h0M626.3 311.5h0M613.4 323.9h0M620.5 313.6h0M635.4 310.1h0M612.5 335.3h0M617.7 300h0M628.6 318.3h0M620.8 303.5h0M617.8 316.2h0M611.9 322.1h0M632.4 299h0M634.1 314.6h0M620.3 295.2h0M607.1 310.9h0M623.2 333.3h0M628.3 319.3h0M629.3 332.9h0M628.4 338.2h0M628.7 317.6h0M620 344.4h0M631.2 322.3h0M613.6 299.8h0M635.8 312h0M628.4 329.3h0M644.9 324.8h0M627.8 309.2h0M619.3 295.6h0M610.6 324.8h0M608.2 318.7h0M607.2 312.8h0M613.2 323.7h0M638.1 315h0M638.6 316.4h0M619.3 299.5h0M610.1 330.2h0M628 319.5h0M616.3 315.2h0M624.4 332.4h0M611.5 326.1h0M618.7 321.1h0M611.4 344.1h0M627.1 328.6h0M629.8 338.9h0M610.6 328.9h0M640.3 331.7h0M612.4 328.7h0M624.8 309.6h0M622.7 301h0M621.1 307.5h0M626.8 333.7h0M615.4 315.6h0M607.1 341.1h0M613 311.9h0M629.2 309.1h0M639.8 326.4h0M614.8 320.2h0M607.5 307.8h0M606.2 309.2h0M617.5 329.8h0M609.4 332.6h0M624 347.8h0M608.6 326.4h0M608.2 330.5h0M628.7 321.1h0M623.5 312.1h0M647.5 343.4h0M624.8 333.2h0M629.9 326.6h0M611.5 346.6h0M606.7 324.2h0M627.9 329.1h0M618.9 315.5h0M626.5 310.5h0M630 310h0M629.1 325.2h0M633.4 317.3h0M628.9 317.9h0M625.6 304.5h0M629.6 350.5h0M616.5 325.2h0M632.1 333.3h0M616.8 319.5h0M618.5 304.6h0M631.4 317.8h0M628.4 319h0M613.8 332.3h0M607 316.1h0M619.1 317.4h0M609.3 337.1h0M627.8 311.1h0M626.2 328.6h0M622.5 324.2h0M607.6 313.2h0M624.4 314.2h0M610.1 319.2h0M631.2 322.1h0M609.9 310.8h0M621.6 312.3h0M621.4 350.4h0M613.7 332.8h0M611.3 319.9h0M624.4 322.6h0M626.5 308.2h0M609.8 305.4h0M627.7 319h0M618.4 327.4h0M638 294h0M616.7 334.8h0M631 323h0M617.2 311.2h0M619.1 311.7h0M617.3 321.3h0M606.9 302h0M622.2 316h0M616.8 324.7h0M609.8 302.5h0M624.2 290.6h0M619.6 315.1h0M606.6 334.2h0M641.4 315.4h0M622.7 333.5h0M620.2 305.6h0M614.4 324.2h0M637.3 312.6h0M616.3 319.7h0M609.6 307.8h0M609.1 315.6h0M625.5 317.8h0M611.8 316.3h0M618.9 344h0M611.5 299.2h0M628.8 331.3h0M628.5 313.5h0M629.3 329.1h0M606.4 324.1h0M636.5 328.1h0M621.8 346.8h0M612.1 331.1h0M615.7 300h0M619.5 339h0M617.2 318.9h0M625.5 349h0M623 303.5h0M625.2 342.9h0M612.7 339.4h0M627.5 323.3h0M626.7 312.2h0M620.4 341.8h0M623.5 322.4h0M632.2 312.2h0M631.5 320.6h0M644.3 333.1h0M630.1 313.6h0M606.9 302.9h0M622.8 300.1h0M618.5 347.9h0M636.8 299.9h0M635.9 304.1h0M616.4 315.8h0M612.4 309.5h0M631.3 302.6h0M627.6 324.7h0M614.1 340.3h0M625 324.8h0M615.8 309.9h0M634.3 329.5h0M621.5 331h0M624.7 340.8h0M621.8 311.9h0M628 337.7h0M633.1 323.9h0M620.6 332.2h0M624.1 299.6h0M620.7 304.3h0M616.1 331.7h0M612.3 336.2h0M613.1 316.2h0M624.2 342.6h0M631.8 328.4h0M612.4 309.5h0M627.3 319.6h0M620.8 306.7h0M613.4 332.4h0M621.2 328h0M615.8 322.6h0M607.6 306.9h0M625.7 302.6h0M607.3 300.9h0M626.5 318.7h0M615.1 332h0M634.3 327.1h0M616.7 320.3h0M616.1 345.2h0M624.4 335.4h0M613.4 348.4h0M627.5 315.7h0M618.7 316.9h0M629.8 335.2h0M609.8 305h0M637.5 318.9h0M612.9 322.4h0M625 309.7h0M634 315h0M623.4 337.4h0M620.9 331.2h0M636.4 343.4h0M616.9 310.6h0M608.9 322.2h0M617.1 305.8h0M632.3 331.8h0M636.7 339.5h0M635.7 302.5h0M630.1 307h0M615.8 343.8h0M618.5 303.5h0M615.2 332h0M628.8 296.2h0M626.8 312.4h0M617.6 330.2h0M609.4 324.3h0M613.8 323.1h0M622.9 309.6h0M631.2 325.4h0M632.6 308.4h0M618.6 309h0M621.8 320h0M627.3 338.5h0M644 307.2h0M626.4 335.5h0M616.2 333.3h0M637.8 311h0M615.3 291.7h0M616.1 312.1h0M627.8 327.3h0M622.7 291.4h0M616.6 329.9h0M628 299.1h0M608.4 309.5h0M606.7 322.3h0M611.4 330h0M611.2 329.5h0M611.7 320.7h0M615.7 298.1h0M636.6 321.3h0M625.7 334.4h0M627.6 298.8h0M620.1 303.7h0M625.6 318.9h0M617.3 300.2h0M622.3 317.2h0M625.4 290.8h0M621.1 321.9h0M614.9 332h0M630.9 327.3h0M622.8 318.2h0M627.3 317.8h0M628.6 329.3h0M628.4 328.6h0M611.1 341.3h0M606.4 329h0M611.2 294.1h0M639.4 323.4h0M609.4 336.1h0M621.4 331.1h0M611.8 332.8h0M629.4 322.3h0M624.8 334.1h0M631.8 301.8h0M630.4 334h0M619.3 324.7h0M611.9 297.1h0M629.4 321.1h0M618.9 300.3h0M611.8 323.7h0M619.1 307.9h0M619.5 335.4h0M606.7 312.1h0M634.8 338.3h0M622 321.2h0M609.1 331.4h0M622.4 318.6h0M634.3 339.9h0M623.9 311.3h0M625.3 319h0M632.2 299.8h0M626.6 317.4h0M607.1 319h0M607.4 334.6h0M618.9 342.9h0M607.5 318.4h0M617.4 339.6h0M612.9 298.3h0M621 297.6h0M615.5 312h0M635.1 300.9h0M620.4 322h0M627.1 329.3h0M633.4 324.6h0M607.6 299.9h0M609.6 333.7h0M625.9 314.1h0M622 306.7h0M606.2 347.8h0M610.7 345.2h0M622.8 332.2h0M609.3 326.5h0M616.7 319.8h0M610.2 333h0M612.3 332.8h0M615.8 337.6h0M616.6 337.5h0M638.1 314.8h0M628.3 329.2h0M626.7 338.5h0M617.4 339.9h0M616.2 333.8h0M612.4 347h0M614.5 317.6h0M627.2 314.3h0M630.8 342.6h0M610.1 329.7h0M627.9 326.9h0M620 307.8h0M618 333h0M617.1 326.4h0M630.3 337.7h0M607.8 336.7h0M607.5 331.7h0M631.6 302.5h0M612.2 315.1h0M621.6 316.3h0M625 345.8h0M634.5 336.8h0M623.2 308.5h0M632.7 320.4h0M628.5 302.8h0M618.4 320.6h0M623.5 311.7h0M626.7 318.8h0M629.3 312h0M615.1 314.6h0M608.2 302.8h0M611.5 329.2h0M628.2 324.3h0M610.7 331.9h0M622.1 320.8h0M611.9 313.2h0M615.6 319.4h0M614.8 332.1h0M627.4 329.5h0M615.2 326h0M631.4 331.1h0M628.8 326.7h0M634.6 305.7h0M633.6 310.9h0M628.2 297.4h0M614.9 347.3h0M611.3 337.8h0M611.1 341.3h0M608.4 304.2h0M607.8 309.1h0M624.9 330.1h0M626.1 329.5h0M624 316.2h0M611 299.1h0M630.2 295.3h0M622.1 331.2h0M618 306h0M618.8 323.7h0M627.8 294.4h0M619.1 311.6h0M622.2 310.5h0M640.8 311.3h0M615.5 348.6h0M636.1 330.3h0M607 306.3h0M614.2 346.7h0M614.5 329.5h0M659.9 307.7h0M629.2 329.5h0M623.5 309.2h0M614.7 330.2h0M632.4 321.5h0M617.2 304.8h0M612.8 309.3h0M632.7 326.3h0M612.9 325.7h0M634 338.6h0M632.9 332.8h0M626.5 316.7h0M623.2 315.7h0M620 308.6h0M633.9 301.6h0M646.1 304.3h0M624.3 313.9h0M609.1 315h0M608.9 323.9h0M625.9 300.2h0M615.1 332.6h0M630.4 333.6h0M611 315h0M611.3 344.2h0M616.8 325.8h0M648.3 345.6h0M617.2 334.7h0M613.1 347.6h0M635.3 304.3h0M615.7 330.4h0M618.9 339.5h0M612.8 345.2h0M613.3 310.6h0M613.4 326.9h0M626.8 320.5h0M624.9 293.5h0M613.2 343.1h0M628.8 318.5h0M624.5 298.1h0M620.7 318h0M621.3 297.5h0M607.9 301.9h0M623.6 314.8h0M607.4 333h0M627.5 318.1h0M610.6 301.6h0M611 312.1h0M616.2 320.6h0M614.5 314h0M608.8 320.5h0M609.7 306.7h0M627.1 324h0M610.6 293.3h0M606.9 313.6h0M613 317.1h0M616.4 349.4h0M607.7 323.1h0M620.9 327.5h0M630.3 332.4h0M633.1 336.1h0M630.9 307.1h0M607.2 319h0M628.1 341.8h0M628.1 350.3h0M607 323.1h0M622.2 320.9h0M634 325.2h0M621.5 336h0M613.8 320.1h0M629.2 316.4h0M618.2 320.1h0M613.1 294.3h0M631 305.2h0M620.2 336.4h0M612.3 332h0M613 336.7h0M631.3 318.8h0M632.4 304.3h0M621 295.3h0M609.6 318.4h0M610.4 331.2h0M621.1 338.7h0M614.4 348.2h0M616 292.7h0M611.1 326.8h0M625.9 329.5h0M631.1 290.9h0M611.5 331.5h0M632 322.6h0M611.9 313.9h0M623.2 351.3h0M619.6 343.2h0M613.1 314.8h0M617.8 330.3h0M622.9 322.4h0M611.5 310.8h0M614.7 322.3h0M614.9 340.1h0M618.2 320.7h0M607.1 302.3h0M632.6 330.6h0M610.7 339.6h0M609.1 338.7h0M628.6 300.2h0M611.2 315.2h0M620.4 322.1h0M632.7 317.8h0M629.6 300h0M624.9 326.8h0M629.4 342.5h0M632.1 302.7h0M607.7 326.5h0M626.8 301.3h0M608.2 295.3h0M608.9 321.8h0M629.5 322h0M619.3 322.7h0M623.3 325h0M607.6 322.5h0M613.9 297.7h0M614.4 312.5h0M626.6 292.3h0M619.5 311.2h0M616.1 326.6h0M631 325h0M613.8 330.6h0M611.7 303.5h0M621.5 336.3h0M634.6 311.5h0M618 326.4h0M622.9 327.7h0M617.2 334.8h0M615.7 332.9h0M628 318h0M607.6 297.8h0M628.6 314.1h0M608.2 335.2h0M612.4 313.2h0M614.9 322h0M632.1 326h0M613.6 304.3h0M621.1 299.8h0M629.1 327.8h0M621.9 293.2h0M628.9 294.3h0M607.2 326h0M613.4 319.1h0M614.8 335.3h0M619.6 325.5h0M615.5 297.5h0M619 339.8h0M623.2 300.6h0M618.6 314.5h0M611.2 314.1h0M625.8 330.2h0M624.6 307.7h0M616.5 322.6h0M622.3 323.5h0M630.4 346.9h0M619.1 319.9h0M619 326.7h0M629.8 306.1h0M621.7 318.3h0M629.6 321.8h0M616.8 329.2h0M626.7 330.6h0M630.8 332.6h0M620.4 309h0M613.9 344.8h0M631.1 345.1h0M628.5 316.4h0M624.1 296.9h0M613.8 315.3h0M620.7 323.7h0M612 315.5h0M634.6 330.3h0M610.1 318h0M623.1 304.1h0M635.3 327.2h0M607.7 307.6h0M606.6 326.7h0M624 318.6h0M638.5 315.8h0M620.5 300.6h0M628.7 311.4h0M630.9 314h0M607 318.3h0M607.7 325.5h0M628.9 299.1h0M608.5 321.6h0M608.5 307.2h0M628.1 350h0M613 318.2h0M629.3 317h0M637.5 338.8h0M622.1 336.8h0M615.1 315h0M627.6 301.3h0M621.7 334.7h0M606.2 335.6h0M635.9 321.9h0M612.6 290.9h0M629.9 318.8h0M607.4 304.3h0M625 343.4h0M619.5 332.6h0M625.1 308h0M613.3 341.7h0M632 334.3h0M607.5 329h0M621.7 326.5h0M608.5 310.9h0M625.7 312.1h0M612.8 330h0M619.4 313.4h0M612.7 324.8h0M620.1 320.7h0M616 338.5h0M632 311.6h0M607.7 328.1h0M632.7 302.1h0M616.3 345.9h0M613.8 303.7h0M622.8 341.9h0M630.7 315.2h0M623.9 340.8h0M622.7 337.5h0M632.1 310.5h0M623.2 349.5h0M619.9 307h0M656 310.4h0M625.8 347.9h0M609.9 311.5h0M627.9 323.8h0M632.6 319.3h0M620.9 322.3h0M610.9 304.2h0M618.2 293.6h0M614.5 316.3h0M640.8 298.1h0M611 329.7h0M626.8 337.4h0M611 339.6h0M649.4 327.6h0M614.1 307.8h0M628.5 304.9h0M612.6 347.4h0M631.1 317.3h0M614.6 314.6h0M632 326.2h0M634.9 344.4h0M631.3 348.9h0M621.6 324.4h0M638.1 312.6h0M613.8 317.3h0M617 322.4h0M607.2 334.2h0M636.1 321.7h0M617.7 320.5h0M624 322.6h0M614.8 339.3h0M631.6 328.7h0M633.6 325h0M628.2 321.9h0M657.9 318.5h0M625.8 319h0M617.6 338.2h0M627.9 325.8h0M627.6 316.8h0M606.8 307.6h0M636.8 316.4h0M617.7 343.3h0M607.2 309.8h0M627.8 295.4h0M614.8 325.4h0M619.8 307h0M608.5 303.5h0M629.1 320.5h0M621 327.7h0M618.2 301.6h0M630.2 306.8h0M619.5 320.6h0M645.5 323.2h0M617.9 317.1h0M645.9 303.1h0M608.8 318h0M626.7 339.9h0M609.3 330.6h0M608 317.7h0M618.7 313.9h0M623.9 329.9h0M635.1 307.9h0M615.7 330.9h0M634.3 304.1h0M621.2 292.4h0M608.5 306.7h0M628.7 318.9h0M606.8 310.9h0M635 296.5h0M618.7 335.5h0M632.6 337.8h0M614.5 328.5h0M611.6 338.1h0M624.1 322.6h0M636.2 327.3h0M612 323.7h0M609.3 303.4h0M629.4 316.1h0M626.7 332.9h0M623 326.1h0M610.9 336.9h0M608.6 306.3h0M619.3 341.5h0M608.1 330.1h0M623.2 295.8h0M608.1 328.3h0M631.4 320.6h0M608.3 314.8h0M606.8 350.4h0M611.2 319.9h0M612.2 306.8h0M621.6 320.1h0M631.8 313.1h0M625.3 338h0M614.6 322.3h0M617 328.2h0M620.3 322.9h0M629.4 345.1h0M614.3 333.4h0M628 315.1h0M623.5 333.7h0M642.2 314.1h0M632.9 297.7h0M615.9 318.6h0M615.7 321.4h0M623.8 312.7h0M611.2 337.7h0M611.7 331.2h0M621.6 340.6h0M624.4 336.8h0M623.8 294.7h0M628 335.4h0M628.7 322.8h0M614 328.4h0M622.9 329.7h0M615.6 327.5h0M610.8 326.2h0M606.4 317h0M626.5 327.6h0M625.1 316h0M618.2 325.2h0M620.2 327.4h0M633.3 325.8h0M613.9 294.7h0M612.7 342h0M617.1 324.9h0M612.6 311.1h0M618.3 313.5h0M637.4 338.5h0M615.7 340.2h0M607.4 323.4h0M622.7 303.5h0M621.9 310.3h0M635.1 323.5h0M610.1 328.1h0M616.2 326h0M619.6 325h0M621.7 345h0M616.4 344.9h0M648.8 323.6h0M631 291.6h0M615.6 318.6h0M627.2 350.7h0M616.3 340.2h0M630.3 323.6h0M614 338.5h0M630.2 318.7h0M616.9 334.2h0M622.8 335.2h0M622.2 343.7h0M617.4 315.5h0M622.6 317h0M631.7 316h0M610.5 311.4h0M623 324.4h0M607.7 302.8h0M607.6 338.7h0M608.3 310.2h0M614.4 328.8h0M608.3 329.9h0M610.1 333.1h0M628.3 312.9h0M635.7 318.8h0M616.1 304.3h0M618.7 336.4h0M626.5 318.3h0M629.6 337h0M608.4 313.2h0M623.6 298.8h0M610.2 336.8h0M622.8 303.8h0M609.2 337.7h0M606.5 297.5h0M624.8 318.8h0M620.4 312.3h0M608.3 338.8h0M611.7 295.3h0M623.3 322.8h0M608.4 328.5h0M625.2 305.3h0M608.6 333.5h0M631.1 325.4h0M610.1 327.1h0M636.5 333.6h0M610 303.5h0M608.7 293.9h0M614 336.2h0M621.5 295.6h0M617.6 303.3h0M618.1 326.6h0M617.2 310.5h0M618.5 331h0M637.7 329.8h0M615.9 336.7h0M608 304.3h0M608.3 333.4h0M630 322.9h0M606.8 309.9h0M609.4 324.7h0M614.8 301.8h0M629.3 319.4h0M627.3 300.2h0M625.2 314.8h0M628.5 316.7h0M611.8 329.7h0M633.8 314.7h0M645.4 306.9h0M627.6 345.2h0M632.3 310.8h0M615 299.3h0M616 305h0M614.6 313.1h0M624.7 322.8h0M630.3 336.7h0M633.9 334h0M608.2 325.3h0M623.3 336.4h0M628.3 317.7h0M627.9 327.3h0M643.2 324.1h0M612.5 299.7h0M622.4 316.1h0M621.4 308.1h0M628.6 346.4h0M618.8 310h0M626.2 332.2h0M636.2 293.6h0M610.9 342.8h0M630.6 331.3h0M624.7 306.1h0M623 342.3h0M611.8 322.6h0M617 330.9h0M613.5 293.5h0M623.8 313.9h0M607.6 303.9h0M606.8 328.2h0M627.7 336.3h0M628.1 309.9h0M611.2 325.2h0M628.6 306.1h0M625.4 322.6h0M619 297.4h0M634.2 320.7h0M611.4 318.4h0M610.1 303.1h0M606.2 315.5h0M606.7 296.6h0M615.8 327.9h0M618.7 333.1h0M609.1 304.2h0M606.6 310.6h0M610.2 327.8h0M608.4 336.3h0M607.9 329.5h0M643.5 319.6h0M631.1 323.1h0M608.6 336.4h0M608.7 332.8h0M606.9 310.8h0M616.4 301.8h0M607.6 295.4h0M620 331.6h0M625.7 336.6h0M610.6 310.6h0M610.9 324.6h0M622.1 307.7h0M618 305.4h0M607.3 326h0M626.4 322.1h0M606.9 345.1h0M639.1 344.6h0M631.4 309.1h0M622.5 347h0M609.3 343.1h0M635.6 328.2h0M616.5 309.3h0M615.1 350h0M616.3 320.5h0M615.8 299.6h0M612.2 339.2h0M616.2 310h0M628.4 303.5h0M609 333.8h0M618.5 307.2h0M616.2 306.2h0M618.7 342.8h0M617.6 322.6h0M619.2 330.1h0M612.1 325.8h0M627.4 317.6h0M611.8 338.5h0M611.6 350.8h0M612.2 343h0M606.9 341.9h0M627.6 324.5h0M624.5 306.7h0M627.2 329.5h0M616 332.5h0M624.1 329.3h0M633.4 309.3h0M610.8 323.3h0M617.8 320.6h0M607.5 331.9h0M623.6 322h0M613.8 327.4h0M646.3 303.2h0M619.5 320.4h0M618.4 302.2h0M612.1 314.2h0M623.1 317.2h0M610.8 348.6h0M633.7 324.6h0M634.2 336.1h0M620.7 305.5h0M621.8 315.9h0M633.7 315.1h0M626 323.9h0M628.8 300h0M625.2 310.1h0M640 327.7h0M627.4 337.5h0M608 333h0M636.6 322.4h0M629.5 316.9h0M610.3 304.2h0M640.2 332.3h0M616.3 333.5h0M624.8 305.4h0M624.3 303.8h0M611.2 337.9h0M628.1 332.9h0M630.3 316.7h0M631.9 326.4h0M643.6 310.9h0M623.4 333.8h0M606.2 332.2h0M619.2 303.9h0M606.9 296h0M627.5 315h0M641.7 331.7h0M628.2 302.3h0M613.7 296.6h0M608.5 324.2h0M618 325.6h0M620.2 312.1h0M621.9 322.7h0M609.2 345.5h0M629.9 310.3h0M621.3 308.3h0M623.8 349.7h0M606.5 292.5h0M616.6 339.6h0M612.6 341.4h0M618 336.3h0M636.2 322.1h0M631.8 323.2h0M626.9 349.3h0M619.8 320.2h0M613 315h0M626.5 333.3h0M613.6 340.5h0M623.1 333.6h0M622.3 310.3h0M629.1 330h0M613.7 315h0M629.6 322.2h0M626.8 325.4h0M615.5 307.6h0M625.2 301.8h0M619.4 300.3h0M622.7 321.4h0M611.2 342.5h0M614.3 336.4h0M623.9 327.8h0M621.4 342h0M626.1 346.5h0M623 328.1h0M633.5 330.1h0M635.6 332.2h0M612.1 293.2h0M609.2 307.3h0M618.9 344h0M628.4 307.7h0M624.9 325.1h0M611.6 335.9h0M611.5 332.4h0M626.1 324.9h0M616.6 337.6h0M629.9 325.7h0M630.5 310.9h0M606.3 320.9h0M610.2 326.6h0M625.9 338.5h0M608.9 334.1h0M630.3 345.7h0M626.1 322.9h0M607.5 314.9h0M617.4 315.6h0M612.6 324.1h0M620.6 301.1h0M626.3 316.1h0M629 313h0M630 340.3h0M626.4 328.8h0M622.9 330h0M614.1 304.9h0M624.5 324.6h0M617.5 325.2h0M640.9 326.2h0M614.3 297.2h0M622.2 331.3h0M635.9 334.9h0M620.1 318.3h0M609.9 323.4h0M623 299.4h0M610.6 303h0M628 316.7h0M622.9 324.1h0M635.1 321.1h0M635.2 299.2h0M623.7 314.5h0M620 310.9h0M607.9 340.4h0M608.4 324.3h0M622.8 311.2h0M607.3 310.9h0M609.5 319.9h0M607.5 350.7h0M610.3 320.1h0M631.1 335.1h0M631.1 337h0M630.2 329h0M620.3 319.2h0M618.8 309.6h0M617.9 319.2h0M619.1 322.1h0M647.9 330.6h0M610.4 322.5h0M633.1 340.5h0M614.7 310.3h0M606.5 321.9h0M615.2 304.8h0M624 312.6h0M608.5 328h0M628.8 323.3h0M619.3 322.3h0M624.5 321h0M617.5 337.2h0M621 319.8h0M622.7 297.9h0M619.4 330.2h0M610.6 346.7h0M626.3 326.4h0M631.2 327.3h0M633.1 334.2h0M624.5 301.6h0M619.7 297.6h0M614.2 332.6h0M622.1 306h0M616.3 340.5h0M620.4 304h0M631.4 314.9h0M638.9 320.7h0M622.4 347.4h0M634.2 313.8h0M624 333.7h0M627.7 291.5h0M631.9 338.3h0M611.3 345.8h0M613.9 313.7h0M606.9 340.4h0M620.2 296.6h0M609 336.1h0M624.8 309.1h0M627.6 337.4h0M615.4 329.6h0M622.4 318.6h0M612.3 332.6h0M627.6 309.5h0M626.1 332.5h0M620.6 297.5h0M617.8 306.2h0M606.6 347.5h0M627.2 315.5h0M606.3 334.5h0M626.1 316h0M616.5 318.8h0M627.6 307.3h0M654 306.6h0M613.5 301h0M619.9 341.5h0M628.2 316.3h0M618.7 331h0M606.8 346.5h0M609.9 333.9h0M614.9 338.2h0M613.2 314.5h0M645.8 325.7h0M626.9 314.9h0M619.7 322.2h0M618.7 318.6h0M633.9 312.9h0M612.6 334.1h0M623.6 323.4h0M628.2 323.6h0M637.6 329.4h0M643.2 337.4h0M631.7 316.1h0M633.3 310.4h0M616.2 290.2h0M614.7 317.4h0M632.2 316.5h0M612.4 338.9h0M608.1 321.8h0M617.8 300h0M631.7 312.3h0M625.2 293.1h0M635.2 292.6h0M640.7 307.5h0M625.7 330.1h0M619.3 317.1h0M619.2 299.8h0M620.2 329.3h0M607.4 320.6h0M607.7 333.9h0M613.1 329.4h0M615.6 344h0M629.7 300.9h0M628.4 331.3h0M618.9 318.6h0M616.6 311.8h0M623.2 325.3h0M618.1 338.4h0M607.4 330.5h0M617 338.1h0M614 318.7h0M614 330.9h0M610.5 302.1h0M621.3 326.6h0M610.9 312.1h0M608.9 336.2h0M630.1 350.4h0M638.9 326.5h0M628 305h0M611 304.7h0M606.3 301.1h0M617.7 327.7h0M627.4 326.9h0M611.2 318.9h0M633.8 326.6h0M625.5 312h0M620.4 307.1h0M619.2 305.4h0M622 334.2h0M609.7 296.7h0M628.6 326.6h0M610.8 330.2h0M619.2 322h0M620.1 325.9h0M630 302.8h0M622.4 334.1h0M609.5 309.3h0M616.3 340.2h0M628 321.9h0M611.3 315.3h0M631.6 305.3h0M612.6 340.8h0M625.7 293.3h0M625.8 336.8h0M612.4 326.2h0M643.1 324.2h0M612.1 298.2h0M611.4 309.4h0M616.5 301.4h0M639.9 299.3h0M625.8 312.9h0M625.4 324.9h0M626.3 299h0M624.6 304.6h0M630.8 316h0M606.5 351.4h0M613.1 330.9h0M607.4 313.8h0M636.5 328.9h0M610.3 305.4h0M631.4 319.2h0M626.3 314.8h0M628 306.5h0M621.1 291.3h0M616.2 329.1h0M630.4 297.3h0M620.6 321.5h0M654.2 349.4h0M607.4 312h0M613.6 342.7h0M631.1 305.6h0M629.3 304.5h0M614.4 327h0M627.8 340.1h0M623.9 312.2h0M632.2 326.7h0M622 325.6h0M628.5 330.6h0M636.5 328.9h0M628.3 336.9h0M655.6 306.8h0M619.1 301.8h0M609.5 334.9h0M628.8 342.1h0M629.2 308.1h0M611.9 299.3h0M633.9 311.6h0M611.7 301.6h0M607 307.5h0M631 319.5h0M619.4 325h0M626 333.3h0M608.3 322.2h0M613.2 350h0M629.9 296.3h0M617.9 339.3h0M629.5 316.3h0M632.1 314.6h0M617.8 322.2h0M640.8 321.4h0M631.2 333.8h0M616.3 327.7h0M607.7 308.3h0M608.3 309.2h0M628.5 342.9h0M609.6 321.9h0M652.2 350h0M615.8 322.3h0M624.9 319.7h0M626.7 343.4h0M616.7 297h0M611.3 343.5h0M631 300.7h0M613.5 348.5h0M624.2 309h0M626.8 329.5h0M634.8 342.8h0M607 316.1h0M621.5 334.8h0M627.1 324.8h0M630.3 317.5h0M631 337.9h0M606.5 331.3h0M622.2 317.4h0M640.3 337.3h0M627.3 315h0M626.5 351.1h0M608.7 303.3h0M610.6 345.9h0M619.5 334.9h0M609.3 327.6h0M636.1 312.4h0M622.8 309.3h0M617.6 304h0M649.2 302.3h0M627.4 340.2h0M624.9 319h0M622.1 324.4h0M620.2 311.7h0M609.7 324.2h0M610.6 351.3h0M630 329.8h0M622.1 321.4h0M613.2 301.7h0M617.9 322.8h0M612.8 326.3h0M625 321.3h0M616.4 325.3h0M628.4 307.4h0M624 329.1h0M615 307.1h0M622.3 312.8h0M630.1 328.5h0M618.9 324.1h0M614.3 309h0M610.3 315.3h0M620.6 337.9h0M633.8 299h0M630.4 321.3h0M616.2 338.1h0M622.2 303.9h0M608.6 298.4h0M606.8 336.3h0M610.8 346.5h0M628.3 343.9h0M617.9 329.8h0M637.9 339.9h0M620.9 329.4h0M613.7 329.3h0M633.5 349.3h0M623 316.9h0M627.3 299.4h0M627.5 326.7h0M612.2 330.4h0M639.6 335.7h0M611 322h0M610.1 340.7h0M611 309.8h0M627.9 329.1h0M633.6 340.5h0M615.7 316.6h0M627.9 322h0M612.7 300h0M613.4 321h0M623.7 330h0M629.1 292.1h0M611.1 320.2h0M624.3 317.7h0M609.6 299.5h0M626.5 333h0M614.8 325.4h0M623.3 336.6h0M617.2 291.6h0M621.2 338.2h0M632.4 342.4h0M618.8 342.9h0M637.5 293.9h0M628.6 306.2h0M618 335.5h0M622.9 336.2h0M616.1 334.2h0M614.2 323.1h0M620.2 335.5h0M615.7 335.6h0M646.7 347.4h0M642.5 320.6h0M631.5 318.9h0M617.2 328.7h0M624.3 335.7h0M633.3 338.6h0M627.7 292.4h0M608.1 351h0M625.8 302.2h0M632.2 301h0M615.2 316.9h0M614.4 301.3h0M616.2 301.7h0M608.3 344.9h0M620.9 313h0M611.4 338.9h0M629.5 306h0M629.1 335.6h0M624.1 317.8h0M607.7 343.8h0M618.1 305.3h0M637.4 312.3h0M627.8 327.7h0M609.3 337.6h0M612.1 334.4h0M606.9 319.8h0M623 333.4h0M607.5 339.5h0M628.1 312.9h0M624.3 316.7h0M620.9 305.6h0M624.4 308h0M619.3 342.4h0M607.2 320.7h0M609.9 337.4h0M629.8 345.4h0M609.1 320.4h0M613.7 327.2h0M615.1 315.6h0M622 329.6h0M627.7 311.3h0M629.6 325.3h0M629.6 318.2h0M629.2 304.9h0M616.6 293.3h0M609.2 328.4h0M614.7 348.3h0M619.5 301.8h0M616.9 293h0M613.7 307.8h0M628.8 297.1h0M627.8 327.8h0M633.2 330.9h0M608.8 300.3h0M616.4 308.9h0M621.7 312.5h0M627.1 311.3h0M612.8 321.9h0M636.8 349h0M622.3 302.6h0M608.6 317.1h0M607 333.5h0M607.7 329.4h0M608.3 307h0M621.2 332.2h0M607 340h0M629 314.8h0M618.7 307.2h0M626.2 305.8h0M632.9 307.3h0M625.2 316.1h0M626.3 324.1h0M616.8 323.5h0M614.6 331.2h0M617.7 293.8h0M623.8 329.3h0M625.1 315.7h0M619.9 307.8h0M610.5 339.7h0M628.2 340.3h0M635.3 300h0M623.2 301h0M628.7 348.7h0"/>
<path fill="none" stroke="#838383" stroke-width="3.0" stroke-linecap="round" d="M580.3 321.1h0M569.7 349.6h0M638.8 310.9h0M569.7 323.5h0M577.2 295.1h0M605.6 336.8h0M567.1 345.1h0M600.5 308h0M602.7 328.9h0M602.9 321.5h0M585 321.1h0M605.6 318.7h0M574.6 290.3h0M574.8 292.7h0M602.9 321.4h0M628.5 352.2h0M621.2 344.5h0M600.4 305.6h0M569.8 326.1h0M605.6 300.3h0M600.3 357.6h0M597.7 284.8h0M592.7 355h0M574.8 313.5h0M585 362.4h0M610.5 279.3h0M580.1 300.2h0M605.8 282h0M572.2 347.2h0M613.2 287.3h0M603.1 305.5h0M569.7 289.9h0M603.2 313.4h0M579.9 320.7h0M579.9 313.2h0M579.6 325.9h0M569.7 303.3h0M580 315.5h0M572.2 349.7h0M582.4 310.7h0M587.7 326.5h0M585 326.1h0M638.9 323.4h0M582.5 370.4h0M603.1 339.5h0M603.1 292.1h0M600.4 308.3h0M567.2 298h0M602.8 334.1h0M567.3 334.4h0M600.6 310.5h0M579.9 326.3h0M600.4 336.5h0M615.8 357.8h0M579.5 305.7h0M597.9 276.7h0M628.8 279.5h0M584.9 297.7h0M608.7 357.6h0M592.7 344.7h0M600.4 308h0M600.5 341.7h0M579.8 326.6h0M603 279.3h0M603.1 325.9h0M579.7 321.5h0M628.7 298h0M597.9 268.8h0M605.8 334.2h0M623.2 295.4h0M603.2 310.8h0M582.5 310.8h0M605.6 328.9h0M631.3 310.6h0M602.7 363.1h0M577.4 321.1h0M569.5 284.6h0M603.1 297.9h0M585.3 300.1h0M567.2 313.2h0M585.1 326.2h0M585 328.3h0M603.1 295.2h0M582.2 331.2h0M638.9 316.2h0M610.7 357.4h0M585.2 289.6h0M600.6 313.7h0M600.1 313.3h0M585.4 318.2h0M623.6 287.2h0M585.1 308.2h0M582.6 316h0M598.2 354.9h0M595.3 266.4h0M582.5 297.9h0M602.9 316.2h0M618.5 355.2h0M633.9 362.9h0M613.3 266.4h0M575 300.3h0M592.9 274.2h0M600.3 295.2h0M600.4 311h0M572.2 323.5h0M582.5 347.5h0M590.2 347h0M577.4 313.2h0M605.4 339.4h0M577.3 326.3h0M600.8 297.6h0M582.4 331.8h0M605.6 313.7h0M587.8 357.8h0M602.8 334.1h0M584.7 316.2h0M585.1 266.4h0M603 339.3h0M585.1 295.3h0M582.4 289.8h0M582.5 302.3h0M577 308h0M605.5 311.2h0M616.1 279.6h0M598 344.7h0M577.3 300.2h0M569.6 347.4h0M600.7 339.4h0M585.1 310.4h0M633.9 300.6h0M579.8 315.8h0M592.6 352.3h0M594.9 349.4h0M585.3 297.4h0M618.4 289.8h0M621.1 284.6h0M567.1 305.6h0M600.6 285h0M603 313.5h0M585.1 287.5h0M605.7 310.5h0M605.5 352.3h0M601.1 336.8h0M592.9 279.2h0M574.8 331.5h0M610.7 282h0M585.2 274.2h0M600.6 326.3h0M580 342.1h0M579.9 297.7h0M600.4 310.7h0M572.4 294.7h0M580.1 287h0M577.4 344.3h0M584.9 336.7h0M582.7 349.8h0M618.4 287.1h0M605.7 316.3h0M577.5 305.6h0M582.2 328.8h0M600.1 297.9h0M597.8 349.4h0M603.2 284.8h0M582.3 326.4h0M605.5 341.8h0M585.1 326h0M610.4 277.3h0M631.4 323.6h0M600.7 305.4h0M567.2 321.2h0M600.2 321h0M602.8 287.4h0M584.8 315.9h0M590 284.9h0M582.2 294.9h0M605.3 362.9h0M600.4 329.1h0M605.4 282.3h0M600.7 316h0M585.1 287.5h0M582.4 284.8h0M582.3 321.3h0M605.1 304.8h0M564.6 313.5h0M574.9 318.6h0M605.3 289.9h0M605.6 329.2h0M572.1 279.6h0M610.8 287.3h0M603.1 328.6h0M618.6 279.4h0M600.7 271.7h0M582.1 305.6h0M572.5 313.7h0M600.5 305.6h0M623.4 284.8h0M605.4 311.1h0M600.5 331.4h0M618.6 274.2h0M579.8 328.6h0M600.4 323.6h0M587.7 352.7h0M608.1 370.8h0M592.7 373.6h0M582.7 297.7h0M602.9 331.7h0M600.2 318.7h0M600.6 302.8h0M585.2 310.8h0M597.9 284.7h0M580 305.6h0M585.3 313.2h0M639 326.3h0M600.3 297.7h0M633.7 336.7h0M605.4 308.3h0M595.4 282h0M605.6 321.3h0M636.1 300.3h0M639.2 339.5h0M600.6 344.6h0M592.6 284.7h0M572.5 302.8h0M582.4 316.2h0M577.6 331.2h0M585.2 323.8h0M579.9 294.9h0M605.4 349.7h0M636.3 300.3h0M625.8 287h0M572.1 292.1h0M600 333.9h0M603.1 287.1h0M595.4 344.7h0M603.1 342.2h0M605.6 316h0M584.9 279.7h0M605.4 323.5h0M633.7 305.2h0M608.3 287.3h0M585.1 354.9h0M585 302.7h0M579.8 347h0M600.7 349.8h0M584.8 354.6h0M600.2 339.3h0M605.5 336.4h0M633.7 318.4h0M585 282.1h0M580.4 316.1h0M564.4 326.6h0M603 326.5h0M585.1 347h0M605.5 326.3h0M610.3 271.5h0M636.2 307.6h0M579.7 308.1h0M587.9 282.3h0M600 295.2h0M567.4 299.9h0M567.2 331h0M600.4 303h0M620.7 287.3h0M577.6 297.8h0M577.2 305.5h0M567.1 295.2h0M579.8 336h0M608.4 284.7h0M582.7 329.2h0M580.2 300.3h0M605.5 333.9h0M580 339.4h0M582.5 290h0M597.8 271.4h0M631.1 287.3h0M579.9 303.3h0M577.3 341.6h0M630.9 329.1h0M631.3 292.9h0M587.7 329.1h0M569.6 297.4h0M582.7 347.1h0M585 339.4h0M577.3 339.5h0M602.9 308h0M569.8 321.1h0M582.6 320.9h0M582.5 336.9h0M567.4 336.9h0M605.5 303.2h0M567.2 310.9h0M577.5 294.4h0M584.8 308.3h0M605.7 318.3h0M574.9 324.1h0M582.8 269.3h0M580 307.8h0M600.5 333.9h0M638.8 339.2h0M626 291.9h0M579.6 339.4h0M621.1 287.4h0M587.9 326h0M585.2 292.2h0M610.6 284.6h0M602.9 334h0M610.7 284.5h0M600.7 328.7h0M577.5 300.5h0M584.9 318.9h0M605.6 287.4h0M572.6 313.1h0M602.9 310.9h0M595.4 277.1h0M574.9 331.5h0M582.5 300.3h0M595.4 347.5h0M579.7 308.6h0M569.6 310.3h0M600.5 305.8h0M618.5 284.6h0M587.8 339.5h0M602.9 305.6h0M590.3 357.5h0M572.2 323.6h0M577.9 308.3h0M605.8 308.2h0M600.5 302.7h0M600.5 302.7h0M602.9 331.7h0M605.3 341.8h0M579.7 287.3h0M587.6 370.5h0M603 291.9h0M626 287.7h0M605.5 360.1h0M618.4 266.5h0M600.3 320.8h0M577.2 313.6h0M577.3 305.8h0M577.4 313.1h0M574.8 354.9h0M579.8 310.5h0M631.1 305.7h0M585 305.6h0M602.9 311.2h0M577.6 344.8h0M605.6 318.1h0M574.8 323.7h0M577.6 334.3h0M569.6 308.3h0M638.9 342h0M582.6 315.4h0M572 316h0M582.6 328.9h0M580 339.7h0M603 284.7h0M582.5 323.4h0M590.3 362.4h0M582.7 292.5h0M600.7 367.8h0M600.3 337h0M577.2 336.9h0M587.6 344.4h0M597.6 271.3h0M603.1 315.8h0M572.2 284.7h0M605.5 307.8h0M628.6 284.6h0M603.2 334.3h0M574.8 308.1h0M600.3 344.5h0M600.6 282.2h0M600.4 300h0M633.9 331.6h0M626 352.8h0M582.4 284.9h0M639.1 313.4h0M631.3 302.7h0M585.2 300.6h0M600.5 307.7h0M585 310.5h0M585.2 297.2h0M564.6 297.7h0M602.9 334h0M579.7 323.3h0M584.7 276.8h0M577.4 294.9h0M600.3 334.1h0M579.7 306h0M602.9 315.8h0M618.4 281.6h0M603.2 290.2h0M592.8 274.5h0M564.6 331.4h0M574.4 324.1h0M603.1 290h0M636.3 339h0M600.7 321.1h0M600.4 321.3h0M603 349.5h0M603.2 339.4h0M597.9 284.9h0M569.5 274.1h0M628.7 287.4h0M562.1 323.8h0M587.5 298h0M572.3 305.2h0M603.1 269h0M603.1 326.1h0M630.8 316.1h0M579.9 331.8h0M574.7 323.8h0M603 323.8h0M603.1 289.8h0M585.1 331.6h0M577.5 300.4h0M564.7 331.5h0M600.3 310.3h0M603.1 328.8h0M600.5 324h0M564.7 331.4h0M582.4 321.2h0M579.8 321.5h0M577.4 321h0M567.1 292.7h0M600.2 305.7h0M605.4 289.9h0M584.9 300.2h0M602.9 297.5h0M595.4 354.9h0M636.3 318h0M584.8 344.3h0M603 289.9h0M574.8 323.5h0M602.9 328.9h0M582.2 287.2h0M577.4 326.2h0M569.5 308.2h0M633.6 274.4h0M605.3 342.2h0M585.1 328.9h0M608 367.9h0M595.1 360.3h0M602.9 349.8h0M585 308h0M600.2 292.5h0M600.3 294.8h0M605.4 339.6h0M600.6 305.3h0M569.9 326.4h0M603 334h0M605.7 334.3h0M587.9 276.9h0M574.8 308h0M569.7 295.2h0M590.3 349.5h0M564.7 321.4h0M569.9 354.9h0M572.5 308.1h0M602.8 295.3h0M636 357.5h0M605.8 316h0M600.3 311h0M585 315.8h0M595.5 274.3h0M605.9 338.9h0M590.4 344.8h0M582.9 310.4h0M582.6 362.8h0M592.7 357.5h0M605.6 297.4h0M579.8 323.9h0M605.6 302.7h0M590.3 282h0M585.1 324h0M579.8 328.9h0M574.9 337h0M572.2 279.4h0M574.9 323.3h0M582.1 310.5h0M639 331.7h0M575.1 298h0M593 269.4h0M587.7 355h0M600.3 346.9h0M605.7 287.5h0M600.4 308.3h0M577.6 307.9h0M600.4 315.9h0M616.2 279.4h0M616.1 289.3h0M605.9 365.7h0M605.6 281.7h0M602.9 355.1h0M564.5 326.3h0M605.3 313.4h0M603 326.5h0M605.6 321.2h0M574.7 303h0M582.7 326.2h0M575.1 362.8h0M574.7 302.9h0M613 287.1h0M603.1 331.7h0M600.4 323.7h0M605.8 273.9h0M562.2 313.2h0M600.2 287.5h0M598 355.3h0M592.7 360h0M605.3 326h0M587.5 308h0M603.1 312.9h0M602.9 289.6h0M603.1 313.8h0M585.1 305.2h0M582.4 279.3h0M602.9 360.3h0M602.9 323.8h0M569.6 315.7h0M569.7 297.8h0M605.4 331.2h0M574.7 284.6h0M579.9 300.4h0M603.1 334.2h0M577.6 318.5h0M587.7 349.8h0M631.1 331.3h0M602.9 321h0M603 324h0M590.3 274.2h0M600.6 352.6h0M574.6 323.9h0M582.3 329h0M585.1 305.2h0M605.7 347.4h0M610.9 269.5h0M603 282.2h0M603 318.8h0M602.9 315.6h0M605.8 316.1h0M600.6 318.7h0M602.9 352.1h0M577.3 321.2h0M582.6 292.5h0M623.6 277.2h0M600.1 307.9h0M600.3 271.5h0M605.6 323.2h0M585.1 295.1h0M574.8 282h0M585 323.6h0M605.6 362.4h0M575.1 331.3h0M600.6 311h0M600.5 336.3h0M585.3 279h0M602.9 294.6h0M590.3 281.9h0M600.5 334.1h0M602.8 318.7h0M602.7 321.1h0M605.4 266.4h0M579.8 331.3h0M577.4 362.9h0M572.3 310.5h0M602.8 320.8h0M587.5 360.4h0M585.3 323.3h0M569.8 287.3h0M615.6 352.7h0M569.3 295.1h0M579.9 317.9h0M600.1 297.6h0M605.7 320.8h0M584.9 284.6h0M595.2 279.6h0M567.1 316.2h0M587.6 271.8h0M584.9 303.1h0M603.2 344.7h0M569.9 326.3h0M585.1 302.9h0M570 315.6h0M569.5 310.8h0M577.2 308.4h0M592.8 368.1h0M613.3 284.6h0M603 318.8h0M631.2 328.6h0M613 365.1h0M585 294.8h0M605.7 326.3h0M615.9 347.2h0M600.3 316.1h0M588 276.3h0M603 300.6h0M600.3 298h0M587.2 281.6h0M618.2 271.5h0M582.6 284.2h0M585.2 342.1h0M600.3 277.3h0M605.4 290.3h0M600.8 337h0M582.5 313.4h0M574.5 336.2h0M574.6 342.1h0M574.8 295h0M600.2 305.8h0M618.3 276.3h0M603 363h0M582.9 347.5h0M564.6 341.9h0M610.7 359.8h0M592.8 354.7h0M602.9 266.4h0M574.8 344.2h0M598 282.2h0M600.2 284.6h0M579.7 328.9h0M574.9 336.8h0M605.3 349.8h0M575.1 316h0M600.5 308.1h0M605.5 300.1h0M597.9 360.6h0M600.6 308.6h0M600.5 274.3h0M597.6 355.1h0M605.6 295.3h0M605.7 318.4h0M585 341.8h0M600.2 318.6h0M600.3 334.1h0M602.9 324.1h0M638.8 295h0M567 302.7h0M590.2 349.5h0M569.5 321h0M603 295h0M610.9 282.2h0M570.1 295.6h0M579.7 313.5h0M603 313.7h0M603 355.1h0M567.3 324.1h0M590.5 282.1h0M579.9 306.1h0M585.2 344.4h0M615.9 284.8h0M579.9 342.1h0M600.5 370.9h0M577.3 305.5h0M600.3 292.1h0M605.9 302.6h0M564.6 336.7h0M582.7 339.7h0M585 339.3h0M603.1 320.9h0M572.1 311h0M600.7 344.5h0M579.7 313.3h0M569.9 313.1h0M600.1 300.1h0M605.4 331.4h0M567.1 318.3h0M584.6 310.7h0M597.9 344.5h0M639 350h0M602.9 300.4h0M585 339.4h0M605.7 323.6h0M618.3 287.3h0M600.6 294.9h0M600.2 341.7h0M597.6 347.4h0M577 302.9h0M605.7 332.2h0M577.3 357.7h0M603.1 323.6h0M600.1 342.2h0M580 360.2h0M582.4 279.6h0M605.3 292.4h0M577.3 357.6h0M582.4 362.6h0M603 303.2h0M579.5 302.7h0M574.9 315.6h0M610.7 284.8h0M585.2 306h0M605.6 339h0M603 318.6h0M610.7 266.6h0M585 347.4h0M584.9 313.2h0M584.9 315.5h0M628.9 313.4h0M577.5 334.3h0M603 287.5h0M600.7 326.3h0M587.7 284.5h0M579.7 318.8h0M582.6 326.6h0M600.7 308.2h0M603.2 282h0M600.4 323.7h0M585 295h0M603.1 300.3h0M574.5 323.4h0M605.8 354.9h0M569.5 308.2h0M613.1 354.8h0M574.9 284.3h0M577.3 310.4h0M585.2 337h0M600.6 345h0M631 321.5h0M600.6 310.7h0M587.7 266.6h0M633.7 324.4h0M615.9 282.1h0M577.6 318.6h0M605.5 297.8h0M613.1 284.7h0M579.9 328.8h0M600.6 310.3h0M587.7 337h0M587.7 315.7h0M595.5 276.8h0M605.8 331.4h0M600.5 363h0M574.9 279.5h0M590.1 276.7h0M600.5 334.1h0M603.1 289.7h0M595.3 344.5h0M621.1 287.3h0M575 357.5h0M600.4 323.7h0M608.3 286.8h0M585.4 355h0M595.3 279.3h0M638.7 295.2h0M602.7 373.1h0M574.8 282.1h0M579.6 323.8h0M595.4 277.3h0M582.8 295.2h0M600.6 352.2h0M579.8 337.1h0M603 313h0M567.2 276.8h0M598.4 279.5h0M567.4 328.8h0M582.5 321.2h0M633.9 349.3h0M597.9 274.6h0M582.6 331.4h0M605.5 287.6h0M585.1 297.4h0M613.3 287.5h0M605.3 297.6h0M600.3 307.9h0M600.7 318.3h0M605.8 336.4h0M572.3 326.2h0M603.2 287.6h0M613 282.1h0M605.4 328.9h0M605.9 326.3h0M600.4 347.2h0M574.9 323.9h0M603.2 310.5h0M603 331.9h0M572.3 308.3h0M585 300.3h0M636.3 347h0M600.6 331.5h0M608.4 266.4h0M603 295.8h0M582.4 328.9h0M572.3 321.1h0M569.4 347.1h0M600.2 289.8h0M585.4 313.2h0M610.5 282.1h0M600.7 313.4h0M582.9 311h0M600.7 316.1h0M587.8 292.2h0M600.8 347.6h0M582.7 318.7h0M605.4 331.5h0M603 320.9h0M574.7 307.8h0M595.2 362.9h0M605.8 336.6h0M602.9 339.4h0M574.9 328.8h0M605.3 310.4h0M595.3 344.4h0M603.1 329h0M592.7 346.9h0M585.1 310.6h0M577.3 303.1h0M564.6 312.9h0M603.3 344.4h0M610.6 362.7h0M598.2 284.3h0M572.3 290.2h0M569.7 326.2h0M570 287.2h0M603.1 300.3h0M572.4 317.9h0M569.5 310.8h0M567.5 341.6h0M598 347.1h0M574.6 318.5h0M564.7 313.9h0M582.4 310.6h0M574.8 344.5h0M603.2 326.2h0M597.7 281.7h0M603.1 328.8h0M600.5 302.6h0M600.4 287.4h0M605.7 305.8h0M636.4 297.8h0M585.2 370.4h0M602.7 331.5h0M602.8 313.1h0M605.4 305.4h0M628.8 282.2h0M585.3 321h0M577.2 318.8h0M602.8 305h0M605.8 305.3h0M585.2 318.2h0M585 303.1h0M592.9 355h0M602.9 328.6h0M577.3 336.8h0M600.3 287.1h0M577.4 300.2h0M582.5 336.4h0M602.9 352.2h0M567.1 292.1h0M600.7 354.9h0M605.7 328.5h0M605.6 279.7h0M603 331.6h0M569.9 300.1h0M600.5 342.1h0M572.4 305.8h0M600.4 331.6h0M569.5 313.1h0M600.5 308.1h0M577.5 279.5h0M633.9 284.9h0M579.9 326.4h0M570 300.5h0M628.9 315.2h0M597.5 347h0M605.6 336.3h0M580.4 316h0M603.1 302.4h0M577.4 316h0M603.1 305.5h0M623.4 368h0M577.1 313.4h0M603 312.8h0M605.6 339.6h0M580 287.1h0M572.3 305.4h0M610.6 284.4h0M600 336.4h0M605.3 326.4h0M572.1 318.2h0M567 331.5h0M605.8 302.8h0M582.4 339.2h0M582.4 300.3h0M582.6 315.6h0M605.3 349.5h0M595.5 282.3h0M603 292.5h0M613.3 282h0M618.4 274.1h0M633.8 344.8h0M585.4 284.5h0M577.4 303.2h0M577.5 310.6h0M579.8 318.4h0M636.6 318.9h0M590.2 352.4h0M574.7 318.3h0M587.7 328.6h0M600.3 316.2h0M605.5 324h0M582.5 328.9h0M582.3 284.6h0M600.4 339.2h0M579.6 357.3h0M602.9 329.2h0M582.5 342.3h0M620.8 365.4h0M602.9 320.9h0M638.9 326h0M587.5 318.4h0M605.3 305.8h0M582.6 282.5h0M602.9 342.1h0M600.5 321.6h0M588.2 344.5h0M605.6 318.6h0M600.4 328.8h0M587.7 349.5h0M605.7 287.4h0M562.3 323.9h0M592.6 363.1h0M590.1 347.2h0M605.5 319.1h0M600.6 302.5h0M605.5 331.4h0M605.9 308h0M579.7 303h0M582.6 292.4h0M603 310.3h0M582.6 334.2h0M579.8 295h0M574.8 323.6h0M577.4 318.1h0M605.4 313.2h0M585.1 323.7h0M600.3 299.9h0M582.3 328.7h0M638.7 329.1h0M584.9 284.5h0M580 310.6h0M569.8 339.3h0M597.7 352.2h0M595.2 357.6h0M595.2 355.1h0M605.5 321.3h0M602.9 321.4h0M613 271.2h0M592.8 282.3h0M603.1 336.9h0M564.5 334.4h0M582.6 344.4h0M564.4 308.5h0M600.7 290.2h0M600 376.1h0M585.1 328.8h0M621 289.5h0M603 321.3h0M605.3 282.5h0M600.3 287.3h0M605.6 328.8h0M598 365.1h0M605.5 352.2h0M600.3 311h0M577.4 344.8h0M590.2 360.2h0M598 284.6h0M605.7 274.1h0M613.2 357.6h0M605.6 329h0M600.4 279.4h0M600.4 297.8h0M603 321.2h0M577.5 302.5h0M582.4 336.5h0M618.2 357.8h0M582.5 297.7h0M579.9 316.2h0M608 284.9h0M603 302.9h0M587.5 344.7h0M569.4 349.6h0M605.3 302.9h0M584.9 315.9h0M597.8 284.6h0M564.5 287.4h0M603.3 323.5h0M610.7 287.5h0M572.1 352.6h0M600.4 344.1h0M600.5 284.5h0M605.4 351.9h0M605.6 357.3h0M585.1 347.1h0M603.3 331.3h0M603 321h0M600.4 347.2h0M575 316.4h0M582.5 355.1h0M569.6 313.2h0M600.3 344.3h0M579.8 331.4h0M603 311.3h0M564.6 329h0M585.2 336.8h0M600.7 282h0M628.6 294.8h0M615.9 360.4h0M600.1 297.4h0M585.1 339.6h0M570 277h0M585 360.2h0M605.4 344.6h0M623.7 273.9h0M600.3 303h0M582.7 284.8h0M580 312.9h0M600.5 368h0M595.3 276.8h0M600.6 339.3h0M577.7 307.9h0M580.1 300.4h0M605.4 310.7h0M580 331.5h0M569.5 318.5h0M580 342.2h0M602.8 305.8h0M582.4 308.1h0M577.2 339.7h0M597.8 354.8h0M615.8 289.5h0M585 365.7h0M605.7 318.9h0M574.8 334.2h0M595.1 284.8h0M580.1 341.9h0M631.1 302.6h0M615.8 279.7h0M610.8 271.8h0M600.5 318.1h0M597.9 357h0M630.9 292.3h0M577.5 302.9h0M597.7 284.2h0M605.4 295.4h0M585 316h0M592.7 281.9h0M575.1 308h0M618.3 354.8h0M628.5 310.6h0M584.9 310.4h0M579.7 365.5h0M567.5 323.4h0M600.6 307.8h0M577.3 349.4h0M577.6 310.7h0M585 336.9h0M600.5 300h0M580 326.3h0M605.4 350h0M582.4 305.6h0M600.5 305.6h0M600.5 339.3h0M597.7 349.6h0M603 287.9h0M587.8 276.8h0M585 318.6h0M587.6 294.9h0M603 373.2h0M605.5 290h0M603.1 326.6h0M577.4 300.6h0M585.1 326.4h0M567.2 321.1h0M564.8 308h0M574.9 310.2h0M605.3 310.5h0M564.5 310.9h0M595.2 347h0M613.1 357.4h0M582.5 294.9h0M580.2 298h0M636.4 308.5h0M631 302.6h0M623.5 355h0M597.9 344.5h0M595.4 357.9h0M590.4 350h0M595.1 347.2h0M628.4 365.7h0M582.8 285h0M600.3 313.6h0M605.6 307.9h0M605.7 333.9h0M633.7 306h0M626.1 271.6h0M574.9 329.1h0M582.4 313.6h0M584.9 323.3h0M628.8 274.2h0M598 354.8h0M613.1 352.4h0M602.8 302.5h0M587.6 344.3h0M590.5 282.4h0M633.8 292.4h0M626.2 281.9h0M569.6 326.5h0M595 362.4h0M566.8 311.1h0M569.8 310.4h0M600.5 295h0M618.1 282h0M603.1 303h0M600.4 292.3h0M585.2 331.8h0M572.4 272h0M603.3 326.5h0M574.8 313.6h0M600.3 339.3h0M633.6 357.7h0M577.3 350.4h0M564.5 302.4h0M605.6 310.8h0M600.6 297.4h0M585.3 344.5h0M585.2 341.9h0M636.2 308.3h0M600.8 321.2h0M602.8 316.2h0M572.3 279.5h0M582.5 308h0M603.1 315.8h0M595.4 269.1h0M579.9 318.3h0M633.7 310.9h0M602.9 362.3h0M615.9 365.1h0M615.9 352.3h0M585.1 294.8h0M625.9 357.4h0M580 313.5h0M602.8 350.3h0M605.9 346.7h0M582.4 289.7h0M569.7 295.2h0M593 281.8h0M567 310.7h0M585 347.4h0M605.8 312.9h0M592.8 346.8h0M575 350h0M575.1 328.7h0M577.2 318.6h0M615.7 276.9h0M582.8 294.8h0M605.4 357.6h0M587.7 299.8h0M582.5 334h0M600.5 316h0M603.1 344.8h0M585.1 310.8h0M587.7 318.5h0M626.1 279.3h0M569.8 302.8h0M585.1 295.4h0M613.2 289.9h0M605.6 274.7h0M584.8 276.8h0M603.1 328.9h0M615.8 287.6h0M605.5 305.5h0M605.2 326.5h0M605.5 279.5h0M577.3 297.5h0M618.1 354.6h0M615.6 266.7h0M603 310.7h0M600.2 274.2h0M587.8 310.9h0M608.3 284.7h0M575.2 308.2h0M569.7 323.4h0M585.3 310.4h0M600.4 331.8h0M587.5 303h0M569.6 316h0M574.9 341.9h0M598 360.2h0M569.9 321h0M615.8 287.4h0M566.7 329.1h0M597.8 349.6h0M621.1 287.2h0M631.4 336.3h0M618.4 359.9h0M600.5 331.3h0M603.3 367.5h0M603.1 308h0M582.5 323.7h0M574.7 333.7h0M634 315.7h0M579.8 341.8h0M603 352.4h0M602.8 282.3h0M585.1 292.6h0M602.9 302.6h0M603.1 329.3h0M605.6 328.8h0M603.1 315.9h0M605.4 336.6h0M587.8 346.9h0M608.3 287.4h0M569.9 305.4h0M608 279.5h0M600.5 319h0M582.6 302.9h0M598.2 344.7h0M592.6 346.9h0M602.9 305.7h0M605.8 336.9h0M582.5 331.1h0M574.8 310.2h0M569.8 328.9h0M582.6 324.2h0M590.4 281.7h0M602.9 318.9h0M574.5 321.1h0M605.5 344.4h0M569.8 308.5h0M585 333.8h0M603.1 295.4h0M605.5 328.9h0M628.7 274.4h0M605.5 313.4h0M638.7 316h0M600.4 286.8h0M600.6 313h0M574.8 310.4h0M605.2 310.2h0M639 329.2h0M603 316.1h0M585.1 331.5h0M567.1 292.6h0M600.5 345.1h0M603.2 334.7h0M628.5 284.1h0M600.4 334.2h0M577.3 302.7h0M605.6 292.4h0M587.8 308.1h0M600.4 346.9h0M588 354.7h0M602.9 295.2h0M579.9 313.3h0M575.1 329h0M605.4 338.6h0M603.3 326.2h0M613.1 352.1h0M585 331.5h0M585.1 310.7h0M600.4 328.8h0M582.3 339.3h0M590.2 284.6h0M569.5 303h0M577.7 321.1h0M605.5 347.3h0M574.8 347.3h0M602.8 352.6h0M585 334.5h0M603.2 300.3h0M620.8 347.1h0M585.2 305.2h0M605.4 347.2h0M580 308.2h0M575.1 341.9h0M572.2 313.7h0M569.7 326.1h0M572.1 300.6h0M603 334.2h0M572.3 313.1h0M585 333.6h0M602.6 341.8h0M603.1 302.7h0M577.3 352.3h0M585.4 311.1h0M585.1 336.4h0M618.1 268.8h0M605.6 292.4h0M602.9 292.7h0M638.7 315.7h0M587.8 336.8h0M564.1 323.8h0M579.8 347.2h0M602.9 305.6h0M575.1 302.9h0M587.6 311h0M605.7 287.3h0M600.5 279.3h0M603.3 305.5h0M600.3 321.1h0M600.4 318.4h0M600.3 315.8h0M603.1 287h0M577.4 305.5h0M616.2 284.4h0M587.5 344.7h0M585.5 347h0M602.9 294.9h0M608 266.2h0M569.5 326.7h0M590.2 277h0M585 300.2h0M600.2 347h0M579.7 307.8h0M587.7 352.2h0M603 331.9h0M623.5 284.8h0M579.9 321.4h0M605.6 321.5h0M587.7 347.2h0M636.5 297.7h0M603 305.4h0M600.4 331.6h0M584.8 282.1h0M598.1 367.9h0M623.8 308h0M634 302.4h0M580.2 300.1h0M600.4 289.7h0M574.8 320.9h0M603 308.1h0M585 287.2h0M582.5 307.9h0M579.7 345.1h0M579.8 352.3h0M600.6 337h0M580 334.5h0M569.7 321.1h0M600.5 326.4h0M595.5 368.2h0M585 311h0M610.4 274.8h0M587.4 289.9h0M603.2 320.7h0M602.8 282.4h0M580.2 298.1h0M564.4 329h0M603.1 292.6h0M574.9 341.9h0M610.7 287.7h0M587.4 357.1h0M638.8 308.1h0M590.1 349.8h0M610.6 357.3h0M603.3 302.7h0M580 326.3h0M597.9 284.4h0M585.2 313.4h0M636.1 323.5h0M574.7 305.8h0M584.8 303h0M605.5 352.4h0M600.6 310.7h0M592.7 352.1h0M582.5 284.5h0M613.1 287.2h0M582.6 300.1h0M605.8 347.5h0M603.1 339.2h0M618.2 287h0M600.2 292.1h0M600.5 336.9h0M585.1 323.8h0M577.3 329.2h0M600.6 354.9h0M582.5 318.3h0M590 349.8h0M579.9 308.4h0M605.5 295.2h0M603 302.7h0M577.6 308.2h0M636.5 328.8h0M598.1 354.5h0M623.6 321.8h0M602.9 276.4h0M600.4 297.7h0M577.3 326.3h0M574.8 349.9h0M605.3 310.9h0M636.4 334.4h0M603.2 344.7h0M574.6 305.4h0M597.8 264.1h0M628.5 276.8h0M592.6 355.2h0M577.4 305.3h0M569.8 323.9h0M633.5 313.1h0M605.3 336.6h0M605.3 323.7h0M603.4 310.8h0M577.6 292.7h0M587.5 356.9h0M585.1 349.4h0M630.9 331.9h0M605.3 328.6h0M603 308.3h0M592.8 357.4h0M616 274h0M572 305.1h0M603.1 323.2h0M580.1 313.1h0M608 277h0M564.5 334.2h0M602.7 313.3h0M587.9 360.3h0M605.7 326.6h0M597.6 344.3h0M580 331.3h0M602.9 313.3h0M584.8 279.2h0M572.1 323.6h0M574.5 315.8h0M575.1 329.3h0M602.7 328.8h0M577.2 328.9h0M589.9 352.5h0M600.6 329.2h0M603 331.7h0M585 344.8h0M595.4 284.6h0M597.8 349.7h0M602.9 287h0M600.5 292.1h0M636.3 308.1h0M638.6 316h0M600.3 345h0M582.5 298.1h0M585.2 350h0M603 331.6h0M595.3 279.1h0M605.6 354.9h0M587.6 336.7h0M605.2 294.9h0M602.9 328.9h0M577.6 313.5h0M618.5 284.9h0M592.7 284.3h0M592.8 271.2h0M600.3 310.9h0M582.2 316.3h0M572.2 292.5h0M618.5 284.6h0M603.2 339.7h0M600.4 336.6h0M605.4 300.2h0M603.2 331.4h0M584.8 297.6h0M585 305.3h0M572.5 302.7h0M618.1 357.6h0M633.8 298.3h0M567.2 281.9h0M585 315.6h0M602.9 308.2h0M580.2 292.6h0M592.8 276.7h0M588 352.4h0M638.9 297.7h0M574.8 318.5h0M611 268.8h0M605.8 316.2h0M571.9 300.2h0M562 298h0M574.7 300.1h0M577.8 326.4h0M600.6 300.4h0M602.8 352.6h0M600.7 302.7h0M605.4 276.8h0M600.8 352.5h0M580.1 320.4h0M600.7 318.1h0M603.2 284.5h0M582.6 334.3h0M605.5 334h0M582.6 284.5h0M605.6 297.4h0M605.5 308.4h0M603.2 331.7h0M628.5 292.4h0M602.9 277h0M569.6 305.4h0M603.1 323.5h0M580 329.1h0M564.7 295.4h0M613 284.8h0M572 289.9h0M600.2 324h0M584.6 326.5h0M572.1 318.4h0M600.4 307.9h0M585.1 292.6h0M602.9 329.2h0M600.4 297.9h0M618.2 290.3h0M600.8 297.6h0M603 344.2h0M602.9 279.4h0M585.1 308.2h0M618.6 274.1h0M590.3 284.7h0M600.5 339.5h0M600.4 331.6h0M600.4 313.5h0M600.5 321h0M605.7 326.2h0M600.7 305.1h0M618.4 359.9h0M603 313.3h0M605.8 334.1h0M580 341.7h0M600.6 310.8h0M593 284.3h0M600.4 357.7h0M600.6 326.2h0M582.8 276.7h0M605.6 297.2h0M602.7 328.8h0M587.7 310.6h0M572.3 302.5h0M602.9 362.8h0M623.6 279.6h0M618.6 284.6h0M590 279.1h0M631.2 287.1h0M618.5 352.2h0M585.3 281.4h0M582.5 313.1h0M574.6 349.3h0M577.1 315.7h0M603 326.6h0M602.9 300.5h0M626.2 279.7h0M600.5 282h0M602.9 282h0M585 323.7h0M605.5 297.5h0M564.5 282.3h0M618.3 290.1h0M603.1 349.7h0M577.5 284.5h0M608.1 281.9h0M587.1 344.4h0M600.4 305.4h0M572.2 274.7h0M631.1 323.6h0M598 347.5h0M585.2 311h0M602.8 329.6h0M580.3 297.6h0M564.5 326.3h0M597.8 266.5h0M600.5 295.2h0M602.6 313.1h0M605.6 333.8h0M577.4 305.6h0M608 365.2h0M636.4 318.3h0M585.2 290h0M602.9 347.1h0M582.3 339.4h0M569.3 284.6h0M600.1 355.4h0M603 311h0M603 331.4h0M618.2 276.9h0M602.8 313.7h0M579.7 336.9h0M577.3 352.9h0M602.8 297.4h0M605.3 300.1h0M585.2 331.6h0M600.4 318.3h0M567 329.2h0M567.4 300.2h0M600.5 336.9h0M590 370.9h0M605.6 339h0M585 300.3h0M574.8 342.1h0M580 292.4h0M577.2 282.1h0M572.2 320.9h0M574.9 339.7h0M582.4 287.2h0M636.2 292.2h0M569.9 329h0M633.6 318.3h0M605.1 360h0M603 279.3h0M636 326.4h0M603 326.2h0M602.6 316.1h0M580 302.6h0M598.1 350h0M605.2 295.2h0M602.9 323.4h0M582.6 302.6h0M590 362.7h0M613.4 357.6h0M641.4 305.4h0M574.9 320.8h0M605.5 360.2h0M621 284.6h0M580.3 326.5h0M580 336.7h0M569.7 332h0M613.4 279.6h0M585.2 305.8h0M567.2 326.4h0M582 310.4h0M631.2 318.7h0M577.4 334.1h0M600 276.8h0M605.5 311.2h0M564.7 308h0M602.9 274.2h0M575 279.6h0M636.4 318.1h0M593.2 344.5h0M610.7 282.2h0M582.3 360.2h0M577.4 295.2h0M579.9 321.2h0M613.3 274.1h0M590.2 349.8h0M572.3 289.9h0M600.3 313.5h0M579.8 282.2h0M585.1 277h0M585.2 292.1h0M569.9 334.2h0M577.3 336.6h0M611.1 281.9h0M602.8 310.5h0M592.6 347.1h0M605.5 310.9h0M579.7 313.2h0M579.7 352.3h0M605.4 274.4h0M618.4 355.2h0M600.3 357.4h0M569.9 321h0M605.8 318.6h0M605.7 292.5h0M574.7 292.7h0M572.1 318.6h0M577.3 310.7h0M585.1 273.9h0M605.3 292.5h0M610.7 287.5h0M603 339.5h0M567.5 318.1h0M600.2 344.3h0M603.1 316.4h0M600.4 289.6h0M603 323.8h0M602.9 294.7h0M577.6 363.1h0M603.1 372.9h0M579.8 302.9h0M569.5 344.9h0M569.6 310.7h0M603.1 326.5h0M585.1 334.6h0M600 289.9h0M603.2 305.6h0M605.3 310.6h0M610.7 354.5h0M572.1 289.2h0M574.6 329h0M582.5 347.3h0M621.1 347.3h0M592.8 276.6h0M598.1 344.4h0M582.5 276.7h0M585.1 324.1h0M600.4 277.1h0M574.4 316.1h0M564.7 295.4h0M584.9 352.6h0M600.2 328.9h0M587.6 357.5h0M603 292.4h0M633.8 321.3h0M569.7 321.3h0M595.5 284.6h0M580.1 326.1h0M603.1 342h0M603 321.4h0M585.1 290.1h0M608.2 362.9h0M600.7 282.2h0M605.4 323.8h0M577.3 355.1h0M625.9 344.7h0M603.3 305.8h0M585 341.9h0M592.7 344.4h0M615.8 274.4h0M580 303.4h0M566.9 347.2h0M585.3 331.7h0M636.2 303.2h0M593.1 347.4h0M638.9 297.9h0M628.7 297.5h0M580.1 318.5h0M600.4 318.7h0M579.8 342.1h0M569.7 334.3h0M579.9 289.4h0M579.8 342.1h0M603.1 373h0M582.4 337h0M572.3 300.2h0M587.7 329h0M585.2 318.8h0M572.4 313.4h0M603.1 300.4h0M605.5 344.8h0M603.3 336.7h0M582.4 287.3h0M631.1 318.2h0M602.9 328.4h0M567 313.5h0M600.5 315.7h0M602.7 336.4h0M626.3 287.1h0M574.6 326.1h0M595.6 279.7h0M579.9 315.7h0M597.9 282h0M603.2 282h0M603.1 310.7h0M582.5 328.7h0M628.7 326.4h0M600.5 321h0M603.1 313.2h0M582.5 298h0M579.9 346.9h0M603.2 326.2h0M582.2 331.4h0M587.5 316h0M605.3 274.3h0M605.5 279.5h0M603.1 318.5h0M605.2 360.2h0M569.6 331.6h0M572 331.7h0M567.2 315.5h0M566.8 305.9h0M603 305.5h0M569.3 339.2h0M618.3 266.4h0M584.9 307.8h0M605.7 323.5h0M577.6 347.3h0M605.6 326.4h0M626.1 336.5h0M605.8 323.8h0M585.3 331.7h0M631.1 347.1h0M569.2 336.5h0M638.9 290.2h0M572.2 305.6h0M587.7 318.5h0M605.7 313h0M605.4 300.4h0M602.8 302.6h0M602.9 360.4h0M579.8 305.7h0M605.8 305.4h0M584.9 277.1h0M584.9 344.5h0M610.6 265.6h0M603.1 324.2h0M590.3 355.2h0M600.2 300.2h0M569.6 321.2h0M585 334h0M592.9 268.7h0M585 292.8h0M577.4 313.7h0M603.1 289.9h0M600.7 344h0M580.2 313.2h0M600.4 342.1h0M605.5 347.3h0M605.8 321.3h0M610.8 360.1h0M595.2 355.4h0M570 339.5h0M582.4 313.6h0M577.3 341.9h0M579.9 300.5h0M582.4 320.8h0M587.4 357.7h0M610.6 284.8h0M602.9 336.9h0M600.5 326.6h0M590.4 370.8h0M580.1 290h0M636.1 318.7h0M600.3 303.1h0M605.7 321.4h0M603.2 310.7h0M605.4 300.5h0M636.5 331.5h0M582.5 292.5h0M598.1 349.7h0M585.1 300.2h0M602.8 375.9h0M587.9 355h0M605.6 334.1h0M600.4 302.9h0M587.7 306h0M575 315.8h0M600.7 297.9h0M584.9 347.1h0M587.6 284.7h0M582.7 334.3h0M567.4 298.1h0M603 271.7h0M615.9 355.2h0M579.8 326.3h0M602.9 318.5h0M590.1 365.6h0M595.4 354.7h0M610.7 354.9h0M605.4 329.1h0M602.8 324h0M600.4 331.8h0M585.3 349.6h0M579.8 300.1h0M580 274.3h0M600.5 321.4h0M603.5 331.6h0M600.3 302.6h0M600.4 337h0M607.9 273.7h0M572.2 326.3h0M574.4 321.2h0M639 347.1h0M605.7 354.7h0M605.4 321.2h0M580.1 313.2h0M605.5 328.9h0M587.5 344.9h0M610.8 362.8h0M602.7 316h0M579.9 323.6h0M597.5 277.1h0M605.7 323.4h0M603 279.3h0M618.3 373.2h0M585.1 297.8h0M574.8 297.7h0M567.2 302.6h0M605.5 321.1h0M572.4 297.9h0M628.8 365.3h0M585.2 292.4h0M574.9 357.6h0M605.6 368.1h0M603.2 320.9h0M602.7 316h0M582.2 347.2h0M605.5 297.5h0M605.6 339.3h0M628.6 302.9h0M605.6 324h0M574.7 303.2h0M577.5 333.8h0M605.5 295.3h0M590.1 284.9h0M603 310.5h0M603.2 336.5h0M585.3 297.3h0M579.9 292.6h0M603.1 272.2h0M574.8 300.3h0M605.8 323.6h0M582.6 331.2h0M580 336.9h0M600.3 326.7h0M587.5 318.3h0M587.6 333.9h0M577.6 321.1h0M603 305.6h0M582.8 279.4h0M598.1 284.4h0M598 349.6h0M633.4 336.8h0M600.2 331.6h0M577.1 341.7h0M574.8 315.7h0M585.2 331.7h0M574.6 315.7h0M572.5 292.1h0M625.7 339.2h0M600.2 332h0M574.8 310.8h0M605.6 323.8h0M600.5 274.3h0M600.5 368h0M577.1 316h0M618.1 352.1h0M577.5 318.4h0M603.1 282.1h0M602.9 345h0M605.5 303.2h0M579.9 289.8h0M638.8 313.5h0M577.1 321.1h0M584.8 313.4h0M603.1 297.5h0M597.8 344.2h0M590.3 354.5h0M577.5 334.1h0M582.4 333.8h0M564.8 329h0M580 318.3h0M600.5 334.3h0M605.5 292h0M605.6 305.7h0M603.2 292.4h0M628.7 329.5h0M605.8 287.1h0M605.5 349.8h0M602.9 282.3h0M585.2 333.9h0M605.7 308.2h0M580.1 307.9h0M585 313.3h0M567.2 328.9h0M584.8 274.1h0M569.4 310.9h0M574.8 313.1h0M577.2 331.4h0M600.8 310.8h0M605.7 342h0M577.5 305.1h0M602.7 334.1h0M605.9 315.5h0M600.3 308.2h0M600.3 328.8h0M585 347.2h0M602.9 300.4h0M574.4 292.5h0M603.2 318.8h0M597.7 276.6h0M577.5 291.9h0M608 365.3h0M582.5 292.3h0M585.1 355.1h0M585.4 357.3h0M600.5 300.2h0M584.9 295.3h0M603.1 320.8h0M598.2 347.4h0M564.8 313.4h0M602.7 302.7h0M602.9 331.5h0M605.5 321.2h0M567.1 321.1h0M608 367.5h0M587.4 277.2h0M600.4 297.8h0M607.9 282h0M590.1 350.2h0M567.2 318.5h0M597.8 269.2h0"/>
<path fill="none" stroke="#3db54a" stroke-width="3.0" stroke-linecap="round" d="M586.7 292h0M582 300.2h0M588.2 320h0M584.3 314.5h0M582.7 321.9h0M587.6 304.8h0M587 322.7h0M581.4 319.3h0M583.5 319.2h0M583.2 296.7h0M582.7 332.1h0M583.7 326.3h0M585.2 315.5h0M579.3 318.1h0M581.9 312.4h0M583.1 311.8h0M585.9 308.8h0M583.4 332.3h0M580 318.5h0M581.6 299h0M579.7 341.6h0M587.4 304.8h0M585 331.9h0M579.7 336.9h0M582.7 297.5h0M585.6 341.6h0M579.5 298.9h0M580.4 301.9h0M584.1 305.5h0M584.3 329.4h0M588.3 329.4h0M584.6 319.6h0M587.3 303.6h0M585.6 290.6h0M585.9 334.7h0M582 306.1h0M586.1 329.6h0M582.3 318.9h0M583.5 314.1h0M586.2 303.3h0M580.9 310.2h0M585 326.5h0M584.1 304.7h0M585.8 301.6h0M580 339.5h0M585.9 339.8h0M588.3 335.4h0M581 328.1h0M582.3 316h0M582.9 336.7h0M579.4 321.3h0M585.4 298.2h0M587.5 320.7h0M585.5 317h0M584.9 307.9h0M579.7 296.4h0M581.5 329.7h0M583.1 307.5h0M582.4 294.6h0M583.4 326.9h0M583.7 304h0M579.2 303.1h0M587.1 294.5h0M580.2 317.9h0M584.9 325.7h0M581.8 307.7h0M580.5 300.8h0M580.3 306.6h0M579.1 308.6h0M584 311h0"/>
<path fill="none" stroke="#838383" stroke-width="3.0" stroke-linecap="round" d="M605.8 294.2h0M602.7 336.8h0M602.4 308.5h0M600.1 369.1h0M605.1 356.9h0M604.2 287.1h0M603.2 316.6h0M604.1 327.8h0M604.6 343.6h0M604.3 344.7h0M603.3 302.4h0M605.5 340.2h0M604.8 300h0M604 304.5h0M602.9 320.6h0M601.7 301.9h0M600.3 330.7h0M601.8 318.3h0M603.3 324.2h0M603.8 307.3h0M600.9 319.5h0M604.7 331.5h0M600.1 289.1h0M602.1 316.6h0M600.8 313.5h0M602 337.9h0M602.1 311.9h0M604.5 336.2h0M604.5 315.9h0M602.6 312.3h0M602.5 319h0M602.4 260.7h0M603.8 336.9h0M604.6 321.7h0M603.9 346.3h0M602.9 282.1h0M604.9 353.6h0M605.2 265.4h0M602.7 318.3h0M605.4 344.9h0M604.3 302.2h0M603 330.9h0M603.1 342.2h0M605.2 308.5h0M605.3 288.8h0M604.7 347.2h0M601.6 325.2h0M602.9 345.5h0M602.6 303.4h0M603.7 337.9h0M601 360h0M604.6 313.1h0M603.2 357.6h0M605.9 290.9h0M601.5 332h0M600.7 328.2h0M602.4 324.5h0M603.2 305h0M602.5 350.4h0M604.5 318.4h0M603.3 313.2h0M604.6 349.1h0M602.8 320h0M605 318.2h0M600.5 315.8h0M604.4 348.4h0M601.8 319.6h0M602.1 318.4h0M603.9 308.5h0M603.9 322.6h0M604.8 320.3h0M603.3 293.1h0M605.7 272.6h0M600.6 317.9h0M603.6 316.3h0M600.8 364.3h0M605.5 340.1h0M602.2 336.3h0M600.2 289.1h0M605.4 297.3h0M605.8 350.6h0M604 299.5h0M601.7 294.3h0M603.1 302.8h0M599.6 339.3h0M604.6 315.9h0M606 296h0M601.1 328.1h0M605 324.1h0M599.7 323.9h0M602 273.1h0M599.5 317.2h0M604.6 349.6h0M600.2 289.4h0M603.7 279.6h0M603.1 315.9h0M599.9 332.6h0M603.3 329.9h0M602.4 306.3h0M599.7 338.7h0M604.9 312.6h0M604 306h0M605.2 293.8h0M599.5 274.2h0M604.5 378.2h0M602.9 306.2h0M602.3 281h0M603.6 300.9h0M602.3 309.3h0M603.3 283.3h0M600.4 321.4h0M602.8 308h0M600.1 338.5h0M600.7 326.3h0M605 309.2h0M600.5 308.7h0M600.5 337.6h0M602.3 321.1h0M604.9 344.3h0M605 304.9h0M601.2 300.5h0M603.9 307.9h0M600.3 299h0M600.6 307.5h0M604.4 290.5h0M603.6 324.9h0M604 307.9h0M605.5 344h0M601.4 340.4h0M603.5 319.1h0M602.2 293.7h0M602.8 303.4h0M602.5 349.1h0M602.7 314.5h0M601.4 365.8h0M601 310.2h0M600 308.1h0M605.6 274.5h0M602.9 340.4h0M600.2 331.7h0M602.7 337.4h0M600.2 326.5h0M603.3 295.5h0M604.3 316.6h0M604.6 318.9h0M600.6 311.6h0M604.1 340.4h0M601.7 294.1h0M603.5 356.3h0M603.2 320.8h0M602.5 315.2h0M603.2 323.4h0M606.1 305.3h0M601.3 322.3h0M604.5 312.5h0M603.4 348.2h0M601.4 333h0M600.3 302.7h0M601.8 309.2h0M606.1 309.3h0M602.8 335.7h0M601.6 328h0M602.8 282.1h0M605.3 300h0M603.2 347.7h0M603.1 321h0M604.8 335h0M604.7 322.1h0M604.2 309.7h0M603 308.1h0M600.9 301.1h0M603.8 355.3h0M603.8 355.2h0M601.9 344.1h0M604.4 332.9h0M600.7 357.8h0M601.5 332.7h0M603.2 332.7h0M604.5 308.3h0M603.4 286.9h0M603.7 335.4h0M600.6 329h0M602.6 334.6h0M600.3 335.3h0M602.6 313.8h0M603.9 309h0M601.1 350.9h0M601.1 308.5h0M603.2 297.2h0M602.3 283h0M605.1 269.2h0M602.1 350.8h0M603.2 337.9h0M605.8 345.7h0M605.9 342.7h0M604.4 312.6h0M603.9 335.1h0M605.5 326.8h0M603 309.9h0M603.9 318.5h0M605.8 305.7h0M604 282.3h0M604 310.5h0M601 278.9h0M603.5 277.5h0M605 286h0M602.2 335.2h0M604.5 290h0M601.7 297.4h0M601.3 285.5h0M600.9 339.9h0M604.6 336h0M602.8 333.1h0M603.1 285.7h0M603.7 343.4h0M603.2 351.7h0M602 346.9h0M603.8 311.7h0M603.8 321.9h0M606.1 322h0M602.5 301.4h0M604.3 339.9h0M602.3 330.1h0M603.6 301.8h0M600.5 329.3h0M603.9 311h0M599.9 323.6h0M602.8 324.8h0M601.1 300.5h0M602 318.1h0M604.8 309.6h0M601.2 352h0M599.7 288.1h0M601.5 294.3h0M603.3 314h0M601.7 281.4h0M600.8 293.9h0M603.3 319.6h0M602.2 295.3h0M604.4 297.5h0M602.8 351.5h0M604 317.7h0M602 349.4h0M605 308.6h0M602.9 323.4h0M601.8 359.8h0M604.3 322.6h0M603 323.5h0M601 281.6h0M604.3 299.5h0M601.6 327.4h0M600.5 261.9h0M599.6 347.1h0M603.3 307.1h0M603.3 323.7h0M602.6 328h0M603.4 307.8h0M600.8 323.5h0M602.9 307.6h0M603.5 315.9h0M600.8 321.7h0M602.8 372.8h0M601 325.6h0M604.5 349.3h0M603.5 274h0M602.7 329.4h0M602 363.1h0M603.4 361.1h0M602.2 303.3h0M604.6 303.5h0M600.9 276.1h0M601.1 352.3h0M602.9 294.4h0M603.7 302.7h0M601.1 309h0M604.2 313.5h0M604.1 328.7h0M603.6 333.2h0M600.1 289.4h0M604.7 347.2h0M602.1 358.1h0M604.2 378h0M600.2 298h0M605.7 351.2h0M604 309.4h0M603.3 322.3h0M601 301.4h0M604 291.8h0M602.2 317.5h0M601.8 357.1h0M602.6 324.3h0M605.4 337.8h0M602 310.1h0M604.5 352.6h0M602.7 318.1h0M602 355.7h0M602.7 294.5h0M602.6 312.9h0M602.8 332.8h0M601.6 309.9h0M603.4 337.1h0M604.4 286.2h0M602.9 313.5h0M600 335.6h0M604 318.6h0M605.9 323.7h0M603.7 335.9h0M600.1 310.8h0M604.7 330.9h0M602.3 324.2h0M603.7 281.7h0M603.3 311h0M601.6 347.8h0M601.3 353.2h0M602.3 270.5h0M599.6 300.9h0M601.7 276h0M602 317.2h0M603.3 348.5h0M605.1 298.1h0M599.5 320.9h0M601.2 305.3h0M603.8 358.8h0M602.2 319.8h0M601.2 330.8h0M600.2 357.6h0M601.4 274.5h0M605 305h0M604 350.2h0M604.3 284.9h0M602.6 333h0M605.5 327.8h0M605 288.2h0M605 289.8h0M601.1 311.9h0M605.2 267h0M604.9 319.4h0M601.9 336.8h0M603.3 314h0M600.3 329.1h0M602.4 303h0M603.4 300.7h0M600.3 310.4h0M602.4 331.7h0M604.9 342.3h0M600.2 357.1h0M604 313.2h0M603.7 327.6h0M604.7 309.8h0M603.4 299.6h0M600.5 336.2h0M603 325.7h0M604.3 299.2h0M605.7 280.1h0M605 286.9h0M602.1 346.7h0M603.1 367.5h0M600.8 357.8h0M603.9 308.9h0M601.6 304.8h0M603.6 315.6h0M602.4 295.8h0M606 320.4h0M602.7 293.2h0M601.8 324.3h0M605 313.8h0M605.1 277.1h0M604.7 310.1h0M600.4 327.7h0M600.1 319h0M601.4 302.4h0M604.2 294.2h0M604.8 295h0M606 334.7h0M601.4 308.3h0M604.4 321.3h0M602.7 334.4h0M603.8 301.9h0M603.6 291.1h0M601.7 305.5h0M604.5 305.8h0M605.4 324h0M602 319.1h0M602.9 278.6h0M601.7 292.8h0M606 302.4h0M604.5 317.4h0M602.8 274.4h0M604.7 293.8h0M603.4 320.7h0M601.1 300.2h0M602.5 332.8h0M601.5 308.9h0M604 306.2h0M603.2 324.2h0M606 325.5h0M602.5 305.3h0M605.8 329h0M604.3 310.3h0M605.4 332.7h0M601.8 350.3h0M600.6 310.9h0M603.4 304.4h0M604.4 351.7h0M603.4 339.4h0M603.9 343.4h0M605.2 316.2h0M602.4 282.1h0M601.1 349h0M602.6 342.3h0M599.7 316.7h0M604.8 319h0M599.6 313.3h0M603 295h0M604.4 350.7h0M606.1 332.4h0M605.1 360.1h0M602.1 335.5h0M600.5 281h0M603.7 363.3h0M602.7 326.4h0M599.8 292.8h0M602.3 281.9h0M603.4 322.4h0M601.1 327.1h0M602.2 312.8h0M599.8 266.3h0M603.5 300.9h0M603.4 302.3h0M602.4 299.7h0M602.5 300.3h0M601.7 309.2h0M602.1 323.8h0M603.7 307.5h0M602.4 326.2h0M604.6 273.1h0M602.8 325.2h0M605.4 330.6h0M603.6 333.2h0M600 319.5h0M604.2 305.9h0M605.1 301.4h0M601.7 360.9h0M605 297.5h0M601.6 299h0M603.1 306.6h0M603 324.2h0M603 311.6h0M603.4 351.2h0M604.8 357.3h0M602.2 283.2h0M599.9 324.8h0M600.5 350.4h0M603.1 338.6h0M603.9 308.1h0M602.1 326.4h0M605.4 313.3h0M601.5 318.7h0M601.4 362.9h0M605 320.5h0M602.8 310.8h0M603.6 304.4h0M605.6 336.4h0M604.8 302.8h0M601.2 349.1h0M605.4 314.7h0M603.3 304.2h0M605.3 332.5h0M604.3 331.1h0M605.8 285.3h0M604.3 287.2h0M605.5 288.4h0M601.2 260h0M603.9 320.3h0M603.1 342.1h0M604.8 321h0M606.2 306.4h0M605.4 313.2h0M602 283.1h0M599.9 295.5h0M601 342.5h0M602 337.5h0M601.7 339h0M605.6 275.5h0M603.2 351h0M603.7 321h0M600.8 288.1h0M602.7 312.9h0M606.1 323.4h0M602.3 357.5h0M606.1 327.7h0M604.8 300.5h0M604.2 335h0M603.3 351.6h0M605 283.8h0M604.5 316.5h0M605.5 272h0M605.3 327.1h0M601.8 331.7h0M604 316.1h0M603.1 356.1h0M602 316.7h0M603.6 300.3h0M605.5 276.3h0M601.3 277.3h0M605.9 303.6h0M599.6 286.2h0M601.2 303.1h0M603.9 314.2h0M601.4 316h0M605.8 324.1h0M605.9 303.3h0M601.7 332h0M605 316.4h0M604.1 374h0M599.7 281h0M600.1 302.3h0M600.3 301.7h0M600.7 370.2h0M605 317.6h0M602 293.5h0M603.5 350.7h0M604.4 299.7h0M601.4 285.8h0M600.6 314.9h0M604.8 353h0M601.1 334.7h0M602.6 353.2h0M600.6 291.6h0M604.9 308.7h0M601.7 328h0M601.1 323.9h0M603.1 271.5h0M602.8 328.9h0M601.5 302.2h0M601.7 337.7h0M600.9 312.8h0M602.1 325.2h0M601.4 345.6h0M601 351.4h0M604.6 316.8h0M600.9 286.3h0M601.7 338.7h0M602.4 308.8h0M604.5 314.4h0M600.7 277.7h0M602 342h0M600.9 330h0M603 315.8h0M602.1 368.4h0M603.6 324.3h0M604.4 330.8h0M604 330h0M602.7 322.3h0M602.9 306.8h0M599.7 330.6h0M600.5 336.8h0M604.4 366h0M603.2 314.6h0M602.2 290.4h0M602.3 335.3h0M604.8 314.2h0M602.3 321.4h0M602.9 324.1h0M603.8 309.7h0M599.7 357.9h0M603.8 318.2h0M602.4 308.7h0M601.5 348.4h0M603.1 344h0M605 345.3h0M604.5 310h0M603.2 269.9h0M601.6 294.8h0M604.5 306.8h0M604.4 310.1h0M599.5 349.7h0M603.7 357.8h0M603.3 319.1h0M603.6 309.4h0M603.4 328.9h0M604.7 328.4h0M605.3 302h0M603.4 318.1h0M603.2 320.1h0M604.4 357.9h0M602.8 275.6h0M605.5 341.5h0M604.5 358.2h0M599.5 313.6h0M602.4 354.5h0M603.3 339.2h0M601.3 344h0M603.3 294.3h0M602.1 283.4h0M603.8 308.6h0M605.4 289.6h0M600.5 301h0M603.7 354.1h0M603.8 356.7h0M602.3 331.3h0M602.4 339.1h0M600.7 292.6h0M604 333.2h0M604 322.1h0M602.1 314h0M601.2 331.5h0M600.5 305.2h0M602.9 323.7h0M601.6 348.4h0M602.5 299.9h0M605.3 301.5h0M603.4 326.8h0M604.2 280.9h0M605.4 361.6h0M604.9 326.1h0M603.5 339.5h0M602.5 347.6h0M603.4 348.9h0M599.7 299.5h0M602.3 297.7h0M605.4 317.4h0M604.9 300.6h0M600.8 286.2h0M604.4 304.7h0M605.9 301.6h0M602.6 359h0M602.3 328.9h0M600 347.9h0M605.8 328.5h0M601 314.6h0M602.3 300.4h0M602.5 294.1h0M602.9 319h0M603.4 324.2h0M600.5 317.3h0M603.2 324.9h0M603.8 316.7h0M601.5 291.4h0M605.9 323.3h0M604.5 333.8h0M603.7 318.1h0M603.3 342.8h0M605.9 325.8h0M603.6 286.3h0M602.2 357h0M603.1 273.4h0M604 300.9h0M605.6 307.7h0M604 379.2h0M605.7 312.7h0M603 316.6h0M602.5 301.1h0M601.8 278.4h0M604.9 376.6h0M603.8 292.4h0M602.3 334.7h0M601.3 328.6h0M606 310.1h0M599.5 358.1h0M602.7 304.1h0M605.6 326.9h0M602.4 308.8h0M603.9 275.4h0M602.4 328.6h0M601.1 327.9h0M602.6 277.7h0M601.9 327.5h0M601.3 324.8h0M601.8 306.9h0M604.2 294h0M601.6 350.8h0M602.7 291.8h0M605.4 319.2h0M604.7 324.9h0M600.4 341.5h0M601.7 305.4h0M601.1 306h0M602.9 306.7h0M599.6 342.1h0M603.2 339h0M600.5 313.4h0M604.3 292.7h0M603 315.4h0M601.5 315.3h0M604.2 325h0M604.9 300.4h0M604.3 285.8h0M600.8 296.8h0M604.1 305.5h0M605.5 319.1h0M605.6 333.4h0M602.5 313.2h0M604.9 327.6h0M605.4 326.7h0M599.9 295.1h0M600.1 290.6h0M604.2 323.4h0M601 289.9h0M602.5 316.8h0M601.7 304.5h0M605.1 335h0M605.2 316.6h0M603.8 308h0M604.9 341.3h0M606.1 310.4h0M603.1 314.2h0M601.6 297.2h0M603.2 262.5h0M604.2 340.3h0M602.5 336h0M602.5 353h0M603.7 368.6h0M602.2 277.1h0M605.1 302.2h0M602.1 279.7h0M599.7 316h0M602.9 341.7h0M601.5 294.2h0M602.9 332.5h0M604 348.3h0M605.1 341.2h0M604.7 307.3h0M604.4 302.3h0M602.9 337.3h0M603.6 313.5h0M601.4 306.3h0M604.5 308.1h0M604.4 310.6h0M601.7 344.1h0M603 324.8h0M603.1 289.7h0M601.1 304.4h0M604.5 310.5h0M601.1 326.7h0M600.7 301.6h0M601 315.4h0M604.5 287.5h0M603.2 357.2h0M603.1 365.5h0M601.4 301.1h0M603.9 321h0M604.8 306.6h0M602.8 341.1h0M603.1 341.1h0M601.4 304.1h0M605.4 315.1h0M601.6 290h0M604.4 330.2h0M603 261.5h0M605.6 319h0M602 316.4h0M603.9 345.5h0M603.4 354.5h0M604.2 336.6h0M603.9 335.2h0M604.9 344.8h0M603.9 328.7h0M601.3 286h0M604.9 301.5h0M600.7 286.7h0M602.5 341.7h0M600.6 312.3h0M604.1 313.6h0M603.6 275.7h0M602.2 295.2h0M605.7 323h0M604 313h0M604.7 368.9h0M602.7 320.8h0M603 321.8h0M599.5 318.4h0M602.3 290.7h0M601.6 336h0M602.7 343.7h0M601.4 311.5h0M604.5 284.9h0M604.5 322.5h0M601.9 314.3h0M600.4 328.9h0M606 301.8h0M603.3 312.2h0M605.5 327.7h0M604.8 305.2h0M603.5 342.2h0M602 344.9h0M603 293.6h0M601.3 349.4h0M600.8 316.8h0M600.2 280.5h0M603.9 362.8h0M600.8 309.2h0M605.9 309.4h0M604.3 346.5h0M600.7 326.3h0M602.5 297.3h0M604.2 360.6h0M602.9 350.7h0M605 331.7h0M603.9 340.3h0M603.3 359.8h0M602.3 319.6h0M605.5 317.3h0M602.5 354.4h0M605 366.5h0M605 291.2h0M601.5 298.2h0M600.9 317.7h0M600.5 329.4h0M601.8 305.9h0M606 331.8h0M603.2 305.4h0M600.5 263.5h0M603.7 356.9h0M600.5 287.8h0M603.3 316h0M602.1 292.5h0M605 307.1h0M603.3 286.1h0M605.4 319.6h0M602.1 307.6h0M605.1 318.3h0M602.9 311.7h0M604.9 334.3h0M605.5 339.8h0M603.8 325.7h0M601.3 309.8h0M603.9 314.9h0M604.5 327.1h0M600.5 308.5h0M604.8 291.3h0M600.9 303h0M602.5 264.6h0M601.2 345.5h0M603.8 300.6h0M601.3 346.4h0M603 321.4h0M606.1 296.2h0M599.6 354.7h0M602.2 338.9h0M601.7 312.5h0M604.1 313.7h0M603.5 322.7h0M604.6 344.2h0M603.9 323.3h0M601.1 322.2h0M605.7 302.5h0M603.2 335.9h0M603.6 310h0M605.8 353.4h0M602.6 309h0M603.1 278.1h0M605.4 282.1h0M599.9 304.1h0M605 323.1h0M604.2 314.2h0M605.3 318.6h0M604.3 291.4h0M603.4 332h0M602.9 309.3h0M602.3 290.8h0M601.7 340.7h0M599.8 329.5h0M603.5 329.7h0M605.8 324.4h0M602.8 337.8h0M603.7 304h0M602.6 316.6h0M606.1 348.5h0M601.2 294.4h0M600.6 339.8h0M599.7 322.4h0M604.5 334.7h0M605.8 302.7h0M602.6 316.5h0M605 312.9h0M603 297h0M602.6 357.4h0M600.5 307.6h0M599.6 303.1h0M604.7 326.1h0M603.8 304.8h0M599.7 322.7h0M600.3 298.2h0M602.4 338.4h0M605.4 340.1h0M604.6 333.3h0M603.8 344.9h0M602.9 351.6h0M601.7 298.8h0M602.7 365h0M600.8 347.3h0M599.7 329.3h0M604.1 290.7h0M599.7 313.5h0M600.8 348.1h0M604 329.9h0M604.1 348.9h0M602.9 320h0M603.5 350.3h0M604.8 375.7h0M600.9 286.8h0M604.1 311.5h0M605.7 315.8h0M604.7 271.3h0M604.1 298.1h0M602.2 350h0M602.5 265.4h0M603.2 276.9h0M601.2 280.7h0M606 307.2h0M602 313.2h0M601.4 348.3h0M605.6 318.8h0M604 345.3h0M600.3 336.2h0M606 321.5h0M602.8 307.6h0M605.4 293.5h0M601.3 331.3h0M603.4 353.7h0M603.8 326.2h0M605.1 346.5h0M602.7 321h0M605.1 278h0M600.1 323h0M601.3 321.2h0M602.6 321.4h0M604.6 339.6h0M601.1 344.2h0M605.9 374.6h0M605.9 330.9h0M603.1 330.8h0M602.1 296.9h0M602.7 324.3h0M599.5 315.6h0M601.9 312.3h0M603.7 286.4h0M602.3 290.8h0M604.2 337.1h0M603.3 316.3h0M599.8 304.9h0M603.3 357.9h0M599.7 338.2h0M600.5 334.8h0M602.9 352.5h0M601.2 300.2h0M604.2 316.4h0M601.9 325.8h0M601.7 334.5h0M600.1 326.3h0M603.1 312.6h0M603 294.4h0M605.8 324.6h0M603.8 272.1h0M603.6 355.1h0M602.9 319.9h0M603.9 331.2h0M604.6 291.6h0M603.1 343.7h0M603.8 323.8h0M603.7 323.5h0M601.4 327h0M601.5 296.2h0M600.3 277.6h0M604.4 328.9h0M603.9 295.3h0M602 337.5h0M604.8 319.2h0M603.3 285.4h0M604 355.4h0M604.5 301h0M600.4 369.7h0M603.9 360.7h0M602.9 291.4h0M603.5 317h0M604.9 281.8h0M603.1 303.5h0M602.1 274.5h0M602.8 336.9h0M605.1 318.1h0M602.1 305.9h0M604.5 338.2h0M601.1 314h0M603.2 338.6h0M602.4 316.2h0M601.7 374.6h0M604 292.5h0M600.1 350.9h0M605.4 321.1h0M600.8 276.4h0M605 333h0M604.9 320.3h0M600.2 320.2h0M601.8 359h0M602.7 321.3h0M601.9 332.6h0M605.1 323.8h0M605.9 301.7h0M601.3 303h0M601.4 331.6h0M603.1 349.8h0M604 297.6h0M603.3 319.4h0M600.2 303.1h0M601.3 308.9h0M602.1 335.7h0M602.6 358.3h0M602 295.1h0M602 325.2h0M600.9 313.8h0M600.4 305.1h0M604 328.5h0M604.7 344.3h0M603.3 372.8h0M601.8 327.7h0M601.9 321h0M603 344.9h0M605.5 346h0M603.3 333.6h0M602.2 292.1h0M602.4 300.8h0M601.3 309.3h0M602.1 333.3h0M603.2 289.1h0M604.4 325h0M604.2 347.3h0M600.5 296.1h0M604.7 275.4h0M605.4 339.6h0M606 305.3h0M603 284.3h0M604.3 303.6h0M602.3 353h0M602 367.8h0M600.1 289.1h0M600.6 301.4h0M602.2 337.3h0M602.4 310.9h0M601.1 320.7h0M605.1 310.5h0M603 329.8h0M601.2 323.5h0M604.6 349.5h0M603.5 272.2h0M605.5 281.1h0M601 336.8h0M601.7 316.7h0M602.4 281.7h0M601.6 333.5h0M602.5 335.1h0M601.5 277.7h0M601.3 357.4h0M601.5 299h0M601.4 347.7h0M603.3 327.5h0M604.1 304.3h0M603.9 339.2h0M603 331.7h0M601.7 295.5h0M600.9 301h0M602.7 370.8h0M606 268.7h0M604.7 345.5h0M601 316.8h0M604.7 331.4h0M604.3 328.8h0M604.4 330.6h0M603.6 347.1h0M605.7 355.1h0M600.6 288.3h0M604.8 314.2h0M602.2 333.2h0M601.6 326.4h0M604.1 317.2h0M602.1 345.4h0M602.2 297.2h0M603 333.5h0M603.7 304.7h0M604.9 308.5h0M604.6 300.9h0M601.3 320.1h0M600.9 288.5h0M603 276.2h0M602.1 333.4h0M602.4 350h0M602.1 363.8h0M601.9 303.9h0M603 306.5h0M604.1 297.1h0M603.6 304h0M602.9 300.3h0M601.2 279.9h0M602.3 356.4h0M601 331.3h0M603.3 319.8h0M601.3 283.9h0M605.2 312h0M606 274.7h0M604.6 315.9h0"/>
<path fill="none" stroke="#838383" stroke-width="3.0" stroke-linecap="round" d="M605.8 247.2h0"/>
<path fill="none" stroke="#838383" stroke-width="3.0" stroke-linecap="round" d="M610.7 252h0"/>
<path fill="none" stroke="#838383" stroke-width="3.0" stroke-linecap="round" d="M612.4 254.3h0"/>
<path fill="none" stroke="#ea2a27" stroke-width="3.0" stroke-linecap="round" d="M678.2 308h0"/>
<path fill="none" stroke="#ea2a27" stroke-width="3.0" stroke-linecap="round" d="M671.3 317.8h0"/>
<path fill="none" stroke="#ea2a27" stroke-width="3.0" stroke-linecap="round" d="M665.3 301.7h0"/>
<path fill="none" stroke="#ea2a27" stroke-width="3.0" stroke-linecap="round" d="M658.5 301.7h0"/>
<path fill="none" stroke="#3db54a" stroke-width="3.0" stroke-linecap="round" d="M557.7 314.7h0"/>
<path fill="none" stroke="#3db54a" stroke-width="3.0" stroke-linecap="round" d="M562.9 359.7h0"/>
<path fill="none" stroke="#3db54a" stroke-width="3.0" stroke-linecap="round" d="M562 308h0"/>
<path fill="none" stroke="#3db54a" stroke-width="3.0" stroke-linecap="round" d="M563.7 318.3h0"/>
<path fill="none" stroke="#ea2a27" stroke-width="3.0" stroke-linecap="round" d="M631.2 370.4h0"/>
<path fill="none" stroke="#ea2a27" stroke-width="3.0" stroke-linecap="round" d="M647.4 363.3h0"/>
<path fill="none" stroke="#ea2a27" stroke-width="3.0" stroke-linecap="round" d="M654.2 346.7h0"/>
</g>
<rect x="551.80" y="240.30" width="131.80" height="146.70" fill="none" stroke="#999" stroke-width="0.8" />
<line x1="549.80" y1="244.86" x2="551.80" y2="244.86" stroke="#555" stroke-width="0.7" />
<text x="549.2" y="247.8" font-size="7.95" text-anchor="end" fill="#444" stroke="#444" stroke-width="0.22">6</text>
<line x1="549.80" y1="280.38" x2="551.80" y2="280.38" stroke="#555" stroke-width="0.7" />
<text x="549.2" y="283.3" font-size="7.95" text-anchor="end" fill="#444" stroke="#444" stroke-width="0.22">3</text>
<line x1="549.80" y1="315.90" x2="551.80" y2="315.90" stroke="#555" stroke-width="0.7" />
<text x="549.2" y="318.8" font-size="7.95" text-anchor="end" fill="#444" stroke="#444" stroke-width="0.22">0</text>
<line x1="549.80" y1="351.42" x2="551.80" y2="351.42" stroke="#555" stroke-width="0.7" />
<text x="549.2" y="354.3" font-size="7.95" text-anchor="end" fill="#444" stroke="#444" stroke-width="0.22">−3</text>
<line x1="549.80" y1="386.94" x2="551.80" y2="386.94" stroke="#555" stroke-width="0.7" />
<text x="549.2" y="389.8" font-size="7.95" text-anchor="end" fill="#444" stroke="#444" stroke-width="0.22">−6</text>
<line x1="560.30" y1="387.00" x2="560.30" y2="389.00" stroke="#555" stroke-width="0.7" />
<text x="560.3" y="395.3" font-size="7.95" text-anchor="middle" fill="#444" stroke="#444" stroke-width="0.22">−5</text>
<line x1="603.00" y1="387.00" x2="603.00" y2="389.00" stroke="#555" stroke-width="0.7" />
<text x="603.0" y="395.3" font-size="7.95" text-anchor="middle" fill="#444" stroke="#444" stroke-width="0.22">0</text>
<line x1="645.70" y1="387.00" x2="645.70" y2="389.00" stroke="#555" stroke-width="0.7" />
<text x="645.7" y="395.3" font-size="7.95" text-anchor="middle" fill="#444" stroke="#444" stroke-width="0.22">5</text>
<text x="554.8" y="248.6" font-size="7.95" fill="#111" stroke="#111" stroke-width="0.22">R= 0.0013</text>
<text x="680.2" y="248.6" font-size="7.95" text-anchor="end" fill="#111" stroke="#111" stroke-width="0.22">MOLM-13</text>
<text x="0.0" y="0.0" font-size="7.95" text-anchor="middle" fill="#111" stroke="#111" stroke-width="0.22" transform="translate(537.6,313.3) rotate(-90)">Log2FC(P−Body/Cyto)</text>
<text x="618.0" y="402.6" font-size="7.95" text-anchor="middle" fill="#111" stroke="#111" stroke-width="0.22">Log2FC(shDDX6/shCTRL)</text>
<text x="6.1" y="448.4" font-size="14.2" fill="#000" font-weight="bold">h</text>
<circle cx="32.00" cy="444.20" r="1.70" fill="#ea2a27" />
<text x="36.8" y="445.7" font-size="8.0" fill="#111" stroke="#111" stroke-width="0.22">Upregulated (KD vs. CTRL)</text>
<circle cx="32.00" cy="452.60" r="1.70" fill="#3db54a" />
<text x="36.8" y="454.1" font-size="8.0" fill="#111" stroke="#111" stroke-width="0.22">Downregulated (KD vs. CTRL)</text>
<circle cx="32.00" cy="460.50" r="1.70" fill="#838383" />
<text x="36.8" y="462.0" font-size="8.0" fill="#111" stroke="#111" stroke-width="0.22">n.s.</text>
<clipPath id="cH"><rect x="30.6" y="465.4" width="128.7" height="144.6"/></clipPath>
<g clip-path="url(#cH)">
<path fill="none" stroke="#3db54a" stroke-width="3.0" stroke-linecap="round" d="M59.2 531.3h0M59.2 548.9h0M56.9 560.6h0M55.2 547.5h0M53.4 544.4h0M55.9 545.4h0M56.1 549.7h0M53.3 551.1h0M53.4 541.1h0M60.6 525.8h0M58 533.1h0M54.8 540.3h0M56.3 544.2h0M60.5 544h0M59.9 548.5h0M59.5 548.9h0M56 529.2h0M56.8 532.8h0M58.2 550.1h0M53.5 558.3h0M57.3 535.5h0M55.1 534.4h0M59.7 531.1h0M53.5 531.1h0M58.2 554.6h0"/>
<path fill="none" stroke="#ea2a27" stroke-width="3.0" stroke-linecap="round" d="M122.8 544.4h0M118.3 544.6h0M118.5 544.2h0M111.7 532.6h0M107.5 532.4h0M107.9 519.8h0M109 520.5h0M113.2 512.9h0M109.3 522.8h0M107.9 544.3h0M114.4 539h0M108.2 528.7h0M116.5 543.9h0M110.6 527.6h0M112.1 516.2h0M122.5 553.1h0M114.8 571.4h0M122.2 515.5h0M112.4 537.7h0M111.5 524.6h0M117.9 563.1h0M114 505.3h0M122.4 524.1h0M112.3 540.4h0M116.3 544.6h0M115.5 535.9h0M124.8 541.1h0M111.2 543.3h0M113.9 559.1h0M116.2 514.2h0M107.8 538.7h0M107.7 536.6h0M110.9 536.2h0M123.5 582.5h0M125.5 528.1h0M108 544.2h0M118 543.5h0M119.9 536.7h0M129.9 556.4h0M117.2 522.1h0M120.7 551.1h0M111.3 555.1h0M117.3 554.3h0M121.6 535h0M115 523.9h0M110 549.2h0M123.9 566.5h0M113.1 517.9h0M135.4 558.1h0M125.6 515.5h0M141.2 539h0M113.6 551.2h0M119.4 550.1h0M113 529.3h0M108 521.2h0M107.7 541.7h0M110.1 520.1h0M111.8 498.6h0M108.6 541.9h0M123.2 559.7h0M108.7 557.9h0M108 564.2h0M111.8 550.1h0M134 551.7h0M113.4 563h0M122.4 528h0M112.2 587.3h0M115.8 562.9h0M110.4 500h0M123.1 518.4h0M109.2 528.1h0M130.4 529.4h0M109.3 504.6h0M112.1 527.9h0M122 536.5h0M108.4 561.2h0M119.5 539.4h0M110.5 551.8h0M108.6 551.3h0M107.4 551.5h0M107.7 538.8h0M112.1 544.2h0M115.1 521.6h0M108.6 563h0M119.7 541.2h0M113.8 502.9h0M108.5 537.3h0M126 515.4h0M136.9 516.5h0M109 513.2h0M122 524.1h0M121.4 564.1h0M122.8 543h0M120.7 545.2h0M108.5 567.2h0M114.3 546.8h0M108 561.6h0M113.8 569.4h0M116.8 534h0M121.2 538.8h0M116.3 551h0M136.5 555.9h0M127.2 548.2h0M117.8 545.4h0M120.9 545.7h0M116.5 539h0M121.4 546.2h0M109.3 530.7h0M113.2 528.1h0M110.4 531.2h0M109.6 550.5h0M114.9 549.6h0M119.7 529.8h0M107.9 541.7h0M113.2 538.8h0M114.6 585h0M112.1 589h0M112 531.6h0M128.5 531.8h0M110.6 511.7h0M118.6 524.4h0M115.8 533.8h0M108.1 537.7h0M111.1 564.9h0M120.3 521.3h0M119.2 549.4h0M110 528.5h0M125 534.2h0M118 532.9h0M130.4 521.2h0"/>
<path fill="none" stroke="#3db54a" stroke-width="3.0" stroke-linecap="round" d="M62.8 539.1h0M72.8 529.1h0M72.9 549.7h0M61.9 542.4h0M70.2 530.7h0M65.5 537.9h0M66.4 542h0M76.1 558.8h0M69.5 546.5h0M68.1 548.1h0M73.1 542.5h0M66.7 549.1h0M62.7 544.2h0M75.9 540.9h0M63.2 535.5h0M74.7 540.8h0M75.8 548.1h0M67.9 544.9h0M62.5 530.9h0M67.8 544h0M69.1 553h0M72.9 553.5h0M76.2 538.3h0M64.5 535h0M61.2 527.2h0M75.9 545.4h0M60.7 525.4h0M75.6 545.8h0M74.5 544.4h0M74.6 548.4h0M66.9 535.5h0M63.8 529.3h0M70 542h0M67.4 547.6h0M71.7 559.9h0M63.6 540h0M68 545.8h0M74.9 544.1h0M69.8 549.2h0M75.1 552.1h0M72.3 546.8h0M62.7 536.5h0M70.7 530.5h0M63.5 541.9h0M61.8 538h0M70 544.1h0M60.8 543.3h0M61.5 557.9h0M66.7 531.4h0M63.5 534.8h0M71 524.6h0M65 549h0M64.4 540.3h0M69.2 552.7h0M68.8 539h0M73.8 543.2h0M73.4 533.8h0M75.2 543.5h0M62.4 534.2h0M61.5 547.6h0M72.3 534.8h0M66.9 545.3h0M61.5 546.9h0M68.9 540.7h0M65.6 537.4h0M64 558.4h0M71 559.6h0M72.1 539.5h0M64.7 542.4h0M71 550.8h0M64.2 538h0M74.4 539.4h0M66.8 529.9h0M68 528h0M63.3 558.7h0M67.9 542.2h0M65 529.2h0M72.8 556.5h0M62.8 558.3h0M69 539.4h0M66.9 528.8h0M74.8 527h0M70.8 556h0M69.4 542.9h0M62.9 547.9h0M62.3 537.9h0M70.1 540.1h0M75 542.4h0M61.9 539.6h0M67.2 540.8h0M66.4 528.7h0M61 554.8h0M70.4 537.1h0M67.9 550.8h0M68.2 558.4h0M73.6 527.8h0M70.3 535.5h0M64.4 525.2h0M75.6 538.6h0M75 534h0M71.4 540h0M62.6 534.9h0M70.5 546.4h0M60.7 552h0M65.1 543.8h0M67.4 531.2h0M67.8 539.9h0M72.9 536.2h0M69.3 523.9h0M70.7 539.8h0M67.6 552.6h0M72 538.6h0M63.6 533.7h0M74.6 529.8h0M73.7 528.5h0M74.8 543.2h0M75.4 531.7h0M72.8 555.1h0M65.2 546.4h0M74.9 545.4h0M73.3 534.8h0M68 528.2h0M62.2 541.8h0M75.8 540.6h0M64 530.4h0M63.3 534.9h0M69.3 542.7h0M74 525.6h0M64.9 558.2h0M63.9 539.6h0M72.9 546.4h0M69.5 547.4h0M69.5 539.1h0M69.9 541h0M73.2 533.7h0M72.8 537.2h0M64.8 529.3h0M66.3 540h0M76.2 532.6h0M73.7 548.7h0M69.1 537.9h0M65.6 546.9h0M74.7 537h0M65.1 548.1h0M67.8 538.8h0M69.9 525.6h0M72.6 544.9h0M71.6 550.5h0M71.3 530.6h0M63.9 541.2h0M65.9 542.7h0M72.3 551.2h0M69.6 553h0M74.8 558.3h0M61.7 550.9h0M76 549.9h0M68.3 545.1h0M65.3 548.3h0M62.2 536.8h0M61.7 536.8h0M76.1 539.6h0M72.9 539.3h0M75.9 552.3h0M73.8 538.7h0M67.3 559.3h0M63.6 546.8h0M69 538.8h0M64.4 538.6h0M63.1 548.2h0M69.3 528.7h0M69.5 539.3h0M76 545.4h0M73.2 528.5h0M60.9 552.8h0M63.3 539.6h0M69.3 540.9h0M71.7 531h0M76 555.7h0M69.2 557.5h0M67.9 546.6h0M60.8 545.3h0M67.4 541.5h0M74.1 546.5h0M61.6 536.8h0M68.8 533.7h0M75.4 539.4h0M75.6 554.7h0M60.9 528.2h0M65.4 560.5h0M63.7 544.6h0M75.9 531.4h0M73.1 549.5h0M64.8 526.6h0M66.7 523.2h0M71.2 536.9h0M61 530.3h0M63.2 548.3h0M72.9 537.3h0M65.4 536.7h0M64.3 541h0M74.8 540.3h0M71.9 544.7h0M74 537.3h0M72.8 538.4h0M68.6 533.6h0M63.5 541.3h0M71.5 531.6h0M69.2 534.6h0M72 542.4h0M71.1 546.7h0M72.9 559.9h0M61.5 540.7h0M63.2 553.6h0M74.4 533h0M71.3 539.8h0M74.1 537.1h0M61.5 549.3h0M68.8 536h0M60.8 535h0M63.1 538.6h0M61.4 552.8h0M63.6 535.6h0M64.6 556.6h0M61.8 553.5h0M70.7 556.2h0M69.7 524.7h0M71.3 547.1h0M75.9 541.5h0M65 528.9h0M64.4 536.6h0M65.4 553.6h0M73.3 547.8h0M70.8 528.8h0M72.3 536.1h0M64.3 533.9h0M62.7 548.3h0M68 544.8h0M74.7 530.6h0M64.7 552.1h0M72.5 531.2h0M71.6 549.7h0M66.3 526.8h0M71.5 548.1h0M75 547.4h0M63.9 545.3h0M64.7 528h0M66.7 549.8h0M63.7 544.6h0M66.9 524.5h0M72 540.8h0M74 531.4h0M71 538.2h0M69.1 532.9h0M75 538.9h0M63.6 528.2h0M71.5 544.8h0M66.6 536.6h0M75.2 550.8h0M63.7 527.8h0M64.6 539.9h0M62.4 537.8h0M67.7 538.1h0M71.4 542.3h0M65.2 526h0M74.6 549.4h0M73.1 555.4h0M64.9 552h0M70 543.8h0M70.9 542.9h0M62.8 529.1h0M70.7 547.4h0M70.4 542.6h0M74.2 540.9h0M65.3 552.8h0M62.8 546.1h0M69.1 543.3h0M74 553.9h0M62.5 529.6h0M63.9 546.1h0M62.3 549.9h0M76 524.8h0M72.5 546.4h0M62.1 530.1h0M73.8 532.1h0M67.4 555.7h0M61 555.7h0M61.6 559.1h0M64.5 534.1h0M61.3 529.2h0M63.3 540h0M61.6 549.5h0M62.8 543.4h0M62.2 535.4h0M67.3 557h0M73.5 543.3h0M72.8 527.3h0M68.9 540h0M61.6 539.9h0M75.4 550.5h0M61.7 531.2h0M60.8 543.1h0M72.3 549.5h0M70.4 544.2h0M72.4 553.6h0M64.9 533.3h0M74.5 543.3h0M74.2 549.6h0M61.3 536.2h0M75.5 543h0M72.6 548.7h0M73.9 549.6h0M68.1 533h0M73 553.8h0M74.8 545.1h0M74.6 545.7h0M65 538.7h0M63.3 544.8h0M70.7 535.3h0M67.6 542.9h0M74 529h0M67.7 527.7h0M63.1 559.3h0M66.5 534.1h0M75.6 536.3h0M71.5 542.1h0M63.3 551.5h0M63.6 552.4h0M66.7 541.3h0M75.3 551.6h0M68.7 532.8h0M64.8 532.5h0M63.9 536.2h0M64.5 541.9h0M69 537.8h0M64 536.4h0M62.3 539.4h0M73.4 552h0M70.8 551.3h0M69.9 556.4h0M64.6 540.5h0M67.2 554.4h0M74.3 544.3h0M64.7 526.4h0M67.4 546.9h0M62.2 530.5h0M66.7 523.4h0M62 559.7h0M72.6 536.5h0M76.2 550.9h0M61.8 535.8h0M66.3 533.7h0M75.5 548.5h0M62.5 532.2h0M73.3 530.6h0M62.4 552.8h0M67.8 543.9h0M72.8 548.7h0M72.9 544.5h0M73.2 550.5h0M65.7 541.5h0M69 535.8h0M62.7 546.6h0M76.1 540.7h0M72.1 542h0M66.8 533h0M68.3 530.2h0M69.7 538.7h0M66.2 547.6h0M65.8 537h0M74.8 552.8h0M63.1 528.9h0M75.4 537.7h0M69.2 538.9h0M67.8 524.2h0M68 526.4h0M60.9 540.3h0M65.7 533.6h0M67.8 550h0M61.4 532.6h0M60.8 534.3h0M60.7 539.9h0M70.3 537.3h0M60.8 553.4h0M75.5 533.7h0M70.4 557.4h0M71.8 531.7h0M61.3 551.7h0M68.6 540.1h0M63.9 535.2h0M75 553.4h0M66.2 537.9h0M63.7 546.8h0M67.3 558.1h0M65.7 542.6h0M62.9 543.6h0M72.8 533.2h0M64 528.4h0M74.8 540.7h0M72.1 535.5h0M74.1 523.8h0M72 533.6h0M74.4 544.2h0M75.5 533.6h0M60.8 547.4h0M64.7 535.6h0M74.7 540.5h0M69.1 554.4h0M75 533.8h0M67.8 540.1h0M66 532.2h0M73.6 557.2h0M64.7 527.7h0M67 527.1h0M73.5 545.4h0M66.7 542.3h0M70.8 540.6h0M63 541.4h0M63.9 531h0M75.9 549.8h0M63.7 555.2h0M63.2 544.2h0M60.9 546h0M61.8 553.5h0M66.9 552.5h0M70.2 539.4h0M74.4 527.1h0M76 550.4h0M66.2 539.3h0M68.4 538.9h0M66.9 535.8h0M67.9 539.8h0M73.9 528.8h0M67.1 533.2h0M72.2 549h0M74 558.1h0M67 557.5h0M65.9 529h0M62.1 539.3h0M71.1 544.6h0M73.1 539.1h0M70.5 533.3h0M64.9 546.7h0M71.6 549.3h0M64.1 554.3h0M73.2 552.1h0M75.3 551.3h0M65.7 527.7h0M70 538.3h0M67.7 535.1h0M65.8 548.5h0"/>
<path fill="none" stroke="#ea2a27" stroke-width="3.0" stroke-linecap="round" d="M89.7 526.7h0M108 525.1h0M110.8 555.4h0M89 535.9h0M108.5 525.6h0M91.6 525h0M106.5 532.9h0M128.6 551.5h0M105.7 526.7h0M100.9 545.4h0M116.2 555.4h0M125.2 544.1h0M112.6 538h0M88.8 551h0M88.9 532.4h0M109 536.1h0M92.5 543.4h0M96.4 550.3h0M94.2 520.7h0M86.6 540.5h0M103.2 534.4h0M122.5 541h0M100.5 534.2h0M84.5 543.3h0M113.2 527h0M98.9 536.1h0M107.9 550h0M102.1 556h0M93 545.3h0M109.6 544.7h0M87.9 537h0M116.3 538h0M88.4 531.5h0M100.3 553.3h0M94.4 539.2h0M104.3 538h0M87.5 543.3h0M100.3 549.6h0M84.5 538.9h0M113.4 545.5h0M110.9 546.7h0M111.2 543.6h0M100.8 550.8h0M87.4 551.4h0M85.1 541.2h0M98.7 539.3h0M90.5 530.7h0M86 542.4h0M98 549.2h0M98.5 553.5h0M94.2 528.5h0M86.1 545.9h0M126.5 552.3h0M107.7 521.9h0M93.6 526.8h0M114 546.1h0M114.7 540.3h0M117.5 549.4h0M94.4 540.8h0M86.5 522.2h0M129.2 540.5h0M105.4 526.6h0M91.1 523.2h0M88.3 547.7h0M109.9 522.7h0M100.6 546h0M93.3 546.1h0M110.3 547.7h0M111.2 528.1h0M109.6 540.1h0M102.7 535.1h0M103.5 553.7h0M92.4 536.9h0M107.3 526.8h0M109.8 546.7h0M96.5 545.5h0M97 526.3h0M85.9 529.3h0M85.4 527.3h0M104.3 533.6h0M109.5 524.5h0M86.6 547.8h0M109.1 542.9h0M90.1 540.6h0M120.8 539.2h0M132.1 524.3h0M107.4 540.8h0M87.2 549.4h0M104.1 550h0M109.8 542.9h0M84.1 531.8h0M94.9 551.5h0M112 547.1h0M95.3 546.4h0M93.4 532.6h0M121.5 534.7h0M100.1 552.2h0M86.9 553.2h0M103 547.4h0M84.7 534.8h0M85.1 523h0M84.7 537h0M98.1 546.9h0M97.3 528.7h0M111.8 530.4h0M92.5 524.5h0M107.8 525.4h0M84.1 545.1h0M95.9 537.5h0M113.1 530.4h0M93 531.8h0M103.6 534.2h0M84.1 547.2h0M100.6 537.2h0M85.4 539.1h0M91 544.7h0M103.7 542.2h0M102.2 541.9h0M111.8 543.5h0M100.9 543.8h0M109.3 540.2h0M113.3 554.3h0M88.7 531.4h0M92.5 543.3h0M87.3 536.2h0M89.1 525.5h0M99.3 546.3h0M97 544.9h0M109.2 529.7h0M91.7 545h0M96.5 529.4h0M99.7 540.3h0M105 545.8h0M86.3 549.6h0M85.5 524.7h0M86.4 531.3h0M91.7 526.4h0M112.4 539.9h0M97.7 556h0M109.9 540.6h0M100.1 531.3h0M119.8 530.3h0M88.8 527.9h0M87.9 525.5h0M96.5 527h0M104.3 530h0M114.8 530.4h0M118.5 528.1h0M92 536.6h0M97.1 546.9h0M105.3 534.9h0M120.2 528.5h0M85.3 536.5h0M106.5 524.7h0M94.6 526.6h0M100.8 551h0M86.6 528.4h0M95.5 545.1h0M104.1 534.1h0M136.1 538.8h0M106.9 530.5h0M130 555h0M113.4 541.7h0M110.6 538h0M111.4 544.1h0M89.2 551.6h0M102 550.4h0M103.7 540.3h0M96.3 545.3h0M96.5 540.1h0M94 544.3h0M92 545.1h0M91.3 546.1h0M93.7 525.1h0M119.1 542.8h0M86 538.3h0M100.9 529.1h0M109.3 522.1h0M106.3 555.3h0M97.2 542.3h0M103 549.7h0M86 535.8h0M131.9 535.9h0M108.5 550.3h0M90.3 547.8h0M97.2 527h0M103.8 531.6h0M102.5 537.7h0M97.1 545.3h0M94.7 536.2h0M90 546.7h0M120.1 537h0M113.8 543.9h0M102 524.5h0M104.2 537.1h0M91.4 548.4h0M93.4 540.8h0M108.2 533.1h0M109.9 537h0M115.2 534.9h0M101.6 534.7h0M85.9 529.3h0M96.8 538.7h0M85.6 530.8h0M101.2 523h0M89.2 537.4h0M105.8 545.9h0M112 538.3h0M86.1 535.6h0M87.4 544.5h0M94.9 544.7h0M113.6 523.9h0M118.1 542.3h0M108.9 542.5h0M112.2 529.1h0M104.3 552.1h0M120.3 551.2h0M125.7 548.9h0M86.6 545.3h0M96 547.4h0M104.6 545.6h0M96.1 530h0M108.6 541.8h0M97.2 533.9h0M99.7 526.6h0M120.9 526.1h0M91.9 527.2h0M103.7 552.9h0M103 546.7h0M106 523.9h0M126.7 554.4h0M97.4 527.1h0M86.2 537.6h0M97.4 548.8h0M92.6 536.1h0M102.2 528.3h0M110.9 537h0M110.9 523.9h0M86.5 533.3h0M88.7 543.9h0M91 524.7h0M107.5 536.6h0M97 525.1h0M103.3 545h0M105.2 550.5h0M116.1 546.5h0M86.9 535.7h0M90.1 550.7h0M85.2 555.1h0M112 535.2h0M86.2 540.2h0M110.8 526.3h0M108.3 536.5h0M87.1 552.3h0M86.1 546.8h0M86.3 548.4h0M112.8 528.1h0M109.7 539.3h0M90.9 540.5h0M127.3 534.5h0M108.9 531.3h0M90.3 546.9h0M93.9 555.6h0M105.2 539.4h0M104.4 543.8h0M87.6 533.7h0M112.2 554.7h0M108.2 521.1h0M109.2 539.4h0M118.5 522.3h0M103.2 531.7h0M95.1 539.4h0M116.3 549.3h0M114.2 540h0M84.2 548.8h0M115.3 547.8h0M89.6 537.4h0M105.6 547.5h0M125.1 545.7h0M89.6 536h0M116.6 551.9h0M94.1 537h0M129.4 524.7h0M100.6 537.8h0M84.2 543.7h0M95.1 533.5h0M93.1 545.2h0M107.7 549.4h0M109.9 545h0M111 526.1h0M100.2 537.6h0M110.7 547.7h0M89.8 524h0M108 543h0M93.3 526.9h0M116 537.4h0M99.6 544.3h0M116.4 550.9h0M112.3 540.5h0M109.9 536.7h0M84.3 534.2h0M93.2 535.8h0M87.1 525.2h0M86.3 538.3h0M121.6 529.8h0M92.6 522.5h0M107.9 540.9h0M99.3 546.5h0M123.5 540.9h0M117.3 550.2h0M88.8 533h0M105.5 527.9h0M97.8 553.9h0M121.2 554.7h0M99.5 534.1h0M104.7 539.4h0M94.6 552.3h0M111.7 523.6h0M111.2 532.9h0M87.1 530.2h0M88.3 539.7h0M107.7 539.1h0M101.7 526.9h0M103.3 545.9h0M100.4 547.6h0M86.1 539.2h0M112 542.6h0M142.2 553.6h0M110.6 552.1h0M106.7 535.2h0M110.9 523.6h0M111.5 545.4h0M90.9 556.4h0M104.3 532.6h0M106.8 524.3h0M93.9 546.6h0M107.2 551.7h0M96.5 544.9h0M90.8 541.3h0M96.2 550.9h0M91.6 533.7h0M112.4 532.5h0M86.2 543.4h0M89.1 530.2h0M112.2 545.4h0M104.1 541.4h0M113.9 537.4h0M105.5 541.8h0M87.6 528.9h0M114 532.6h0M109.2 550.5h0M93.2 533.8h0M99.9 550.9h0M99.8 543.1h0M95.9 539.7h0M91.8 530.7h0M93 539.4h0M112.3 543.1h0M100.6 544.9h0M104 543.5h0M123.2 535.9h0M108.3 554.4h0M107.5 546.7h0M114.4 538.3h0M105.9 530.2h0M99.3 527.6h0M109.2 546.8h0M87.1 539h0M103.5 539.2h0M88.4 543.5h0M128 536.3h0M107.2 552.4h0M89.1 528.8h0M106.1 546.3h0M112 525.2h0M89.6 534.8h0M101 532.1h0M108.4 534.4h0M102 539.4h0M84.9 529.6h0M88.6 525.4h0M95.2 544.6h0M89.4 521.7h0M98.9 541h0M89.5 540.4h0M110.2 543h0M85.4 549.4h0M87.3 540.5h0M88.4 527.9h0M108.8 546.4h0M87.6 546.2h0M108.6 536.2h0M108.3 555.2h0M115.7 543.7h0M107.6 522.2h0M85.7 520.1h0M105.6 544.9h0M104.6 542.6h0M103.8 528.9h0M95 523h0M100.2 542.3h0M120.2 548.5h0M97 546.7h0M98.9 523.4h0M107.8 531.3h0M99 547.6h0M107.5 541.5h0M85 547.5h0M107.8 525h0M106.9 525h0M101.5 546h0M92.8 544.2h0M115.7 530.1h0M90.5 541.5h0M91 522.6h0M100.9 527.3h0M118.9 544h0M101.2 536.8h0M139.1 538.2h0M91.5 550.2h0M100.4 539.3h0M95.3 540h0M95.3 526h0M97.8 534.7h0M85.5 538.2h0M116.2 529.6h0M86.1 542.4h0M90.6 548.2h0M96.5 531.6h0M110.6 541.5h0M99 532.2h0M108.6 521.2h0M106.5 527.2h0M99.9 551.4h0M96.8 548.7h0M86 554.1h0M127.2 544.1h0M93 546.5h0M121.2 531.9h0M106.9 522.5h0M101.8 532.4h0M109.6 540.8h0M106.3 537.1h0M104.6 521.8h0M111.9 532.2h0M95.8 528.1h0M102.5 534.4h0M122.1 555.7h0M86.7 531.3h0M115.4 525h0M97.6 551.1h0M108.4 547.9h0M98.4 545.2h0M111.4 550.4h0M102.1 534.3h0M99.3 547.8h0M97.6 544.3h0M89 537.9h0M98.4 528.9h0M85.4 542.4h0M105.2 537.9h0M122 535.1h0M121.3 528.4h0M96.2 553.3h0M107.9 535.4h0M84.5 545.1h0M111.1 534.6h0M84.2 551h0M86.6 520.7h0M111.6 529.9h0M109 541.9h0M85.9 539.1h0M92 532.2h0M100.7 552.3h0M88.1 527.4h0M105.1 546.3h0M90.8 541.2h0M100 544.4h0M91.1 524.1h0M106 539.5h0M120 544.8h0M107.9 523.1h0M90.5 529.9h0M96.4 535.4h0M86.9 538.7h0M114.8 543.8h0M93.2 523.5h0M86.7 522.5h0M93 551.2h0M84.9 554.4h0M97.6 535h0M97.2 542.7h0M100 526.3h0M110.4 544.1h0M86.9 521.2h0M94.9 552.7h0M123.2 549.3h0M112.4 536h0M91.1 540.8h0M134.6 539.1h0M94 540.3h0M113.8 556.4h0M95.4 531.1h0M96.9 549.5h0M94.5 545.4h0M114 540.5h0M109.6 536.1h0M108.5 535.7h0M86.1 556.5h0M90.7 535.8h0M114.9 533.4h0M93.1 529.1h0M95.1 556h0M88.1 535.1h0M100.7 534.8h0M111.5 538.9h0M135.1 533.8h0M103.1 550.7h0M121 548h0M97.8 524.4h0M109.8 527.8h0M94.2 532.9h0M88.1 542h0M121.3 546.7h0M97.2 554.3h0M91.5 540h0M87.5 538.1h0M98.9 547.7h0M87.6 542.7h0M108.3 544.4h0M111.2 551.7h0M88.8 526.3h0M92 530.3h0M115.9 523.8h0M104.2 534.3h0M102.7 542.8h0M85.7 521.6h0M94.9 544.8h0M89.1 549.5h0M96.1 531.6h0M105.9 541.4h0M104.9 545.2h0M92.3 540.4h0M93.9 535.7h0M92.4 528h0M106.6 538h0M87.1 535.6h0M89.7 539h0M93.4 546.2h0M105 547.6h0M117.8 542.2h0M96.9 545.4h0M109.8 543.5h0M97 530.1h0M85.1 536.4h0M90 536.7h0M92.7 548.3h0M97.3 542.9h0M127.7 542h0M105.9 545.8h0M107.1 528.9h0M89.3 525.1h0M102.8 549.2h0M109.5 542.3h0M87 529.8h0M102.9 541.1h0M96.4 536.5h0M84.3 552.6h0M95.3 552.8h0M106.1 530.8h0M100.3 546.3h0M104.7 529.7h0M107.8 526.3h0M89.2 546.8h0M87.2 547.8h0M100.7 539.3h0M92.5 532.6h0M100.3 532.8h0M108.3 539.4h0M106.1 536.5h0M106.3 528.9h0M96.2 539.6h0M102.2 542.6h0M106.2 544.2h0M99.6 543.2h0M100.6 525.4h0M123 529.8h0M94.9 553.1h0M107.5 544.9h0M109 531.9h0M88.6 548.4h0M87.8 522.3h0M97.2 526h0M122 542h0M92 542.1h0M95.3 543.3h0M103.6 547.6h0M98.8 546.8h0M111.4 536.7h0M106.8 530.4h0M103.8 548.1h0M107.9 529.9h0M98.9 530.6h0M96.8 520.4h0M91.2 545.1h0M105.4 553.5h0M121.1 538.5h0M109.1 531.6h0M105.1 551h0M107.7 549.5h0M87.3 553.2h0M116.2 531h0M109.4 553h0M116.7 537.1h0M102.7 538.5h0M98.4 541.4h0M98 533.7h0M85.6 538.3h0M104.6 554h0M113.9 549.4h0M104.6 534.1h0M102.5 529.2h0M94 537.5h0M88.7 535.3h0M101.2 548.7h0M93.1 520.8h0M96.5 524.5h0M103.6 529.6h0M107.6 538.6h0M94.1 523.1h0M90.2 547.7h0M121.5 537.1h0M102.3 540.7h0M91.7 530.9h0M94.1 520.1h0M90.5 546.5h0M88.8 544.9h0M89.4 544.7h0M95.4 526h0M87.2 532h0M84.7 549.9h0M132.2 539.1h0M95.6 552.1h0M95.9 524h0M99.2 534.6h0M107.6 526.8h0M120.1 554.1h0M92.4 538.1h0M105.6 544.9h0M111.5 539.4h0M103.7 544.7h0M108.1 546.8h0M88.4 536.7h0M87.6 540.7h0M89.7 548.6h0M85.7 548.1h0M94.2 531.9h0M103.9 520.6h0M100.2 533.5h0M86.2 532.2h0M109.2 545.9h0M85.2 542.2h0M93.3 548.2h0M94.1 537.7h0M93.7 537.8h0M113.4 523.1h0M98.9 521.8h0M105.9 543.5h0M104.8 528.7h0M102.9 539.9h0M109.2 552.2h0M105.8 545.2h0M95.7 534.1h0M106.3 534.7h0M90.6 529.6h0M118.4 547.3h0M100.1 540.7h0M90 526.9h0M95.8 533.7h0M91 537.7h0M110.2 538.4h0M90.2 528h0M100.1 530.6h0M93.4 523.2h0M86.2 532.4h0M107.8 545.7h0M97.5 545.3h0M113.1 535.7h0M99.9 543.1h0M108.7 524.3h0M110.7 528.9h0M84.2 528.1h0M122 549.1h0M101.2 523.5h0M100.2 536h0M108.5 536.1h0M95.3 527.5h0M101.2 545.2h0M89.1 545.6h0M88.4 542.5h0M88 552.7h0M118.2 541h0M90.1 529.2h0M114.5 535.5h0M105.7 529.6h0M107.8 547.1h0M90.9 548.3h0M94.4 535.4h0M85.9 547.6h0M125 532.4h0M86.1 525.9h0M104.5 553.6h0M92.4 556.8h0M105.9 546.2h0M107.7 525.9h0M96.8 534.7h0M97.9 536.2h0M93.7 540.3h0M94.9 523.4h0M91.9 550.1h0M101.4 521.8h0M87.9 547.4h0M89 543.1h0M94.5 533h0M115.9 521.6h0M90 535.5h0M89.1 554h0M84.7 537h0M109.9 527.2h0M100.2 536.4h0M96.7 539h0M99.6 530.7h0M100 552.1h0M105 542.3h0M86.3 543.1h0M95.9 536.2h0M87 526.2h0M101.6 529.9h0M108.6 537.9h0M108.5 527h0M104.3 546.6h0M106.7 536.5h0M112.6 530.7h0M84.7 533.6h0M110.7 528.3h0M104.5 547.1h0M111.4 540.5h0M91.6 538.3h0M106 539.5h0M100.7 527.3h0M119.6 540.9h0M87.5 529.8h0M93.4 530h0M99.8 536.4h0M111.2 541.2h0M120.4 554.6h0M89 552.6h0M125.2 530.3h0M105.5 545.7h0M95.3 542.7h0M109 529.4h0M97 529.6h0M111.2 544.3h0M96.7 544.1h0M84.9 549.5h0M111.4 530.4h0M88.4 536.9h0M122.7 532.8h0M113 534.4h0M97.3 535h0M103.5 531.4h0M93.2 527.7h0M114.9 535.6h0M102.3 545.2h0M100.3 524.3h0M105.7 545.3h0M105 520.9h0M86.1 524.2h0M100.3 540.7h0M104.3 542.1h0M103.8 528.8h0M86.6 556.8h0M119.2 537.7h0M107.1 520.9h0M95.3 555.4h0M105.1 545.6h0M112.7 552.3h0M107.5 538.3h0M95.6 532.2h0M85.8 527.1h0M106.7 542.2h0M114.4 552h0M122.9 523h0M106.3 546.8h0M102.1 551.6h0M92.8 548.3h0M111.2 529.9h0M90.1 544.8h0M90.1 544.2h0M96 526.1h0M107.4 550.7h0M104.1 533.9h0M96.7 533.1h0M97.2 533h0M99.4 545.9h0M86.7 555.2h0M110.3 543.7h0M94.7 552.2h0M89.4 526.4h0M103.5 534.2h0M87 528.4h0M109 540.7h0M86.1 520.5h0M139.9 548h0M101.7 523.5h0M97.7 524.3h0M107.5 541.2h0M89.4 547.6h0M107 537.7h0M92.9 543.5h0M89.3 536.8h0M87.4 531.7h0M88.7 533.8h0M113.7 536.4h0M108.3 526.3h0M105.3 533.7h0M106.1 534.8h0M100.3 545.2h0M108.9 523.1h0M116.4 536.5h0M131 522.3h0M98.9 539.3h0M107.3 524h0M108.6 526.3h0M103.9 546.4h0M96.5 544.9h0M110.2 527.7h0M105 542.9h0M98.1 544.8h0M111.3 539.9h0M112 537.8h0M84.3 542.9h0M107.9 553.2h0M115.3 537.4h0M90.9 549.6h0M104.1 526.8h0M112.5 527.4h0M100.7 555.2h0M98.2 554.7h0M87.6 534.3h0M103.9 543.9h0M87.8 538.6h0M86.2 539.3h0M85.6 533h0M98.5 553.7h0M89.6 555.5h0M86.6 550.6h0M108.3 545.6h0M89.6 531.1h0M113.7 526.7h0M107.6 548.9h0M86.6 528h0M99.6 547.5h0M101.7 531.2h0M103.3 547.4h0M98.7 540.8h0M97.4 527.7h0M95.6 525.4h0M108.4 527.9h0M85 546.9h0M123.6 538.1h0M86.9 554.1h0M100.8 543.3h0M95 521.2h0M112.2 534.6h0M107.2 550.9h0M85.9 551.3h0M107 529.7h0M108.8 552.3h0M92.8 531.3h0M117 545.4h0M88.7 538.6h0M105.9 551.8h0M116.5 526.5h0M84.1 531.5h0M105.6 542.5h0M95.2 532.9h0M112.9 537.4h0M88.9 539.1h0M103.3 538.5h0M85.7 543.8h0M124.2 541.8h0M113.8 530.3h0M90.7 547.6h0M99.8 535.2h0M108.2 544.2h0M108.7 525.9h0M85 537h0M98.4 529.5h0M109.9 552.5h0M98.4 529.8h0M91 532.3h0M113.6 539.8h0M99.1 543.8h0M116.9 533.7h0M106.5 531.7h0M98 538.4h0M87.5 536.4h0M120 542.9h0M109.3 546.3h0M108 554.4h0M110 525.4h0M101.6 532.9h0M90.1 536h0M109.1 541.8h0M129.9 540.4h0M101.5 545.7h0M96 527.3h0M103.4 535h0M104.6 536.9h0M86.9 540.6h0M96.4 548h0M105 521.3h0M119.3 539.8h0M103.9 526.7h0M94.5 545.5h0M98.4 535.6h0M100.8 524.2h0M106.4 553.9h0M90.4 547.8h0M109.2 549.9h0M115.7 533.8h0M105.1 544h0M117.9 555.9h0M91.3 541.9h0M87.7 522.8h0M90.4 523.6h0M85.6 539.7h0M88.6 551.7h0M96.7 529.9h0M107.5 527h0M92.6 527.2h0M113.5 541.6h0M109.5 554.8h0M92.6 534.9h0M112.3 525.1h0M106.8 539h0M118.6 538.9h0M94.5 526.7h0M114.4 546.7h0M91.6 532.5h0M91.9 521.2h0M102.1 529.3h0M92.1 538.7h0M109.8 545.6h0M111.9 538h0M91.4 524.6h0M108.3 527.3h0M105.5 550.8h0M97.8 522.1h0M111.4 546.1h0M104.8 531.8h0M104.4 550h0M87.9 535.9h0M119.6 538.8h0M87 533.7h0M101.6 538.3h0M98.7 543.6h0M112.4 532.3h0M104.1 551.4h0M88.1 537.8h0M88.9 539.2h0M103.6 531h0M92.3 549.6h0M104.5 555.7h0M101.2 538.4h0M114.2 544.9h0M102.4 526.8h0M93.9 533.1h0M125 539.6h0M96.7 549.3h0M109.1 536.3h0M117.5 529.5h0M91.6 538.2h0M109 544.2h0M109.5 537.3h0M103.8 533.5h0M88.1 527.5h0M116.7 545h0M95.1 543.4h0M110.5 548.3h0M106 545h0M85.2 544.6h0M110.7 546.2h0M91.1 545.3h0M105.1 544.7h0M95 527.8h0M102.1 538.8h0M95.7 541.6h0M87.6 554.3h0M99.8 529.6h0M95.5 533.3h0M108.1 537.4h0M93.6 548.8h0M87.4 522.8h0M110 535.3h0M92.1 537.9h0M93 537.3h0M90.7 533.4h0M93.4 520.3h0M99.5 533.8h0M109.4 544.2h0M90.8 524.2h0M108 554.2h0M111.9 545.8h0M113.7 534.7h0M102 531.5h0M99.6 533.4h0M105.7 531.8h0M93.9 533.9h0M111.8 547.5h0M97.7 541.3h0M91 539.7h0M129.9 531.1h0M117.7 533.9h0M108.3 533.8h0M110.6 545.4h0M89.1 535.2h0M98.9 538.1h0M122.8 552.4h0M89.8 551.8h0M109.3 548.1h0M91.2 529.6h0M92.7 535.3h0M96.5 530.6h0M110 529h0M147.3 537.9h0M95.8 543.5h0M111 538.4h0M84.2 549.5h0M108.6 553h0M101.8 533.3h0M99 524.6h0M86 532.9h0M98.7 528.5h0M90.5 531.9h0M105.7 526.2h0M101.2 526.3h0M101.6 552.5h0M99.8 546.7h0M85.1 548.4h0M103 522.5h0M109.2 536.9h0M84.2 531.4h0M84.7 522.4h0M90.4 549.3h0M124.5 535.5h0M93.4 534.1h0M116.9 540.9h0M158.5 539.1h0M85.5 541.4h0M95.5 531.8h0M112.6 547h0M102.6 539.3h0M114.6 551.7h0M86.8 536.5h0M90.7 526.5h0M108.5 547.2h0M84.4 541.1h0M121.9 550.9h0M94.5 538.2h0M93.1 532.9h0M110.5 541.1h0M98.4 539.2h0M128.4 547h0M89.3 553.3h0M102.3 534.6h0M106.3 537h0M103.2 532.7h0M86.5 546.2h0M88.5 534.6h0M102 531.5h0M101.7 525h0M108.4 539.3h0M90.8 543.1h0M125.5 536.6h0M117.2 528.9h0M106.2 525.4h0M108.7 542.5h0M92 545.5h0M87.1 555.8h0M84.8 544.7h0M120.9 535.6h0M109.1 531.9h0M88.2 551.6h0M112 549.4h0M92 530.2h0M106.6 540.7h0M100.1 535.3h0M117.1 541.4h0"/>
<path fill="none" stroke="#838383" stroke-width="3.0" stroke-linecap="round" d="M83.7 541.4h0M68.2 571.6h0M73.5 507.4h0M108.8 504.5h0M96.3 518.2h0M55.6 517.8h0M93.8 501h0M108.7 575h0M37.9 517.9h0M96.5 564.6h0M70.8 490.7h0M58 534.3h0M103.9 561.4h0M124.8 544.9h0M91.2 514.2h0M83.3 538.1h0M60.7 545h0M78.6 547.8h0M83.6 521.5h0M81 554.8h0M96.4 504.3h0M73.4 503.8h0M98.7 558.1h0M45.4 541.3h0M80.9 538h0M76 565.4h0M88.6 517.9h0M71.3 491.3h0M119.5 571h0M37.6 565h0M101.4 578.2h0M53 524.3h0M68.2 568.2h0M58.4 507.6h0M83.5 541.2h0M42.8 564.7h0M63.5 494.4h0M96.5 517.6h0M114.6 514.5h0M78.5 524.3h0M122.1 508.2h0M60.9 521h0M81 540.8h0M96.4 497h0M76 564.9h0M70.8 517.9h0M116.8 524.8h0M91.3 555h0M68.1 498h0M78.3 531.2h0M37.7 534.6h0M55.3 564.7h0M91.1 514.4h0M63.3 510.8h0M104.1 511.5h0M99.1 494.2h0M68.3 490.9h0M78.7 541.6h0M80.9 517.7h0M37.6 548.4h0M37.8 544.4h0M68.2 564.4h0M119.2 541.1h0M53.1 514.6h0M121.9 555.5h0M68.2 513.9h0M78.3 561.6h0M78.6 565.3h0M86 491.1h0M68 565.2h0M70.6 500.8h0M70.6 517.8h0M81.5 551.4h0M78.3 555.6h0M65.6 564.3h0M68.6 514.2h0M81.3 565.3h0M124.4 507.5h0M101.4 568.5h0M81.2 582h0M47.8 524.5h0M81 544.6h0M58.2 537.8h0M81.2 531.1h0M76.1 564.8h0M47.9 518.1h0M103.8 568.4h0M68.3 521.3h0M76 584.9h0M55.5 537.7h0M91.2 514.2h0M80.9 551.3h0M91.1 564.8h0M101.5 497.4h0M45.4 568.7h0M91.2 504.1h0M96.4 565h0M96.4 514.4h0M53.2 504.3h0M96.2 568.4h0M73.3 514.9h0M81 534.4h0M68.1 568.5h0M124.4 571.9h0M81 551.3h0M83.6 558.5h0M78.5 517.9h0M94 592.1h0M55.4 518h0M81.3 524.3h0M42.7 561.9h0M86.2 561.6h0M40.2 551.6h0M101.3 507.3h0M75.6 568.3h0M124.4 541.5h0M104.1 561.5h0M106.6 554.9h0M88.7 517.6h0M78.4 544.5h0M47.5 574.9h0M50.4 554.9h0M86.2 564.8h0M78.3 537.9h0M111.4 591.6h0M93.8 491.2h0M55.7 541.6h0M111.8 582h0M52.9 544.9h0M53 541.5h0M65.6 567.9h0M78.6 521.6h0M48.3 564.8h0M73.3 515.1h0M55.7 555.1h0M81 551.6h0M88.7 504.1h0M73.2 565.2h0M126.9 547.7h0M58.4 552.1h0M80.7 531.9h0M73.3 521.3h0M81.2 528.1h0M124.3 541.2h0M78.7 544.7h0M58.1 520.8h0M80.9 520.9h0M68.4 568.7h0M106.5 571.6h0M78.5 527.9h0M68.5 511h0M122.1 524.8h0M78.3 541.3h0M88.8 581.6h0M104 501.7h0M78.7 575.3h0M88.8 518h0M99 514.5h0M53.1 541.1h0M78.5 537.4h0M78.5 544.7h0M68.5 490.5h0M109.1 558.1h0M62.9 581.4h0M106.4 582.2h0M58.4 585.2h0M68 568.7h0M88.8 571.6h0M91.5 501.1h0M53 555.3h0M83.4 541.6h0M91.2 494.2h0M94.2 564.5h0M50.5 500.6h0M48 524.4h0M80.9 527.8h0M116.8 561.2h0M73.4 490.3h0M78.4 561.2h0M83.9 544.3h0M68.3 514.9h0M45 517.8h0M88.6 497.5h0M60.5 531h0M45.2 514.4h0M63.2 521.1h0M65.6 568.5h0M101.6 565.2h0M45.4 541.5h0M75.9 513.9h0M76 521.1h0M40.2 528h0M81.1 554.7h0M73.5 521.3h0M86.1 558.4h0M96.7 510.8h0M58.1 568.5h0M58.1 541.1h0M50.5 531.4h0M116.9 575.2h0M83.6 524.5h0M78.4 521.2h0M93.8 558.2h0M78.6 491h0M78.7 558.7h0M65.4 508.2h0M93.9 588.7h0M86.4 577.9h0M99 517.1h0M70.8 490.8h0M65.7 575.5h0M75.9 591.7h0M121.9 517.9h0M111.4 584.7h0M88.3 517.4h0M75.8 510.8h0M68.3 578.2h0M78.2 581.7h0M83.9 524.7h0M60.4 517.7h0M68.4 510.9h0M57.9 547.9h0M98.8 568.2h0M81.5 527.8h0M60.7 571.4h0M50.5 524.2h0M78.3 551.8h0M45.2 521.3h0M70.6 520.8h0M86 568h0M83.9 507.3h0M73.5 571.5h0M65.7 568.7h0M55.4 538h0M60.4 558.6h0M83.6 551h0M58 558.3h0M40.2 544.5h0M57.7 558h0M93.7 568.5h0M70.8 500.8h0M75.8 510.5h0M81.1 518.2h0M116.7 510.8h0M86.2 598.4h0M114.4 588.1h0M68.4 565.1h0M45.2 578.6h0M58 510.8h0M99.1 554.7h0M93.9 514.2h0M101.3 581.6h0M91.5 501.2h0M53 514.4h0M65.6 564.7h0M99 490.7h0M80.7 558.2h0M48 541h0M78.6 528.1h0M68.1 598.8h0M68.1 571.3h0M61 548.3h0M65.8 581.7h0M76.1 491.1h0M106.4 517.7h0M91.5 511.4h0M86.3 514.8h0M37.7 567.9h0M65.8 521h0M83.6 571.7h0M78.3 551.7h0M78.4 537.6h0M106.6 575.5h0M78.4 530.9h0M103.8 571.7h0M93.7 504.1h0M50.5 528.2h0M93.5 575.3h0M66 507.6h0M96.7 513.9h0M45.2 514.7h0M73.5 568h0M50.5 518.1h0M85.9 500.4h0M58.2 514.1h0M53.1 531.1h0M55.7 514.6h0M83.7 548h0M88.6 501h0M86.2 564.9h0M81 554.9h0M81.1 507.6h0M98.9 569.1h0M52.6 483.9h0M42.6 541.2h0M83.7 548h0M111.8 564.7h0M50.3 564.8h0M70.7 568.3h0M53.1 545.6h0M53.1 561.7h0M60.6 517.3h0M50.2 531.3h0M75.8 517.9h0M50.4 534.2h0M96.5 558.5h0M52.8 521.8h0M86.2 564.8h0M71.1 500.8h0M96.1 572.1h0M81.2 555h0M93.9 497.3h0M62.9 565.5h0M83.5 554.6h0M96.3 517.4h0M121.9 537.7h0M111.7 484.5h0M68.4 507.3h0M80.9 578.7h0M58.2 551.5h0M83.6 518h0M83.6 555.1h0M96.4 511h0M106.8 517.6h0M91.4 510.8h0M114.1 504.1h0M78.7 541.4h0M101.6 568.3h0M48.1 558.6h0M99.1 517.8h0M83.7 511.2h0M70.8 521h0M88.5 568.6h0M81 520.8h0M53.1 564.9h0M68.4 565.1h0M86.1 514.4h0M83.8 493.9h0M78.4 568.7h0M60.7 504.4h0M109.2 572.1h0M70.6 514.3h0M86 518.1h0M93.5 514.4h0M81.1 557.9h0M60.5 540.9h0M76 578.4h0M83.6 538h0M55.4 571.7h0M83.6 555h0M55.5 524.6h0M88.6 581.7h0M101.5 484.1h0M55.7 524.4h0M55.9 531.4h0M119.3 541.5h0M91.3 560.7h0M75.9 501.1h0M45.4 575.2h0M96.5 487.3h0M55.5 541h0M114.2 561.4h0M76.2 538h0M106.4 572.1h0M58.4 531.2h0M116.6 557.9h0M68.8 564.8h0M70.6 571.6h0M114.3 544.4h0M50.3 534.5h0M96.4 507.4h0M88.9 507.3h0M81.2 544.7h0M65.7 568.9h0M81.3 524.3h0M55.5 501.2h0M81 548.3h0M70.9 501.1h0M81 541h0M45.6 551.7h0M86.2 581.3h0M81.1 541.4h0M101.2 487.7h0M68.3 574.9h0M78.6 551.6h0M73.1 565.3h0M122.1 561.6h0M76.4 507.7h0M53.1 565.5h0M119.2 524.6h0M119.5 534.6h0M81.2 554.2h0M108.9 511h0M73.2 500.7h0M88.8 517.8h0M81.1 557.9h0M124.2 544.6h0M114 561.8h0M78.5 521.3h0M81.1 568.3h0M52.9 521h0M81.3 534.6h0M101.5 568h0M81.2 534.8h0M81.1 534.5h0M83.7 544.7h0M86.1 572.1h0M47.9 562.1h0M52.8 534.3h0M73.4 571.3h0M55.8 544.2h0M99 571.8h0M80.8 554.8h0M83.4 510.6h0M88.7 500.8h0M91.3 581.7h0M81.3 537.9h0M96.4 521h0M73.4 575.2h0M96.2 501.1h0M85.9 578.4h0M83.4 514.5h0M83.8 548h0M47.6 521.2h0M53 514.5h0M55.7 538.4h0M50.4 527.8h0M81.1 534.9h0M78.4 521.3h0M48.2 541.5h0M80.9 595.6h0M37.8 528.3h0M61.1 571.7h0M68.4 565.2h0M68.3 518h0M50.4 500.8h0M106 490.8h0M103.7 490.8h0M37.6 538.2h0M80.9 551.3h0M103.9 557.8h0M114.2 520.8h0M60.6 575.5h0M47.8 507.9h0M78.6 487.4h0M78.5 545.1h0M48 541.3h0M68.3 504.7h0M55.7 514.4h0M101.5 564.8h0M78.4 555h0M81.5 514.6h0M37.9 524.6h0M81.1 534.6h0M83.9 544.4h0M50.4 554.7h0M43 544.5h0M60.4 574.6h0M78.6 531.2h0M65.8 520.8h0M75.9 520.7h0M86 565.3h0M63.2 494.7h0M73.5 491h0M109.1 575h0M88.5 497.4h0M83.6 551.8h0M78.6 534.4h0M68.2 592.1h0M73.4 565.2h0M55.3 510.9h0M68.3 571.2h0M86.2 477.6h0M83.5 535h0M55.7 598.7h0M86.3 564.7h0M40.8 518h0M122 551.1h0M55.6 561.5h0M68.4 511.1h0M81.3 544.5h0M65.9 521h0M81.2 588.7h0M73.3 490.6h0M78.6 494.2h0M45.6 531h0M96.6 598.9h0M68.3 517.9h0M78.7 551.5h0M47.7 534.9h0M88.7 571.5h0M81.3 525h0M73.2 568.4h0M73.4 494.4h0M119.5 527.5h0M93.6 558.3h0M91.6 568.7h0M50.3 541.3h0M83.4 513.8h0M73.4 504.2h0M63 571.6h0M78.6 528.6h0M65.7 518h0M60.8 508.2h0M37.6 548.2h0M40.4 545.2h0M83.6 494h0M73.4 511.3h0M63.2 501.2h0M83.7 568.6h0M116.7 534.4h0M63.4 517.6h0M96.5 497.7h0M63.2 514.5h0M58.2 517.8h0M99 557.6h0M106.7 571.7h0M50.5 555.4h0M81.1 578.5h0M62.9 581.7h0M50.6 548.3h0M93.7 558.4h0M83.5 531.3h0M101.3 565h0M122 551.5h0M80.8 517.8h0M88.8 518.1h0M81.4 564.5h0M81.1 557.8h0M78.5 531.5h0M60.8 514.5h0M50.4 525h0M96.5 494.4h0M106.8 598.8h0M71 521.4h0M58.1 558.1h0M96.7 571.4h0M98.9 558.4h0M76 486.9h0M55.6 545h0M37.7 504h0M60.7 517.6h0M116.4 564.9h0M124.6 507.8h0M78.5 561.4h0M114.3 507.6h0M122.1 537.5h0M78.7 544.5h0M78.3 551.4h0M101.3 558.3h0M60.8 513.6h0M55.9 551.3h0M81.1 514.5h0M83.7 548h0M55.4 544.6h0M75.7 567.9h0M53 504.5h0M68.1 517.6h0M76.1 507.3h0M109.1 558.5h0M60.8 555.1h0M65.8 571.4h0M81.2 487.6h0M106.7 521h0M91.1 598.7h0M57.8 595.4h0M70.6 588.5h0M68.5 575.3h0M47.8 490.5h0M63.3 518.1h0M73.6 568.2h0M93.8 487h0M83.6 564.9h0M76.1 508.2h0M81.1 521.4h0M68 565h0M103.9 517.7h0M80.7 557.8h0M58.3 588.5h0M83.7 528.4h0M78.3 551.7h0M60.5 581.5h0M73.3 521.2h0M70.5 568h0M70.8 496.9h0M58.3 544.8h0M83.8 588.5h0M101.2 578.3h0M60.7 537.6h0M52.8 548.3h0M80.9 565.1h0M37.8 561.8h0M96.5 592.1h0M88.7 513.9h0M103.8 518h0M91.5 588.6h0M58.2 500.6h0M47.8 551h0M88.3 510.6h0M78.6 531.6h0M88.3 568.1h0M93.6 484h0M47.8 582.1h0M70.8 511h0M104.1 507.4h0M58.2 527.8h0M104.2 571.6h0M65.7 514.1h0M81.4 524.2h0M73.4 574.8h0M52.9 503.7h0M63.7 521h0M62.9 582h0M60.4 531.2h0M73.5 515h0M42.5 568.7h0M85.9 510.7h0M48 545.2h0M45.3 554.4h0M91.1 565.3h0M109.1 520.9h0M58.1 531.1h0M98.6 511.5h0M68.4 514.1h0M106.3 591.7h0M57.8 554.6h0M91.3 507.7h0M86.3 500.2h0M86.5 507.9h0M83.6 581.4h0M57.6 541.2h0M68.5 511.2h0M70.8 500.6h0M96.1 507.2h0M62.9 504.4h0M81.1 537.6h0M81.2 558.2h0M78.5 521.2h0M81.2 540.7h0M55.7 514.5h0M83.6 541.5h0M88.6 511.3h0M55.9 555h0M60.9 497.4h0M42.7 528.2h0M86.4 490.7h0M85.9 518h0M80.9 568.1h0M101.5 517.8h0M52.7 561.6h0M68.4 494.1h0M78.4 565h0M57.9 531.4h0M75.9 495h0M76.2 514.3h0M103.7 511.2h0M116.7 518.2h0M60.4 504h0M86.2 565.1h0M83.6 541.1h0M55.9 514.3h0M88.5 581.8h0M48.1 535h0M101.3 571.5h0M65.7 598.5h0M75.8 514.5h0M58.4 531.4h0M52.9 504.1h0M45.5 538.2h0M50.4 531h0M40.2 500.7h0M55.5 551.6h0M86.2 564.8h0M78.5 577.9h0M98.8 517.9h0M78.7 551.9h0M80.9 571.7h0M98.8 592.2h0M94.2 571.9h0M101.4 508.2h0M93.7 568.2h0M65.8 490.6h0M78.3 537.3h0M50.7 548.1h0M83.9 592h0M86.2 504.4h0M63.3 588.6h0M78.4 571.2h0M78.4 558h0M58.1 544.3h0M50.4 545.1h0M62.9 487.9h0M45.4 541.3h0M68.5 511.2h0M116.7 557.6h0M47.7 554.7h0M83.3 525.1h0M86.1 568.3h0M88.9 501.4h0M52.8 538h0M60.7 500.8h0M50.4 545h0M81.1 554.9h0M53 548.2h0M96.2 504.4h0M86.3 518h0M47.9 534.3h0M52.6 531.4h0M83.5 534.7h0M40.2 545.2h0M70.8 514.4h0M111.5 511.2h0M45.5 578.9h0M119.5 541.4h0M58.2 507.5h0M114.4 500.6h0M124.1 538.7h0M99 571.4h0M42.8 554.7h0M93.8 514.3h0M48.2 548.2h0M70.8 571.6h0M83.7 561.6h0M81.1 588.6h0M93.8 494h0M81.1 551.5h0M114 571.9h0M75.8 517.7h0M83.5 531.5h0M50.2 541.6h0M91.3 510.5h0M55.6 524.2h0M80.9 551.8h0M76.4 537.8h0M106.3 484.1h0M101.8 508h0M45.2 524.9h0M80.8 544.9h0M83.7 514h0M106.8 572.3h0M45.4 541.4h0M73.3 521h0M81.1 588.4h0M60.7 598.9h0M37.8 544.6h0M104.1 517.7h0M45.6 561.5h0M63.4 578.1h0M81.2 521.2h0M63.4 521.3h0M81.1 538.2h0M78.5 500.5h0M101.4 514.2h0M104.1 558.3h0M76.1 517.9h0M75.7 521.6h0M104.1 500.9h0M78.8 488h0M47.7 530.9h0M55.5 571.7h0M109.1 581.5h0M88.6 510.8h0M85.9 568.4h0M78.3 551.6h0M63.2 484.4h0M57.9 531.4h0M83.8 524.6h0M93.8 511.6h0M37.6 517.7h0M55.4 554.8h0M81.4 571.2h0M112.1 520.9h0M78.4 500.8h0M55.3 561.8h0M91 497.9h0M60.8 565.1h0M55.7 514.1h0M85.9 514h0M68.2 568.1h0M106.7 574.6h0M80.8 537.5h0M68.2 493.8h0M37.7 551.8h0M60.2 582.1h0M63.4 520.8h0M88.9 561.7h0M104.2 504.4h0M58 514.3h0M73.3 574.9h0M42.8 531.2h0M80.8 558.1h0M55.4 544.9h0M109 558.2h0M55.6 507h0M80.9 547.8h0M48.1 544.9h0M76 501.2h0M58 535.3h0M124.5 551.6h0M68.4 565.1h0M111.9 592.3h0M114.2 524.6h0M81.5 592.1h0M80.9 544.9h0M111.4 561.3h0M83.6 548.2h0M63 494.2h0M103.9 561.6h0M78.2 558.7h0M62.8 504.6h0M78.8 568.4h0M111.6 531.8h0M83.6 555h0M83.8 544.8h0M55.3 534.7h0M78.5 551.3h0M93.9 575.3h0M78.8 504.5h0M86.3 558.5h0M83.4 538.1h0M121.7 551.4h0M48 527.9h0M55.4 555.1h0M83.5 538.2h0M75.8 521h0M81.1 534.6h0M75.8 510.9h0M104.1 517.8h0M126.8 554.7h0M53.2 511h0M96.5 518h0M119.3 534.5h0M58.1 541.5h0M78.3 527.7h0M86.1 578.9h0M68.3 565.3h0M85.9 561.8h0M73.1 517.4h0M88.5 517.4h0M119.3 528.3h0M78.4 514.1h0M73.8 578.4h0M83.7 514.1h0M55.6 561.1h0M101 504.2h0M60.7 500.5h0M78.4 494h0M37.5 511h0M55.4 541.7h0M86.3 560.9h0M116.5 548h0M80.9 557.9h0M94.3 483.9h0M96.6 507.4h0M104.1 514.3h0M83.5 511.2h0M50.3 535.5h0M65.7 498.2h0M73.4 565h0M101 517.5h0M76.2 490.7h0M101.6 511.1h0M83.8 494h0M55.4 534.4h0M58 521h0M53 585.2h0M50.4 541.4h0M83.7 534.9h0M50.4 551.7h0M78.4 531.2h0M94 484h0M98.6 517.9h0M78.3 578.5h0M70.6 520.7h0M81 578.1h0M89.1 504.5h0M75.6 504.3h0M81.1 507.1h0M53.2 548.1h0M86 571.7h0M58.1 523.9h0M86 504.5h0M81 534.7h0M70.8 507.9h0M83.7 547.7h0M109.1 564.6h0M88.6 514.4h0M83.6 498h0M91.5 565.2h0M103.9 518h0M60.8 561.6h0M99.1 490.9h0M96.3 497.4h0M52.9 538.4h0M58.2 518.3h0M52.8 517.8h0M104 507.7h0M83.6 514.6h0M111.6 507.6h0M57.8 511.2h0M98.7 521.3h0M83.2 521.6h0M76.3 578.4h0M48 548.3h0M53 524.6h0M88.9 578.4h0M108.9 517.3h0M78.6 517.3h0M83.6 578.2h0M88.8 588.6h0M78.8 541.6h0M45.4 541.5h0M83.5 534.6h0M80.9 575h0M117.1 537.9h0M45.3 537.5h0M68.3 510.8h0M81.1 528.1h0M93.6 497.7h0M78.5 504.7h0M73.4 575.2h0M104.2 558.4h0M86 561.8h0M78.6 551.7h0M48.2 548.2h0M103.9 511.1h0M81.1 551.4h0M91.2 568.4h0M80.9 551.6h0M73.5 517.2h0M78.4 511.2h0M55.3 564.7h0M81.5 514.7h0M103.9 507.8h0M83.6 538.5h0M60.5 508h0M86.3 497.4h0M70.7 578.4h0M73.6 585.7h0M50.6 565.1h0M78.4 514.6h0M101.4 591.7h0M111.8 517.6h0M47.9 558.5h0M78.8 541.9h0M57.9 537.9h0M83.9 528.2h0M85.9 561.6h0M86.3 507.7h0M65.5 517.8h0M78.5 561.4h0M111.8 558.6h0M76 518h0M83.7 564.9h0M83.4 524.8h0M81.2 588.5h0M52.7 531.3h0M55.7 494.2h0M63.1 517h0M50.4 551.2h0M101.4 575h0M73.4 574.7h0M88.7 504h0M83.6 548.3h0M37.4 508h0M91.1 568.4h0M98.8 565.3h0M65.7 494.3h0M63.4 511h0M78.6 565.2h0M75.8 517.5h0M83.7 585.1h0M85.9 578.7h0M58 545.1h0M60.5 518h0M104.2 584.9h0M89.1 494.3h0M80.7 534.9h0M93.9 561.3h0M53.2 571.7h0M65.7 578.4h0M68.2 518h0M86 504.1h0M91.2 578.9h0M81.1 562h0M78.5 530.7h0M58.1 500.8h0M96.3 571.7h0M55.4 585.2h0M86.1 562.2h0M80.8 541.9h0M96.1 561.4h0M83.7 558.3h0M45.2 571.3h0M80.8 520.7h0M85.9 480.8h0M48.1 541.4h0M60.5 530.9h0M55 541.6h0M68.2 507.6h0M78.4 525h0M68.1 584.7h0M81.2 548.5h0M68.1 564.8h0M104.2 511.2h0M78.6 538.4h0M45.4 524.3h0M88.7 581.8h0M68.7 521h0M96.5 515h0M70.6 503.6h0M127.2 534.6h0M119.5 565.1h0M80.8 538h0M58.1 558.6h0M81.2 527.7h0M50.2 582h0M93.9 561.7h0M114.1 508.1h0M42.8 521h0M83.5 541.4h0M53.1 542.2h0M121.8 524.4h0M78.4 551.4h0M93.8 514.7h0M71.3 507.9h0M65.8 518.5h0M65.5 508.1h0M70.9 484.9h0M83.4 518.1h0M73.5 518.3h0M40.2 541.6h0M81 558.1h0M90.9 578.8h0M98.7 565.2h0M78.2 538.3h0M109.3 510.9h0M83.6 550.9h0M55.1 558.2h0M70.7 514.2h0M111.8 508.1h0M96.6 564.9h0M83.5 507.8h0M81.2 554.7h0M98.9 592.1h0M42.9 534.1h0M83.3 565h0M78.5 551.5h0M83.5 517.5h0M121.7 548h0M47.6 517.6h0M96.2 494.4h0M78.7 510.5h0M43 537.9h0M106.6 585.5h0M86.3 500.9h0M91.5 565.3h0M68.1 564.8h0M42.9 507.8h0M104 504.4h0M121.7 534.7h0M63.3 582h0M80.8 548.3h0M81.2 554.4h0M65.9 521.5h0M42.7 527.7h0M91 565h0M91.2 562.2h0M83.5 561.4h0M81 527.6h0M118.8 534.8h0M78.3 524.5h0M116.8 561.3h0M58.1 510.8h0M96.4 507.4h0M63.3 520.9h0M65.6 487.5h0M99.3 511h0M93.8 564.5h0M124.1 514.4h0M68.5 574.8h0M81.2 538.2h0M83.7 554.8h0M53.2 561.6h0M65.5 521h0M81.2 574.9h0M52.9 552.3h0M83.5 524.6h0M88.8 507.5h0M104.2 504.4h0M63.2 571.9h0M111.4 538.5h0M106.2 561.6h0M42.8 524.8h0M70.9 514h0M78.6 521.3h0M55.6 500.6h0M119.2 541.4h0M86.1 514h0M65.9 497.7h0M58.2 547.8h0M73 510.8h0M124.5 517.6h0M83.6 511.1h0M65.9 575.1h0M98.8 497.4h0M101.2 562h0M81.2 548.1h0M70.9 504.4h0M42.6 534.6h0M66 521.3h0M45.3 527.9h0M37.7 541.8h0M81.1 548h0M103.8 514.4h0M78.4 481.1h0M86 514.3h0M124.6 568.4h0M53 545.1h0M75.7 588.3h0M63.1 589.1h0M116.9 528.1h0M84 548.2h0M58.1 565.2h0M50.5 504.2h0M73.3 571.6h0M81.2 541h0M81.1 504.6h0M76.3 480.8h0M58.2 493.7h0M81 547.9h0M53 534.4h0M101.6 575.3h0M52.9 541.5h0M80.9 544.5h0M109.2 511.3h0M40.1 538.2h0M119.5 558.2h0M93.8 568.2h0M79 537.4h0M96.5 564.7h0M78.5 514.9h0M65.6 591.9h0M78.4 555.1h0M40 507.6h0M75.5 514.9h0M78.6 542h0M80.8 527.8h0M47.8 554.9h0M58.1 517.9h0M78.5 588h0M104 565h0M40.3 537.7h0M81.4 558.5h0M83.8 538h0M83.7 564.9h0M78.1 555.1h0M81 531.2h0M78.5 538.3h0M73.6 504.4h0M78.6 520.9h0M88.7 494.3h0M50.7 538h0M62.8 514.4h0M60.5 564.9h0M83.6 500.7h0M68.4 510.8h0M86.1 501.1h0M78.7 554.5h0M60.7 521.2h0M47.8 521.7h0M81.1 547.8h0M81.1 547.9h0M81.3 501h0M83.4 521.2h0M73.3 517.9h0M83.5 568.2h0M81.2 521.1h0M60.9 517.5h0M96.3 574.9h0M83.7 561.4h0M81 555.3h0M68.4 504.5h0M81.2 541.2h0M81.1 504.1h0M78.2 507.9h0M83.7 517.6h0M114.1 511.1h0M81.1 521.3h0M98.9 514.6h0M98.9 500.8h0M96.4 568.3h0M113.9 531.1h0M88.5 514.7h0M52.9 520.7h0M91.2 514.1h0M93.8 518h0M84 534.5h0M55.5 578.6h0M86.2 572.2h0M60.6 497.7h0M88.8 558.5h0M71 568.2h0M83.7 561.3h0M83.3 534.6h0M111.7 511.1h0M101.6 598.4h0M86.3 571.8h0M99 501.3h0M60.8 551.5h0M124.3 528.3h0M101.3 558.2h0M50.5 544.8h0M117 527.9h0M50.4 531h0M83.8 544.7h0M70.9 568h0M93.8 501.4h0M83.5 480.3h0M91.4 562h0M66.1 521.3h0M63 568.8h0M50.4 554.9h0M73.5 585.1h0M81.1 514.4h0M45.2 545.2h0M114.3 517.4h0M89 518.2h0M63.2 504.4h0M124.5 538.2h0M58 551.5h0M78.3 531.2h0M52.9 511h0M50.7 568.8h0M68.1 564.9h0M48 545h0M80.9 558.5h0M86.1 561.6h0M93.8 575.4h0M65.6 507.4h0M78.4 528.4h0M83.5 538h0M47.9 548.1h0M57.8 588.5h0M76 520.9h0M78.6 534.5h0M53.2 558.2h0M80.7 551.7h0M83.6 557.9h0M83.8 527.5h0M103.9 564.6h0M73.5 581.8h0M109.2 501h0M78.5 527.7h0M58.3 581.4h0M65.9 520.8h0M52.9 531.2h0M116.8 541h0M94 517.4h0M50.3 514h0M53.2 534.4h0M52.8 544.7h0M65.9 521.1h0M56 520.7h0M78.7 530.7h0M58.2 568.6h0M76.3 531.2h0M78.4 544.6h0M57.9 554.7h0M86.5 508.1h0M109.1 574.8h0M81.3 491.1h0M114 567.9h0M55.8 500.9h0M83.5 578.7h0M116.8 585.3h0M47.6 527.5h0M101.5 558.1h0M78.5 541.4h0M88.6 568.2h0M81.2 565.4h0M106.6 575.4h0M50.2 582.2h0M50.3 545.2h0M86 518.1h0M78.7 514.5h0M71.2 507.5h0M58.3 548.3h0M78.7 544.6h0M40.5 524.8h0M55.3 521.5h0M71.1 493.8h0M68.3 504.1h0M75.8 511.4h0M91.2 561.7h0M81.2 541.6h0M83.6 551.5h0M109.4 518.1h0M53.1 494h0M119.6 524.6h0M53.2 568.7h0M68 504.2h0M58.3 544.6h0M83.6 551.5h0M78.4 541.3h0M103.9 514.7h0M57.8 581.7h0M60.8 544.8h0M68.3 498h0M86 575.5h0M55.5 534.6h0M86 504.5h0M83.7 534.4h0M68.2 483.8h0M85.8 571.7h0M58.1 585.3h0M73.5 514.3h0M88.9 585.5h0M96.4 564.8h0M88.3 578h0M86.2 490.5h0M124.4 503.9h0M81.1 571.8h0M57.8 521.4h0M78.4 527.9h0M55.6 496.7h0M65.8 511.1h0M88.9 504.1h0M81 504.6h0M91.4 568h0M71.2 517.9h0M101.8 572h0M68.2 575h0M65.5 574.9h0M101.7 504.8h0M124.8 534.6h0M55.7 521.4h0M65.8 514.3h0M55.5 544.4h0M83.9 511.2h0M88.8 517.8h0M93.8 500.8h0M91.1 582h0M73.4 484.2h0M78.4 595.3h0M50.3 537.6h0M81 538.2h0M53 528h0M83.4 500.7h0M73.1 514.5h0M86 578.1h0M47.9 544.5h0M81.2 524.8h0M78.5 491.3h0M55.9 551.3h0M60.3 507.6h0M122 554.6h0M75.6 494.4h0M83.5 588.3h0M86.3 511.3h0M96.2 558.4h0M52.9 568.1h0M80.9 578.8h0M109 581.7h0M78.8 534.7h0M81 541.5h0M91.1 500.8h0M70.7 578.6h0M88.4 497.9h0M75.7 568.6h0M58.3 545.2h0M55.3 534.7h0M114 517.3h0M78.6 524.6h0M50.3 551.8h0M65.5 511h0M68.3 564.7h0M58 511.1h0M83.7 598.4h0M98.8 500.7h0M63.3 568.5h0M91.2 568.4h0M80.9 548.2h0M121.5 514.9h0M78.8 537.6h0M88.8 517.6h0M65.9 514.5h0M62.8 521.4h0M80.7 554.8h0M81 514.5h0M124.7 551.5h0M78.8 521.3h0M55.6 565.4h0M101.2 564.8h0M78.6 534.7h0M65.8 521.1h0M93.6 558.6h0M73.3 517.8h0M88.8 480.3h0M75.9 585.5h0M78.5 541.4h0M50.3 507.8h0M86 578.3h0M73.1 518.1h0M78.5 507.7h0M63.4 585.6h0M81.3 545h0M76 503.9h0M55.5 524.8h0M78.5 544.3h0M101.2 561.1h0M57.7 545.1h0M52.9 511h0M96.4 517.9h0M76.2 544.8h0M47.8 554.7h0M88.6 511h0M73.3 521.2h0M81.2 557.8h0M88.8 517.6h0M80.9 528h0M78.3 534.5h0M81.1 537.6h0M65.6 490.9h0M109.4 507.6h0M121.6 521h0M60.8 517.6h0M48.1 528.1h0M98.8 578.4h0M71.1 568.2h0M83.8 524.5h0M86.2 517.3h0M93.9 564.8h0M106.4 507.3h0M86.1 571.3h0M86 571.9h0M106.6 558.2h0M86.6 510.6h0M81.1 534.7h0M93.8 517.9h0M78.5 544.5h0M55.7 551.6h0M99 514.5h0M58.3 544.7h0M78.6 534.9h0M55.6 511h0M111.5 591.9h0M53 504.5h0M66 514.7h0M85.9 561.7h0M88.6 564.7h0M98.9 518.1h0M83.6 551.2h0M58.1 521.3h0M101.4 588.8h0M106.7 564.6h0M76 513.9h0M81 491h0M47.9 521.2h0M52.8 528.1h0M93.4 561.5h0M78.6 558.4h0M47.6 577.7h0M98.6 561.3h0M68.6 568.7h0M85.8 595.3h0M83.6 561.3h0M78.6 537.6h0M116.6 518h0M78.6 557.9h0M65.7 595.3h0M45.6 538.3h0M78.6 548h0M119.7 568.3h0M70.6 574.9h0M55.4 503.8h0M101.5 510.8h0M119.5 534.9h0M96.5 511h0M88.7 565.2h0M101.4 561.3h0M76.1 483.9h0M52.9 548.1h0M86.3 558.4h0M83.5 527.7h0M73.5 517.3h0M96.5 598.5h0M70.9 490.3h0M78.6 534.4h0M93.6 517.6h0M68.3 521.3h0M60.7 521h0M83.6 551.4h0M40.3 503.9h0M111.7 581.5h0M68.4 521.5h0M83.6 490.8h0M71 581.7h0M75.9 578.5h0M68.3 507.7h0M75.7 517.8h0M80.9 585h0M76.1 484.1h0M99.3 558.1h0M119 534.6h0M98.7 514.7h0M70.8 564.7h0M101.5 581.6h0M65.6 497.8h0M101.4 500.9h0M45 558.4h0M60.6 494.1h0M63.2 564.8h0M91.2 511.1h0M45.2 531.6h0M83.7 528.1h0M58.2 548.6h0M91.1 507.7h0M60.8 507.6h0M76 518.3h0M91 517.9h0M104.1 564.6h0M55.5 507.4h0M96.3 558.3h0M58 581.5h0M70.8 517.6h0M81 534.9h0M45.6 558.3h0M47.9 510.5h0M86.4 500.6h0M60.7 521.3h0M58.1 568.4h0M106.4 518.2h0M73.5 581.9h0M60.5 513.7h0M114 565h0M45.3 534.2h0M52.9 578.2h0M65.7 571.5h0M98.9 564.9h0M98.9 510.7h0M116.6 518h0M91.2 571.7h0M55.7 568.5h0M50.3 521h0M65.8 521.2h0M78.8 507.3h0M58.2 548.2h0M81.3 494.3h0M78.5 554.9h0M99.1 558h0M88.6 507.4h0M80.9 541.2h0M73.3 521.5h0M58.1 561.7h0M86.1 568.8h0M58.1 517.6h0M83.6 531.7h0M89 571h0M81.1 534.8h0M83.7 538.4h0M94.3 565.3h0M63 517.8h0M75.9 568.3h0M106.5 581.7h0M78.4 524.7h0M96.2 518.2h0M40.3 524.3h0M78.8 497.5h0M52.9 541.7h0M96.2 565.3h0M63.1 520.8h0M96.3 517.7h0M60.6 518h0M93.7 510.9h0M104.4 517.6h0M70.6 511.5h0M81 511.1h0M70.6 507.4h0M83.5 592.1h0M55.6 551.4h0M68.4 511.3h0M88.4 558.4h0M78.6 503.9h0M55.6 544.9h0M55.4 544.9h0M88.8 558.6h0M106.5 514.5h0M62.9 565.2h0M91.2 581.7h0M47.7 551.9h0M68.2 565.1h0M73.3 517.6h0M50.4 558.5h0M50.3 551.6h0M78.3 541.9h0M75.8 575.2h0M89.1 505h0M80.9 548.2h0M81 538.1h0M53.1 558.3h0M91.4 558.2h0M70.7 565.2h0M94 518h0M60.8 531.6h0M48.2 561.2h0M75.8 568.7h0M96.2 561.8h0M81 544.5h0M91.5 517.8h0M58.3 582.1h0M78.6 518.2h0M60.9 520.8h0M91.3 510.6h0M58 537.8h0M76 514.3h0M99 575.1h0M73.3 564.5h0M86.2 561.4h0M53 548.2h0M90.9 562h0M76.4 531.1h0M81 537.8h0M55.8 568.3h0M106.7 514.4h0M71 568.2h0M65.6 504.3h0M55.7 500.9h0M78.3 538.5h0M94 561.4h0M55.5 554.7h0M83.4 534.8h0M57.9 554.6h0M78.4 517.9h0M73.2 514.3h0M76.3 531.2h0M42.8 527.4h0M93.8 507.5h0M71 581.6h0M57.9 527.8h0M91.3 508h0M40.2 531.3h0M81.1 521.4h0M55.1 541.3h0M53.1 554.7h0M75.9 520.9h0M83.4 521.2h0M91.3 508.3h0M121.5 554.3h0M42.9 531.8h0M83.6 554.9h0M78.4 568.4h0M60.6 574.8h0M47.8 510.7h0M55.5 521.4h0M91.1 571.6h0M58.2 534.2h0M114.2 575.5h0M81 534.2h0M78.1 528.6h0M91.3 504h0M96.4 504.8h0M80.9 581.8h0M78.6 521.2h0M96.4 504.6h0M80.9 561h0M119.3 524.5h0M81.1 514h0M65.9 520.9h0M81.4 534.7h0M42.6 531.1h0M42.7 554.8h0M127.2 544.6h0M55.4 564.8h0M53.1 531h0M53.1 534.7h0M104.1 561.9h0M96.3 517.7h0M45.3 541.6h0M81.1 524.4h0M55.6 582.2h0M75.8 568.6h0M68.4 564.6h0M78.7 520.9h0M42.9 544.9h0M78.6 528.4h0M78.2 501.3h0M53 534.2h0M78.4 521h0M50 497.5h0M55.9 507.7h0M47.9 517.5h0M93.6 514.7h0M75.7 501.1h0M83.9 487.4h0M65.7 515h0M106.6 588.9h0M83.5 602h0M60.8 497.4h0M91.2 517.7h0M83.7 511.3h0M53 544.9h0M83.6 545.1h0M73.5 508.4h0M53 574.8h0M63.4 513.9h0M96.6 564.8h0M98.8 514.3h0M119.1 551.6h0M40.5 541.5h0M80.8 538.1h0M96.2 592.4h0M122 528.2h0M93.7 500.9h0M78.3 585h0M101.5 504.9h0M50.4 548h0M83.4 528.4h0M78.3 520.8h0M83.8 551.4h0M93.6 511h0M106.3 571.5h0M53.2 544.6h0M91.1 561.9h0M98.9 561.5h0M109 561.7h0M63.3 564.9h0M78.2 574.8h0M78.8 554.7h0M81 551.6h0M91.6 571.6h0M47.9 534.6h0M99 501.3h0M55.7 521.5h0M76.2 517.8h0M114 545.3h0M96.2 561.6h0M109.2 558.2h0M78.6 494.3h0M78.7 527.8h0M76 514.4h0M65.9 494.3h0M83.7 514.8h0M83.3 531.2h0M52.9 497.8h0M111.5 497.5h0M78.8 534.4h0M81 531.4h0M116.8 511.1h0M83.7 538.1h0M58.3 544.7h0M109 568.1h0M81.1 555h0M37.7 541.7h0M78.4 554.7h0M63 508h0M88.8 518h0M58 494.5h0M88.6 490.9h0M99.1 514.5h0M86.2 518.3h0M91.1 565.2h0M86.1 507.3h0M76 504.4h0M60.7 558.3h0M70.6 564.8h0M60.5 484.2h0M78.7 527.9h0M68.3 514.7h0M94 501.4h0M55.5 551.8h0M65.9 517.8h0M78.2 564.8h0M81.3 541.1h0M60.9 524.4h0M78.3 504.1h0M78.5 530.9h0M78.5 558.1h0M73.2 521.2h0M50.3 541.2h0M75.7 510.9h0M53 538h0M73 571.4h0M86.1 514.7h0M58.1 568.3h0M78.8 534.5h0M83.5 514.5h0M50.6 548h0M57.8 547.9h0M68.2 588.4h0M68.5 520.8h0M119.2 531.5h0M50.7 527.8h0M81.3 561.6h0M58.2 535h0M55.8 534.3h0M75.9 504.1h0M58.4 555h0M88.3 513.9h0M83.6 507.3h0M93.8 575h0M50.6 513.9h0M80.9 571.8h0M60.8 571.8h0M60.5 514.3h0M96.4 568.2h0M83.5 514.6h0M78.3 551.6h0M73.4 514.8h0M58 534.9h0M61 548.2h0M85.9 517.7h0M73.3 520.9h0M60.5 527.6h0M50.3 534.7h0M91.2 565h0M86.4 575.3h0M73.3 564.7h0M60.3 575.6h0M55.8 520.7h0M106.8 504.4h0M96.5 517.7h0M96 561.6h0M116.9 561.8h0M86.1 575.3h0M78.4 568.3h0M47.9 504.3h0M121.9 535.1h0M116.8 558.2h0M78.5 558.3h0M55.9 578.7h0M75.8 514.4h0M80.9 504.9h0M55.6 538.4h0M55.4 497.9h0M91.3 514.5h0M81 558.1h0M94 487.6h0M55.6 504.3h0M126.9 504.5h0M119.3 551.3h0M88.8 582.1h0M58.1 578.5h0M53.1 504h0M83.3 520.8h0M91.2 585.2h0M78.8 537.7h0M78.5 547.7h0M66 487.2h0M101.6 504.1h0M78.3 517.9h0M50.1 520.9h0M109.3 565.4h0M99 517.5h0M81 561.2h0M55.4 507.7h0M78.4 541.7h0M63 521.1h0M68.2 571.5h0M70.8 497.6h0M124.3 517.9h0M65.5 504.5h0M50.4 585.2h0M52.9 538.1h0M104.1 494.3h0M88.6 510.7h0M52.9 521.3h0M86.2 578.6h0M65.7 585.1h0M104.3 510.9h0M53 510.5h0M47.9 534.9h0M106.5 561.8h0M65.9 510.6h0M98.9 517.9h0M83.8 531.3h0M65.2 591.3h0M50.4 514.1h0M58 540.9h0M68.1 514.5h0M88.9 517.7h0M47.9 545.1h0M83.6 572.1h0M47.9 538.1h0M55.4 534.7h0M91.3 558.6h0M83.5 578.2h0M111.7 575.5h0M78.9 527.9h0M81 571.5h0M83.4 531.6h0M83.4 548.1h0M83.6 531.3h0M58 547.8h0M119.5 575h0M93.7 514.6h0M96.4 498h0M78.5 561.5h0M81.1 521.8h0M83.6 524.4h0M86.2 514.8h0M68.4 574.6h0M93.6 493.7h0M58 534.5h0M50.4 558.2h0M78.5 525.1h0M81 511.1h0M81.2 504.2h0M104.1 574.9h0M83.5 558.1h0M63.3 517.9h0M58 531.5h0M63.1 574.9h0M58.3 534.5h0M60.5 480.2h0M81 588.5h0M78.5 527.7h0M76 501h0M78.6 538h0M80.9 518h0M55.3 541.6h0M101.7 507.2h0M116.6 558.3h0M81.1 548.1h0M60.8 521.3h0M106.6 517.8h0M63.2 520.8h0M70.8 568.9h0M81 551.8h0M52.5 555.2h0M83.5 541.1h0M89 494.5h0M83.2 527.6h0M119.2 544.7h0M75.8 514.2h0M70.8 565.1h0M78.7 541.2h0M63.2 508h0M124.5 544.6h0M78.7 541.3h0M43 565h0M124.1 520.9h0M45.4 528h0M52.9 522h0M91.4 575.1h0M96.3 511.1h0M81 501.1h0M86.4 511.4h0M81 554.4h0M63 571.8h0M116.7 554.7h0M114.2 564.9h0M114.4 504.5h0M83.9 524.2h0M40.3 514.6h0M50.3 544.9h0M101.3 558.6h0M81.1 531.1h0M83.8 582h0M50.3 521.2h0M81 551.2h0M75.8 517.8h0M101.4 572.1h0M103.8 484.2h0M50.6 517.6h0M63.3 521.6h0M103.9 561.3h0M126.9 518h0M52.9 528h0M119.3 541.6h0M78.6 540.9h0M83.5 558.4h0M83.5 564.5h0M81.2 511.2h0M96.5 493.9h0M70.7 487h0M78.5 571.7h0M50.4 527.6h0M114.5 534.7h0M119.5 541.7h0M119.5 534.4h0M83.5 551h0M80.9 537.7h0M78.6 521.1h0M76.1 504.1h0M55.3 507.4h0M53 551.4h0M109.2 561.3h0M68.2 581.7h0M78.4 541.5h0M94.1 514.7h0M71 504.3h0M81.2 527.8h0M73.4 568.3h0M83.3 513.8h0M119.2 558.6h0M78.3 504.3h0M83.8 531.4h0M78.5 520.8h0M47.9 535.3h0M86.3 518h0M68.3 568.1h0M45.3 524.2h0M58.4 554.6h0M101.2 558.1h0M80.9 504.6h0M85.9 514.9h0M76 508.1h0M96 582.1h0M63.2 507.8h0M78.3 541.6h0M81.1 544.4h0M111.9 561.7h0M81.2 554.8h0M50.5 548.4h0M76.2 517.7h0M73.3 575.3h0M70.9 507.5h0M94 578.4h0M80.8 558.2h0M88.3 558.2h0M68.1 487.1h0M78.5 527.6h0M63.1 564.8h0M76.2 534.9h0M50.5 525h0M78.6 548h0M81.2 484.1h0M81 548.5h0M58 500.7h0M86.4 561.9h0M50.3 524.5h0M106.4 561.3h0M83.8 511.2h0M80.8 554.8h0M70.8 497.6h0M83.5 521.4h0M60.4 561.5h0M60.7 521.2h0M81.2 568.4h0M80.6 521h0M42.6 544.5h0M83.7 534.8h0M50.4 559.1h0M65.3 491.1h0M58.4 500.8h0M121.6 548h0M91.2 511h0M83.5 568.2h0M68.4 520.4h0M80.9 527.9h0M88.6 494.6h0M81.1 528h0M80.7 524.2h0M73.5 513.9h0M63.3 521.6h0M53.1 544.1h0M73.3 565.1h0M47.6 531h0M52.8 551.5h0M80.8 504.1h0M83.9 534.4h0M83.7 551.3h0M81 538.1h0M88.8 517.8h0M70.8 504.3h0M106.4 561.2h0M45.2 531.2h0M55.8 531h0M80.9 565.2h0M96.2 511h0M70.7 578.5h0M91.1 510.6h0M89.1 558.7h0M63 487.8h0M106.1 508.1h0M42.7 557.8h0M88.8 491h0M83.7 601.6h0M78.8 521h0M114.2 538.4h0M65.8 565.2h0M83.7 538h0M78.9 514.5h0M70.7 585.3h0M111.8 514.6h0M111.9 511h0M50.6 497.1h0M76 484h0M101.5 504.6h0M68.2 572h0M68.1 581.9h0M78.5 558.4h0M60.6 565.1h0M81.1 534.6h0M71 514.1h0M111.5 507.7h0M52.9 564.9h0M116.8 541.4h0M111.6 565.1h0M78.4 520.6h0M60.6 571.9h0M124.4 507.6h0M101.4 565h0M96.4 599.1h0M78.6 558.5h0M71 507.9h0M42.7 545.1h0M124.3 503.8h0M52.7 541.3h0M52.9 558.7h0M81 568.5h0M50.1 520.7h0M88.7 561.6h0M68.5 578.2h0M73.1 476.8h0M91.4 494.3h0M78.6 534.5h0M91.1 501.3h0M109.3 564.6h0M121.7 544.8h0M78.4 547.9h0M60.9 514.8h0M111.7 561.5h0M76 514.2h0M81.1 534.6h0M53 551.6h0M78.3 507.5h0M55.5 511.3h0M111.5 517.7h0M78.7 497.9h0M91.2 568h0M78.4 521.2h0M81.2 500.4h0M93.7 507.6h0M71 572h0M53.4 521.3h0M106.6 497.3h0M83.3 548.5h0M104 575.4h0M42.8 514.5h0M58.4 565.1h0M70.9 514.2h0M55.6 551.4h0M73.5 568.4h0M93.7 504.9h0M98.7 491.3h0M81 541.6h0M58.1 578.8h0M58.6 545h0M65.8 517.6h0M60.7 568.3h0M119.6 541.5h0M65.7 584.8h0M83.8 544.6h0M86 561.8h0M58.2 561.6h0M70.6 484h0M81.2 574.9h0M86.2 565.2h0M73.3 585h0M78.4 524.3h0M83.7 565h0M70.9 507.7h0M83.6 520.7h0M60.7 503.9h0M78.4 541.6h0M58.2 524.6h0M76 497.6h0M83.8 537.8h0M63.1 514.5h0M75.9 517.8h0M78.3 538.2h0M83.6 555.1h0"/>
<path fill="none" stroke="#838383" stroke-width="3.0" stroke-linecap="round" d="M76.9 524.6h0M80.3 543.8h0M79.7 594.4h0M80 570.4h0M80.9 552.4h0M80.4 544.4h0M79.6 547.7h0M83.1 497.5h0M81.1 558.9h0M81.8 488.2h0M81 520.9h0M83.2 506.5h0M81.8 559.2h0M79.7 528h0M78 545.4h0M78.4 541.3h0M79.2 563.1h0M79.9 543.7h0M77.9 585.4h0M80 515.4h0M78.2 534.9h0M76.3 576.4h0M80.3 526.6h0M81.9 525.7h0M79.8 592.8h0M83.4 532.9h0M79.2 531.6h0M79.3 519.9h0M79.1 567.2h0M78.1 553.8h0M79.8 540.1h0M79 560.5h0M80.2 530.2h0M83.7 532.9h0M82.1 533.1h0M82.5 561.5h0M77.3 542.2h0M83 592.7h0M79.1 537.9h0M80.4 515.6h0M79.3 509.3h0M81.8 541.9h0M78.6 509.2h0M79 526.2h0M79.8 518.5h0M81.6 512.7h0M81.1 570.4h0M77.6 549.8h0M76.3 510.3h0M78.5 527.4h0M79.5 504.6h0M79.4 504.2h0M78.9 539.3h0M82.8 560.1h0M78.8 508.7h0M80.5 497.9h0M80 533h0M82.6 520.8h0M80.5 522.1h0M79.4 542.9h0M79.7 593.4h0M78.5 498.7h0M79 542.4h0M76.6 492.3h0M84 550.4h0M82.2 520.8h0M76.3 554.9h0M79.8 522.8h0M81.3 538.3h0M77.8 505.2h0M80.9 510h0M80.7 587h0M79.1 523.3h0M79.3 506.6h0M79.9 527.8h0M81.4 489.4h0M77.7 563.5h0M82.3 548.8h0M83.5 535.8h0M80.3 545.8h0M78.6 524.4h0M78.3 519.2h0M82.1 489.5h0M79.7 548.9h0M81 507.1h0M78.1 541.9h0M81.5 552.3h0M76.7 555.8h0M77.2 518.9h0M80.4 539.7h0M81.8 561.3h0M78.3 534.8h0M80.2 527.6h0M79.6 539.2h0M83.5 506.2h0M79.8 506h0M77.4 507.6h0M81.8 521.9h0M80.7 557.9h0M80.5 539.5h0M82.5 546.3h0M79.1 528.1h0M80.2 535.7h0M80.5 528.3h0M78.9 552.6h0M83.9 546h0M82.7 508.2h0M77.6 553.5h0M81.7 517.9h0M81.1 531.6h0M77.1 554.9h0M79.2 515h0M81.1 508.8h0M76.2 529h0M79.7 513.2h0M78.2 561.7h0M81.1 542.9h0M81.1 500.6h0M81.2 588h0M83.2 526.3h0M76.9 552.7h0M80.7 553.4h0M83.7 493.8h0M81.2 528.4h0M80.3 558.2h0M82.4 528.3h0M82.2 508.9h0M77 522.7h0M77.6 523.1h0M81.9 563.2h0M78.3 549.8h0M80.2 538.2h0M82.4 536.1h0M82.8 487.7h0M81.7 548h0M82.1 521.6h0M81.6 541.7h0M79.3 605.2h0M79.3 504.8h0M78 553h0M80.9 536.7h0M78.9 541.8h0M78.3 543.9h0M77.1 537.9h0M80.9 538.6h0M82.3 545.3h0M77.4 519.6h0M78.3 530.7h0M82.4 542.9h0M77.7 515.9h0M82.1 490.9h0M78.9 515.7h0M77.6 543.4h0M78.8 560.3h0M82.7 490.7h0M81.6 550.8h0M82.9 561.2h0M76.8 531.9h0M78.5 510.7h0M83.7 567.5h0M81.8 510.7h0M80.4 510.2h0M79.3 519.3h0M81.5 521.4h0M82.2 550.3h0M78.8 526.9h0M78.7 533.4h0M77.9 544.2h0M82.1 561.3h0M82.9 510.2h0M78.7 572.4h0M76.9 534.6h0M81.4 556.3h0M78.3 549.3h0M78 530.3h0M76.9 579.6h0M79.1 560.9h0M77.1 521.8h0M80.5 584.6h0M80.7 521.4h0M77.6 583.5h0M81.3 579.2h0M77.3 529.5h0M82.4 562h0M80.7 520.7h0M80.7 576.9h0M78.3 572.4h0M82.9 483.8h0M78.9 566.9h0M79.6 526.5h0M83.4 545.2h0M79.2 503.9h0M78.7 585.3h0M83 555.4h0M78.7 536.5h0M81.1 529.5h0M80.1 548.7h0M81.1 524.7h0M81.7 529.9h0M81.9 530.5h0M80.4 524.6h0M79.6 588.4h0M78.4 547.6h0M77.6 572.2h0M80.4 549.6h0M82 543.2h0M79.7 518.6h0M77 521.1h0M79.5 565.5h0M80.5 522.2h0M77.2 528.9h0M80.8 500.4h0M78.5 573.1h0M80.6 556.6h0M77.4 521.3h0M83.3 566.9h0M80.5 525.1h0M79.2 582.3h0M79.3 602.3h0M78.5 540.2h0M78.8 522.5h0M78.1 502.3h0M80.5 528.4h0M79.4 514.7h0M78.8 520.2h0M82 497.6h0M78.6 586.2h0M82.8 516.9h0M82.6 554.2h0M82.1 504.5h0M78.8 535.7h0M82.3 592.8h0M76.4 530.2h0M79.4 530.5h0M83.3 542.9h0M82.5 499.5h0M80.2 527.3h0M76.7 570.2h0M76.8 554.4h0M77.5 511h0M82.5 553.6h0M76.4 499.6h0M80.9 543.3h0M80.5 553.5h0M80.2 556.9h0M82.7 553.7h0M78.1 517.2h0M80.4 552.4h0M79.2 604.1h0M81.3 531.1h0M77.7 567h0M80.3 575h0M83.8 572.1h0M80.2 544.2h0M81.8 537.5h0M81.9 504.4h0M80.9 512.3h0M79.6 538.7h0M78.6 564.5h0M81.8 497.5h0M81.1 563.7h0M78.9 542.8h0M80.1 558.8h0M80.4 549.2h0M78.9 574.1h0M79.3 562.1h0M77.6 479.2h0M81 522.4h0M80.5 533.8h0M81.9 555.5h0M80.9 559.9h0M79.5 559.2h0M81.8 549.4h0M83 535.2h0M81.3 534.9h0M79.2 548.4h0M82.9 511.8h0M79.1 512.9h0M81.4 520.9h0M80.5 503.5h0M82.3 512h0M78 560h0M79.3 576.8h0M80.2 544.9h0M80.9 542.7h0M83.8 529.9h0M79.2 562.5h0M78.5 547.7h0M80.4 554.4h0M82.3 518.3h0M78.4 492h0M80.6 560.1h0M82 549.8h0M78.8 526.7h0M79.3 496.9h0M78.5 496h0M76.4 506.9h0M79.9 522.7h0M80 542.5h0M79.1 546.6h0M79.1 544.1h0M80.6 557h0M80.2 517h0M78.2 520.7h0M77.6 563.1h0M79.8 540.9h0M83.5 523.2h0M78.8 547.5h0M80.5 543.4h0M81.9 529.4h0M83 571.1h0M82.9 564.7h0M82.1 533.3h0M78.8 533.9h0M82.4 548.3h0M80.7 518.1h0M80 539.9h0M81 505.4h0M82.2 543.9h0M81.2 543.4h0M81.6 519.4h0M83.7 563.7h0M79 534.5h0M79.9 597.3h0M79.3 573.4h0M80.4 548.7h0M76.7 548h0M79 484.2h0M79.2 498.1h0M79 527h0M77 526.3h0M77.9 523.6h0M76.8 509.4h0M82.9 515.8h0M78.7 549.1h0M79.8 562.8h0M78.5 564.3h0M77.2 528.5h0M81.8 591.6h0M80.5 481.5h0M81.5 564.7h0M78.6 562.3h0M82.1 516.3h0M81.6 528.9h0M80.5 545.6h0M81.3 556.6h0M80.1 500.9h0M79.2 559.4h0M78.9 536.9h0M81 527.1h0M83.4 554.9h0M82.5 498.2h0M81.2 498.2h0M77.1 553.9h0M78.1 559.8h0M77.9 557h0M79.3 547.4h0M82.2 590.5h0M78.8 493.7h0M81.3 536.4h0M78.5 554.4h0M78.1 545.3h0M83 547.6h0M81.9 552h0M81.3 579.3h0M80.4 500.2h0M78.4 519.4h0M79 532.9h0M82.9 596.4h0M82.3 560.4h0M80.9 572.1h0M83.7 570.3h0M80.7 522.5h0M81.5 529.7h0M83.3 534.1h0M77.4 536.4h0M82.4 525.3h0M79.8 566.6h0M76.9 519.2h0M80.5 523.1h0M81.2 555h0M77 518.7h0M80.6 551.4h0M83.6 550.9h0M81.5 496.1h0M82.1 497.2h0M81.7 524.8h0M79.4 500.2h0M82.7 563.7h0M76.9 488.7h0M80 555.8h0M82.5 553.5h0M79.7 510.3h0M81.9 546.2h0M78.5 531.4h0M77.4 546.4h0M81.5 504.8h0M79.7 567.7h0M77.7 529.5h0M79.7 541.4h0M81.5 506.1h0M77.6 523.3h0M80.2 539.4h0M82.2 483.6h0M80.9 543.9h0M80.6 524.1h0M77.1 596.1h0M79.8 559.7h0M77.4 530.2h0M77 531.9h0M81.3 538.3h0M81.3 535.7h0M82.1 537.3h0M81.4 507.1h0M82.3 531.1h0M81.3 525.9h0M79.5 521.1h0M77.5 542.6h0M78.6 556.1h0M80 539.2h0M77.7 549.9h0M76.8 562.6h0M76.4 540.2h0M81.8 529.6h0M80 576.1h0M79.9 531.4h0M78.6 561.4h0M79.6 546.7h0M81.3 518.7h0M80.8 509.8h0M81 512.8h0M81.2 537.4h0M79.5 574.3h0M84 550.3h0M81.2 506.4h0M78.7 524.4h0M80.6 554h0M83.6 496.9h0M80.2 527.3h0M83.2 552.3h0M81.5 539.7h0M79.6 561.7h0M78.6 528h0M79.1 557.4h0M78.2 526.1h0M81 517.6h0M81.4 526.4h0M77.7 561.4h0M83.5 553.4h0M79.5 533h0M81.6 521h0M83.3 557.5h0M77.1 544.1h0M78.4 497h0M77.1 554.2h0M81.7 524.1h0M80.6 530.3h0M80.4 545.2h0M82.3 536.4h0M78.7 542.6h0M76.4 540.5h0M80.2 547.2h0M79 586.7h0M81.1 542.1h0M78.2 529.5h0M79.8 537.5h0M82.7 602.4h0M77.4 543.9h0M81.9 567.9h0M77.8 504.4h0M81.2 565.3h0M80.3 552h0M80.9 513.1h0M77.8 519.8h0M82.2 538.5h0M79.4 528.9h0M76.7 565.9h0M81.5 527.3h0M78.5 491.7h0M79.8 543.8h0M80.9 526.2h0M80.4 545.5h0M81.5 576.8h0M82.2 536.5h0M79.7 521.3h0M78 567.4h0M80 513.6h0M79 538.3h0M80.5 548.3h0M81.6 585.3h0M80.8 570.4h0M78.5 509.1h0M80.4 569.9h0M78 545.1h0M83.4 539.9h0M79.2 526.3h0M82.5 514.5h0M78.8 498.8h0M81.1 481.5h0M82.9 557.7h0M78.9 574.7h0M83 488.9h0M81.4 523.2h0M79.8 504.3h0M78.6 574.7h0M81.1 506.7h0M80.7 542.7h0M78.6 499.2h0M79.3 568.5h0M79.4 542.1h0M77.1 507h0M78.3 550.4h0M81.1 551.9h0M78.4 543.2h0M78.7 558.5h0M79.3 588.7h0M81.6 540.5h0M78.7 525.3h0M82.9 588h0M81.9 566.3h0M78.6 499.6h0M81.1 508.4h0M78.6 529.1h0M79.4 575.5h0M82.8 574.6h0M78.2 522.4h0M79.3 548.4h0M82.9 555h0M80.7 542.4h0M79.2 506.1h0M81.4 514.6h0M78.1 516h0M80.9 544.2h0M83 537.5h0M80.3 531.4h0M81.9 540.3h0M82.2 516.9h0M80.7 524.8h0M81 558.4h0M80.1 563.3h0M78.6 524.5h0M78.5 553.7h0M79.9 545.9h0M78.9 543.5h0M82.7 522h0M80.6 516.1h0M83.8 552.1h0M76.7 550.9h0M77.8 520.3h0M79.2 551h0M79.8 545.2h0M78.7 528.8h0M81.4 515.8h0M79.4 510.9h0M77.7 542h0M79.4 550.1h0M79.1 564.6h0M81.4 563.1h0M80.7 590.8h0M78 519h0M83.5 532.7h0M83.1 533h0M80 551.7h0M81.5 544.5h0M81.1 558.1h0M81.6 552.7h0M81.5 602.6h0M79.1 559.9h0M80.6 536.1h0M77.7 529.3h0M80.9 476.7h0M81.1 558.6h0M81.9 546.7h0M81.7 539.1h0M79.5 525h0M83.4 535.3h0M77.8 540.3h0M81.6 587.9h0M80.6 562.7h0M77.2 521.6h0M82.5 500.4h0M82 500.9h0M80.4 542.4h0M76.8 530.5h0M79.7 583.2h0M80.4 486.5h0M78.5 584h0M78.8 520.5h0M80.2 524.7h0M79 523.9h0M80 519.5h0M82.8 510.7h0M80.7 545.4h0M81.2 546.4h0M81.9 534h0M78.4 581h0M81.5 570.7h0M81.2 583.4h0M79.3 544.6h0M83.7 541.2h0M80.8 522.2h0M76.3 513.6h0M77.8 550.7h0M77 554.9h0M80.3 562.7h0M82 555.1h0M79 525.2h0M78.6 532h0M80.6 543.9h0M78.8 508h0M80.4 570.9h0M80.5 567.8h0M83.9 540.9h0M80.2 530.2h0M77.8 485.5h0M80.7 560.5h0M79.7 593.9h0M80.5 547.4h0M79.8 529.7h0M82.5 536.1h0M77.1 565.1h0M79.5 505h0M81.6 556.2h0M80.2 493.7h0M83.5 530.6h0M79.2 574.3h0M79.6 502.5h0M83.9 547.6h0M80.7 542.3h0M79.5 519.8h0M82.8 582.8h0M81.6 526.9h0M81.9 562.6h0M82.4 523.9h0M83.7 524.9h0M79.7 545.8h0M78.5 539.5h0M82 563h0M79.3 573.4h0M83.1 524.9h0M78.1 531.9h0M83.2 489.9h0M78.5 548.5h0M78.4 554.8h0M81.7 528.4h0M80.5 532.1h0M78.7 579.4h0M79.9 508h0M81.3 528.1h0M83.8 556.6h0M79.6 529.4h0M83.8 528.4h0M80.6 535.7h0M79 558.5h0M79.8 541.3h0M80.2 540h0M81.8 565.3h0M78.4 539.8h0M79.9 557.6h0M80.2 545h0M81.3 527.4h0M80 534.4h0M82.2 525.6h0M82.8 558.7h0M81 530.6h0M80.6 520h0M82.9 546.7h0M78 559h0M83.7 526.2h0M81.5 551.7h0M81.7 591.6h0M79.6 596.2h0M79.2 508.4h0M82.6 546.3h0M82.4 520h0M79.1 502.5h0M79.7 511.6h0M80.3 579h0M78.7 559.2h0M81 508h0M76.5 531.8h0M82 532.4h0M78.7 546.9h0M83.1 574.1h0M79.3 528h0M78.2 588.8h0M80 573.5h0M83.4 549.8h0M80.6 532.1h0M83.4 502.2h0M79.9 540.7h0M78.6 507.2h0M80 526.3h0M80 537.5h0M77.8 564.2h0M78.5 536h0M77.3 544.4h0M83.5 506.1h0M82.3 554.4h0M78.7 523.4h0"/>
<path fill="none" stroke="#ea2a27" stroke-width="3.0" stroke-linecap="round" d="M119.3 471.9h0"/>
<path fill="none" stroke="#ea2a27" stroke-width="3.0" stroke-linecap="round" d="M154.2 503h0"/>
<path fill="none" stroke="#ea2a27" stroke-width="3.0" stroke-linecap="round" d="M143.1 555.5h0"/>
<path fill="none" stroke="#ea2a27" stroke-width="3.0" stroke-linecap="round" d="M143.1 552.8h0"/>
<path fill="none" stroke="#ea2a27" stroke-width="3.0" stroke-linecap="round" d="M138.8 577.1h0"/>
<path fill="none" stroke="#ea2a27" stroke-width="3.0" stroke-linecap="round" d="M130.3 579.8h0"/>
<path fill="none" stroke="#ea2a27" stroke-width="3.0" stroke-linecap="round" d="M122.7 589.2h0"/>
<path fill="none" stroke="#ea2a27" stroke-width="3.0" stroke-linecap="round" d="M109.1 591.9h0"/>
<path fill="none" stroke="#3db54a" stroke-width="3.0" stroke-linecap="round" d="M36.8 503h0"/>
<path fill="none" stroke="#3db54a" stroke-width="3.0" stroke-linecap="round" d="M38.5 503h0"/>
<path fill="none" stroke="#3db54a" stroke-width="3.0" stroke-linecap="round" d="M36 516.4h0"/>
<path fill="none" stroke="#3db54a" stroke-width="3.0" stroke-linecap="round" d="M36 525.9h0"/>
<path fill="none" stroke="#3db54a" stroke-width="3.0" stroke-linecap="round" d="M36 546.1h0"/>
<path fill="none" stroke="#3db54a" stroke-width="3.0" stroke-linecap="round" d="M51.3 511h0"/>
<path fill="none" stroke="#3db54a" stroke-width="3.0" stroke-linecap="round" d="M47.9 509.7h0"/>
<path fill="none" stroke="#3db54a" stroke-width="3.0" stroke-linecap="round" d="M58.1 581.1h0"/>
<path fill="none" stroke="#3db54a" stroke-width="3.0" stroke-linecap="round" d="M63.2 565h0"/>
</g>
<rect x="30.20" y="465.00" width="129.50" height="145.30" fill="none" stroke="#999" stroke-width="0.8" />
<line x1="28.20" y1="470.60" x2="30.20" y2="470.60" stroke="#555" stroke-width="0.7" />
<text x="27.6" y="473.5" font-size="7.95" text-anchor="end" fill="#444" stroke="#444" stroke-width="0.22">5.0</text>
<line x1="28.20" y1="504.30" x2="30.20" y2="504.30" stroke="#555" stroke-width="0.7" />
<text x="27.6" y="507.2" font-size="7.95" text-anchor="end" fill="#444" stroke="#444" stroke-width="0.22">2.5</text>
<line x1="28.20" y1="538.00" x2="30.20" y2="538.00" stroke="#555" stroke-width="0.7" />
<text x="27.6" y="540.9" font-size="7.95" text-anchor="end" fill="#444" stroke="#444" stroke-width="0.22">0.0</text>
<line x1="28.20" y1="571.70" x2="30.20" y2="571.70" stroke="#555" stroke-width="0.7" />
<text x="27.6" y="574.6" font-size="7.95" text-anchor="end" fill="#444" stroke="#444" stroke-width="0.22">−2.5</text>
<line x1="28.20" y1="605.40" x2="30.20" y2="605.40" stroke="#555" stroke-width="0.7" />
<text x="27.6" y="608.3" font-size="7.95" text-anchor="end" fill="#444" stroke="#444" stroke-width="0.22">−5.0</text>
<line x1="41.10" y1="610.30" x2="41.10" y2="612.30" stroke="#555" stroke-width="0.7" />
<text x="41.1" y="619.5" font-size="7.95" text-anchor="middle" fill="#444" stroke="#444" stroke-width="0.22">−5</text>
<line x1="83.60" y1="610.30" x2="83.60" y2="612.30" stroke="#555" stroke-width="0.7" />
<text x="83.6" y="619.5" font-size="7.95" text-anchor="middle" fill="#444" stroke="#444" stroke-width="0.22">0</text>
<line x1="126.10" y1="610.30" x2="126.10" y2="612.30" stroke="#555" stroke-width="0.7" />
<text x="126.1" y="619.5" font-size="7.95" text-anchor="middle" fill="#444" stroke="#444" stroke-width="0.22">5</text>
<text x="32.3" y="473.3" font-size="7.95" fill="#111" stroke="#111" stroke-width="0.22">R= 0.00033</text>
<text x="156.6" y="473.3" font-size="7.95" text-anchor="end" fill="#111" stroke="#111" stroke-width="0.22">HEL</text>
<text x="0.0" y="0.0" font-size="7.95" text-anchor="middle" fill="#111" stroke="#111" stroke-width="0.22" transform="translate(10,538) rotate(-90)">Log2FC(P−Body/Cyto)</text>
<text x="97.2" y="629.3" font-size="7.95" text-anchor="middle" fill="#111" stroke="#111" stroke-width="0.22">Log2FC(shDDX6/shCTRL)</text>
<text x="193.0" y="447.5" font-size="14" fill="#000" font-weight="bold">i</text>
<rect x="226.80" y="474.10" width="10.60" height="5.10" fill="#959595" />
<rect x="226.80" y="482.30" width="10.60" height="5.10" fill="#6cbf6f" />
<text x="240.0" y="479.4" font-size="7.9" fill="#111" stroke="#111" stroke-width="0.22">Cytosol</text>
<text x="240.0" y="487.2" font-size="7.9" fill="#111" stroke="#111" stroke-width="0.22">P-bodies</text>
<clipPath id="cI1"><rect x="225.6" y="490" width="94.6" height="96.3"/></clipPath>
<g clip-path="url(#cI1)">
<path d="M237.00 585.90L237.00 585.90L237.48 585.90L237.96 585.90L238.44 585.90L238.92 585.90L239.40 585.90L239.88 585.90L240.37 585.90L240.85 585.90L241.33 585.90L241.81 585.90L242.29 585.90L242.77 585.90L243.25 585.89L243.73 585.84L244.21 585.72L244.69 585.55L245.17 585.35L245.65 585.13L246.14 584.91L246.62 584.69L247.10 584.48L247.58 584.26L248.06 584.04L248.54 583.82L249.02 583.61L249.50 583.39L249.98 583.17L250.46 582.95L250.94 582.73L251.42 582.50L251.91 582.27L252.39 582.02L252.87 581.78L253.35 581.53L253.83 581.29L254.31 581.04L254.79 580.80L255.27 580.56L255.75 580.29L256.23 579.96L256.71 579.52L257.19 578.97L257.68 578.36L258.16 577.73L258.64 577.10L259.12 576.47L259.60 575.85L260.08 575.22L260.56 574.58L261.04 573.88L261.52 573.07L262.00 572.11L262.48 571.04L262.96 569.93L263.44 568.81L263.93 567.70L264.41 566.57L264.89 565.43L265.37 564.27L265.85 563.10L266.33 561.93L266.81 560.75L267.29 559.58L267.77 558.39L268.25 557.15L268.73 555.79L269.21 554.27L269.70 552.64L270.18 550.95L270.66 549.27L271.14 547.36L271.62 544.94L272.10 541.70L272.58 537.77L273.06 533.45L273.54 529.00L274.02 524.46L274.50 519.84L274.98 515.27L275.47 511.13L275.95 507.79L276.43 505.33L276.91 503.44L277.39 501.87L277.87 500.52L278.35 499.55L278.83 498.88L279.31 498.38L279.79 497.98L280.27 497.74L280.75 497.78L281.24 498.08L281.72 498.73L282.20 499.79L282.68 501.35L283.16 503.29L283.64 505.46L284.12 507.73L284.60 510.05L285.08 512.41L285.56 514.98L286.04 517.98L286.52 521.63L287.01 525.68L287.49 529.76L287.97 533.52L288.45 536.94L288.93 540.16L289.41 543.31L289.89 546.46L290.37 549.62L290.85 552.78L291.33 555.82L291.81 558.56L292.29 560.86L292.77 562.80L293.26 564.55L293.74 566.28L294.22 568.05L294.70 569.86L295.18 571.70L295.66 573.47L296.14 575.06L296.62 576.44L297.10 577.66L297.58 578.79L298.06 579.84L298.54 580.74L299.03 581.50L299.51 582.18L299.99 582.83L300.47 583.42L300.95 583.90L301.43 584.22L301.91 584.43L302.39 584.58L302.87 584.74L303.35 584.89L303.83 585.04L304.31 585.20L304.80 585.35L305.28 585.51L305.76 585.65L306.24 585.78L306.72 585.85L307.20 585.89L307.68 585.90L308.16 585.90L308.64 585.90L309.12 585.90L309.60 585.90L310.08 585.90L310.57 585.90L311.05 585.90L311.53 585.90L312.01 585.90L312.49 585.90L312.97 585.90L313.45 585.90L313.45 585.90Z" fill="#989898" fill-opacity="1"/>
<path d="M223.10 585.90L223.10 585.90L223.62 585.90L224.15 585.90L224.67 585.90L225.20 585.90L225.72 585.90L226.25 585.90L226.77 585.90L227.30 585.90L227.82 585.89L228.35 585.85L228.87 585.74L229.39 585.57L229.92 585.36L230.44 585.14L230.97 584.91L231.49 584.69L232.02 584.45L232.54 584.18L233.07 583.85L233.59 583.45L234.12 583.01L234.64 582.57L235.16 582.12L235.69 581.67L236.21 581.11L236.74 580.21L237.26 578.75L237.79 576.73L238.31 574.37L238.84 571.90L239.36 569.43L239.88 566.96L240.41 564.44L240.93 561.76L241.46 558.82L241.98 555.64L242.51 552.32L243.03 548.96L243.56 545.63L244.08 542.36L244.61 539.15L245.13 535.99L245.65 532.84L246.18 529.61L246.70 526.17L247.23 522.45L247.75 518.51L248.28 514.48L248.80 510.55L249.33 506.93L249.85 503.78L250.38 501.09L250.90 498.89L251.42 497.17L251.95 496.00L252.47 495.33L253.00 495.11L253.52 495.34L254.05 496.07L254.57 497.37L255.10 499.33L255.62 501.78L256.15 504.49L256.67 507.20L257.19 509.88L257.72 512.54L258.24 515.19L258.77 517.84L259.29 520.45L259.82 523.02L260.34 525.55L260.87 528.05L261.39 530.56L261.92 533.10L262.44 535.70L262.96 538.33L263.49 540.99L264.01 543.65L264.54 546.31L265.06 548.90L265.59 551.35L266.11 553.58L266.64 555.65L267.16 557.64L267.68 559.62L268.21 561.57L268.73 563.43L269.26 565.15L269.78 566.72L270.31 568.20L270.83 569.64L271.36 571.00L271.88 572.19L272.41 573.19L272.93 574.07L273.45 574.89L273.98 575.71L274.50 576.54L275.03 577.35L275.55 578.10L276.08 578.74L276.60 579.26L277.13 579.70L277.65 580.11L278.18 580.52L278.70 580.92L279.22 581.33L279.75 581.74L280.27 582.15L280.80 582.56L281.32 582.95L281.85 583.29L282.37 583.56L282.90 583.76L283.42 583.92L283.95 584.06L284.47 584.21L284.99 584.36L285.52 584.51L286.04 584.66L286.57 584.80L287.09 584.92L287.62 585.00L288.14 585.07L288.67 585.13L289.19 585.19L289.72 585.25L290.24 585.31L290.76 585.37L291.29 585.43L291.81 585.49L292.34 585.55L292.86 585.61L293.39 585.67L293.91 585.73L294.44 585.79L294.96 585.84L295.48 585.88L296.01 585.89L296.53 585.90L297.06 585.90L297.58 585.90L298.11 585.90L298.63 585.90L299.16 585.90L299.68 585.90L300.21 585.90L300.73 585.90L301.25 585.90L301.78 585.90L302.30 585.90L302.83 585.90L303.35 585.90L303.88 585.90L304.40 585.90L304.93 585.90L305.45 585.90L305.98 585.90L306.50 585.90L306.50 585.90Z" fill="#47ae4c" fill-opacity="0.8"/>
</g>
<rect x="225.60" y="489.80" width="94.80" height="96.70" fill="none" stroke="#555" stroke-width="0.8" />
<line x1="223.90" y1="490.70" x2="225.60" y2="490.70" stroke="#555" stroke-width="0.6" />
<text x="223.5" y="493.3" font-size="7.9" text-anchor="end" fill="#111" stroke="#111" stroke-width="0.22">0.08</text>
<line x1="223.90" y1="514.50" x2="225.60" y2="514.50" stroke="#555" stroke-width="0.6" />
<text x="223.5" y="517.0" font-size="7.9" text-anchor="end" fill="#111" stroke="#111" stroke-width="0.22">0.06</text>
<line x1="223.90" y1="538.30" x2="225.60" y2="538.30" stroke="#555" stroke-width="0.6" />
<text x="223.5" y="540.8" font-size="7.9" text-anchor="end" fill="#111" stroke="#111" stroke-width="0.22">0.04</text>
<line x1="223.90" y1="562.10" x2="225.60" y2="562.10" stroke="#555" stroke-width="0.6" />
<text x="223.5" y="564.8" font-size="7.9" text-anchor="end" fill="#111" stroke="#111" stroke-width="0.22">0.02</text>
<line x1="223.90" y1="585.90" x2="225.60" y2="585.90" stroke="#555" stroke-width="0.6" />
<text x="223.5" y="584.0" font-size="7.9" text-anchor="end" fill="#111" stroke="#111" stroke-width="0.22">0.00</text>
<line x1="250.90" y1="586.50" x2="250.90" y2="588.30" stroke="#555" stroke-width="0.6" />
<text x="250.9" y="594.7" font-size="7.9" text-anchor="middle" fill="#111" stroke="#111" stroke-width="0.22">40</text>
<line x1="278.70" y1="586.50" x2="278.70" y2="588.30" stroke="#555" stroke-width="0.6" />
<text x="278.7" y="594.7" font-size="7.9" text-anchor="middle" fill="#111" stroke="#111" stroke-width="0.22">60</text>
<line x1="306.50" y1="586.50" x2="306.50" y2="588.30" stroke="#555" stroke-width="0.6" />
<text x="306.5" y="594.7" font-size="7.9" text-anchor="middle" fill="#111" stroke="#111" stroke-width="0.22">80</text>
<text x="268.7" y="603.9" font-size="7.9" text-anchor="middle" fill="#111" stroke="#111" stroke-width="0.22">GC content</text>
<text x="0.0" y="0.0" font-size="7.9" text-anchor="middle" fill="#111" stroke="#111" stroke-width="0.22" transform="translate(202.3,532) rotate(-90)">Density</text>
<clipPath id="cI2"><rect x="324.3" y="489.6" width="99.1" height="96.7"/></clipPath>
<g clip-path="url(#cI2)">
<path d="M342.00 585.90L342.00 585.90L342.29 585.90L342.58 585.90L342.87 585.90L343.17 585.89L343.46 585.84L343.75 585.71L344.04 585.46L344.33 585.03L344.62 584.30L344.91 583.15L345.21 581.64L345.50 579.93L345.79 578.19L346.08 576.44L346.37 574.70L346.66 572.95L346.95 571.21L347.25 569.47L347.54 567.83L347.83 566.38L348.12 565.19L348.41 564.17L348.70 563.23L348.99 562.29L349.29 561.35L349.58 560.41L349.87 559.47L350.16 558.53L350.45 557.60L350.74 556.68L351.04 555.78L351.33 554.92L351.62 554.07L351.91 553.22L352.20 552.37L352.49 551.53L352.78 550.68L353.08 549.84L353.37 548.99L353.66 548.14L353.95 547.30L354.24 546.45L354.53 545.60L354.82 544.71L355.12 543.78L355.41 542.78L355.70 541.76L355.99 540.72L356.28 539.68L356.57 538.63L356.86 537.59L357.16 536.55L357.45 535.51L357.74 534.47L358.03 533.43L358.32 532.39L358.61 531.35L358.90 530.32L359.20 529.29L359.49 528.27L359.78 527.26L360.07 526.24L360.36 525.23L360.65 524.21L360.94 523.20L361.24 522.18L361.53 521.17L361.82 520.15L362.11 519.14L362.40 518.12L362.69 517.12L362.98 516.16L363.28 515.27L363.57 514.44L363.86 513.65L364.15 512.87L364.44 512.08L364.73 511.30L365.03 510.52L365.32 509.73L365.61 508.95L365.90 508.21L366.19 507.56L366.48 507.05L366.77 506.63L367.07 506.26L367.36 505.89L367.65 505.51L367.94 505.14L368.23 504.77L368.52 504.40L368.81 504.06L369.11 503.76L369.40 503.49L369.69 503.26L369.98 503.03L370.27 502.80L370.56 502.58L370.85 502.38L371.15 502.26L371.44 502.29L371.73 502.46L372.02 502.74L372.31 503.13L372.60 503.66L372.89 504.35L373.19 505.13L373.48 505.95L373.77 506.77L374.06 507.61L374.35 508.50L374.64 509.45L374.93 510.46L375.23 511.50L375.52 512.54L375.81 513.58L376.10 514.62L376.39 515.66L376.68 516.70L376.97 517.76L377.27 518.86L377.56 520.03L377.85 521.28L378.14 522.57L378.43 523.87L378.72 525.18L379.02 526.48L379.31 527.78L379.60 529.08L379.89 530.39L380.18 531.69L380.47 532.99L380.76 534.30L381.06 535.60L381.35 536.91L381.64 538.22L381.93 539.53L382.22 540.85L382.51 542.17L382.80 543.49L383.10 544.81L383.39 546.13L383.68 547.45L383.97 548.77L384.26 550.09L384.55 551.41L384.84 552.73L385.14 554.03L385.43 555.28L385.72 556.42L386.01 557.47L386.30 558.44L386.59 559.39L386.88 560.35L387.18 561.30L387.47 562.25L387.76 563.20L388.05 564.15L388.34 565.11L388.63 566.06L388.92 567.01L389.22 567.96L389.51 568.91L389.80 569.87L390.09 570.82L390.38 571.73L390.67 572.54L390.96 573.20L391.26 573.77L391.55 574.27L391.84 574.78L392.13 575.28L392.42 575.78L392.71 576.29L393.01 576.79L393.30 577.29L393.59 577.80L393.88 578.30L394.17 578.80L394.46 579.31L394.75 579.81L395.05 580.31L395.34 580.81L395.63 581.29L395.92 581.74L396.21 582.16L396.50 582.56L396.79 582.95L397.09 583.34L397.38 583.73L397.67 584.12L397.96 584.51L398.25 584.90L398.54 585.27L398.83 585.58L399.13 585.78L399.42 585.88L399.71 585.90L400.00 585.90L400.00 585.90Z" fill="#989898" fill-opacity="1"/>
<path d="M339.00 585.90L339.00 585.90L339.40 585.90L339.79 585.90L340.19 585.88L340.59 585.82L340.98 585.69L341.38 585.49L341.78 585.27L342.18 585.04L342.57 584.80L342.97 584.57L343.37 584.34L343.76 584.11L344.16 583.87L344.56 583.64L344.95 583.41L345.35 583.18L345.75 582.95L346.15 582.70L346.54 582.40L346.94 582.01L347.34 581.53L347.73 580.98L348.13 580.40L348.53 579.82L348.92 579.25L349.32 578.67L349.72 578.09L350.12 577.52L350.51 576.94L350.91 576.37L351.31 575.79L351.70 575.21L352.10 574.64L352.50 574.06L352.89 573.49L353.29 572.91L353.69 572.33L354.09 571.76L354.48 571.16L354.88 570.52L355.28 569.81L355.67 569.04L356.07 568.23L356.47 567.41L356.86 566.60L357.26 565.78L357.66 564.96L358.06 564.15L358.45 563.33L358.85 562.51L359.25 561.70L359.64 560.88L360.04 560.06L360.44 559.25L360.83 558.43L361.23 557.61L361.63 556.80L362.03 555.98L362.42 555.16L362.82 554.31L363.22 553.42L363.61 552.48L364.01 551.50L364.41 550.51L364.80 549.52L365.20 548.53L365.60 547.54L365.99 546.55L366.39 545.56L366.79 544.57L367.19 543.57L367.58 542.58L367.98 541.59L368.38 540.60L368.77 539.61L369.17 538.59L369.57 537.55L369.96 536.48L370.36 535.40L370.76 534.32L371.16 533.23L371.55 532.15L371.95 531.06L372.35 529.98L372.74 528.89L373.14 527.81L373.54 526.73L373.93 525.64L374.33 524.56L374.73 523.46L375.13 522.33L375.52 521.11L375.92 519.81L376.32 518.45L376.71 517.06L377.11 515.68L377.51 514.30L377.90 512.92L378.30 511.53L378.70 510.15L379.10 508.89L379.49 507.86L379.89 507.19L380.29 506.76L380.68 506.45L381.08 506.15L381.48 505.84L381.87 505.52L382.27 505.04L382.67 504.31L383.07 503.22L383.46 501.90L383.86 500.49L384.26 499.10L384.65 497.75L385.05 496.73L385.45 496.43L385.84 497.26L386.24 499.07L386.64 501.35L387.04 503.63L387.43 505.74L387.83 507.76L388.23 509.62L388.62 511.18L389.02 512.30L389.42 513.06L389.81 513.62L390.21 514.16L390.61 514.69L391.01 515.27L391.40 516.08L391.80 517.28L392.20 518.98L392.59 520.99L392.99 523.13L393.39 525.27L393.78 527.42L394.18 529.56L394.58 531.70L394.97 533.85L395.37 535.97L395.77 538.05L396.17 540.08L396.56 542.06L396.96 544.02L397.36 545.98L397.75 547.94L398.15 549.90L398.55 551.86L398.94 553.82L399.34 555.74L399.74 557.56L400.14 559.21L400.53 560.71L400.93 562.12L401.33 563.50L401.72 564.88L402.12 566.26L402.52 567.65L402.91 569.03L403.31 570.39L403.71 571.64L404.11 572.70L404.50 573.53L404.90 574.21L405.30 574.83L405.69 575.45L406.09 576.07L406.49 576.69L406.88 577.31L407.28 577.93L407.68 578.55L408.08 579.17L408.47 579.79L408.87 580.41L409.27 581.03L409.66 581.61L410.06 582.11L410.46 582.48L410.85 582.76L411.25 582.99L411.65 583.22L412.05 583.45L412.44 583.68L412.84 583.91L413.24 584.14L413.63 584.36L414.03 584.59L414.43 584.82L414.82 585.05L415.22 585.28L415.62 585.50L416.02 585.69L416.41 585.82L416.81 585.88L417.21 585.90L417.60 585.90L418.00 585.90L418.00 585.90Z" fill="#47ae4c" fill-opacity="0.8"/>
</g>
<rect x="324.30" y="489.40" width="99.10" height="97.10" fill="none" stroke="#555" stroke-width="0.8" />
<line x1="330.20" y1="586.50" x2="330.20" y2="588.30" stroke="#555" stroke-width="0.6" />
<line x1="352.30" y1="586.50" x2="352.30" y2="588.30" stroke="#555" stroke-width="0.6" />
<line x1="374.40" y1="586.50" x2="374.40" y2="588.30" stroke="#555" stroke-width="0.6" />
<line x1="396.50" y1="586.50" x2="396.50" y2="588.30" stroke="#555" stroke-width="0.6" />
<line x1="418.60" y1="586.50" x2="418.60" y2="588.30" stroke="#555" stroke-width="0.6" />
<text x="374.4" y="594.1" font-size="7.9" text-anchor="middle" fill="#111" stroke="#111" stroke-width="0.22">1e+021e+031e+041e+051e+06</text>
<text x="380.5" y="603.4" font-size="7.9" text-anchor="middle" fill="#111" stroke="#111" stroke-width="0.22">Transcript length</text>
<text x="452.0" y="450.5" font-size="14" fill="#000" font-weight="bold">j</text>
<text x="549.8" y="443.1" font-size="7.85" text-anchor="middle" fill="#111" stroke="#111" stroke-width="0.22">Polysome profiling</text>
<path d="M517.99 586.30L518.14 586.30L518.29 586.30L518.44 586.30L518.59 586.30L518.74 586.30L518.89 586.30L519.04 586.30L519.19 586.30L519.33 586.30L519.48 586.30L519.63 586.30L519.78 586.30L519.93 586.30L520.08 586.30L520.23 586.30L520.38 586.30L520.53 586.30L520.68 586.30L520.82 586.30L520.97 586.30L521.12 586.30L521.27 586.30L521.42 586.30L521.57 586.30L521.72 586.30L521.87 586.30L522.02 586.30L522.17 586.30L522.31 586.30L522.46 586.30L522.61 586.30L522.76 586.30L522.91 586.30L523.06 586.30L523.21 586.30L523.36 586.30L523.51 586.30L523.66 586.30L523.80 586.30L523.95 586.30L524.10 586.30L524.25 586.30L524.40 586.30L524.55 586.30L524.70 586.30L524.85 586.30L525.00 586.30L525.15 586.30L525.29 586.30L525.44 586.30L525.59 586.30L525.74 586.30L525.89 586.30L526.04 586.30L526.19 586.30L526.34 586.30L526.49 586.30L526.64 586.30L526.79 586.30L526.93 586.30L527.08 586.30L527.23 586.30L527.38 586.30L527.53 586.30L527.68 586.30L527.83 586.30L527.98 586.30L528.13 586.30L528.28 586.30L528.42 586.30L528.57 586.30L528.72 586.30L528.87 586.30L529.02 586.30L529.17 586.30L529.32 586.30L529.47 586.30L529.62 586.30L529.77 586.30L529.91 586.30L530.06 586.30L530.21 586.30L530.36 586.30L530.51 586.30L530.66 586.30L530.81 586.30L530.96 586.30L531.11 586.30L531.26 586.30L531.40 586.30L531.55 586.30L531.70 586.30L531.85 586.30L532.00 586.29L532.15 586.29L532.30 586.29L532.45 586.29L532.60 586.28L532.75 586.28L532.89 586.28L533.04 586.27L533.19 586.27L533.34 586.26L533.49 586.26L533.64 586.25L533.79 586.24L533.94 586.23L534.09 586.22L534.24 586.21L534.39 586.20L534.53 586.18L534.68 586.17L534.83 586.15L534.98 586.14L535.13 586.12L535.28 586.10L535.43 586.08L535.58 586.06L535.73 586.04L535.88 586.01L536.02 585.99L536.17 585.96L536.32 585.93L536.47 585.91L536.62 585.87L536.77 585.84L536.92 585.81L537.07 585.77L537.22 585.73L537.37 585.69L537.51 585.65L537.66 585.60L537.81 585.55L537.96 585.50L538.11 585.44L538.26 585.38L538.41 585.32L538.56 585.25L538.71 585.17L538.86 585.09L539.00 585.00L539.15 584.91L539.30 584.81L539.45 584.70L539.60 584.58L539.75 584.45L539.90 584.32L540.05 584.17L540.20 584.02L540.35 583.85L540.49 583.67L540.64 583.48L540.79 583.28L540.94 583.06L541.09 582.83L541.24 582.58L541.39 582.32L541.54 582.04L541.69 581.75L541.84 581.45L541.98 581.12L542.13 580.78L542.28 580.43L542.43 580.06L542.58 579.67L542.73 579.26L542.88 578.84L543.03 578.41L543.18 577.95L543.33 577.48L543.48 577.00L543.62 576.49L543.77 575.97L543.92 575.44L544.07 574.88L544.22 574.31L544.37 573.72L544.52 573.11L544.67 572.48L544.82 571.83L544.97 571.15L545.11 570.46L545.26 569.74L545.41 568.99L545.56 568.22L545.71 567.41L545.86 566.58L546.01 565.71L546.16 564.81L546.31 563.87L546.46 562.89L546.60 561.88L546.75 560.82L546.90 559.72L547.05 558.57L547.20 557.39L547.35 556.16L547.50 554.89L547.65 553.57L547.80 552.21L547.95 550.82L548.09 549.39L548.24 547.92L548.39 546.42L548.54 544.89L548.69 543.34L548.84 541.76L548.99 540.17L549.14 538.55L549.29 536.93L549.44 535.30L549.58 533.66L549.73 532.02L549.88 530.38L550.03 528.74L550.18 527.11L550.33 525.49L550.48 523.88L550.63 522.28L550.78 520.70L550.93 519.14L551.08 517.59L551.22 516.06L551.37 514.56L551.52 513.08L551.67 511.62L551.82 510.19L551.97 508.79L552.12 507.41L552.27 506.06L552.42 504.75L552.57 503.46L552.71 502.21L552.86 500.99L553.01 499.80L553.16 498.64L553.31 497.51L553.46 496.42L553.61 495.36L553.76 494.33L553.91 493.33L554.06 492.37L554.20 491.43L554.35 490.52L554.50 489.64L554.65 488.78L554.80 487.95L554.95 487.15L555.10 486.37L555.25 485.61L555.40 484.87L555.55 484.15L555.69 483.45L555.84 482.77L555.99 482.11L556.14 481.47L556.29 480.84L556.44 480.22L556.59 479.63L556.74 479.04L556.89 478.47L557.04 477.91L557.18 477.36L557.33 476.83L557.48 476.30L557.63 475.79L557.78 475.28L557.93 474.78L558.08 474.29L558.23 473.81L558.38 473.33L558.53 472.86L558.68 472.39L558.82 471.93L558.97 471.47L559.12 471.02L559.27 470.57L559.42 470.13L559.57 469.69L559.72 469.26L559.87 468.83L560.02 468.41L560.17 467.99L560.31 467.58L560.46 467.17L560.61 466.77L560.76 466.38L560.91 466.00L561.06 465.62L561.21 465.25L561.36 464.90L561.51 464.55L561.66 464.21L561.80 463.88L561.95 463.56L562.10 463.26L562.25 462.96L562.40 462.68L562.55 462.41L562.70 462.15L562.85 461.90L563.00 461.66L563.15 461.43L563.29 461.21L563.44 461.00L563.59 460.80L563.74 460.61L563.89 460.42L564.04 460.24L564.19 460.07L564.34 459.90L564.49 459.74L564.64 459.59L564.78 459.43L564.93 459.29L565.08 459.14L565.23 459.00L565.38 458.86L565.53 458.72L565.68 458.58L565.83 458.45L565.98 458.31L566.13 458.18L566.27 458.05L566.42 457.92L566.57 457.79L566.72 457.66L566.87 457.53L567.02 457.40L567.17 457.27L567.32 457.15L567.47 457.02L567.62 456.90L567.77 456.78L567.91 456.66L568.06 456.54L568.21 456.42L568.36 456.31L568.51 456.20L568.66 456.09L568.81 455.98L568.96 455.88L569.11 455.78L569.26 455.69L569.40 455.59L569.55 455.51L569.70 455.42L569.85 455.34L570.00 455.26L570.15 455.19L570.30 455.11L570.45 455.05L570.60 454.98L570.75 454.92L570.89 454.87L571.04 454.81L571.19 454.76L571.34 454.71L571.49 454.66L571.64 454.62L571.79 454.58L571.94 454.53L572.09 454.50L572.24 454.46L572.38 454.42L572.53 454.39L572.68 454.35L572.83 454.32L572.98 454.29L573.13 454.26L573.28 454.23L573.43 454.20L573.58 454.17L573.73 454.14L573.87 454.11L574.02 454.09L574.17 454.06L574.32 454.03L574.47 454.01L574.62 453.99L574.77 453.96L574.92 453.94L575.07 453.92L575.22 453.90L575.37 453.88L575.51 453.86L575.66 453.84L575.81 453.83L575.96 453.81L576.11 453.80L576.26 453.78L576.41 453.77L576.56 453.76L576.71 453.75L576.86 453.74L577.00 453.73L577.15 453.72L577.30 453.71L577.45 453.70L577.60 453.70L577.75 453.69L577.90 453.68L578.05 453.68L578.20 453.67L578.35 453.67L578.49 453.66L578.64 453.66L578.79 453.65L578.94 453.65L579.09 453.65L579.24 453.64L579.39 453.64L579.54 453.64L579.69 453.63L579.84 453.63L579.98 453.63L580.13 453.63L580.28 453.62L580.43 453.62L580.58 453.62L580.73 453.62L580.88 453.62L581.03 453.61L581.18 453.61L581.33 453.61L581.47 453.61L581.62 453.61L581.77 453.61L581.92 453.61L582.07 453.60L582.22 453.60L582.37 453.60L582.52 453.60L582.67 453.60L582.82 453.60L582.97 453.60L583.11 453.60L583.26 453.60L583.41 453.60L583.56 453.60L583.71 453.60L583.86 453.60L584.01 453.60L584.16 453.60L584.31 453.60L584.46 453.60L584.60 453.60L584.75 453.60L584.90 453.60L585.05 453.60L585.20 453.60L585.35 453.60L585.50 453.60L585.65 453.60L585.80 453.60L585.95 453.60L586.09 453.60L586.24 453.60L586.39 453.60L586.54 453.60L586.69 453.60L586.84 453.60L586.99 453.60L587.14 453.60L587.29 453.60L587.44 453.60L587.58 453.60L587.73 453.60L587.88 453.60L588.03 453.60L588.18 453.60L588.33 453.60L588.48 453.60L588.63 453.60L588.78 453.60L588.93 453.60L589.07 453.60L589.22 453.60L589.37 453.60L589.52 453.60L589.67 453.60L589.82 453.60L589.97 453.60L590.12 453.60L590.27 453.60L590.42 453.60L590.56 453.60L590.71 453.60L590.86 453.60L591.01 453.60L591.16 453.60L591.31 453.60L591.46 453.60L591.61 453.60L591.76 453.60L591.91 453.60L592.06 453.60L592.20 453.60L592.35 453.60L592.50 453.60L592.65 453.60L592.80 453.60L592.95 453.60L593.10 453.60L593.25 453.60L593.40 453.60L593.55 453.60L593.69 453.60L593.84 453.60L593.99 453.60L594.14 453.60L594.29 453.60L594.44 453.60L594.59 453.60L594.74 453.60L594.89 453.60L595.04 453.60L595.18 453.60L595.33 453.60L595.48 453.60L595.63 453.60L595.78 453.60L595.93 453.60L596.08 453.60L596.23 453.60L596.38 453.60L596.53 453.60L596.67 453.60L596.82 453.60L596.97 453.60L597.12 453.60L597.27 453.60L597.42 453.60L597.57 453.60L597.72 453.60L597.87 453.60L598.02 453.60L598.16 453.60L598.31 453.60L598.46 453.60L598.61 453.60L598.76 453.60L598.91 453.60L599.06 453.60L599.21 453.60L599.36 453.60L599.51 453.60L599.66 453.60L599.80 453.60L599.95 453.60L600.10 453.60L600.25 453.60L600.40 453.60L600.55 453.60L600.70 453.60L600.85 453.60L601.00 453.60L601.15 453.60L601.29 453.60L601.44 453.60L601.59 453.60L601.74 453.60L601.89 453.60L602.04 453.60L602.19 453.60L602.34 453.60L602.49 453.60L602.64 453.60L602.78 453.60L602.93 453.60L603.08 453.60L603.23 453.60L603.38 453.60L603.53 453.60L603.68 453.60L603.83 453.60L603.98 453.60L604.13 453.60L604.27 453.60L604.42 453.60L604.57 453.60L604.72 453.60L604.87 453.60L605.02 453.60L605.17 453.60L605.32 453.60L605.47 453.60L605.62 453.60L605.76 453.60L605.91 453.60L606.06 453.60L606.21 453.60L606.36 453.60L606.51 453.60L606.66 453.60L606.81 453.60L606.96 453.60L607.11 453.60L607.25 453.60" fill="none" stroke="#3b79b7" stroke-width="1.3"/>
<path d="M538.86 586.30L539.00 586.30L539.15 586.30L539.30 586.30L539.45 586.30L539.60 586.30L539.75 586.30L539.90 586.30L540.05 586.30L540.20 586.30L540.35 586.30L540.49 586.30L540.64 586.30L540.79 586.30L540.94 586.30L541.09 586.30L541.24 586.30L541.39 586.30L541.54 586.30L541.69 586.30L541.84 586.30L541.98 586.30L542.13 586.30L542.28 586.30L542.43 586.29L542.58 586.29L542.73 586.29L542.88 586.29L543.03 586.29L543.18 586.29L543.33 586.29L543.48 586.29L543.62 586.28L543.77 586.28L543.92 586.28L544.07 586.28L544.22 586.28L544.37 586.27L544.52 586.27L544.67 586.26L544.82 586.26L544.97 586.26L545.11 586.25L545.26 586.24L545.41 586.24L545.56 586.23L545.71 586.22L545.86 586.21L546.01 586.20L546.16 586.19L546.31 586.18L546.46 586.17L546.60 586.15L546.75 586.14L546.90 586.12L547.05 586.10L547.20 586.08L547.35 586.06L547.50 586.03L547.65 586.00L547.80 585.97L547.95 585.94L548.09 585.90L548.24 585.86L548.39 585.82L548.54 585.77L548.69 585.72L548.84 585.67L548.99 585.61L549.14 585.55L549.29 585.48L549.44 585.40L549.58 585.32L549.73 585.23L549.88 585.14L550.03 585.03L550.18 584.93L550.33 584.81L550.48 584.68L550.63 584.55L550.78 584.40L550.93 584.25L551.08 584.08L551.22 583.90L551.37 583.71L551.52 583.51L551.67 583.29L551.82 583.07L551.97 582.82L552.12 582.56L552.27 582.29L552.42 582.00L552.57 581.69L552.71 581.36L552.86 581.02L553.01 580.65L553.16 580.27L553.31 579.86L553.46 579.44L553.61 578.99L553.76 578.52L553.91 578.02L554.06 577.50L554.20 576.96L554.35 576.39L554.50 575.79L554.65 575.17L554.80 574.52L554.95 573.84L555.10 573.13L555.25 572.40L555.40 571.63L555.55 570.84L555.69 570.02L555.84 569.16L555.99 568.28L556.14 567.36L556.29 566.41L556.44 565.44L556.59 564.43L556.74 563.39L556.89 562.32L557.04 561.21L557.18 560.08L557.33 558.92L557.48 557.72L557.63 556.50L557.78 555.25L557.93 553.97L558.08 552.66L558.23 551.33L558.38 549.96L558.53 548.58L558.68 547.16L558.82 545.73L558.97 544.27L559.12 542.79L559.27 541.28L559.42 539.76L559.57 538.22L559.72 536.67L559.87 535.09L560.02 533.51L560.17 531.91L560.31 530.30L560.46 528.68L560.61 527.05L560.76 525.41L560.91 523.77L561.06 522.12L561.21 520.48L561.36 518.83L561.51 517.18L561.66 515.54L561.80 513.90L561.95 512.27L562.10 510.64L562.25 509.02L562.40 507.42L562.55 505.82L562.70 504.24L562.85 502.67L563.00 501.12L563.15 499.59L563.29 498.07L563.44 496.58L563.59 495.10L563.74 493.65L563.89 492.22L564.04 490.82L564.19 489.44L564.34 488.09L564.49 486.76L564.64 485.47L564.78 484.20L564.93 482.95L565.08 481.74L565.23 480.56L565.38 479.41L565.53 478.29L565.68 477.20L565.83 476.14L565.98 475.11L566.13 474.11L566.27 473.14L566.42 472.21L566.57 471.30L566.72 470.43L566.87 469.58L567.02 468.77L567.17 467.99L567.32 467.23L567.47 466.51L567.62 465.81L567.77 465.14L567.91 464.50L568.06 463.89L568.21 463.30L568.36 462.74L568.51 462.21L568.66 461.70L568.81 461.21L568.96 460.75L569.11 460.31L569.26 459.89L569.40 459.49L569.55 459.11L569.70 458.76L569.85 458.42L570.00 458.10L570.15 457.80L570.30 457.51L570.45 457.24L570.60 456.99L570.75 456.75L570.89 456.53L571.04 456.32L571.19 456.12L571.34 455.93L571.49 455.76L571.64 455.60L571.79 455.45L571.94 455.30L572.09 455.17L572.24 455.05L572.38 454.93L572.53 454.83L572.68 454.73L572.83 454.64L572.98 454.55L573.13 454.47L573.28 454.40L573.43 454.33L573.58 454.27L573.73 454.21L573.87 454.16L574.02 454.11L574.17 454.06L574.32 454.02L574.47 453.98L574.62 453.95L574.77 453.92L574.92 453.89L575.07 453.86L575.22 453.84L575.37 453.81L575.51 453.79L575.66 453.77L575.81 453.76L575.96 453.74L576.11 453.73L576.26 453.71L576.41 453.70L576.56 453.69L576.71 453.68L576.86 453.67L577.00 453.67L577.15 453.66L577.30 453.65L577.45 453.65L577.60 453.64L577.75 453.64L577.90 453.63L578.05 453.63L578.20 453.63L578.35 453.62L578.49 453.62L578.64 453.62L578.79 453.62L578.94 453.61L579.09 453.61L579.24 453.61L579.39 453.61L579.54 453.61L579.69 453.61L579.84 453.61L579.98 453.61L580.13 453.61L580.28 453.60L580.43 453.60L580.58 453.60L580.73 453.60L580.88 453.60L581.03 453.60L581.18 453.60L581.33 453.60L581.47 453.60L581.62 453.60L581.77 453.60L581.92 453.60L582.07 453.60L582.22 453.60L582.37 453.60L582.52 453.60L582.67 453.60L582.82 453.60L582.97 453.60L583.11 453.60L583.26 453.60L583.41 453.60L583.56 453.60L583.71 453.60L583.86 453.60L584.01 453.60L584.16 453.60L584.31 453.60L584.46 453.60L584.60 453.60L584.75 453.60L584.90 453.60L585.05 453.60L585.20 453.60L585.35 453.60L585.50 453.60L585.65 453.60L585.80 453.60L585.95 453.60L586.09 453.60L586.24 453.60L586.39 453.60L586.54 453.60L586.69 453.60L586.84 453.60L586.99 453.60L587.14 453.60L587.29 453.60L587.44 453.60L587.58 453.60L587.73 453.60L587.88 453.60L588.03 453.60L588.18 453.60L588.33 453.60L588.48 453.60L588.63 453.60L588.78 453.60L588.93 453.60L589.07 453.60L589.22 453.60L589.37 453.60L589.52 453.60L589.67 453.60L589.82 453.60L589.97 453.60L590.12 453.60L590.27 453.60L590.42 453.60L590.56 453.60L590.71 453.60L590.86 453.60L591.01 453.60L591.16 453.60L591.31 453.60L591.46 453.60L591.61 453.60L591.76 453.60L591.91 453.60L592.06 453.60L592.20 453.60L592.35 453.60L592.50 453.60L592.65 453.60L592.80 453.60L592.95 453.60L593.10 453.60L593.25 453.60L593.40 453.60L593.55 453.60L593.69 453.60L593.84 453.60L593.99 453.60L594.14 453.60L594.29 453.60L594.44 453.60L594.59 453.60L594.74 453.60L594.89 453.60L595.04 453.60L595.18 453.60L595.33 453.60L595.48 453.60L595.63 453.60L595.78 453.60L595.93 453.60L596.08 453.60L596.23 453.60L596.38 453.60L596.53 453.60L596.67 453.60L596.82 453.60L596.97 453.60L597.12 453.60L597.27 453.60L597.42 453.60L597.57 453.60L597.72 453.60L597.87 453.60L598.02 453.60L598.16 453.60L598.31 453.60L598.46 453.60L598.61 453.60L598.76 453.60L598.91 453.60L599.06 453.60L599.21 453.60L599.36 453.60L599.51 453.60L599.66 453.60L599.80 453.60L599.95 453.60L600.10 453.60L600.25 453.60L600.40 453.60L600.55 453.60L600.70 453.60L600.85 453.60L601.00 453.60L601.15 453.60L601.29 453.60L601.44 453.60L601.59 453.60L601.74 453.60L601.89 453.60L602.04 453.60L602.19 453.60L602.34 453.60L602.49 453.60L602.64 453.60L602.78 453.60L602.93 453.60L603.08 453.60L603.23 453.60L603.38 453.60L603.53 453.60L603.68 453.60L603.83 453.60L603.98 453.60L604.13 453.60L604.27 453.60L604.42 453.60L604.57 453.60L604.72 453.60L604.87 453.60L605.02 453.60L605.17 453.60L605.32 453.60L605.47 453.60L605.62 453.60L605.76 453.60L605.91 453.60L606.06 453.60L606.21 453.60L606.36 453.60L606.51 453.60L606.66 453.60L606.81 453.60L606.96 453.60L607.11 453.60L607.25 453.60" fill="none" stroke="#d9393b" stroke-width="1.3"/>
<rect x="490.70" y="447.10" width="127.50" height="140.00" fill="none" stroke="#666" stroke-width="0.8" />
<line x1="488.80" y1="453.60" x2="490.70" y2="453.60" stroke="#555" stroke-width="0.6" />
<text x="487.6" y="456.4" font-size="7.2" text-anchor="end" fill="#111" stroke="#111" stroke-width="0.22">1</text>
<line x1="488.80" y1="486.77" x2="490.70" y2="486.77" stroke="#555" stroke-width="0.6" />
<text x="487.6" y="489.6" font-size="7.2" text-anchor="end" fill="#111" stroke="#111" stroke-width="0.22">0.75</text>
<line x1="488.80" y1="519.95" x2="490.70" y2="519.95" stroke="#555" stroke-width="0.6" />
<text x="487.6" y="522.7" font-size="7.2" text-anchor="end" fill="#111" stroke="#111" stroke-width="0.22">0.50</text>
<line x1="488.80" y1="553.12" x2="490.70" y2="553.12" stroke="#555" stroke-width="0.6" />
<text x="487.6" y="555.9" font-size="7.2" text-anchor="end" fill="#111" stroke="#111" stroke-width="0.22">0.25</text>
<line x1="488.80" y1="586.30" x2="490.70" y2="586.30" stroke="#555" stroke-width="0.6" />
<text x="487.6" y="589.1" font-size="7.2" text-anchor="end" fill="#111" stroke="#111" stroke-width="0.22">0</text>
<line x1="520.90" y1="587.10" x2="520.90" y2="589.00" stroke="#555" stroke-width="0.6" />
<text x="520.9" y="595.6" font-size="7.85" text-anchor="middle" fill="#111" stroke="#111" stroke-width="0.22">−2</text>
<line x1="555.10" y1="587.10" x2="555.10" y2="589.00" stroke="#555" stroke-width="0.6" />
<text x="555.1" y="595.6" font-size="7.85" text-anchor="middle" fill="#111" stroke="#111" stroke-width="0.22">0</text>
<line x1="589.30" y1="587.10" x2="589.30" y2="589.00" stroke="#555" stroke-width="0.6" />
<text x="589.3" y="595.6" font-size="7.85" text-anchor="middle" fill="#111" stroke="#111" stroke-width="0.22">2</text>
<text x="556.4" y="603.4" font-size="7.85" text-anchor="middle" fill="#111" stroke="#111" stroke-width="0.22">log2FC TE (shDDX6/shCTRL)</text>
<text x="0.0" y="0.0" font-size="7.6" text-anchor="middle" fill="#111" stroke="#111" stroke-width="0.22" transform="translate(471.8,518.4) rotate(-90)">CDF</text>
<line x1="494.70" y1="459.40" x2="501.80" y2="459.40" stroke="#a9c9e2" stroke-width="1.3" />
<line x1="494.70" y1="481.20" x2="501.80" y2="481.20" stroke="#d9393b" stroke-width="1.3" />
<text x="503.9" y="461.8" font-size="7.85" fill="#111" stroke="#111" stroke-width="0.22">RNAs depleted</text>
<text x="503.9" y="471.4" font-size="7.85" fill="#111" stroke="#111" stroke-width="0.22">from P-body</text>
<text x="503.9" y="483.3" font-size="7.85" fill="#111" stroke="#111" stroke-width="0.22">RNAs enriched</text>
<text x="503.9" y="493.0" font-size="7.85" fill="#111" stroke="#111" stroke-width="0.22">in P-body</text>
<text x="566.9" y="578.4" font-size="7.85" fill="#111" stroke="#111" stroke-width="0.22">p &lt; 2.2<tspan font-size="5.5" dy="-3.2">-16</tspan></text>
<text x="5.6" y="654.0" font-size="14" fill="#000" font-weight="bold">k</text>
<text x="125.5" y="667.2" font-size="8.07" text-anchor="middle" fill="#111" stroke="#111" stroke-width="0.22">MOLM-13 cells small RNA profile</text>
<rect x="31.30" y="675.30" width="8.80" height="8.80" fill="#8c8c8c" stroke="#333" stroke-width="0.6" />
<text x="44.8" y="682.2" font-size="8.07" fill="#111" stroke="#111" stroke-width="0.22">miRNA</text>
<rect x="97.90" y="675.30" width="8.80" height="8.80" fill="#c8242a" stroke="#333" stroke-width="0.6" />
<text x="112.0" y="682.2" font-size="8.07" fill="#111" stroke="#111" stroke-width="0.22">tsRNA</text>
<rect x="165.10" y="675.30" width="8.80" height="8.80" fill="#4f8fcb" stroke="#333" stroke-width="0.6" />
<text x="178.4" y="682.2" font-size="8.07" fill="#111" stroke="#111" stroke-width="0.22">rsRNA</text>
<line x1="34.10" y1="744.60" x2="91.30" y2="744.60" stroke="#444" stroke-width="0.5" stroke-dasharray="0.7,1.14"/>
<line x1="34.10" y1="807.80" x2="91.30" y2="807.80" stroke="#444" stroke-width="0.5" stroke-dasharray="0.7,1.14"/>
<line x1="100.00" y1="744.60" x2="157.20" y2="744.60" stroke="#444" stroke-width="0.5" stroke-dasharray="0.7,1.14"/>
<line x1="100.00" y1="807.80" x2="157.20" y2="807.80" stroke="#444" stroke-width="0.5" stroke-dasharray="0.7,1.14"/>
<line x1="165.90" y1="744.60" x2="223.10" y2="744.60" stroke="#444" stroke-width="0.5" stroke-dasharray="0.7,1.14"/>
<line x1="165.90" y1="807.80" x2="223.10" y2="807.80" stroke="#444" stroke-width="0.5" stroke-dasharray="0.7,1.14"/>
<path d="M41.44 744.30V742.00h1.84V744.30M43.28 744.30V735.40h1.84V744.30M45.12 744.30V689.90h1.84V744.30M46.96 744.30V710.10h1.84V744.30M48.80 744.30V727.20h1.84V744.30M50.64 744.30V741.70h1.84V744.30M35.92 744.30V743.50h1.84V744.30M37.76 744.30V743.80h1.84V744.30" fill="#8e8e8e" fill-opacity="1" stroke="#6a6a6a" stroke-width="0.35"/>
<path d="M41.44 807.50V805.50h1.84V807.50M43.28 807.50V799.30h1.84V807.50M45.12 807.50V753.20h1.84V807.50M46.96 807.50V769.60h1.84V807.50M48.80 807.50V788.90h1.84V807.50M50.64 807.50V805.00h1.84V807.50M35.92 807.50V806.70h1.84V807.50M37.76 807.50V807.00h1.84V807.50" fill="#8e8e8e" fill-opacity="1" stroke="#6a6a6a" stroke-width="0.35"/>
<path d="M99.98 744.30V741.80h1.84V744.30M101.82 744.30V740.80h1.84V744.30M103.66 744.30V741.50h1.84V744.30M105.50 744.30V743.10h1.84V744.30M107.34 744.30V743.30h1.84V744.30M109.18 744.30V743.50h1.84V744.30M111.02 744.30V743.30h1.84V744.30M112.86 744.30V743.50h1.84V744.30M114.70 744.30V743.50h1.84V744.30M116.54 744.30V743.50h1.84V744.30M118.38 744.30V743.50h1.84V744.30M120.22 744.30V743.40h1.84V744.30M122.06 744.30V743.30h1.84V744.30M123.90 744.30V742.80h1.84V744.30M125.74 744.30V741.90h1.84V744.30M127.58 744.30V736.00h1.84V744.30M129.42 744.30V740.50h1.84V744.30M131.26 744.30V738.10h1.84V744.30M133.10 744.30V740.50h1.84V744.30M134.94 744.30V735.80h1.84V744.30M136.78 744.30V740.00h1.84V744.30M138.62 744.30V742.80h1.84V744.30M140.46 744.30V743.10h1.84V744.30M142.30 744.30V743.30h1.84V744.30M144.14 744.30V743.50h1.84V744.30M145.98 744.30V743.70h1.84V744.30" fill="#d6262c" fill-opacity="1" stroke="#5a1010" stroke-width="0.35"/>
<path d="M99.98 807.50V805.50h1.84V807.50M101.82 807.50V804.70h1.84V807.50M103.66 807.50V805.20h1.84V807.50M105.50 807.50V806.30h1.84V807.50M107.34 807.50V806.70h1.84V807.50M109.18 807.50V806.80h1.84V807.50M111.02 807.50V806.80h1.84V807.50M112.86 807.50V806.90h1.84V807.50M114.70 807.50V806.90h1.84V807.50M116.54 807.50V806.90h1.84V807.50M118.38 807.50V806.90h1.84V807.50M120.22 807.50V806.80h1.84V807.50M122.06 807.50V806.70h1.84V807.50M123.90 807.50V806.30h1.84V807.50M125.74 807.50V805.50h1.84V807.50M127.58 807.50V804.90h1.84V807.50M129.42 807.50V804.70h1.84V807.50M131.26 807.50V805.00h1.84V807.50M133.10 807.50V805.10h1.84V807.50M134.94 807.50V804.00h1.84V807.50M136.78 807.50V805.20h1.84V807.50M138.62 807.50V805.90h1.84V807.50M140.46 807.50V806.30h1.84V807.50M142.30 807.50V806.70h1.84V807.50M144.14 807.50V806.90h1.84V807.50M145.98 807.50V807.00h1.84V807.50" fill="#d6262c" fill-opacity="0.9" stroke="#7a1a1a" stroke-width="0.35"/>
<path d="M165.88 744.30V742.90h1.84V744.30M167.72 744.30V742.70h1.84V744.30M169.56 744.30V741.30h1.84V744.30M171.40 744.30V741.00h1.84V744.30M173.24 744.30V742.50h1.84V744.30M175.08 744.30V743.10h1.84V744.30M176.92 744.30V742.90h1.84V744.30M178.76 744.30V742.80h1.84V744.30M180.60 744.30V742.70h1.84V744.30M182.44 744.30V743.00h1.84V744.30M184.28 744.30V742.80h1.84V744.30M186.12 744.30V742.90h1.84V744.30M187.96 744.30V742.70h1.84V744.30M189.80 744.30V742.50h1.84V744.30M191.64 744.30V742.10h1.84V744.30M193.48 744.30V739.10h1.84V744.30M195.32 744.30V742.30h1.84V744.30M197.16 744.30V742.10h1.84V744.30M199.00 744.30V741.90h1.84V744.30M200.84 744.30V740.70h1.84V744.30M202.68 744.30V739.60h1.84V744.30M204.52 744.30V736.90h1.84V744.30M206.36 744.30V741.70h1.84V744.30M208.20 744.30V741.90h1.84V744.30M210.04 744.30V742.00h1.84V744.30M211.88 744.30V740.50h1.84V744.30M213.72 744.30V741.90h1.84V744.30M215.56 744.30V740.00h1.84V744.30M217.40 744.30V739.10h1.84V744.30M219.24 744.30V736.90h1.84V744.30M221.08 744.30V742.90h1.84V744.30" fill="#5a9bd4" fill-opacity="1" stroke="#1d2c44" stroke-width="0.35"/>
<path d="M165.88 807.50V805.70h1.84V807.50M167.72 807.50V805.30h1.84V807.50M169.56 807.50V804.50h1.84V807.50M171.40 807.50V804.00h1.84V807.50M173.24 807.50V805.50h1.84V807.50M175.08 807.50V806.00h1.84V807.50M176.92 807.50V805.70h1.84V807.50M178.76 807.50V805.30h1.84V807.50M180.60 807.50V805.00h1.84V807.50M182.44 807.50V805.10h1.84V807.50M184.28 807.50V804.90h1.84V807.50M186.12 807.50V805.50h1.84V807.50M187.96 807.50V805.70h1.84V807.50M189.80 807.50V805.10h1.84V807.50M191.64 807.50V804.30h1.84V807.50M193.48 807.50V803.60h1.84V807.50M195.32 807.50V805.00h1.84V807.50M197.16 807.50V804.90h1.84V807.50M199.00 807.50V804.10h1.84V807.50M200.84 807.50V803.70h1.84V807.50M202.68 807.50V802.80h1.84V807.50M204.52 807.50V796.80h1.84V807.50M206.36 807.50V804.30h1.84V807.50M208.20 807.50V804.50h1.84V807.50M210.04 807.50V804.90h1.84V807.50M211.88 807.50V802.30h1.84V807.50M213.72 807.50V804.70h1.84V807.50M215.56 807.50V803.10h1.84V807.50M217.40 807.50V800.70h1.84V807.50M219.24 807.50V796.80h1.84V807.50M221.08 807.50V806.00h1.84V807.50" fill="#5a9bd4" fill-opacity="1" stroke="#1d2c44" stroke-width="0.35"/>
<rect x="31.30" y="687.50" width="63.20" height="59.70" fill="none" stroke="#444" stroke-width="0.9" />
<rect x="31.30" y="750.70" width="63.20" height="59.70" fill="none" stroke="#444" stroke-width="0.9" />
<line x1="44.70" y1="810.40" x2="44.70" y2="812.20" stroke="#444" stroke-width="0.6" />
<text x="44.7" y="817.7" font-size="7.6" text-anchor="middle" fill="#111" stroke="#111" stroke-width="0.22">20</text>
<line x1="63.10" y1="810.40" x2="63.10" y2="812.20" stroke="#444" stroke-width="0.6" />
<text x="63.1" y="817.7" font-size="7.6" text-anchor="middle" fill="#111" stroke="#111" stroke-width="0.22">30</text>
<line x1="81.50" y1="810.40" x2="81.50" y2="812.20" stroke="#444" stroke-width="0.6" />
<text x="81.5" y="817.7" font-size="7.6" text-anchor="middle" fill="#111" stroke="#111" stroke-width="0.22">40</text>
<rect x="97.20" y="687.50" width="63.20" height="59.70" fill="none" stroke="#444" stroke-width="0.9" />
<rect x="97.20" y="750.70" width="63.20" height="59.70" fill="none" stroke="#444" stroke-width="0.9" />
<line x1="110.60" y1="810.40" x2="110.60" y2="812.20" stroke="#444" stroke-width="0.6" />
<text x="110.6" y="817.7" font-size="7.6" text-anchor="middle" fill="#111" stroke="#111" stroke-width="0.22">20</text>
<line x1="129.00" y1="810.40" x2="129.00" y2="812.20" stroke="#444" stroke-width="0.6" />
<text x="129.0" y="817.7" font-size="7.6" text-anchor="middle" fill="#111" stroke="#111" stroke-width="0.22">30</text>
<line x1="147.40" y1="810.40" x2="147.40" y2="812.20" stroke="#444" stroke-width="0.6" />
<text x="147.4" y="817.7" font-size="7.6" text-anchor="middle" fill="#111" stroke="#111" stroke-width="0.22">40</text>
<rect x="163.10" y="687.50" width="63.20" height="59.70" fill="none" stroke="#444" stroke-width="0.9" />
<rect x="163.10" y="750.70" width="63.20" height="59.70" fill="none" stroke="#444" stroke-width="0.9" />
<line x1="176.50" y1="810.40" x2="176.50" y2="812.20" stroke="#444" stroke-width="0.6" />
<text x="176.5" y="817.7" font-size="7.6" text-anchor="middle" fill="#111" stroke="#111" stroke-width="0.22">20</text>
<line x1="194.90" y1="810.40" x2="194.90" y2="812.20" stroke="#444" stroke-width="0.6" />
<text x="194.9" y="817.7" font-size="7.6" text-anchor="middle" fill="#111" stroke="#111" stroke-width="0.22">30</text>
<line x1="213.30" y1="810.40" x2="213.30" y2="812.20" stroke="#444" stroke-width="0.6" />
<text x="213.3" y="817.7" font-size="7.6" text-anchor="middle" fill="#111" stroke="#111" stroke-width="0.22">40</text>
<text x="91.5" y="696.1" font-size="8.07" text-anchor="end" fill="#111" stroke="#111" stroke-width="0.22">24.9%</text>
<text x="157.4" y="696.1" font-size="8.07" text-anchor="end" fill="#111" stroke="#111" stroke-width="0.22">10%</text>
<text x="223.3" y="696.1" font-size="8.07" text-anchor="end" fill="#111" stroke="#111" stroke-width="0.22">18.5%</text>
<text x="91.5" y="759.3" font-size="8.07" text-anchor="end" fill="#111" stroke="#111" stroke-width="0.22">17.9%</text>
<text x="157.4" y="759.3" font-size="8.07" text-anchor="end" fill="#111" stroke="#111" stroke-width="0.22">5.1%</text>
<text x="223.3" y="759.3" font-size="8.07" text-anchor="end" fill="#111" stroke="#111" stroke-width="0.22">13.6%</text>
<text x="30.1" y="720.2" font-size="8.07" text-anchor="end" fill="#111" stroke="#111" stroke-width="0.22">shCTRL</text>
<text x="30.1" y="786.3" font-size="8.07" text-anchor="end" fill="#111" stroke="#111" stroke-width="0.22">shDDX6</text>
<text x="129.6" y="827.0" font-size="7.89" text-anchor="middle" fill="#111" stroke="#111" stroke-width="0.22">Length of nucleotides</text>
<line x1="226.30" y1="689.60" x2="228.10" y2="689.60" stroke="#444" stroke-width="0.6" />
<text x="230.4" y="691.9" font-size="6.3" fill="#111" stroke="#111" stroke-width="0.12">1.25 × 10<tspan font-size="4.4" dy="-2.6">5</tspan></text>
<line x1="226.30" y1="700.80" x2="228.10" y2="700.80" stroke="#444" stroke-width="0.6" />
<text x="230.4" y="703.1" font-size="6.3" fill="#111" stroke="#111" stroke-width="0.12">1 × 10<tspan font-size="4.4" dy="-2.6">5</tspan></text>
<line x1="226.30" y1="711.70" x2="228.10" y2="711.70" stroke="#444" stroke-width="0.6" />
<text x="230.4" y="714.0" font-size="6.3" fill="#111" stroke="#111" stroke-width="0.12">7.5 × 10<tspan font-size="4.4" dy="-2.6">4</tspan></text>
<line x1="226.30" y1="722.90" x2="228.10" y2="722.90" stroke="#444" stroke-width="0.6" />
<text x="230.4" y="725.2" font-size="6.3" fill="#111" stroke="#111" stroke-width="0.12">5 × 10<tspan font-size="4.4" dy="-2.6">4</tspan></text>
<line x1="226.30" y1="734.10" x2="228.10" y2="734.10" stroke="#444" stroke-width="0.6" />
<text x="230.4" y="736.4" font-size="6.3" fill="#111" stroke="#111" stroke-width="0.12">2.5 × 10<tspan font-size="4.4" dy="-2.6">4</tspan></text>
<line x1="226.30" y1="744.50" x2="228.10" y2="744.50" stroke="#444" stroke-width="0.6" />
<text x="230.4" y="746.8" font-size="6.3" fill="#111" stroke="#111" stroke-width="0.12">0</text>
<line x1="226.30" y1="762.40" x2="228.10" y2="762.40" stroke="#444" stroke-width="0.6" />
<text x="230.4" y="764.7" font-size="6.3" fill="#111" stroke="#111" stroke-width="0.12">7.5 × 10<tspan font-size="4.4" dy="-2.6">4</tspan></text>
<line x1="226.30" y1="777.10" x2="228.10" y2="777.10" stroke="#444" stroke-width="0.6" />
<text x="230.4" y="779.4" font-size="6.3" fill="#111" stroke="#111" stroke-width="0.12">5 × 10<tspan font-size="4.4" dy="-2.6">4</tspan></text>
<line x1="226.30" y1="792.80" x2="228.10" y2="792.80" stroke="#444" stroke-width="0.6" />
<text x="230.4" y="795.1" font-size="6.3" fill="#111" stroke="#111" stroke-width="0.12">2.5 × 10<tspan font-size="4.4" dy="-2.6">4</tspan></text>
<line x1="226.30" y1="807.50" x2="228.10" y2="807.50" stroke="#444" stroke-width="0.6" />
<text x="230.4" y="809.8" font-size="6.3" fill="#111" stroke="#111" stroke-width="0.12">0</text>
<text x="295.0" y="654.0" font-size="14" fill="#000" font-weight="bold">l</text>
<text x="392.1" y="631.2" font-size="9.1" text-anchor="middle" fill="#111" stroke="#111" stroke-width="0.22">MOLM-13</text>
<text x="392.1" y="643.8" font-size="9.1" text-anchor="middle" fill="#111" stroke="#111" stroke-width="0.22">tsRNA expression (PANDORA-seq)</text>
<rect x="335.20" y="680.40" width="10.40" height="11.87" fill="#eef5e0" />
<rect x="345.10" y="680.40" width="10.40" height="11.87" fill="#6a9fd4" />
<rect x="355.00" y="680.40" width="10.40" height="11.87" fill="#ee9060" />
<rect x="364.90" y="680.40" width="10.40" height="11.87" fill="#f5c07a" />
<text x="377.0" y="688.8" font-size="7.92" fill="#111" stroke="#111" stroke-width="0.22">mature−tRNA−Glu−CTC</text>
<rect x="335.20" y="691.77" width="10.40" height="11.87" fill="#e5f3f5" />
<rect x="345.10" y="691.77" width="10.40" height="11.87" fill="#6a9fd4" />
<rect x="355.00" y="691.77" width="10.40" height="11.87" fill="#f4b070" />
<rect x="364.90" y="691.77" width="10.40" height="11.87" fill="#ee9060" />
<text x="377.0" y="700.2" font-size="7.92" fill="#111" stroke="#111" stroke-width="0.22">mature−tRNA−Lys−CTT</text>
<rect x="335.20" y="703.14" width="10.40" height="11.87" fill="#a8cfe6" />
<rect x="345.10" y="703.14" width="10.40" height="11.87" fill="#98c5e0" />
<rect x="355.00" y="703.14" width="10.40" height="11.87" fill="#e8603e" />
<rect x="364.90" y="703.14" width="10.40" height="11.87" fill="#f5e09a" />
<text x="377.0" y="711.5" font-size="7.92" fill="#111" stroke="#111" stroke-width="0.22">mature−tRNA−Gly−GCC</text>
<rect x="335.20" y="714.51" width="10.40" height="11.87" fill="#e2f3f8" />
<rect x="345.10" y="714.51" width="10.40" height="11.87" fill="#7aa9d8" />
<rect x="355.00" y="714.51" width="10.40" height="11.87" fill="#e8603e" />
<rect x="364.90" y="714.51" width="10.40" height="11.87" fill="#f3e290" />
<text x="377.0" y="722.9" font-size="7.92" fill="#111" stroke="#111" stroke-width="0.22">mature−tRNA−Gln−CTG</text>
<rect x="335.20" y="725.88" width="10.40" height="11.87" fill="#cfe7f2" />
<rect x="345.10" y="725.88" width="10.40" height="11.87" fill="#7aa9d8" />
<rect x="355.00" y="725.88" width="10.40" height="11.87" fill="#ea6c48" />
<rect x="364.90" y="725.88" width="10.40" height="11.87" fill="#f3c880" />
<text x="377.0" y="734.3" font-size="7.92" fill="#111" stroke="#111" stroke-width="0.22">mature−tRNA−Glu−CTC</text>
<rect x="335.20" y="737.25" width="10.40" height="11.87" fill="#ee8a5c" />
<rect x="345.10" y="737.25" width="10.40" height="11.87" fill="#f2a96c" />
<rect x="355.00" y="737.25" width="10.40" height="11.87" fill="#7fb0dc" />
<rect x="364.90" y="737.25" width="10.40" height="11.87" fill="#cfe6f3" />
<text x="377.0" y="745.6" font-size="7.92" fill="#111" stroke="#111" stroke-width="0.22">mature−tRNA−Asp−GTC</text>
<rect x="335.20" y="748.62" width="10.40" height="11.87" fill="#e34f3a" />
<rect x="345.10" y="748.62" width="10.40" height="11.87" fill="#f5e8a0" />
<rect x="355.00" y="748.62" width="10.40" height="11.87" fill="#8ebde0" />
<rect x="364.90" y="748.62" width="10.40" height="11.87" fill="#cfe6f3" />
<text x="377.0" y="757.0" font-size="7.92" fill="#111" stroke="#111" stroke-width="0.22">mature−tRNA−Cys−GCA</text>
<rect x="335.20" y="759.99" width="10.40" height="11.87" fill="#ed8a5e" />
<rect x="345.10" y="759.99" width="10.40" height="11.87" fill="#eea06a" />
<rect x="355.00" y="759.99" width="10.40" height="11.87" fill="#e4f2f7" />
<rect x="364.90" y="759.99" width="10.40" height="11.87" fill="#6fa1d4" />
<text x="377.0" y="768.4" font-size="7.92" fill="#111" stroke="#111" stroke-width="0.22">mature−tRNA−Ala−TGC</text>
<rect x="335.20" y="771.36" width="10.40" height="11.87" fill="#ee8c5f" />
<rect x="345.10" y="771.36" width="10.40" height="11.87" fill="#ee9563" />
<rect x="355.00" y="771.36" width="10.40" height="11.87" fill="#b0d4ea" />
<rect x="364.90" y="771.36" width="10.40" height="11.87" fill="#94c0e0" />
<text x="377.0" y="779.7" font-size="7.92" fill="#111" stroke="#111" stroke-width="0.22">mature−tRNA−Ala−AGC</text>
<rect x="335.20" y="782.73" width="10.40" height="11.87" fill="#f3d190" />
<rect x="345.10" y="782.73" width="10.40" height="11.87" fill="#e9683f" />
<rect x="355.00" y="782.73" width="10.40" height="11.87" fill="#e6f3f6" />
<rect x="364.90" y="782.73" width="10.40" height="11.87" fill="#6fa1d4" />
<text x="377.0" y="791.1" font-size="7.92" fill="#111" stroke="#111" stroke-width="0.22">mature−tRNA−Lys−CTT</text>
<rect x="335.20" y="794.10" width="10.40" height="11.87" fill="#f8f2b0" />
<rect x="345.10" y="794.10" width="10.40" height="11.87" fill="#e5503a" />
<rect x="355.00" y="794.10" width="10.40" height="11.87" fill="#d7ecf5" />
<rect x="364.90" y="794.10" width="10.40" height="11.87" fill="#8cbde0" />
<text x="377.0" y="802.5" font-size="7.92" fill="#111" stroke="#111" stroke-width="0.22">mature−tRNA−Pro−CGG</text>
<rect x="335.20" y="805.47" width="10.40" height="11.87" fill="#f8f4b8" />
<rect x="345.10" y="805.47" width="10.40" height="11.87" fill="#e0412f" />
<rect x="355.00" y="805.47" width="10.40" height="11.87" fill="#ddeff5" />
<rect x="364.90" y="805.47" width="10.40" height="11.87" fill="#8cbde0" />
<text x="377.0" y="813.9" font-size="7.92" fill="#111" stroke="#111" stroke-width="0.22">mature−tRNA−His−GTG</text>
<rect x="335.20" y="816.84" width="10.40" height="11.87" fill="#f8f4b8" />
<rect x="345.10" y="816.84" width="10.40" height="11.87" fill="#e0412f" />
<rect x="355.00" y="816.84" width="10.40" height="11.87" fill="#ddeff5" />
<rect x="364.90" y="816.84" width="10.40" height="11.87" fill="#8cbde0" />
<text x="377.0" y="825.2" font-size="7.92" fill="#111" stroke="#111" stroke-width="0.22">mature−tRNA−Asp−GTC</text>
<rect x="335.20" y="828.21" width="10.40" height="11.87" fill="#f8f4b8" />
<rect x="345.10" y="828.21" width="10.40" height="11.87" fill="#e0412f" />
<rect x="355.00" y="828.21" width="10.40" height="11.87" fill="#ddeff5" />
<rect x="364.90" y="828.21" width="10.40" height="11.87" fill="#8cbde0" />
<text x="377.0" y="836.6" font-size="7.92" fill="#111" stroke="#111" stroke-width="0.22">mature−tRNA−Pro−TGG</text>
<rect x="335.20" y="839.58" width="10.40" height="11.87" fill="#f8f4b8" />
<rect x="345.10" y="839.58" width="10.40" height="11.87" fill="#e0412f" />
<rect x="355.00" y="839.58" width="10.40" height="11.87" fill="#ddeff5" />
<rect x="364.90" y="839.58" width="10.40" height="11.87" fill="#8cbde0" />
<text x="377.0" y="848.0" font-size="7.92" fill="#111" stroke="#111" stroke-width="0.22">mature−tRNA−Val−CAC</text>
<rect x="335.20" y="850.95" width="10.40" height="11.87" fill="#f6f2b6" />
<rect x="345.10" y="850.95" width="10.40" height="11.87" fill="#e0402f" />
<rect x="355.00" y="850.95" width="10.40" height="11.87" fill="#dbeef5" />
<rect x="364.90" y="850.95" width="10.40" height="11.87" fill="#8cbde0" />
<text x="377.0" y="859.3" font-size="7.92" fill="#111" stroke="#111" stroke-width="0.22">mature−tRNA−Glu−TTC</text>
<rect x="335.20" y="862.32" width="10.40" height="11.87" fill="#f5e6a0" />
<rect x="345.10" y="862.32" width="10.40" height="11.87" fill="#e55a3a" />
<rect x="355.00" y="862.32" width="10.40" height="11.87" fill="#a8cfe6" />
<rect x="364.90" y="862.32" width="10.40" height="11.87" fill="#a0c8e4" />
<text x="377.0" y="870.7" font-size="7.92" fill="#111" stroke="#111" stroke-width="0.22">mature−tRNA−Lys−CTT</text>
<rect x="335.20" y="675.30" width="19.80" height="5.10" fill="#3fae4a" />
<rect x="355.00" y="675.30" width="19.80" height="5.10" fill="#e8242a" />
<rect x="335.20" y="675.30" width="39.60" height="5.10" fill="none" stroke="#333" stroke-width="0.6" />
<rect x="335.20" y="680.40" width="39.60" height="193.29" fill="none" stroke="#333" stroke-width="0.7" />
<line x1="355.00" y1="680.40" x2="355.00" y2="873.69" stroke="#555" stroke-width="0.4" />
<text x="0.0" y="0.0" font-size="8.5" fill="#111" stroke="#111" stroke-width="0.22" transform="translate(340.6,674.2) rotate(-45)">shCTRL</text>
<text x="0.0" y="0.0" font-size="8.5" fill="#111" stroke="#111" stroke-width="0.22" transform="translate(365.6,673.6) rotate(-45)">shDDX6</text>
<linearGradient id="gL" x1="0" y1="0" x2="0" y2="1"><stop offset="0" stop-color="#a50f26"/><stop offset="0.12" stop-color="#d73027"/><stop offset="0.28" stop-color="#f46d43"/><stop offset="0.4" stop-color="#fdae61"/><stop offset="0.5" stop-color="#fee090"/><stop offset="0.58" stop-color="#ffffbf"/><stop offset="0.68" stop-color="#e0f3f8"/><stop offset="0.78" stop-color="#abd9e9"/><stop offset="0.88" stop-color="#74add1"/><stop offset="1" stop-color="#313695"/></linearGradient>
<rect x="317.60" y="813.20" width="4.80" height="54.50" fill="url(#gL)" stroke="#555" stroke-width="0.3" />
<text x="323.1" y="820.9" font-size="5.2" fill="#111" stroke="#111" stroke-width="0.22">1</text>
<text x="323.1" y="831.4" font-size="5.2" fill="#111" stroke="#111" stroke-width="0.22">0.5</text>
<text x="323.1" y="841.3" font-size="5.2" fill="#111" stroke="#111" stroke-width="0.22">0</text>
<text x="323.1" y="852.4" font-size="5.2" fill="#111" stroke="#111" stroke-width="0.22">−0.5</text>
<text x="323.1" y="863.0" font-size="5.2" fill="#111" stroke="#111" stroke-width="0.22">−1</text>
<text x="321.8" y="873.3" font-size="5.2" text-anchor="middle" fill="#111" stroke="#111" stroke-width="0.22">z-score</text>
</svg>
</body></html>
